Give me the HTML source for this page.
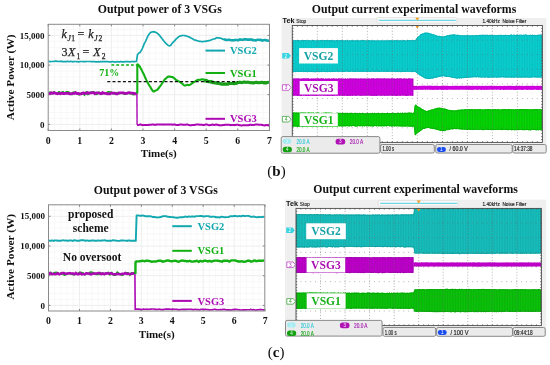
<!DOCTYPE html>
<html><head><meta charset="utf-8"><style>
html,body{margin:0;padding:0;background:#fff;}
svg{display:block;filter:blur(0.3px);}
</style></head><body>
<svg width="550" height="365" viewBox="0 0 550 365">
<rect width="550" height="365" fill="#fff"/>
<line x1="54.5" y1="24.3" x2="54.5" y2="130.5" stroke="#f6f6f6" stroke-width="0.8"/>
<line x1="60.8" y1="24.3" x2="60.8" y2="130.5" stroke="#f6f6f6" stroke-width="0.8"/>
<line x1="67.2" y1="24.3" x2="67.2" y2="130.5" stroke="#f6f6f6" stroke-width="0.8"/>
<line x1="73.5" y1="24.3" x2="73.5" y2="130.5" stroke="#f6f6f6" stroke-width="0.8"/>
<line x1="86.1" y1="24.3" x2="86.1" y2="130.5" stroke="#f6f6f6" stroke-width="0.8"/>
<line x1="92.4" y1="24.3" x2="92.4" y2="130.5" stroke="#f6f6f6" stroke-width="0.8"/>
<line x1="98.8" y1="24.3" x2="98.8" y2="130.5" stroke="#f6f6f6" stroke-width="0.8"/>
<line x1="105.1" y1="24.3" x2="105.1" y2="130.5" stroke="#f6f6f6" stroke-width="0.8"/>
<line x1="117.7" y1="24.3" x2="117.7" y2="130.5" stroke="#f6f6f6" stroke-width="0.8"/>
<line x1="124.0" y1="24.3" x2="124.0" y2="130.5" stroke="#f6f6f6" stroke-width="0.8"/>
<line x1="130.4" y1="24.3" x2="130.4" y2="130.5" stroke="#f6f6f6" stroke-width="0.8"/>
<line x1="136.7" y1="24.3" x2="136.7" y2="130.5" stroke="#f6f6f6" stroke-width="0.8"/>
<line x1="149.3" y1="24.3" x2="149.3" y2="130.5" stroke="#f6f6f6" stroke-width="0.8"/>
<line x1="155.6" y1="24.3" x2="155.6" y2="130.5" stroke="#f6f6f6" stroke-width="0.8"/>
<line x1="162.0" y1="24.3" x2="162.0" y2="130.5" stroke="#f6f6f6" stroke-width="0.8"/>
<line x1="168.3" y1="24.3" x2="168.3" y2="130.5" stroke="#f6f6f6" stroke-width="0.8"/>
<line x1="180.9" y1="24.3" x2="180.9" y2="130.5" stroke="#f6f6f6" stroke-width="0.8"/>
<line x1="187.2" y1="24.3" x2="187.2" y2="130.5" stroke="#f6f6f6" stroke-width="0.8"/>
<line x1="193.6" y1="24.3" x2="193.6" y2="130.5" stroke="#f6f6f6" stroke-width="0.8"/>
<line x1="199.9" y1="24.3" x2="199.9" y2="130.5" stroke="#f6f6f6" stroke-width="0.8"/>
<line x1="212.5" y1="24.3" x2="212.5" y2="130.5" stroke="#f6f6f6" stroke-width="0.8"/>
<line x1="218.8" y1="24.3" x2="218.8" y2="130.5" stroke="#f6f6f6" stroke-width="0.8"/>
<line x1="225.2" y1="24.3" x2="225.2" y2="130.5" stroke="#f6f6f6" stroke-width="0.8"/>
<line x1="231.5" y1="24.3" x2="231.5" y2="130.5" stroke="#f6f6f6" stroke-width="0.8"/>
<line x1="244.1" y1="24.3" x2="244.1" y2="130.5" stroke="#f6f6f6" stroke-width="0.8"/>
<line x1="250.4" y1="24.3" x2="250.4" y2="130.5" stroke="#f6f6f6" stroke-width="0.8"/>
<line x1="256.8" y1="24.3" x2="256.8" y2="130.5" stroke="#f6f6f6" stroke-width="0.8"/>
<line x1="263.1" y1="24.3" x2="263.1" y2="130.5" stroke="#f6f6f6" stroke-width="0.8"/>
<line x1="48.2" y1="130.3" x2="269.5" y2="130.3" stroke="#f6f6f6" stroke-width="0.8"/>
<line x1="48.2" y1="118.5" x2="269.5" y2="118.5" stroke="#f6f6f6" stroke-width="0.8"/>
<line x1="48.2" y1="112.5" x2="269.5" y2="112.5" stroke="#f6f6f6" stroke-width="0.8"/>
<line x1="48.2" y1="106.6" x2="269.5" y2="106.6" stroke="#f6f6f6" stroke-width="0.8"/>
<line x1="48.2" y1="100.7" x2="269.5" y2="100.7" stroke="#f6f6f6" stroke-width="0.8"/>
<line x1="48.2" y1="88.8" x2="269.5" y2="88.8" stroke="#f6f6f6" stroke-width="0.8"/>
<line x1="48.2" y1="82.9" x2="269.5" y2="82.9" stroke="#f6f6f6" stroke-width="0.8"/>
<line x1="48.2" y1="76.9" x2="269.5" y2="76.9" stroke="#f6f6f6" stroke-width="0.8"/>
<line x1="48.2" y1="71.0" x2="269.5" y2="71.0" stroke="#f6f6f6" stroke-width="0.8"/>
<line x1="48.2" y1="59.1" x2="269.5" y2="59.1" stroke="#f6f6f6" stroke-width="0.8"/>
<line x1="48.2" y1="53.2" x2="269.5" y2="53.2" stroke="#f6f6f6" stroke-width="0.8"/>
<line x1="48.2" y1="47.3" x2="269.5" y2="47.3" stroke="#f6f6f6" stroke-width="0.8"/>
<line x1="48.2" y1="41.3" x2="269.5" y2="41.3" stroke="#f6f6f6" stroke-width="0.8"/>
<line x1="48.2" y1="29.5" x2="269.5" y2="29.5" stroke="#f6f6f6" stroke-width="0.8"/>
<line x1="79.8" y1="24.3" x2="79.8" y2="130.5" stroke="#ececec" stroke-width="0.9"/>
<line x1="111.4" y1="24.3" x2="111.4" y2="130.5" stroke="#ececec" stroke-width="0.9"/>
<line x1="143.0" y1="24.3" x2="143.0" y2="130.5" stroke="#ececec" stroke-width="0.9"/>
<line x1="174.6" y1="24.3" x2="174.6" y2="130.5" stroke="#ececec" stroke-width="0.9"/>
<line x1="206.2" y1="24.3" x2="206.2" y2="130.5" stroke="#ececec" stroke-width="0.9"/>
<line x1="237.8" y1="24.3" x2="237.8" y2="130.5" stroke="#ececec" stroke-width="0.9"/>
<line x1="48.2" y1="124.4" x2="269.5" y2="124.4" stroke="#ececec" stroke-width="0.9"/>
<line x1="48.2" y1="94.7" x2="269.5" y2="94.7" stroke="#ececec" stroke-width="0.9"/>
<line x1="48.2" y1="65.1" x2="269.5" y2="65.1" stroke="#ececec" stroke-width="0.9"/>
<line x1="48.2" y1="35.4" x2="269.5" y2="35.4" stroke="#ececec" stroke-width="0.9"/>
<line x1="48.2" y1="130.5" x2="48.2" y2="128.5" stroke="#777" stroke-width="0.9"/>
<line x1="48.2" y1="24.3" x2="48.2" y2="26.3" stroke="#777" stroke-width="0.9"/>
<line x1="79.8" y1="130.5" x2="79.8" y2="128.5" stroke="#777" stroke-width="0.9"/>
<line x1="79.8" y1="24.3" x2="79.8" y2="26.3" stroke="#777" stroke-width="0.9"/>
<line x1="111.4" y1="130.5" x2="111.4" y2="128.5" stroke="#777" stroke-width="0.9"/>
<line x1="111.4" y1="24.3" x2="111.4" y2="26.3" stroke="#777" stroke-width="0.9"/>
<line x1="143.0" y1="130.5" x2="143.0" y2="128.5" stroke="#777" stroke-width="0.9"/>
<line x1="143.0" y1="24.3" x2="143.0" y2="26.3" stroke="#777" stroke-width="0.9"/>
<line x1="174.6" y1="130.5" x2="174.6" y2="128.5" stroke="#777" stroke-width="0.9"/>
<line x1="174.6" y1="24.3" x2="174.6" y2="26.3" stroke="#777" stroke-width="0.9"/>
<line x1="206.2" y1="130.5" x2="206.2" y2="128.5" stroke="#777" stroke-width="0.9"/>
<line x1="206.2" y1="24.3" x2="206.2" y2="26.3" stroke="#777" stroke-width="0.9"/>
<line x1="237.8" y1="130.5" x2="237.8" y2="128.5" stroke="#777" stroke-width="0.9"/>
<line x1="237.8" y1="24.3" x2="237.8" y2="26.3" stroke="#777" stroke-width="0.9"/>
<line x1="269.4" y1="130.5" x2="269.4" y2="128.5" stroke="#777" stroke-width="0.9"/>
<line x1="269.4" y1="24.3" x2="269.4" y2="26.3" stroke="#777" stroke-width="0.9"/>
<line x1="48.2" y1="124.4" x2="50.2" y2="124.4" stroke="#777" stroke-width="0.9"/>
<line x1="269.5" y1="124.4" x2="267.5" y2="124.4" stroke="#777" stroke-width="0.9"/>
<line x1="48.2" y1="94.7" x2="50.2" y2="94.7" stroke="#777" stroke-width="0.9"/>
<line x1="269.5" y1="94.7" x2="267.5" y2="94.7" stroke="#777" stroke-width="0.9"/>
<line x1="48.2" y1="65.1" x2="50.2" y2="65.1" stroke="#777" stroke-width="0.9"/>
<line x1="269.5" y1="65.1" x2="267.5" y2="65.1" stroke="#777" stroke-width="0.9"/>
<line x1="48.2" y1="35.4" x2="50.2" y2="35.4" stroke="#777" stroke-width="0.9"/>
<line x1="269.5" y1="35.4" x2="267.5" y2="35.4" stroke="#777" stroke-width="0.9"/>

<path d="M48.5,92.7L49.0,92.5L49.5,92.4L50.0,92.2L50.5,92.3L51.0,92.8L51.5,93.2L52.0,93.7L52.5,93.4L53.0,92.8L53.5,92.3L54.0,91.9L54.5,92.4L55.0,92.8L55.5,93.2L56.0,93.3L56.5,93.2L57.0,93.0L57.5,92.8L58.0,92.6L58.5,92.3L59.0,92.0L59.5,92.0L60.0,92.4L60.5,92.8L61.0,93.2L61.5,93.0L62.0,92.5L62.5,92.1L63.0,91.8L63.5,92.2L64.0,92.6L64.5,92.9L65.0,92.9L65.5,92.5L66.0,92.2L66.5,91.8L67.0,91.9L67.5,91.9L68.0,91.9L68.5,92.0L69.0,92.3L69.5,92.7L70.0,93.0L70.5,93.3L71.0,93.7L71.5,94.1L72.0,94.3L72.5,93.6L73.0,93.0L73.5,92.3L74.0,92.1L74.5,92.2L75.0,92.3L75.5,92.4L76.0,92.7L76.5,93.1L77.0,93.5L77.5,93.9L78.0,94.2L78.5,94.5L79.0,94.8L79.5,94.5L80.0,94.2L80.5,93.8L81.0,93.5L81.5,93.4L82.0,93.2L82.5,93.0L83.0,93.3L83.5,93.8L84.0,94.4L84.5,94.9L85.0,94.0L85.5,93.2L86.0,92.3L86.5,92.1L87.0,92.8L87.5,93.6L88.0,94.4L88.5,94.1L89.0,93.6L89.5,93.0L90.0,92.6L90.5,92.4L91.0,92.3L91.5,92.1L92.0,92.1L92.5,92.1L93.0,92.0L93.5,92.0L94.0,92.2L94.5,92.4L95.0,92.5L95.5,92.8L96.0,93.3L96.5,93.8L97.0,94.3L97.5,93.9L98.0,93.3L98.5,92.7L99.0,92.3L99.5,92.7L100.0,93.0L100.5,93.4L101.0,93.6L101.5,93.7L102.0,93.7L102.5,93.8L103.0,93.5L103.5,93.3L104.0,93.0L104.5,92.9L105.0,93.1L105.5,93.3L106.0,93.4L106.5,93.1L107.0,92.6L107.5,92.2L108.0,91.8L108.5,91.8L109.0,91.8L109.5,91.8L110.0,91.9L110.5,92.0L111.0,92.2L111.5,92.3L112.0,92.7L112.5,93.2L113.0,93.6L113.5,93.8L114.0,93.6L114.5,93.3L115.0,93.1L115.5,93.0L116.0,92.9L116.5,92.8L117.0,92.7L117.5,93.0L118.0,93.2L118.5,93.5L119.0,93.5L119.5,93.4L120.0,93.3L120.5,93.1L121.0,93.0L121.5,92.9L122.0,92.7L122.5,92.8L123.0,93.3L123.5,93.7L124.0,94.2L124.5,94.2L125.0,94.1L125.5,94.0L126.0,93.9L126.5,93.5L127.0,93.0L127.5,92.6L128.0,92.6L128.5,92.9L129.0,93.2L129.5,93.6L130.0,93.5L130.5,93.5L131.0,93.4L131.5,93.5L132.0,93.8L132.5,94.2L133.0,94.5L133.5,94.5L134.0,94.3L134.5,94.2L135.0,94.0L135.5,93.6L136.0,93.2L136.5,92.7L137.0,93.0" fill="none" stroke="#12b012" stroke-width="1.8"/>
<path d="M48.5,93.2L49.0,93.3L49.5,93.5L50.0,93.7L50.5,93.4L51.0,93.1L51.5,92.8L52.0,93.0L52.5,93.1L53.0,93.3L53.5,93.1L54.0,92.9L54.5,92.7L55.0,92.9L55.5,93.2L56.0,93.5L56.5,93.6L57.0,93.6L57.5,93.7L58.0,93.6L58.5,93.5L59.0,93.4L59.5,93.5L60.0,93.7L60.5,93.8L61.0,93.6L61.5,93.3L62.0,93.0L62.5,93.2L63.0,93.4L63.5,93.6L64.0,93.5L64.5,93.5L65.0,93.4L65.5,93.4L66.0,93.4L66.5,93.4L67.0,93.4L67.5,93.3L68.0,93.2L68.5,93.4L69.0,93.6L69.5,93.8L70.0,93.8L70.5,93.9L71.0,93.9L71.5,93.7L72.0,93.5L72.5,93.3L73.0,93.4L73.5,93.4L74.0,93.5L74.5,93.2L75.0,93.0L75.5,92.7L76.0,93.0L76.5,93.3L77.0,93.6L77.5,93.6L78.0,93.5L78.5,93.5L79.0,93.7L79.5,93.8L80.0,94.0L80.5,93.9L81.0,93.8L81.5,93.8L82.0,93.5L82.5,93.2L83.0,93.0L83.5,93.0L84.0,93.1L84.5,93.1L85.0,93.3L85.5,93.4L86.0,93.5L86.5,93.2L87.0,92.9L87.5,92.6L88.0,92.8L88.5,93.0L89.0,93.2L89.5,93.1L90.0,93.0L90.5,92.8L91.0,92.8L91.5,92.8L92.0,92.8L92.5,92.7L93.0,92.7L93.5,92.7L94.0,93.0L94.5,93.3L95.0,93.7L95.5,93.4L96.0,93.1L96.5,92.8L97.0,92.8L97.5,92.9L98.0,92.9L98.5,93.0L99.0,93.1L99.5,93.1L100.0,93.4L100.5,93.6L101.0,93.8L101.5,93.5L102.0,93.1L102.5,92.7L103.0,92.9L103.5,93.1L104.0,93.2L104.5,93.3L105.0,93.3L105.5,93.4L106.0,93.5L106.5,93.7L107.0,93.8L107.5,93.8L108.0,93.8L108.5,93.7L109.0,93.8L109.5,93.8L110.0,93.8L110.5,93.5L111.0,93.3L111.5,93.0L112.0,93.1L112.5,93.1L113.0,93.2L113.5,93.2L114.0,93.1L114.5,93.1L115.0,93.3L115.5,93.6L116.0,93.8L116.5,93.9L117.0,93.9L117.5,93.9L118.0,93.6L118.5,93.2L119.0,92.8L119.5,92.8L120.0,92.8L120.5,92.8L121.0,92.9L121.5,92.9L122.0,92.9L122.5,92.9L123.0,92.9L123.5,92.9L124.0,93.0L124.5,93.2L125.0,93.3L125.5,93.3L126.0,93.4L126.5,93.4L127.0,93.3L127.5,93.1L128.0,93.0L128.5,92.8L129.0,92.7L129.5,92.6L130.0,92.8L130.5,93.0L131.0,93.2L131.5,93.2L132.0,93.1L132.5,93.1L133.0,93.2L133.5,93.3L134.0,93.4L134.5,93.6L135.0,93.8L135.5,93.9L136.0,93.8L136.5,93.7" fill="none" stroke="#ac08b4" stroke-width="2.8"/>
<path d="M136.9,93 L137.1,124.8" fill="none" stroke="#ac08b4" stroke-width="1.4"/>
<path d="M137.0,124.9L137.5,124.9L138.0,124.9L138.5,125.0L139.0,124.9L139.5,124.7L140.0,124.6L140.5,124.4L141.0,124.6L141.5,124.8L142.0,125.0L142.5,125.2L143.0,125.1L143.5,125.1L144.0,125.1L144.5,125.1L145.0,125.1L145.5,125.1L146.0,125.1L146.5,125.1L147.0,125.1L147.5,125.1L148.0,125.0L148.5,124.9L149.0,124.8L149.5,124.7L150.0,124.7L150.5,124.7L151.0,124.7L151.5,124.7L152.0,124.6L152.5,124.6L153.0,124.5L153.5,124.5L154.0,124.7L154.5,124.8L155.0,124.9L155.5,124.8L156.0,124.7L156.5,124.5L157.0,124.4L157.5,124.4L158.0,124.4L158.5,124.4L159.0,124.5L159.5,124.5L160.0,124.5L160.5,124.6L161.0,124.6L161.5,124.5L162.0,124.5L162.5,124.6L163.0,124.6L163.5,124.6L164.0,124.7L164.5,124.6L165.0,124.5L165.5,124.5L166.0,124.4L166.5,124.4L167.0,124.4L167.5,124.4L168.0,124.4L168.5,124.5L169.0,124.5L169.5,124.5L170.0,124.5L170.5,124.5L171.0,124.5L171.5,124.5L172.0,124.6L172.5,124.7L173.0,124.7L173.5,124.6L174.0,124.6L174.5,124.5L175.0,124.5L175.5,124.7L176.0,124.9L176.5,125.1L177.0,125.1L177.5,125.1L178.0,125.0L178.5,124.9L179.0,124.8L179.5,124.7L180.0,124.6L180.5,124.6L181.0,124.6L181.5,124.6L182.0,124.6L182.5,124.7L183.0,124.7L183.5,124.7L184.0,124.7L184.5,124.7L185.0,124.7L185.5,124.7L186.0,124.7L186.5,124.6L187.0,124.6L187.5,124.6L188.0,124.7L188.5,124.9L189.0,125.1L189.5,125.2L190.0,125.2L190.5,125.3L191.0,125.3L191.5,125.2L192.0,125.1L192.5,124.9L193.0,124.9L193.5,124.9L194.0,124.9L194.5,124.9L195.0,124.8L195.5,124.7L196.0,124.6L196.5,124.5L197.0,124.5L197.5,124.5L198.0,124.5L198.5,124.6L199.0,124.6L199.5,124.7L200.0,124.8L200.5,124.7L201.0,124.7L201.5,124.7L202.0,124.7L202.5,124.9L203.0,125.0L203.5,125.2L204.0,125.1L204.5,124.9L205.0,124.7L205.5,124.6L206.0,124.6L206.5,124.5L207.0,124.5L207.5,124.6L208.0,124.9L208.5,125.1L209.0,125.3L209.5,125.2L210.0,125.1L210.5,125.0L211.0,124.9L211.5,124.8L212.0,124.7L212.5,124.6L213.0,124.7L213.5,124.8L214.0,124.9L214.5,124.9L215.0,124.8L215.5,124.7L216.0,124.5L216.5,124.6L217.0,124.7L217.5,124.8L218.0,125.0L218.5,125.1L219.0,125.2L219.5,125.3L220.0,125.4L220.5,125.3L221.0,125.3L221.5,125.3L222.0,125.2L222.5,125.2L223.0,125.1L223.5,125.1L224.0,125.0L224.5,124.9L225.0,124.8L225.5,124.7L226.0,124.8L226.5,124.8L227.0,124.8L227.5,124.8L228.0,124.7L228.5,124.7L229.0,124.7L229.5,124.9L230.0,125.0L230.5,125.2L231.0,125.1L231.5,125.1L232.0,125.0L232.5,125.0L233.0,125.1L233.5,125.1L234.0,125.2L234.5,125.1L235.0,125.0L235.5,124.9L236.0,124.8L236.5,124.8L237.0,124.8L237.5,124.7L238.0,124.8L238.5,124.9L239.0,125.1L239.5,125.2L240.0,125.3L240.5,125.3L241.0,125.4L241.5,125.4L242.0,125.4L242.5,125.3L243.0,125.3L243.5,125.3L244.0,125.3L244.5,125.3L245.0,125.2L245.5,125.3L246.0,125.3L246.5,125.3L247.0,125.3L247.5,125.2L248.0,125.2L248.5,125.2L249.0,125.1L249.5,125.0L250.0,124.8L250.5,124.7L251.0,124.8L251.5,124.9L252.0,125.0L252.5,125.0L253.0,124.9L253.5,124.9L254.0,124.9L254.5,124.8L255.0,124.7L255.5,124.6L256.0,124.6L256.5,124.6L257.0,124.6L257.5,124.6L258.0,124.6L258.5,124.7L259.0,124.7L259.5,124.8L260.0,124.8L260.5,124.8L261.0,124.8L261.5,124.8L262.0,125.0L262.5,125.1L263.0,125.2L263.5,125.2L264.0,125.3L264.5,125.4L265.0,125.4L265.5,125.2L266.0,125.1L266.5,125.0L267.0,125.0L267.5,125.2L268.0,125.3L268.5,125.4L269.0,125.4" fill="none" stroke="#ac08b4" stroke-width="2.0"/>
<line x1="111.4" y1="64.9" x2="137.2" y2="64.9" stroke="#12b012" stroke-width="1.5" stroke-dasharray="2.8,2.1"/>
<path d="M137.3,93.5 L137.3,64.6 L137.4,64.5L137.9,64.6L138.4,64.8L138.9,65.5L139.4,66.2L139.9,66.9L140.4,67.8L140.9,68.7L141.4,69.6L141.9,70.6L142.4,71.6L142.9,72.6L143.4,73.5L143.9,74.5L144.4,75.7L144.9,76.8L145.4,78.0L145.9,79.0L146.4,80.1L146.9,81.1L147.4,82.1L147.9,83.0L148.4,84.0L148.9,84.8L149.4,85.6L149.9,86.3L150.4,87.0L150.9,88.0L151.4,88.9L151.9,89.7L152.4,90.5L152.9,91.1L153.4,91.5L153.9,91.5L154.4,91.3L154.9,90.9L155.4,90.6L155.9,90.4L156.4,90.2L156.9,90.0L157.4,89.6L157.9,89.1L158.4,88.5L158.9,87.8L159.4,87.2L159.9,86.5L160.4,85.9L160.9,85.2L161.4,84.5L161.9,83.7L162.4,82.9L162.9,82.2L163.4,81.5L163.9,80.7L164.4,79.9L164.9,79.3L165.4,78.9L165.9,78.5L166.4,78.1L166.9,77.6L167.4,77.1L167.9,76.7L168.4,76.6L168.9,76.6L169.4,76.6L169.9,76.6L170.4,76.8L170.9,76.9L171.4,77.0L171.9,77.0L172.4,77.1L172.9,77.3L173.4,77.6L173.9,78.0L174.4,78.4L174.9,78.9L175.4,79.3L175.9,79.8L176.4,80.1L176.9,80.4L177.4,80.7L177.9,81.0L178.4,81.2L178.9,81.4L179.4,81.7L179.9,82.0L180.4,82.4L180.9,82.6L181.4,83.0L181.9,83.4L182.4,83.8L182.9,84.3L183.4,84.8L183.9,85.2L184.4,85.4L184.9,85.5L185.4,85.5L185.9,85.3L186.4,85.1L186.9,84.9L187.4,84.9L187.9,85.0L188.4,85.1L188.9,85.1L189.4,84.9L189.9,84.8L190.4,84.6L190.9,84.2L191.4,83.9L191.9,83.5L192.4,83.1L192.9,82.7L193.4,82.3L193.9,82.0L194.4,81.8L194.9,81.6L195.4,81.3L195.9,80.9L196.4,80.6L196.9,80.3L197.4,80.1L197.9,79.8L198.4,79.7L198.9,79.8L199.4,80.0L199.9,80.0L200.4,79.8L200.9,79.6L201.4,79.5L201.9,79.4L202.4,79.4L202.9,79.3L203.4,79.5L203.9,79.7L204.4,79.9L204.9,79.9L205.4,79.9L205.9,79.9L206.4,79.9L206.9,80.2L207.4,80.5L207.9,80.7L208.4,80.8L208.9,80.9L209.4,81.1L209.9,81.0L210.4,81.0L210.9,80.9L211.4,81.1L211.9,81.3L212.4,81.5L212.9,81.7L213.4,81.9L213.9,82.0L214.4,82.2L214.9,82.4L215.4,82.5L215.9,82.6L216.4,82.8L216.9,83.1L217.4,83.3L217.9,83.3L218.4,83.2L218.9,83.2L219.4,83.3L219.9,83.4L220.4,83.5L220.9,83.5L221.4,83.5L221.9,83.4L222.4,83.5L222.9,83.8L223.4,84.0L223.9,84.2L224.4,84.0L224.9,83.8L225.4,83.6L225.9,83.6L226.4,83.6L226.9,83.5L227.4,83.5L227.9,83.5L228.4,83.5L228.9,83.4L229.4,83.5L229.9,83.5L230.4,83.4L230.9,83.2L231.4,83.0L231.9,82.8L232.4,82.9L232.9,83.0L233.4,83.1L233.9,83.0L234.4,82.8L234.9,82.6L235.4,82.5L235.9,82.5L236.4,82.4L236.9,82.4L237.4,82.3L237.9,82.3L238.4,82.2L238.9,82.0L239.4,81.8L239.9,81.7L240.4,81.9L240.9,82.0L241.4,82.1L241.9,82.0L242.4,82.0L242.9,81.9L243.4,81.8L243.9,81.8L244.4,81.7L244.9,81.9L245.4,82.1L245.9,82.4L246.4,82.5L246.9,82.3L247.4,82.1L247.9,82.0L248.4,82.1L248.9,82.2L249.4,82.3L249.9,82.4L250.4,82.4L250.9,82.5L251.4,82.5L251.9,82.4L252.4,82.4L252.9,82.3L253.4,82.3L253.9,82.2L254.4,82.2L254.9,82.2L255.4,82.3L255.9,82.3L256.4,82.3L256.9,82.4L257.4,82.4L257.9,82.4L258.4,82.5L258.9,82.6L259.4,82.4L259.9,82.2L260.4,82.0L260.9,82.0L261.4,82.1L261.9,82.3L262.4,82.3L262.9,82.2L263.4,82.1L263.9,82.0L264.4,82.0L264.9,82.0L265.4,82.0L265.9,82.2L266.4,82.3L266.9,82.5L267.4,82.4L267.9,82.3L268.4,82.3L268.9,82.2" fill="none" stroke="#12b012" stroke-width="2.1"/>
<path d="M204.0,81.1L204.5,81.1L205.0,81.1L205.5,81.0L206.0,81.0L206.5,81.2L207.0,81.3L207.5,81.5L208.0,81.6L208.5,81.7L209.0,81.8L209.5,81.9L210.0,82.0L210.5,82.1L211.0,82.2L211.5,82.3L212.0,82.4L212.5,82.5L213.0,82.7L213.5,82.8L214.0,82.9L214.5,83.0L215.0,83.0L215.5,83.0L216.0,83.1L216.5,83.2L217.0,83.3L217.5,83.4L218.0,83.5L218.5,83.6L219.0,83.6L219.5,83.7L220.0,83.7L220.5,83.9L221.0,84.0L221.5,84.2L222.0,84.3L222.5,84.3L223.0,84.3L223.5,84.2L224.0,84.1L224.5,84.2L225.0,84.2L225.5,84.2L226.0,84.2L226.5,84.2L227.0,84.2L227.5,84.2L228.0,84.2L228.5,83.9L229.0,83.7L229.5,83.5L230.0,83.3L230.5,83.3L231.0,83.4L231.5,83.4L232.0,83.5L232.5,83.5L233.0,83.6L233.5,83.7L234.0,83.7L234.5,83.7L235.0,83.6L235.5,83.6L236.0,83.5L236.5,83.3L237.0,83.1L237.5,82.9L238.0,82.6L238.5,82.6L239.0,82.6L239.5,82.5L240.0,82.5L240.5,82.5L241.0,82.6L241.5,82.6L242.0,82.7L242.5,82.6L243.0,82.4L243.5,82.3L244.0,82.2L244.5,82.2L245.0,82.3L245.5,82.3L246.0,82.3L246.5,82.3L247.0,82.2L247.5,82.2L248.0,82.1L248.5,82.3L249.0,82.4L249.5,82.6L250.0,82.7L250.5,82.7L251.0,82.8L251.5,82.8L252.0,82.8L252.5,82.9L253.0,82.9L253.5,82.9L254.0,82.9L254.5,82.8L255.0,82.6L255.5,82.4L256.0,82.2L256.5,82.3L257.0,82.5L257.5,82.6L258.0,82.8L258.5,82.8L259.0,82.7L259.5,82.7L260.0,82.7L260.5,82.6L261.0,82.5L261.5,82.3L262.0,82.2L262.5,82.4L263.0,82.6L263.5,82.8L264.0,83.0L264.5,83.0L265.0,83.0L265.5,83.0L266.0,83.1L266.5,82.9L267.0,82.7L267.5,82.5L268.0,82.3L268.5,82.5L269.0,82.7" fill="none" stroke="#1a9e1a" stroke-width="3.0"/>
<line x1="107.3" y1="81.6" x2="238" y2="81.6" stroke="#111" stroke-width="1.4" stroke-dasharray="3,2.2"/>
<path d="M224.0,39.1L224.5,39.4L225.0,39.7L225.5,39.9L226.0,40.0L226.5,40.1L227.0,40.1L227.5,40.0L228.0,39.8L228.5,39.7L229.0,39.6L229.5,39.8L230.0,40.0L230.5,40.1L231.0,40.2L231.5,40.3L232.0,40.3L232.5,40.3L233.0,40.2L233.5,40.1L234.0,40.1L234.5,40.0L235.0,39.9L235.5,39.9L236.0,39.9L236.5,39.9L237.0,39.9L237.5,40.1L238.0,40.2L238.5,40.2L239.0,39.9L239.5,39.6L240.0,39.3L240.5,39.4L241.0,39.6L241.5,39.8L242.0,39.7L242.5,39.7L243.0,39.6L243.5,39.5L244.0,39.3L244.5,39.1L245.0,39.1L245.5,39.2L246.0,39.3L246.5,39.4L247.0,39.6L247.5,39.7L248.0,39.8L248.5,39.8L249.0,39.8L249.5,39.7L250.0,39.6L250.5,39.5L251.0,39.3L251.5,39.5L252.0,39.9L252.5,40.2L253.0,40.4L253.5,40.4L254.0,40.4L254.5,40.3L255.0,40.4L255.5,40.5L256.0,40.6L256.5,40.3L257.0,40.0L257.5,39.7L258.0,39.7L258.5,39.8L259.0,39.9L259.5,39.9L260.0,39.8L260.5,39.7L261.0,39.8L261.5,40.1L262.0,40.4L262.5,40.6L263.0,40.4L263.5,40.3L264.0,40.1L264.5,40.0L265.0,40.0L265.5,40.0L266.0,40.1L266.5,40.2L267.0,40.3L267.5,40.5L268.0,40.7L268.5,40.9L269.0,41.0" fill="none" stroke="#12a8b0" stroke-width="2.4"/>
<path d="M48.5,61.2L49.0,61.3L49.5,61.5L50.0,61.6L50.5,61.6L51.0,61.5L51.5,61.5L52.0,61.5L52.5,61.5L53.0,61.5L53.5,61.5L54.0,61.4L54.5,61.3L55.0,61.2L55.5,61.2L56.0,61.2L56.5,61.2L57.0,61.3L57.5,61.4L58.0,61.5L58.5,61.5L59.0,61.5L59.5,61.4L60.0,61.4L60.5,61.3L61.0,61.2L61.5,61.3L62.0,61.4L62.5,61.6L63.0,61.7L63.5,61.7L64.0,61.6L64.5,61.6L65.0,61.6L65.5,61.6L66.0,61.7L66.5,61.6L67.0,61.4L67.5,61.3L68.0,61.4L68.5,61.5L69.0,61.7L69.5,61.7L70.0,61.5L70.5,61.4L71.0,61.3L71.5,61.5L72.0,61.6L72.5,61.8L73.0,61.7L73.5,61.6L74.0,61.6L74.5,61.5L75.0,61.5L75.5,61.5L76.0,61.5L76.5,61.6L77.0,61.6L77.5,61.7L78.0,61.8L78.5,61.8L79.0,61.9L79.5,61.8L80.0,61.6L80.5,61.5L81.0,61.5L81.5,61.5L82.0,61.5L82.5,61.5L83.0,61.6L83.5,61.7L84.0,61.7L84.5,61.6L85.0,61.6L85.5,61.6L86.0,61.5L86.5,61.5L87.0,61.5L87.5,61.5L88.0,61.5L88.5,61.5L89.0,61.5L89.5,61.5L90.0,61.5L90.5,61.5L91.0,61.6L91.5,61.6L92.0,61.6L92.5,61.6L93.0,61.7L93.5,61.7L94.0,61.7L94.5,61.7L95.0,61.7L95.5,61.8L96.0,61.9L96.5,62.0L97.0,61.9L97.5,61.8L98.0,61.7L98.5,61.7L99.0,61.8L99.5,61.8L100.0,61.8L100.5,61.7L101.0,61.7L101.5,61.7L102.0,61.7L102.5,61.7L103.0,61.7L103.5,61.7L104.0,61.6L104.5,61.6L105.0,61.6L105.5,61.7L106.0,61.7L106.5,61.7L107.0,61.6L107.5,61.6L108.0,61.6L108.5,61.8L109.0,61.9L109.5,62.0L110.0,61.9L110.5,61.9L111.0,61.9L111.5,61.8L112.0,61.7L112.5,61.7L113.0,61.7L113.5,61.8L114.0,61.8L114.5,61.9L115.0,62.0L115.5,62.1L116.0,62.0L116.5,61.8L117.0,61.7L117.5,61.6L118.0,61.8L118.5,61.9L119.0,62.0L119.5,61.9L120.0,61.8L120.5,61.7L121.0,61.7L121.5,61.7L122.0,61.8L122.5,61.8L123.0,61.9L123.5,61.9L124.0,61.9L124.5,61.8L125.0,61.7L125.5,61.6L126.0,61.7L126.5,61.7L127.0,61.7L127.5,61.7L128.0,61.7L128.5,61.7L129.0,61.8L129.5,61.8L130.0,61.9L130.5,61.8L131.0,61.6L131.5,61.5L132.0,61.5L132.5,61.6L133.0,61.7L133.5,61.7L134.0,61.7L134.5,61.6L135.0,61.6L135.5,61.5L136.0,61.5L136.5,61.5L137.0,57.9L137.5,54.7L138.0,54.0L138.5,53.5L139.0,53.0L139.5,52.7L140.0,52.5L140.5,51.9L141.0,50.8L141.5,50.0L142.0,49.1L142.5,48.0L143.0,46.8L143.5,45.6L144.0,44.4L144.5,43.2L145.0,42.3L145.5,41.3L146.0,40.3L146.5,39.2L147.0,38.0L147.5,36.9L148.0,35.9L148.5,35.1L149.0,34.3L149.5,33.7L150.0,33.1L150.5,32.6L151.0,32.3L151.5,32.1L152.0,32.0L152.5,31.9L153.0,31.8L153.5,31.7L154.0,31.8L154.5,31.9L155.0,32.1L155.5,32.3L156.0,32.5L156.5,32.8L157.0,33.1L157.5,33.4L158.0,33.8L158.5,34.3L159.0,34.8L159.5,35.4L160.0,36.0L160.5,36.6L161.0,37.2L161.5,37.9L162.0,38.6L162.5,39.2L163.0,39.9L163.5,40.5L164.0,41.2L164.5,41.8L165.0,42.4L165.5,42.9L166.0,43.4L166.5,43.8L167.0,44.3L167.5,44.8L168.0,45.2L168.5,45.6L169.0,45.8L169.5,45.9L170.0,45.8L170.5,45.4L171.0,44.9L171.5,44.2L172.0,43.6L172.5,42.9L173.0,42.4L173.5,41.8L174.0,41.4L174.5,40.9L175.0,40.4L175.5,39.7L176.0,39.1L176.5,38.6L177.0,38.2L177.5,37.8L178.0,37.4L178.5,37.0L179.0,36.6L179.5,36.2L180.0,36.0L180.5,35.9L181.0,35.8L181.5,35.7L182.0,35.6L182.5,35.5L183.0,35.5L183.5,35.5L184.0,35.5L184.5,35.6L185.0,35.6L185.5,35.7L186.0,35.8L186.5,36.0L187.0,36.2L187.5,36.5L188.0,36.6L188.5,36.8L189.0,36.9L189.5,37.1L190.0,37.5L190.5,37.8L191.0,38.1L191.5,38.3L192.0,38.5L192.5,38.8L193.0,39.1L193.5,39.4L194.0,39.8L194.5,40.0L195.0,40.1L195.5,40.2L196.0,40.3L196.5,40.5L197.0,40.6L197.5,40.8L198.0,41.0L198.5,41.1L199.0,41.3L199.5,41.4L200.0,41.4L200.5,41.4L201.0,41.5L201.5,41.6L202.0,41.6L202.5,41.6L203.0,41.6L203.5,41.5L204.0,41.4L204.5,41.4L205.0,41.4L205.5,41.3L206.0,41.2L206.5,41.1L207.0,41.0L207.5,40.9L208.0,40.8L208.5,40.7L209.0,40.6L209.5,40.5L210.0,40.4L210.5,40.2L211.0,40.0L211.5,39.7L212.0,39.5L212.5,39.4L213.0,39.2L213.5,39.0L214.0,39.0L214.5,38.9L215.0,38.7L215.5,38.4L216.0,38.1L216.5,37.8L217.0,37.7L217.5,37.8L218.0,37.8L218.5,37.8L219.0,37.9L219.5,38.0L220.0,38.1L220.5,38.2L221.0,38.3L221.5,38.5L222.0,38.8L222.5,39.1L223.0,39.2L223.5,39.3L224.0,39.4L224.5,39.5L225.0,39.6L225.5,39.6L226.0,39.6L226.5,39.7L227.0,39.8L227.5,40.0L228.0,40.0L228.5,40.1L229.0,40.2L229.5,40.2L230.0,40.2L230.5,40.1L231.0,40.1L231.5,40.2L232.0,40.2L232.5,40.3L233.0,40.3L233.5,40.3L234.0,40.3L234.5,40.3L235.0,40.4L235.5,40.4L236.0,40.4L236.5,40.3L237.0,40.3L237.5,40.2L238.0,40.2L238.5,40.2L239.0,40.1L239.5,40.0L240.0,39.9L240.5,39.9L241.0,39.9L241.5,39.9L242.0,39.9L242.5,39.9L243.0,39.8L243.5,39.7L244.0,39.7L244.5,39.7L245.0,39.7L245.5,39.7L246.0,39.6L246.5,39.5L247.0,39.5L247.5,39.4L248.0,39.4L248.5,39.4L249.0,39.4L249.5,39.5L250.0,39.5L250.5,39.6L251.0,39.6L251.5,39.7L252.0,39.7L252.5,39.7L253.0,39.7L253.5,39.7L254.0,39.9L254.5,40.1L255.0,40.2L255.5,40.2L256.0,40.1L256.5,40.1L257.0,40.1L257.5,40.2L258.0,40.2L258.5,40.2L259.0,40.2L259.5,40.3L260.0,40.3L260.5,40.3L261.0,40.3L261.5,40.4L262.0,40.3L262.5,40.3L263.0,40.3L263.5,40.2L264.0,40.1L264.5,40.1L265.0,40.2L265.5,40.4L266.0,40.6L266.5,40.6L267.0,40.6L267.5,40.6L268.0,40.6L268.5,40.6L269.0,40.5" fill="none" stroke="#12a8b0" stroke-width="1.7"/>
<rect x="48.2" y="24.3" width="221.3" height="106.2" fill="none" stroke="#8a8a8a" stroke-width="1"/>
<line x1="205.5" y1="50.6" x2="225" y2="50.6" stroke="#12a8b0" stroke-width="2"/>
<text x="230" y="54.2" font-family="Liberation Serif, serif" font-weight="bold" font-size="10.5" fill="#12a8b0">VSG2</text>
<line x1="205.5" y1="73" x2="225" y2="73" stroke="#12b012" stroke-width="2"/>
<text x="230" y="76.6" font-family="Liberation Serif, serif" font-weight="bold" font-size="10.5" fill="#12b012">VSG1</text>
<line x1="205.5" y1="118.8" x2="225" y2="118.8" stroke="#ac08b4" stroke-width="2"/>
<text x="230" y="122.4" font-family="Liberation Serif, serif" font-weight="bold" font-size="10.5" fill="#ac08b4">VSG3</text>
<text x="48.2" y="143.8" font-family="Liberation Serif, serif" font-weight="bold" font-size="9.8" text-anchor="middle" fill="#111">0</text>
<text x="79.8" y="143.8" font-family="Liberation Serif, serif" font-weight="bold" font-size="9.8" text-anchor="middle" fill="#111">1</text>
<text x="111.4" y="143.8" font-family="Liberation Serif, serif" font-weight="bold" font-size="9.8" text-anchor="middle" fill="#111">2</text>
<text x="143.0" y="143.8" font-family="Liberation Serif, serif" font-weight="bold" font-size="9.8" text-anchor="middle" fill="#111">3</text>
<text x="174.6" y="143.8" font-family="Liberation Serif, serif" font-weight="bold" font-size="9.8" text-anchor="middle" fill="#111">4</text>
<text x="206.2" y="143.8" font-family="Liberation Serif, serif" font-weight="bold" font-size="9.8" text-anchor="middle" fill="#111">5</text>
<text x="237.8" y="143.8" font-family="Liberation Serif, serif" font-weight="bold" font-size="9.8" text-anchor="middle" fill="#111">6</text>
<text x="269.4" y="143.8" font-family="Liberation Serif, serif" font-weight="bold" font-size="9.8" text-anchor="middle" fill="#111">7</text>
<text x="44.6" y="127.5" font-family="Liberation Serif, serif" font-weight="bold" font-size="9" text-anchor="end" fill="#111">0</text>
<text x="44.6" y="97.8" font-family="Liberation Serif, serif" font-weight="bold" font-size="9" text-anchor="end" fill="#111">5000</text>
<text x="44.6" y="68.2" font-family="Liberation Serif, serif" font-weight="bold" font-size="9" text-anchor="end" fill="#111">10,000</text>
<text x="44.6" y="38.5" font-family="Liberation Serif, serif" font-weight="bold" font-size="9" text-anchor="end" fill="#111">15,000</text>
<text x="158.8" y="157.3" font-family="Liberation Serif, serif" font-weight="bold" font-size="11" text-anchor="middle" fill="#111">Time(s)</text>
<text transform="translate(14.4,77.4) rotate(-90) scale(1,0.9)" font-family="Liberation Serif, serif" font-weight="bold" font-size="11.3" text-anchor="middle" fill="#111">Active Power (W)</text>
<text x="159.8" y="12.8" font-family="Liberation Serif, serif" font-weight="bold" font-size="11.8" text-anchor="middle" fill="#111">Output power of 3 VSGs</text>
<text x="99.3" y="75.8" font-family="Liberation Serif, serif" font-weight="bold" font-size="10" fill="#12b012">71%</text>
<text x="61.5" y="37.9" font-family="Liberation Serif, serif" font-style="italic" font-size="12" fill="#1e1e1e" stroke="#1e1e1e" stroke-width="0.25">k</text>
<text x="67.5" y="40.8" font-family="Liberation Serif, serif" font-style="italic" font-size="7.5" fill="#1e1e1e" stroke="#1e1e1e" stroke-width="0.25">J</text><text x="71.3" y="40.8" font-family="Liberation Serif, serif" font-size="7.5" fill="#1e1e1e" stroke="#1e1e1e" stroke-width="0.25">1</text>
<text x="77.5" y="38.2" font-family="Liberation Serif, serif" font-size="12" fill="#1e1e1e" stroke="#1e1e1e" stroke-width="0.25">=</text>
<text x="88.3" y="37.9" font-family="Liberation Serif, serif" font-style="italic" font-size="12" fill="#1e1e1e" stroke="#1e1e1e" stroke-width="0.25">k</text>
<text x="94.3" y="40.8" font-family="Liberation Serif, serif" font-style="italic" font-size="7.5" fill="#1e1e1e" stroke="#1e1e1e" stroke-width="0.25">J</text><text x="98.6" y="40.8" font-family="Liberation Serif, serif" font-size="7.5" fill="#1e1e1e" stroke="#1e1e1e" stroke-width="0.25">2</text>
<text x="61.5" y="56.1" font-family="Liberation Serif, serif" font-size="12" fill="#1e1e1e" stroke="#1e1e1e" stroke-width="0.25">3</text>
<text x="67.9" y="56.1" font-family="Liberation Serif, serif" font-style="italic" font-size="12" fill="#1e1e1e" stroke="#1e1e1e" stroke-width="0.25">X</text>
<text x="76.6" y="59.4" font-family="Liberation Serif, serif" font-size="7.5" fill="#1e1e1e" stroke="#1e1e1e" stroke-width="0.25">1</text>
<text x="82.4" y="56.4" font-family="Liberation Serif, serif" font-size="12" fill="#1e1e1e" stroke="#1e1e1e" stroke-width="0.25">=</text>
<text x="93.3" y="56.1" font-family="Liberation Serif, serif" font-style="italic" font-size="12" fill="#1e1e1e" stroke="#1e1e1e" stroke-width="0.25">X</text>
<text x="101.8" y="59.4" font-family="Liberation Serif, serif" font-size="7.5" fill="#1e1e1e" stroke="#1e1e1e" stroke-width="0.25">2</text>
<line x1="54.7" y1="204.8" x2="54.7" y2="311" stroke="#f6f6f6" stroke-width="0.8"/>
<line x1="60.9" y1="204.8" x2="60.9" y2="311" stroke="#f6f6f6" stroke-width="0.8"/>
<line x1="67.1" y1="204.8" x2="67.1" y2="311" stroke="#f6f6f6" stroke-width="0.8"/>
<line x1="73.3" y1="204.8" x2="73.3" y2="311" stroke="#f6f6f6" stroke-width="0.8"/>
<line x1="85.6" y1="204.8" x2="85.6" y2="311" stroke="#f6f6f6" stroke-width="0.8"/>
<line x1="91.8" y1="204.8" x2="91.8" y2="311" stroke="#f6f6f6" stroke-width="0.8"/>
<line x1="98.0" y1="204.8" x2="98.0" y2="311" stroke="#f6f6f6" stroke-width="0.8"/>
<line x1="104.2" y1="204.8" x2="104.2" y2="311" stroke="#f6f6f6" stroke-width="0.8"/>
<line x1="116.6" y1="204.8" x2="116.6" y2="311" stroke="#f6f6f6" stroke-width="0.8"/>
<line x1="122.8" y1="204.8" x2="122.8" y2="311" stroke="#f6f6f6" stroke-width="0.8"/>
<line x1="129.0" y1="204.8" x2="129.0" y2="311" stroke="#f6f6f6" stroke-width="0.8"/>
<line x1="135.2" y1="204.8" x2="135.2" y2="311" stroke="#f6f6f6" stroke-width="0.8"/>
<line x1="147.5" y1="204.8" x2="147.5" y2="311" stroke="#f6f6f6" stroke-width="0.8"/>
<line x1="153.7" y1="204.8" x2="153.7" y2="311" stroke="#f6f6f6" stroke-width="0.8"/>
<line x1="159.9" y1="204.8" x2="159.9" y2="311" stroke="#f6f6f6" stroke-width="0.8"/>
<line x1="166.1" y1="204.8" x2="166.1" y2="311" stroke="#f6f6f6" stroke-width="0.8"/>
<line x1="178.5" y1="204.8" x2="178.5" y2="311" stroke="#f6f6f6" stroke-width="0.8"/>
<line x1="184.7" y1="204.8" x2="184.7" y2="311" stroke="#f6f6f6" stroke-width="0.8"/>
<line x1="190.9" y1="204.8" x2="190.9" y2="311" stroke="#f6f6f6" stroke-width="0.8"/>
<line x1="197.1" y1="204.8" x2="197.1" y2="311" stroke="#f6f6f6" stroke-width="0.8"/>
<line x1="209.4" y1="204.8" x2="209.4" y2="311" stroke="#f6f6f6" stroke-width="0.8"/>
<line x1="215.6" y1="204.8" x2="215.6" y2="311" stroke="#f6f6f6" stroke-width="0.8"/>
<line x1="221.8" y1="204.8" x2="221.8" y2="311" stroke="#f6f6f6" stroke-width="0.8"/>
<line x1="228.0" y1="204.8" x2="228.0" y2="311" stroke="#f6f6f6" stroke-width="0.8"/>
<line x1="240.4" y1="204.8" x2="240.4" y2="311" stroke="#f6f6f6" stroke-width="0.8"/>
<line x1="246.6" y1="204.8" x2="246.6" y2="311" stroke="#f6f6f6" stroke-width="0.8"/>
<line x1="252.8" y1="204.8" x2="252.8" y2="311" stroke="#f6f6f6" stroke-width="0.8"/>
<line x1="259.0" y1="204.8" x2="259.0" y2="311" stroke="#f6f6f6" stroke-width="0.8"/>
<line x1="48.5" y1="299.5" x2="264.8" y2="299.5" stroke="#f6f6f6" stroke-width="0.8"/>
<line x1="48.5" y1="293.5" x2="264.8" y2="293.5" stroke="#f6f6f6" stroke-width="0.8"/>
<line x1="48.5" y1="287.6" x2="264.8" y2="287.6" stroke="#f6f6f6" stroke-width="0.8"/>
<line x1="48.5" y1="281.6" x2="264.8" y2="281.6" stroke="#f6f6f6" stroke-width="0.8"/>
<line x1="48.5" y1="269.8" x2="264.8" y2="269.8" stroke="#f6f6f6" stroke-width="0.8"/>
<line x1="48.5" y1="263.8" x2="264.8" y2="263.8" stroke="#f6f6f6" stroke-width="0.8"/>
<line x1="48.5" y1="257.9" x2="264.8" y2="257.9" stroke="#f6f6f6" stroke-width="0.8"/>
<line x1="48.5" y1="251.9" x2="264.8" y2="251.9" stroke="#f6f6f6" stroke-width="0.8"/>
<line x1="48.5" y1="240.1" x2="264.8" y2="240.1" stroke="#f6f6f6" stroke-width="0.8"/>
<line x1="48.5" y1="234.1" x2="264.8" y2="234.1" stroke="#f6f6f6" stroke-width="0.8"/>
<line x1="48.5" y1="228.2" x2="264.8" y2="228.2" stroke="#f6f6f6" stroke-width="0.8"/>
<line x1="48.5" y1="222.2" x2="264.8" y2="222.2" stroke="#f6f6f6" stroke-width="0.8"/>
<line x1="48.5" y1="210.4" x2="264.8" y2="210.4" stroke="#f6f6f6" stroke-width="0.8"/>
<line x1="79.5" y1="204.8" x2="79.5" y2="311" stroke="#ececec" stroke-width="0.9"/>
<line x1="110.4" y1="204.8" x2="110.4" y2="311" stroke="#ececec" stroke-width="0.9"/>
<line x1="141.3" y1="204.8" x2="141.3" y2="311" stroke="#ececec" stroke-width="0.9"/>
<line x1="172.3" y1="204.8" x2="172.3" y2="311" stroke="#ececec" stroke-width="0.9"/>
<line x1="203.2" y1="204.8" x2="203.2" y2="311" stroke="#ececec" stroke-width="0.9"/>
<line x1="234.2" y1="204.8" x2="234.2" y2="311" stroke="#ececec" stroke-width="0.9"/>
<line x1="48.5" y1="305.4" x2="264.8" y2="305.4" stroke="#ececec" stroke-width="0.9"/>
<line x1="48.5" y1="275.7" x2="264.8" y2="275.7" stroke="#ececec" stroke-width="0.9"/>
<line x1="48.5" y1="246.0" x2="264.8" y2="246.0" stroke="#ececec" stroke-width="0.9"/>
<line x1="48.5" y1="216.3" x2="264.8" y2="216.3" stroke="#ececec" stroke-width="0.9"/>
<line x1="48.5" y1="311" x2="48.5" y2="309" stroke="#777" stroke-width="0.9"/>
<line x1="48.5" y1="204.8" x2="48.5" y2="206.8" stroke="#777" stroke-width="0.9"/>
<line x1="79.5" y1="311" x2="79.5" y2="309" stroke="#777" stroke-width="0.9"/>
<line x1="79.5" y1="204.8" x2="79.5" y2="206.8" stroke="#777" stroke-width="0.9"/>
<line x1="110.4" y1="311" x2="110.4" y2="309" stroke="#777" stroke-width="0.9"/>
<line x1="110.4" y1="204.8" x2="110.4" y2="206.8" stroke="#777" stroke-width="0.9"/>
<line x1="141.3" y1="311" x2="141.3" y2="309" stroke="#777" stroke-width="0.9"/>
<line x1="141.3" y1="204.8" x2="141.3" y2="206.8" stroke="#777" stroke-width="0.9"/>
<line x1="172.3" y1="311" x2="172.3" y2="309" stroke="#777" stroke-width="0.9"/>
<line x1="172.3" y1="204.8" x2="172.3" y2="206.8" stroke="#777" stroke-width="0.9"/>
<line x1="203.2" y1="311" x2="203.2" y2="309" stroke="#777" stroke-width="0.9"/>
<line x1="203.2" y1="204.8" x2="203.2" y2="206.8" stroke="#777" stroke-width="0.9"/>
<line x1="234.2" y1="311" x2="234.2" y2="309" stroke="#777" stroke-width="0.9"/>
<line x1="234.2" y1="204.8" x2="234.2" y2="206.8" stroke="#777" stroke-width="0.9"/>
<line x1="265.1" y1="311" x2="265.1" y2="309" stroke="#777" stroke-width="0.9"/>
<line x1="265.1" y1="204.8" x2="265.1" y2="206.8" stroke="#777" stroke-width="0.9"/>
<line x1="48.5" y1="305.4" x2="50.5" y2="305.4" stroke="#777" stroke-width="0.9"/>
<line x1="264.8" y1="305.4" x2="262.8" y2="305.4" stroke="#777" stroke-width="0.9"/>
<line x1="48.5" y1="275.7" x2="50.5" y2="275.7" stroke="#777" stroke-width="0.9"/>
<line x1="264.8" y1="275.7" x2="262.8" y2="275.7" stroke="#777" stroke-width="0.9"/>
<line x1="48.5" y1="246.0" x2="50.5" y2="246.0" stroke="#777" stroke-width="0.9"/>
<line x1="264.8" y1="246.0" x2="262.8" y2="246.0" stroke="#777" stroke-width="0.9"/>
<line x1="48.5" y1="216.3" x2="50.5" y2="216.3" stroke="#777" stroke-width="0.9"/>
<line x1="264.8" y1="216.3" x2="262.8" y2="216.3" stroke="#777" stroke-width="0.9"/>

<path d="M48.8,274.2L49.3,273.7L49.8,273.2L50.3,272.6L50.8,272.5L51.3,273.1L51.8,273.7L52.3,274.3L52.8,274.1L53.3,273.7L53.8,273.3L54.3,272.9L54.8,272.7L55.3,272.6L55.8,272.4L56.3,272.4L56.8,272.6L57.3,272.8L57.8,272.9L58.3,273.4L58.8,273.8L59.3,274.2L59.8,274.2L60.3,273.8L60.8,273.3L61.3,272.8L61.8,273.1L62.3,273.6L62.8,274.1L63.3,274.5L63.8,274.7L64.3,274.9L64.8,275.1L65.3,275.0L65.8,274.5L66.3,274.1L66.8,273.7L67.3,273.6L67.8,273.5L68.3,273.4L68.8,273.4L69.3,273.4L69.8,273.5L70.3,273.6L70.8,273.8L71.3,274.0L71.8,274.1L72.3,274.3L72.8,274.4L73.3,274.5L73.8,274.5L74.3,274.5L74.8,274.3L75.3,274.2L75.8,274.1L76.3,274.1L76.8,274.1L77.3,274.1L77.8,274.0L78.3,273.5L78.8,273.0L79.3,272.4L79.8,272.4L80.3,272.5L80.8,272.5L81.3,272.6L81.8,272.7L82.3,272.8L82.8,272.9L83.3,273.2L83.8,273.6L84.3,274.0L84.8,274.5L85.3,274.1L85.8,273.7L86.3,273.3L86.8,273.2L87.3,273.4L87.8,273.6L88.3,273.9L88.8,273.5L89.3,273.0L89.8,272.5L90.3,272.1L90.8,272.2L91.3,272.2L91.8,272.3L92.3,272.4L92.8,272.6L93.3,272.8L93.8,273.0L94.3,273.3L94.8,273.7L95.3,274.0L95.8,274.3L96.3,274.3L96.8,274.3L97.3,274.3L97.8,274.3L98.3,274.3L98.8,274.3L99.3,274.2L99.8,273.9L100.3,273.5L100.8,273.2L101.3,273.2L101.8,273.4L102.3,273.6L102.8,273.8L103.3,273.7L103.8,273.7L104.3,273.6L104.8,273.6L105.3,273.6L105.8,273.6L106.3,273.6L106.8,273.3L107.3,273.0L107.8,272.7L108.3,272.6L108.8,273.3L109.3,274.0L109.8,274.7L110.3,274.6L110.8,274.0L111.3,273.4L111.8,272.7L112.3,273.4L112.8,274.1L113.3,274.8L113.8,275.2L114.3,275.2L114.8,275.1L115.3,275.1L115.8,274.4L116.3,273.6L116.8,272.8L117.3,272.2L117.8,272.6L118.3,273.0L118.8,273.4L119.3,273.8L119.8,274.1L120.3,274.4L120.8,274.7L121.3,274.9L121.8,275.0L122.3,275.1L122.8,275.0L123.3,274.6L123.8,274.1L124.3,273.6L124.8,273.4L125.3,273.2L125.8,273.1L126.3,272.9L126.8,272.9L127.3,272.8L127.8,272.8L128.3,273.2L128.8,273.8L129.3,274.5L129.8,275.1L130.3,274.5L130.8,273.8L131.3,273.2L131.8,272.9L132.3,273.2L132.8,273.6L133.3,273.9L133.8,273.6L134.3,273.3L134.8,272.9" fill="none" stroke="#12b012" stroke-width="1.8"/>
<path d="M48.8,274.3L49.3,274.0L49.8,273.6L50.3,273.2L50.8,273.5L51.3,273.8L51.8,274.1L52.3,274.0L52.8,273.9L53.3,273.7L53.8,273.9L54.3,274.1L54.8,274.2L55.3,274.2L55.8,274.1L56.3,274.0L56.8,273.8L57.3,273.5L57.8,273.3L58.3,273.6L58.8,273.9L59.3,274.3L59.8,274.1L60.3,273.9L60.8,273.7L61.3,273.5L61.8,273.3L62.3,273.0L62.8,273.0L63.3,273.0L63.8,273.0L64.3,273.2L64.8,273.5L65.3,273.7L65.8,273.7L66.3,273.7L66.8,273.6L67.3,273.6L67.8,273.5L68.3,273.4L68.8,273.3L69.3,273.3L69.8,273.2L70.3,273.3L70.8,273.4L71.3,273.5L71.8,273.5L72.3,273.5L72.8,273.4L73.3,273.7L73.8,273.9L74.3,274.2L74.8,273.8L75.3,273.4L75.8,273.0L76.3,273.4L76.8,273.7L77.3,274.1L77.8,274.1L78.3,274.1L78.8,274.2L79.3,273.8L79.8,273.5L80.3,273.2L80.8,273.5L81.3,273.9L81.8,274.3L82.3,274.2L82.8,274.1L83.3,274.0L83.8,274.1L84.3,274.2L84.8,274.3L85.3,274.0L85.8,273.7L86.3,273.4L86.8,273.4L87.3,273.5L87.8,273.5L88.3,273.5L88.8,273.5L89.3,273.6L89.8,273.8L90.3,274.1L90.8,274.4L91.3,274.2L91.8,274.0L92.3,273.8L92.8,273.7L93.3,273.6L93.8,273.5L94.3,273.5L94.8,273.6L95.3,273.6L95.8,273.5L96.3,273.5L96.8,273.4L97.3,273.3L97.8,273.2L98.3,273.1L98.8,273.1L99.3,273.1L99.8,273.1L100.3,273.5L100.8,273.8L101.3,274.2L101.8,273.9L102.3,273.7L102.8,273.4L103.3,273.7L103.8,274.0L104.3,274.3L104.8,274.0L105.3,273.7L105.8,273.3L106.3,273.4L106.8,273.4L107.3,273.4L107.8,273.5L108.3,273.6L108.8,273.7L109.3,273.6L109.8,273.4L110.3,273.3L110.8,273.4L111.3,273.4L111.8,273.5L112.3,273.8L112.8,274.1L113.3,274.3L113.8,274.3L114.3,274.3L114.8,274.2L115.3,274.2L115.8,274.2L116.3,274.1L116.8,274.1L117.3,274.0L117.8,273.9L118.3,274.0L118.8,274.1L119.3,274.3L119.8,274.3L120.3,274.3L120.8,274.3L121.3,274.1L121.8,274.0L122.3,273.8L122.8,273.8L123.3,273.9L123.8,274.0L124.3,273.7L124.8,273.4L125.3,273.1L125.8,273.4L126.3,273.7L126.8,274.0L127.3,273.9L127.8,273.8L128.3,273.6L128.8,273.8L129.3,273.9L129.8,274.1L130.3,274.0L130.8,274.0L131.3,273.9L131.8,273.7L132.3,273.6L132.8,273.4L133.3,273.3L133.8,273.2L134.3,273.1L134.8,273.5" fill="none" stroke="#ac08b4" stroke-width="2.6"/>
<path d="M134.9,273.5 L135.2,309.2 L135.5,309.2L136.1,309.1L136.7,309.1L137.3,309.1L137.9,309.1L138.5,309.1L139.1,309.1L139.7,309.3L140.3,309.4L140.9,309.4L141.5,309.5L142.1,309.5L142.7,309.3L143.3,309.1L143.9,309.1L144.5,309.2L145.1,309.3L145.7,309.2L146.3,309.2L146.9,309.1L147.5,309.2L148.1,309.3L148.7,309.3L149.3,309.2L149.9,309.2L150.5,309.1L151.1,309.1L151.7,309.0L152.3,309.0L152.9,309.0L153.5,309.0L154.1,309.0L154.7,309.1L155.3,309.2L155.9,309.4L156.5,309.5L157.1,309.4L157.7,309.3L158.3,309.2L158.9,309.2L159.5,309.1L160.1,309.3L160.7,309.5L161.3,309.6L161.9,309.6L162.5,309.6L163.1,309.6L163.7,309.4L164.3,309.3L164.9,309.2L165.5,309.1L166.1,309.1L166.7,309.1L167.3,309.1L167.9,309.1L168.5,309.1L169.1,309.1L169.7,309.1L170.3,309.2L170.9,309.2L171.5,309.2L172.1,309.1L172.7,309.1L173.3,309.1L173.9,309.2L174.5,309.2L175.1,309.2L175.7,309.2L176.3,309.3L176.9,309.4L177.5,309.5L178.1,309.6L178.7,309.7L179.3,309.6L179.9,309.6L180.5,309.5L181.1,309.5L181.7,309.4L182.3,309.3L182.9,309.4L183.5,309.4L184.1,309.4L184.7,309.4L185.3,309.4L185.9,309.4L186.5,309.4L187.1,309.3L187.7,309.3L188.3,309.3L188.9,309.3L189.5,309.2L190.1,309.2L190.7,309.2L191.3,309.3L191.9,309.4L192.5,309.6L193.1,309.8L193.7,309.6L194.3,309.4L194.9,309.2L195.5,309.3L196.1,309.5L196.7,309.5L197.3,309.5L197.9,309.6L198.5,309.6L199.1,309.7L199.7,309.7L200.3,309.5L200.9,309.4L201.5,309.3L202.1,309.3L202.7,309.4L203.3,309.3L203.9,309.3L204.5,309.4L205.1,309.4L205.7,309.4L206.3,309.5L206.9,309.5L207.5,309.5L208.1,309.6L208.7,309.8L209.3,309.9L209.9,309.8L210.5,309.8L211.1,309.8L211.7,309.8L212.3,309.8L212.9,309.6L213.5,309.4L214.1,309.2L214.7,309.2L215.3,309.2L215.9,309.4L216.5,309.6L217.1,309.7L217.7,309.8L218.3,309.8L218.9,309.8L219.5,309.7L220.1,309.6L220.7,309.6L221.3,309.6L221.9,309.7L222.5,309.5L223.1,309.4L223.7,309.3L224.3,309.4L224.9,309.5L225.5,309.6L226.1,309.8L226.7,309.9L227.3,309.9L227.9,309.9L228.5,309.9L229.1,309.9L229.7,309.9L230.3,309.9L230.9,310.0L231.5,310.0L232.1,309.8L232.7,309.6L233.3,309.5L233.9,309.5L234.5,309.4L235.1,309.4L235.7,309.4L236.3,309.4L236.9,309.5L237.5,309.6L238.1,309.7L238.7,309.8L239.3,309.8L239.9,309.9L240.5,310.0L241.1,310.0L241.7,310.0L242.3,309.9L242.9,309.9L243.5,309.9L244.1,309.8L244.7,309.9L245.3,309.9L245.9,309.9L246.5,309.8L247.1,309.8L247.7,309.7L248.3,309.7L248.9,309.8L249.5,309.7L250.1,309.6L250.7,309.4L251.3,309.6L251.9,309.8L252.5,309.9L253.1,309.8L253.7,309.6L254.3,309.7L254.9,309.9L255.5,310.1L256.1,310.0L256.7,309.9L257.3,309.9L257.9,309.8L258.5,309.7L259.1,309.6L259.7,309.6L260.3,309.5L260.9,309.6L261.5,309.6L262.1,309.7L262.7,309.8L263.3,309.9L263.9,309.9L264.5,309.9" fill="none" stroke="#ac08b4" stroke-width="1.6"/>
<path d="M135.4,274 L135.5,263.5 L135.7,261.9L136.2,261.7L136.7,261.4L137.2,261.4L137.7,261.4L138.2,261.4L138.7,261.4L139.2,261.4L139.7,261.3L140.2,261.2L140.7,261.1L141.2,261.0L141.7,261.0L142.2,260.9L142.7,260.8L143.2,260.9L143.7,261.0L144.2,261.2L144.7,261.3L145.2,261.1L145.7,260.9L146.2,260.7L146.7,260.6L147.2,260.7L147.7,260.8L148.2,260.9L148.7,261.0L149.2,261.0L149.7,261.1L150.2,261.2L150.7,261.4L151.2,261.6L151.7,261.7L152.2,261.7L152.7,261.6L153.2,261.5L153.7,261.4L154.2,261.4L154.7,261.5L155.2,261.6L155.7,261.6L156.2,261.4L156.7,261.3L157.2,261.1L157.7,261.0L158.2,260.9L158.7,260.8L159.2,260.7L159.7,260.7L160.2,260.7L160.7,260.7L161.2,260.8L161.7,261.1L162.2,261.4L162.7,261.7L163.2,261.6L163.7,261.4L164.2,261.3L164.7,261.2L165.2,261.1L165.7,260.9L166.2,260.8L166.7,260.6L167.2,260.5L167.7,260.4L168.2,260.4L168.7,260.6L169.2,260.8L169.7,260.9L170.2,261.1L170.7,261.1L171.2,261.2L171.7,261.3L172.2,261.2L172.7,261.1L173.2,261.0L173.7,260.9L174.2,260.9L174.7,260.8L175.2,260.7L175.7,260.9L176.2,261.0L176.7,261.2L177.2,261.4L177.7,261.5L178.2,261.6L178.7,261.7L179.2,261.6L179.7,261.3L180.2,261.0L180.7,260.8L181.2,260.7L181.7,260.6L182.2,260.5L182.7,260.6L183.2,260.7L183.7,260.8L184.2,260.9L184.7,261.0L185.2,261.0L185.7,261.0L186.2,261.1L186.7,261.2L187.2,261.3L187.7,261.4L188.2,261.3L188.7,261.2L189.2,261.0L189.7,260.8L190.2,261.0L190.7,261.2L191.2,261.5L191.7,261.6L192.2,261.6L192.7,261.6L193.2,261.5L193.7,261.5L194.2,261.4L194.7,261.3L195.2,261.2L195.7,261.1L196.2,260.9L196.7,260.8L197.2,260.9L197.7,261.2L198.2,261.5L198.7,261.8L199.2,261.6L199.7,261.3L200.2,261.0L200.7,261.0L201.2,261.2L201.7,261.4L202.2,261.5L202.7,261.4L203.2,261.2L203.7,260.9L204.2,260.7L204.7,260.7L205.2,260.7L205.7,260.7L206.2,260.8L206.7,261.0L207.2,261.2L207.7,261.5L208.2,261.3L208.7,261.1L209.2,260.9L209.7,260.9L210.2,261.1L210.7,261.4L211.2,261.6L211.7,261.5L212.2,261.4L212.7,261.2L213.2,261.0L213.7,260.9L214.2,260.8L214.7,260.6L215.2,260.6L215.7,260.6L216.2,260.6L216.7,260.6L217.2,260.7L217.7,260.8L218.2,260.8L218.7,260.9L219.2,261.0L219.7,261.1L220.2,261.2L220.7,261.3L221.2,261.4L221.7,261.5L222.2,261.6L222.7,261.2L223.2,260.9L223.7,260.6L224.2,260.6L224.7,260.7L225.2,260.7L225.7,260.8L226.2,260.8L226.7,260.7L227.2,260.6L227.7,260.7L228.2,261.0L228.7,261.3L229.2,261.6L229.7,261.4L230.2,261.1L230.7,260.7L231.2,260.5L231.7,260.4L232.2,260.4L232.7,260.4L233.2,260.4L233.7,260.4L234.2,260.4L234.7,260.4L235.2,260.5L235.7,260.6L236.2,260.8L236.7,260.9L237.2,261.1L237.7,261.3L238.2,261.5L238.7,261.5L239.2,261.5L239.7,261.5L240.2,261.5L240.7,261.5L241.2,261.4L241.7,261.3L242.2,261.4L242.7,261.5L243.2,261.6L243.7,261.7L244.2,261.7L244.7,261.6L245.2,261.6L245.7,261.5L246.2,261.3L246.7,261.0L247.2,260.8L247.7,260.7L248.2,260.7L248.7,260.6L249.2,260.6L249.7,260.9L250.2,261.2L250.7,261.5L251.2,261.6L251.7,261.5L252.2,261.4L252.7,261.3L253.2,261.1L253.7,260.8L254.2,260.5L254.7,260.4L255.2,260.7L255.7,260.9L256.2,261.2L256.7,261.1L257.2,261.0L257.7,260.9L258.2,260.8L258.7,260.8L259.2,260.8L259.7,260.8L260.2,260.8L260.7,260.8L261.2,260.8L261.7,260.8L262.2,260.7L262.7,260.6L263.2,260.6L263.7,260.5L264.2,260.4" fill="none" stroke="#12b012" stroke-width="2.4"/>
<path d="M48.8,240.5L49.3,240.6L49.8,240.8L50.3,240.9L50.8,240.8L51.3,240.6L51.8,240.4L52.3,240.4L52.8,240.6L53.3,240.8L53.8,240.9L54.3,240.7L54.8,240.5L55.3,240.4L55.8,240.4L56.3,240.5L56.8,240.5L57.3,240.6L57.8,240.7L58.3,240.8L58.8,240.8L59.3,240.8L59.8,240.8L60.3,240.8L60.8,240.7L61.3,240.6L61.8,240.5L62.3,240.4L62.8,240.4L63.3,240.3L63.8,240.4L64.3,240.5L64.8,240.6L65.3,240.6L65.8,240.5L66.3,240.5L66.8,240.6L67.3,240.7L67.8,240.8L68.3,240.8L68.8,240.6L69.3,240.5L69.8,240.4L70.3,240.4L70.8,240.5L71.3,240.5L71.8,240.6L72.3,240.8L72.8,240.9L73.3,240.7L73.8,240.5L74.3,240.3L74.8,240.3L75.3,240.4L75.8,240.5L76.3,240.6L76.8,240.7L77.3,240.8L77.8,240.8L78.3,240.8L78.8,240.8L79.3,240.8L79.8,240.6L80.3,240.4L80.8,240.3L81.3,240.3L81.8,240.3L82.3,240.3L82.8,240.3L83.3,240.3L83.8,240.3L84.3,240.4L84.8,240.6L85.3,240.8L85.8,240.8L86.3,240.7L86.8,240.5L87.3,240.5L87.8,240.6L88.3,240.7L88.8,240.8L89.3,240.8L89.8,240.8L90.3,240.9L90.8,240.8L91.3,240.7L91.8,240.5L92.3,240.5L92.8,240.5L93.3,240.4L93.8,240.5L94.3,240.7L94.8,240.8L95.3,240.9L95.8,240.8L96.3,240.8L96.8,240.7L97.3,240.6L97.8,240.5L98.3,240.4L98.8,240.5L99.3,240.6L99.8,240.7L100.3,240.7L100.8,240.6L101.3,240.5L101.8,240.5L102.3,240.5L102.8,240.5L103.3,240.4L103.8,240.4L104.3,240.3L104.8,240.3L105.3,240.4L105.8,240.6L106.3,240.7L106.8,240.8L107.3,240.8L107.8,240.9L108.3,240.9L108.8,240.8L109.3,240.7L109.8,240.7L110.3,240.8L110.8,240.9L111.3,240.9L111.8,240.7L112.3,240.5L112.8,240.3L113.3,240.3L113.8,240.4L114.3,240.4L114.8,240.5L115.3,240.5L115.8,240.6L116.3,240.6L116.8,240.8L117.3,240.9L117.8,240.9L118.3,240.9L118.8,240.9L119.3,240.9L119.8,240.8L120.3,240.6L120.8,240.5L121.3,240.5L121.8,240.5L122.3,240.4L122.8,240.5L123.3,240.5L123.8,240.5L124.3,240.6L124.8,240.6L125.3,240.6L125.8,240.6L126.3,240.7L126.8,240.8L127.3,240.9L127.8,240.7L128.3,240.5L128.8,240.4L129.3,240.5L129.8,240.6L130.3,240.8L130.8,240.8L131.3,240.8L131.8,240.8L132.3,240.8L132.8,240.8L133.3,240.8L133.8,240.8L134.3,240.8L134.8,240.8L135.3,240.8L135.8,240.7 L136.6,215.8 L136.8,215.4L137.3,215.4L137.8,215.4L138.3,215.4L138.8,215.5L139.3,215.6L139.8,215.8L140.3,215.9L140.8,215.8L141.3,215.7L141.8,215.6L142.3,215.5L142.8,215.5L143.3,215.6L143.8,215.7L144.3,215.8L144.8,216.0L145.3,216.2L145.8,216.4L146.3,216.4L146.8,216.3L147.3,216.2L147.8,216.2L148.3,216.2L148.8,216.2L149.3,216.2L149.8,216.3L150.3,216.3L150.8,216.4L151.3,216.4L151.8,216.6L152.3,216.8L152.8,217.0L153.3,217.0L153.8,217.0L154.3,217.0L154.8,216.9L155.3,217.1L155.8,217.3L156.3,217.4L156.8,217.5L157.3,217.5L157.8,217.4L158.3,217.4L158.8,217.4L159.3,217.3L159.8,217.3L160.3,217.2L160.8,217.0L161.3,216.8L161.8,216.6L162.3,216.4L162.8,216.3L163.3,216.2L163.8,216.2L164.3,216.1L164.8,216.1L165.3,216.1L165.8,216.2L166.3,216.3L166.8,216.4L167.3,216.6L167.8,216.7L168.3,216.8L168.8,216.9L169.3,217.0L169.8,217.0L170.3,217.0L170.8,217.0L171.3,217.1L171.8,217.1L172.3,217.1L172.8,217.1L173.3,217.2L173.8,217.3L174.3,217.4L174.8,217.5L175.3,217.6L175.8,217.6L176.3,217.7L176.8,217.7L177.3,217.7L177.8,217.6L178.3,217.6L178.8,217.5L179.3,217.4L179.8,217.4L180.3,217.3L180.8,217.3L181.3,217.3L181.8,217.3L182.3,217.2L182.8,217.1L183.3,217.1L183.8,217.0L184.3,216.8L184.8,216.7L185.3,216.5L185.8,216.6L186.3,216.8L186.8,216.9L187.3,217.0L187.8,216.9L188.3,216.7L188.8,216.5L189.3,216.5L189.8,216.6L190.3,216.6L190.8,216.7L191.3,216.6L191.8,216.5L192.3,216.5L192.8,216.4L193.3,216.5L193.8,216.6L194.3,216.7L194.8,216.6L195.3,216.4L195.8,216.3L196.3,216.1L196.8,216.1L197.3,216.1L197.8,216.1L198.3,216.1L198.8,216.1L199.3,216.1L199.8,216.0L200.3,216.0L200.8,216.0L201.3,215.9L201.8,216.0L202.3,216.1L202.8,216.3L203.3,216.5L203.8,216.5L204.3,216.4L204.8,216.3L205.3,216.2L205.8,216.2L206.3,216.1L206.8,216.1L207.3,216.1L207.8,216.1L208.3,216.2L208.8,216.2L209.3,216.4L209.8,216.6L210.3,216.8L210.8,216.9L211.3,216.8L211.8,216.7L212.3,216.7L212.8,216.6L213.3,216.6L213.8,216.6L214.3,216.6L214.8,216.8L215.3,217.0L215.8,217.2L216.3,217.2L216.8,217.2L217.3,217.2L217.8,217.2L218.3,217.3L218.8,217.4L219.3,217.5L219.8,217.5L220.3,217.2L220.8,217.0L221.3,216.8L221.8,216.8L222.3,216.9L222.8,216.9L223.3,217.0L223.8,217.1L224.3,217.1L224.8,217.2L225.3,217.2L225.8,217.2L226.3,217.1L226.8,217.1L227.3,217.1L227.8,217.1L228.3,217.1L228.8,217.0L229.3,216.7L229.8,216.5L230.3,216.2L230.8,216.2L231.3,216.2L231.8,216.3L232.3,216.3L232.8,216.2L233.3,216.1L233.8,216.0L234.3,216.0L234.8,216.0L235.3,216.0L235.8,215.9L236.3,216.1L236.8,216.2L237.3,216.4L237.8,216.4L238.3,216.3L238.8,216.2L239.3,216.0L239.8,216.1L240.3,216.1L240.8,216.2L241.3,216.2L241.8,216.0L242.3,215.9L242.8,215.7L243.3,215.7L243.8,215.9L244.3,216.0L244.8,216.1L245.3,216.1L245.8,216.0L246.3,215.9L246.8,215.9L247.3,215.9L247.8,215.9L248.3,215.9L248.8,216.0L249.3,216.2L249.8,216.4L250.3,216.6L250.8,216.7L251.3,216.8L251.8,216.9L252.3,216.9L252.8,216.7L253.3,216.6L253.8,216.4L254.3,216.6L254.8,216.8L255.3,217.0L255.8,217.1L256.3,217.1L256.8,217.2L257.3,217.2L257.8,217.2L258.3,217.1L258.8,217.0L259.3,217.0L259.8,217.0L260.3,217.1L260.8,217.1L261.3,217.1L261.8,217.0L262.3,217.0L262.8,216.9L263.3,216.9L263.8,216.9L264.3,216.9" fill="none" stroke="#12a8b0" stroke-width="1.9"/>
<rect x="48.5" y="204.8" width="216.3" height="106.19999999999999" fill="none" stroke="#8a8a8a" stroke-width="1"/>
<line x1="172.3" y1="226.2" x2="191.8" y2="226.2" stroke="#12a8b0" stroke-width="2"/>
<text x="197.5" y="229.8" font-family="Liberation Serif, serif" font-weight="bold" font-size="10.5" fill="#12a8b0">VSG2</text>
<line x1="172.3" y1="250.8" x2="191.8" y2="250.8" stroke="#12b012" stroke-width="2"/>
<text x="197.5" y="254.4" font-family="Liberation Serif, serif" font-weight="bold" font-size="10.5" fill="#12b012">VSG1</text>
<line x1="172.3" y1="300.9" x2="191.8" y2="300.9" stroke="#ac08b4" stroke-width="2"/>
<text x="197.5" y="304.5" font-family="Liberation Serif, serif" font-weight="bold" font-size="10.5" fill="#ac08b4">VSG3</text>
<text x="48.5" y="324.2" font-family="Liberation Serif, serif" font-weight="bold" font-size="9.8" text-anchor="middle" fill="#111">0</text>
<text x="79.5" y="324.2" font-family="Liberation Serif, serif" font-weight="bold" font-size="9.8" text-anchor="middle" fill="#111">1</text>
<text x="110.4" y="324.2" font-family="Liberation Serif, serif" font-weight="bold" font-size="9.8" text-anchor="middle" fill="#111">2</text>
<text x="141.3" y="324.2" font-family="Liberation Serif, serif" font-weight="bold" font-size="9.8" text-anchor="middle" fill="#111">3</text>
<text x="172.3" y="324.2" font-family="Liberation Serif, serif" font-weight="bold" font-size="9.8" text-anchor="middle" fill="#111">4</text>
<text x="203.2" y="324.2" font-family="Liberation Serif, serif" font-weight="bold" font-size="9.8" text-anchor="middle" fill="#111">5</text>
<text x="234.2" y="324.2" font-family="Liberation Serif, serif" font-weight="bold" font-size="9.8" text-anchor="middle" fill="#111">6</text>
<text x="265.1" y="324.2" font-family="Liberation Serif, serif" font-weight="bold" font-size="9.8" text-anchor="middle" fill="#111">7</text>
<text x="44.9" y="308.5" font-family="Liberation Serif, serif" font-weight="bold" font-size="9" text-anchor="end" fill="#111">0</text>
<text x="44.9" y="278.8" font-family="Liberation Serif, serif" font-weight="bold" font-size="9" text-anchor="end" fill="#111">5000</text>
<text x="44.9" y="249.1" font-family="Liberation Serif, serif" font-weight="bold" font-size="9" text-anchor="end" fill="#111">10,000</text>
<text x="44.9" y="219.4" font-family="Liberation Serif, serif" font-weight="bold" font-size="9" text-anchor="end" fill="#111">15,000</text>
<text x="156.7" y="337.6" font-family="Liberation Serif, serif" font-weight="bold" font-size="11" text-anchor="middle" fill="#111">Time(s)</text>
<text transform="translate(14.4,256.8) rotate(-90) scale(1,0.9)" font-family="Liberation Serif, serif" font-weight="bold" font-size="11.3" text-anchor="middle" fill="#111">Active Power (W)</text>
<text x="155.9" y="193.7" font-family="Liberation Serif, serif" font-weight="bold" font-size="11.8" text-anchor="middle" fill="#111">Output power of 3 VSGs</text>
<text x="90.7" y="217.5" font-family="Liberation Serif, serif" font-weight="bold" font-size="11.5" text-anchor="middle" fill="#111">proposed</text>
<text x="90.7" y="231.8" font-family="Liberation Serif, serif" font-weight="bold" font-size="11.5" text-anchor="middle" fill="#111">scheme</text>
<text x="92.1" y="261.4" font-family="Liberation Serif, serif" font-weight="bold" font-size="11.5" text-anchor="middle" fill="#111">No oversoot</text>
<text x="276.5" y="175.7" font-family="Liberation Serif, serif" font-size="15" text-anchor="middle" fill="#111">(<tspan font-weight="bold">b</tspan>)</text>
<text x="276.2" y="356.8" font-family="Liberation Serif, serif" font-size="15" text-anchor="middle" fill="#111">(<tspan font-weight="bold">c</tspan>)</text>
<text x="414" y="12.8" font-family="Liberation Serif, serif" font-weight="bold" font-size="11.8" text-anchor="middle" fill="#111">Output current experimental waveforms</text>
<rect x="281.5" y="18.0" width="264.79999999999995" height="135.6" fill="#efefef"/>
<rect x="292.3" y="25.5" width="250.09999999999997" height="116.9" fill="#ffffff"/>
<text x="282.5" y="23.2" font-family="Liberation Sans, sans-serif" font-weight="bold" font-size="7.6" fill="#111" textLength="12" lengthAdjust="spacingAndGlyphs">Tek</text>
<text x="296.3" y="23.1" font-family="Liberation Sans, sans-serif" font-size="5.6" fill="#333" stroke="#333" stroke-width="0.18" textLength="10.0" lengthAdjust="spacingAndGlyphs">Stop</text>
<rect x="376.8" y="17.5" width="80" height="5.6" rx="1.2" fill="#f8f8f8" stroke="#d0d0d0" stroke-width="0.5"/>
<line x1="378.8" y1="20.4" x2="455.8" y2="20.4" stroke="#6fd6e2" stroke-width="1.3"/>
<path d="M415.3,17.7 L419.3,17.7 L417.3,20.5 Z" fill="#f29a1a"/>
<text x="482.5" y="23.1" font-family="Liberation Sans, sans-serif" font-size="5.9" fill="#222" stroke="#222" stroke-width="0.18" textLength="43.8" lengthAdjust="spacingAndGlyphs">1.40kHz&#160;&#160;Noise Filter</text>
<clipPath id="scr0"><rect x="292.3" y="25.5" width="250.09999999999997" height="116.9"/></clipPath>
<g clip-path="url(#scr0)">
<polygon points="292.3,40.2 292.8,40.2 293.3,40.5 293.8,40.2 294.3,40.2 294.8,40.3 295.3,40.0 295.8,40.2 296.3,40.3 296.8,40.4 297.3,40.0 297.8,40.1 298.3,40.0 298.8,40.4 299.3,40.3 299.8,39.9 300.3,40.5 300.8,40.5 301.3,40.3 301.8,40.3 302.3,40.0 302.8,39.9 303.3,40.2 303.8,39.9 304.3,40.0 304.8,40.1 305.3,39.9 305.8,40.2 306.3,40.2 306.8,40.4 307.3,40.2 307.8,40.3 308.3,40.2 308.8,40.3 309.3,40.2 309.8,40.1 310.3,40.5 310.8,40.5 311.3,40.4 311.8,40.3 312.3,40.1 312.8,40.1 313.3,40.1 313.8,40.0 314.3,40.4 314.8,40.2 315.3,40.4 315.8,40.2 316.3,40.5 316.8,40.4 317.3,39.9 317.8,40.1 318.3,40.5 318.8,40.2 319.3,40.5 319.8,40.2 320.3,40.0 320.8,40.3 321.3,40.4 321.8,40.1 322.3,40.0 322.8,40.1 323.3,40.5 323.8,40.4 324.3,40.0 324.8,40.1 325.3,40.0 325.8,40.0 326.3,40.4 326.8,40.1 327.3,40.3 327.8,40.2 328.3,40.1 328.8,40.4 329.3,40.0 329.8,40.4 330.3,40.0 330.8,40.2 331.3,40.1 331.8,40.1 332.3,40.6 332.8,40.5 333.3,40.2 333.8,40.5 334.3,40.1 334.8,40.2 335.3,40.5 335.8,40.4 336.3,40.0 336.8,40.6 337.3,40.1 337.8,40.1 338.3,40.5 338.8,40.2 339.3,40.2 339.8,40.0 340.3,40.1 340.8,40.3 341.3,40.1 341.8,40.4 342.3,40.2 342.8,40.3 343.3,40.6 343.8,40.3 344.3,40.4 344.8,40.5 345.3,40.1 345.8,40.1 346.3,40.6 346.8,40.5 347.3,40.2 347.8,40.1 348.3,40.5 348.8,40.6 349.3,40.1 349.8,40.6 350.3,40.6 350.8,40.4 351.3,40.3 351.8,40.1 352.3,40.1 352.8,40.6 353.3,40.2 353.8,40.5 354.3,40.2 354.8,40.5 355.3,40.4 355.8,40.2 356.3,40.1 356.8,40.5 357.3,40.1 357.8,40.2 358.3,40.4 358.8,40.6 359.3,40.4 359.8,40.2 360.3,40.6 360.8,40.2 361.3,40.1 361.8,40.2 362.3,40.3 362.8,40.1 363.3,40.2 363.8,40.3 364.3,40.4 364.8,40.1 365.3,40.3 365.8,40.6 366.3,40.6 366.8,40.4 367.3,40.5 367.8,40.4 368.3,40.1 368.8,40.1 369.3,40.1 369.8,40.6 370.3,40.5 370.8,40.6 371.3,40.1 371.8,40.4 372.3,40.3 372.8,40.5 373.3,40.2 373.8,40.7 374.3,40.1 374.8,40.4 375.3,40.5 375.8,40.6 376.3,40.5 376.8,40.5 377.3,40.5 377.8,40.6 378.3,40.3 378.8,40.5 379.3,40.6 379.8,40.6 380.3,40.3 380.8,40.5 381.3,40.6 381.8,40.4 382.3,40.4 382.8,40.3 383.3,40.4 383.8,40.4 384.3,40.1 384.8,40.4 385.3,40.6 385.8,40.6 386.3,40.5 386.8,40.3 387.3,40.5 387.8,40.4 388.3,40.3 388.8,40.5 389.3,40.1 389.8,40.5 390.3,40.1 390.8,40.4 391.3,40.3 391.8,40.2 392.3,40.4 392.8,40.3 393.3,40.4 393.8,40.6 394.3,40.2 394.8,40.0 395.3,40.2 395.8,40.4 396.3,40.1 396.8,40.1 397.3,40.6 397.8,40.4 398.3,40.3 398.8,40.5 399.3,40.2 399.8,40.4 400.3,40.1 400.8,40.3 401.3,40.5 401.8,40.5 402.3,40.5 402.8,40.2 403.3,40.3 403.8,40.2 404.3,40.1 404.8,40.3 405.3,40.5 405.8,40.5 406.3,40.4 406.8,40.5 407.3,40.1 407.8,40.1 408.3,40.2 408.8,40.1 409.3,40.1 409.8,40.2 410.3,40.3 410.8,40.2 411.3,40.1 411.8,40.4 412.3,40.5 412.8,40.2 413.3,40.0 413.8,39.9 414.3,40.4 414.8,39.9 415.3,40.1 415.8,39.4 416.3,38.4 416.8,38.1 417.3,37.2 417.8,36.9 418.3,36.6 418.8,35.9 419.3,35.9 419.8,35.0 420.3,34.6 420.8,34.1 421.3,34.1 421.8,33.7 422.3,33.6 422.8,33.4 423.3,33.3 423.8,33.2 424.3,33.0 424.8,32.6 425.3,32.7 425.8,32.5 426.3,32.4 426.8,32.7 427.3,32.9 427.8,32.6 428.3,32.8 428.8,32.9 429.3,33.3 429.8,33.3 430.3,33.4 430.8,33.7 431.3,33.6 431.8,34.0 432.3,34.2 432.8,33.9 433.3,34.5 433.8,34.6 434.3,34.4 434.8,34.7 435.3,35.0 435.8,35.3 436.3,35.2 436.8,35.5 437.3,35.8 437.8,35.9 438.3,36.0 438.8,35.8 439.3,36.0 439.8,35.8 440.3,36.2 440.8,36.3 441.3,36.3 441.8,36.3 442.3,36.0 442.8,36.4 443.3,36.5 443.8,36.4 444.3,36.0 444.8,36.1 445.3,35.7 445.8,36.0 446.3,35.8 446.8,35.4 447.3,35.1 447.8,35.3 448.3,35.2 448.8,35.3 449.3,35.1 449.8,34.7 450.3,35.1 450.8,34.6 451.3,34.9 451.8,34.5 452.3,34.5 452.8,34.8 453.3,34.3 453.8,34.3 454.3,34.5 454.8,34.6 455.3,34.7 455.8,34.7 456.3,34.9 456.8,34.7 457.3,35.0 457.8,34.6 458.3,34.7 458.8,35.0 459.3,34.9 459.8,35.2 460.3,35.2 460.8,35.2 461.3,35.4 461.8,35.3 462.3,35.1 462.8,35.2 463.3,35.5 463.8,35.5 464.3,35.1 464.8,35.5 465.3,35.6 465.8,35.3 466.3,35.4 466.8,35.1 467.3,35.3 467.8,35.3 468.3,35.4 468.8,35.0 469.3,35.6 469.8,35.3 470.3,35.2 470.8,35.5 471.3,35.3 471.8,35.3 472.3,35.4 472.8,35.0 473.3,35.3 473.8,35.2 474.3,35.5 474.8,35.5 475.3,35.0 475.8,35.1 476.3,34.9 476.8,35.1 477.3,35.3 477.8,35.3 478.3,35.0 478.8,34.9 479.3,34.8 479.8,35.1 480.3,35.2 480.8,34.7 481.3,35.1 481.8,34.7 482.3,34.7 482.8,34.8 483.3,35.0 483.8,34.8 484.3,34.8 484.8,35.0 485.3,34.7 485.8,35.0 486.3,34.7 486.8,34.9 487.3,34.7 487.8,34.7 488.3,34.9 488.8,34.9 489.3,34.8 489.8,34.9 490.3,34.9 490.8,34.7 491.3,34.8 491.8,35.0 492.3,35.0 492.8,35.0 493.3,35.2 493.8,35.0 494.3,35.2 494.8,34.8 495.3,35.1 495.8,35.2 496.3,35.2 496.8,34.9 497.3,34.9 497.8,35.3 498.3,34.8 498.8,35.3 499.3,35.2 499.8,34.8 500.3,34.8 500.8,35.1 501.3,34.9 501.8,34.8 502.3,35.2 502.8,34.9 503.3,35.2 503.8,34.8 504.3,34.9 504.8,35.1 505.3,34.7 505.8,34.8 506.3,35.1 506.8,35.2 507.3,35.2 507.8,34.7 508.3,34.9 508.8,35.1 509.3,34.9 509.8,35.0 510.3,34.7 510.8,34.6 511.3,34.7 511.8,34.6 512.3,34.9 512.8,34.9 513.3,34.9 513.8,34.6 514.3,34.7 514.8,34.7 515.3,35.0 515.8,35.1 516.3,35.1 516.8,34.6 517.3,34.6 517.8,35.1 518.3,34.8 518.8,35.0 519.3,34.7 519.8,34.8 520.3,34.8 520.8,34.8 521.3,34.9 521.8,34.5 522.3,34.9 522.8,35.0 523.3,34.6 523.8,34.8 524.3,34.9 524.8,34.7 525.3,34.6 525.8,34.6 526.3,34.8 526.8,34.5 527.3,35.0 527.8,35.0 528.3,34.9 528.8,35.0 529.3,34.9 529.8,34.7 530.3,34.8 530.8,34.8 531.3,35.1 531.8,35.0 532.3,34.6 532.8,35.0 533.3,34.9 533.8,35.0 534.3,35.0 534.8,34.7 535.3,35.0 535.8,35.0 536.3,34.9 536.8,35.0 537.3,35.0 537.8,34.7 538.3,34.9 538.8,34.5 539.3,34.7 539.8,34.8 540.3,34.5 540.8,34.7 541.3,34.9 541.8,34.9 542.3,34.6 542.3,77.7 541.8,77.5 541.3,77.3 540.8,77.5 540.3,77.5 539.8,77.4 539.3,77.4 538.8,77.7 538.3,77.5 537.8,77.6 537.3,77.6 536.8,77.7 536.3,77.2 535.8,77.5 535.3,77.6 534.8,77.3 534.3,77.4 533.8,77.2 533.3,77.3 532.8,77.4 532.3,77.3 531.8,77.4 531.3,77.8 530.8,77.5 530.3,77.5 529.8,77.8 529.3,77.6 528.8,77.8 528.3,77.6 527.8,77.7 527.3,77.3 526.8,77.6 526.3,77.7 525.8,77.3 525.3,77.8 524.8,77.4 524.3,77.6 523.8,77.4 523.3,77.6 522.8,77.7 522.3,77.3 521.8,77.9 521.3,77.6 520.8,77.6 520.3,77.7 519.8,77.5 519.3,77.5 518.8,77.7 518.3,77.6 517.8,77.5 517.3,77.7 516.8,77.5 516.3,77.3 515.8,77.4 515.3,77.3 514.8,77.4 514.3,77.7 513.8,77.5 513.3,77.8 512.8,77.7 512.3,77.3 511.8,77.8 511.3,77.8 510.8,77.3 510.3,77.7 509.8,77.5 509.3,77.5 508.8,77.8 508.3,77.3 507.8,77.5 507.3,77.7 506.8,77.6 506.3,77.4 505.8,77.7 505.3,77.6 504.8,77.5 504.3,77.2 503.8,77.5 503.3,77.4 502.8,77.2 502.3,77.1 501.8,77.4 501.3,77.2 500.8,77.4 500.3,77.5 499.8,77.4 499.3,77.3 498.8,77.5 498.3,77.4 497.8,77.6 497.3,77.4 496.8,77.7 496.3,77.7 495.8,77.6 495.3,77.3 494.8,77.2 494.3,77.7 493.8,77.6 493.3,77.6 492.8,77.4 492.3,77.4 491.8,77.6 491.3,77.6 490.8,77.6 490.3,77.6 489.8,77.7 489.3,77.4 488.8,77.4 488.3,77.9 487.8,77.8 487.3,77.8 486.8,77.3 486.3,77.3 485.8,77.5 485.3,77.6 484.8,77.7 484.3,77.4 483.8,77.6 483.3,77.3 482.8,77.3 482.3,77.7 481.8,77.6 481.3,77.6 480.8,77.4 480.3,77.4 479.8,77.2 479.3,77.3 478.8,77.5 478.3,77.5 477.8,77.0 477.3,77.0 476.8,77.4 476.3,77.3 475.8,77.4 475.3,77.0 474.8,77.2 474.3,77.1 473.8,77.4 473.3,77.1 472.8,77.3 472.3,77.6 471.8,77.2 471.3,77.4 470.8,77.6 470.3,77.7 469.8,77.5 469.3,77.5 468.8,77.4 468.3,77.9 467.8,77.5 467.3,77.5 466.8,77.9 466.3,77.9 465.8,78.0 465.3,77.8 464.8,78.1 464.3,77.8 463.8,77.9 463.3,78.2 462.8,77.9 462.3,78.1 461.8,78.4 461.3,78.4 460.8,78.2 460.3,78.2 459.8,78.3 459.3,78.5 458.8,78.3 458.3,78.2 457.8,78.5 457.3,78.4 456.8,78.6 456.3,78.6 455.8,78.5 455.3,78.1 454.8,78.3 454.3,77.9 453.8,77.8 453.3,77.8 452.8,78.0 452.3,77.9 451.8,77.4 451.3,77.4 450.8,77.3 450.3,77.2 449.8,77.2 449.3,77.1 448.8,76.9 448.3,77.1 447.8,77.1 447.3,76.9 446.8,76.9 446.3,76.7 445.8,76.4 445.3,76.7 444.8,76.7 444.3,76.2 443.8,76.0 443.3,76.3 442.8,76.3 442.3,76.4 441.8,76.6 441.3,76.5 440.8,76.7 440.3,76.4 439.8,76.8 439.3,77.0 438.8,76.7 438.3,76.9 437.8,77.4 437.3,77.6 436.8,77.2 436.3,77.7 435.8,77.5 435.3,78.0 434.8,78.1 434.3,78.0 433.8,78.1 433.3,78.5 432.8,78.4 432.3,78.7 431.8,78.5 431.3,78.6 430.8,79.1 430.3,79.0 429.8,78.9 429.3,79.0 428.8,79.1 428.3,79.1 427.8,79.1 427.3,78.7 426.8,78.9 426.3,78.6 425.8,78.6 425.3,78.4 424.8,78.2 424.3,78.0 423.8,77.8 423.3,77.4 422.8,77.1 422.3,77.0 421.8,76.7 421.3,76.2 420.8,75.9 420.3,75.4 419.8,75.5 419.3,75.3 418.8,74.6 418.3,74.2 417.8,73.9 417.3,73.6 416.8,73.1 416.3,73.1 415.8,72.2 415.3,72.0 414.8,71.8 414.3,72.1 413.8,72.2 413.3,71.8 412.8,71.7 412.3,72.0 411.8,72.0 411.3,72.2 410.8,71.7 410.3,71.7 409.8,71.8 409.3,71.8 408.8,71.8 408.3,72.1 407.8,72.0 407.3,71.8 406.8,71.7 406.3,71.8 405.8,71.7 405.3,72.1 404.8,71.8 404.3,71.9 403.8,72.1 403.3,71.9 402.8,71.8 402.3,72.1 401.8,72.2 401.3,71.8 400.8,71.9 400.3,72.2 399.8,71.9 399.3,71.7 398.8,71.6 398.3,72.2 397.8,72.1 397.3,71.8 396.8,71.9 396.3,71.9 395.8,71.7 395.3,72.2 394.8,72.0 394.3,71.7 393.8,71.6 393.3,71.8 392.8,71.8 392.3,72.0 391.8,72.0 391.3,71.9 390.8,71.6 390.3,71.6 389.8,71.7 389.3,71.7 388.8,72.1 388.3,71.9 387.8,71.9 387.3,72.1 386.8,71.7 386.3,71.9 385.8,71.6 385.3,72.0 384.8,71.5 384.3,72.0 383.8,72.0 383.3,72.0 382.8,71.6 382.3,71.7 381.8,72.0 381.3,71.6 380.8,71.8 380.3,71.8 379.8,72.1 379.3,71.9 378.8,72.0 378.3,71.7 377.8,72.0 377.3,71.8 376.8,72.1 376.3,71.6 375.8,72.0 375.3,71.7 374.8,71.9 374.3,71.8 373.8,71.6 373.3,72.0 372.8,71.7 372.3,71.7 371.8,71.6 371.3,71.7 370.8,71.8 370.3,72.0 369.8,71.7 369.3,71.9 368.8,71.6 368.3,71.8 367.8,71.8 367.3,72.1 366.8,72.0 366.3,71.9 365.8,71.5 365.3,71.8 364.8,72.0 364.3,71.7 363.8,71.9 363.3,71.8 362.8,71.5 362.3,72.1 361.8,72.0 361.3,71.7 360.8,71.9 360.3,71.7 359.8,71.8 359.3,71.9 358.8,71.7 358.3,71.7 357.8,71.8 357.3,71.9 356.8,71.7 356.3,71.7 355.8,72.0 355.3,71.8 354.8,72.1 354.3,71.9 353.8,72.0 353.3,71.8 352.8,72.1 352.3,71.6 351.8,71.6 351.3,71.6 350.8,72.0 350.3,72.0 349.8,71.7 349.3,71.8 348.8,72.1 348.3,71.9 347.8,71.6 347.3,71.7 346.8,71.7 346.3,71.6 345.8,71.8 345.3,71.6 344.8,72.1 344.3,71.8 343.8,71.9 343.3,72.0 342.8,72.0 342.3,72.1 341.8,71.8 341.3,71.8 340.8,71.8 340.3,71.6 339.8,71.8 339.3,72.0 338.8,72.2 338.3,72.1 337.8,72.0 337.3,72.0 336.8,71.6 336.3,71.8 335.8,71.8 335.3,72.0 334.8,71.7 334.3,71.8 333.8,71.9 333.3,72.1 332.8,72.1 332.3,72.0 331.8,71.7 331.3,72.1 330.8,72.2 330.3,72.0 329.8,71.8 329.3,71.9 328.8,71.7 328.3,72.1 327.8,72.2 327.3,71.9 326.8,72.1 326.3,72.1 325.8,71.8 325.3,72.2 324.8,72.0 324.3,71.8 323.8,71.7 323.3,71.8 322.8,72.0 322.3,72.1 321.8,71.8 321.3,72.2 320.8,71.9 320.3,71.9 319.8,71.7 319.3,72.2 318.8,71.7 318.3,72.2 317.8,72.0 317.3,72.0 316.8,72.0 316.3,71.8 315.8,72.2 315.3,72.3 314.8,72.2 314.3,72.0 313.8,71.7 313.3,72.2 312.8,71.8 312.3,72.2 311.8,71.8 311.3,72.0 310.8,72.2 310.3,71.8 309.8,72.0 309.3,71.7 308.8,71.7 308.3,71.8 307.8,72.3 307.3,72.2 306.8,72.1 306.3,71.9 305.8,72.1 305.3,72.1 304.8,71.9 304.3,72.0 303.8,72.2 303.3,71.7 302.8,71.8 302.3,72.0 301.8,71.8 301.3,71.9 300.8,72.0 300.3,71.8 299.8,72.0 299.3,71.9 298.8,72.0 298.3,71.9 297.8,72.1 297.3,71.7 296.8,72.1 296.3,71.8 295.8,72.3 295.3,72.1 294.8,72.0 294.3,71.9 293.8,72.1 293.3,72.1 292.8,72.2 292.3,72.2" fill="#0acccc"/><clipPath id="c0cy"><polygon points="292.3,40.2 292.8,40.2 293.3,40.5 293.8,40.2 294.3,40.2 294.8,40.3 295.3,40.0 295.8,40.2 296.3,40.3 296.8,40.4 297.3,40.0 297.8,40.1 298.3,40.0 298.8,40.4 299.3,40.3 299.8,39.9 300.3,40.5 300.8,40.5 301.3,40.3 301.8,40.3 302.3,40.0 302.8,39.9 303.3,40.2 303.8,39.9 304.3,40.0 304.8,40.1 305.3,39.9 305.8,40.2 306.3,40.2 306.8,40.4 307.3,40.2 307.8,40.3 308.3,40.2 308.8,40.3 309.3,40.2 309.8,40.1 310.3,40.5 310.8,40.5 311.3,40.4 311.8,40.3 312.3,40.1 312.8,40.1 313.3,40.1 313.8,40.0 314.3,40.4 314.8,40.2 315.3,40.4 315.8,40.2 316.3,40.5 316.8,40.4 317.3,39.9 317.8,40.1 318.3,40.5 318.8,40.2 319.3,40.5 319.8,40.2 320.3,40.0 320.8,40.3 321.3,40.4 321.8,40.1 322.3,40.0 322.8,40.1 323.3,40.5 323.8,40.4 324.3,40.0 324.8,40.1 325.3,40.0 325.8,40.0 326.3,40.4 326.8,40.1 327.3,40.3 327.8,40.2 328.3,40.1 328.8,40.4 329.3,40.0 329.8,40.4 330.3,40.0 330.8,40.2 331.3,40.1 331.8,40.1 332.3,40.6 332.8,40.5 333.3,40.2 333.8,40.5 334.3,40.1 334.8,40.2 335.3,40.5 335.8,40.4 336.3,40.0 336.8,40.6 337.3,40.1 337.8,40.1 338.3,40.5 338.8,40.2 339.3,40.2 339.8,40.0 340.3,40.1 340.8,40.3 341.3,40.1 341.8,40.4 342.3,40.2 342.8,40.3 343.3,40.6 343.8,40.3 344.3,40.4 344.8,40.5 345.3,40.1 345.8,40.1 346.3,40.6 346.8,40.5 347.3,40.2 347.8,40.1 348.3,40.5 348.8,40.6 349.3,40.1 349.8,40.6 350.3,40.6 350.8,40.4 351.3,40.3 351.8,40.1 352.3,40.1 352.8,40.6 353.3,40.2 353.8,40.5 354.3,40.2 354.8,40.5 355.3,40.4 355.8,40.2 356.3,40.1 356.8,40.5 357.3,40.1 357.8,40.2 358.3,40.4 358.8,40.6 359.3,40.4 359.8,40.2 360.3,40.6 360.8,40.2 361.3,40.1 361.8,40.2 362.3,40.3 362.8,40.1 363.3,40.2 363.8,40.3 364.3,40.4 364.8,40.1 365.3,40.3 365.8,40.6 366.3,40.6 366.8,40.4 367.3,40.5 367.8,40.4 368.3,40.1 368.8,40.1 369.3,40.1 369.8,40.6 370.3,40.5 370.8,40.6 371.3,40.1 371.8,40.4 372.3,40.3 372.8,40.5 373.3,40.2 373.8,40.7 374.3,40.1 374.8,40.4 375.3,40.5 375.8,40.6 376.3,40.5 376.8,40.5 377.3,40.5 377.8,40.6 378.3,40.3 378.8,40.5 379.3,40.6 379.8,40.6 380.3,40.3 380.8,40.5 381.3,40.6 381.8,40.4 382.3,40.4 382.8,40.3 383.3,40.4 383.8,40.4 384.3,40.1 384.8,40.4 385.3,40.6 385.8,40.6 386.3,40.5 386.8,40.3 387.3,40.5 387.8,40.4 388.3,40.3 388.8,40.5 389.3,40.1 389.8,40.5 390.3,40.1 390.8,40.4 391.3,40.3 391.8,40.2 392.3,40.4 392.8,40.3 393.3,40.4 393.8,40.6 394.3,40.2 394.8,40.0 395.3,40.2 395.8,40.4 396.3,40.1 396.8,40.1 397.3,40.6 397.8,40.4 398.3,40.3 398.8,40.5 399.3,40.2 399.8,40.4 400.3,40.1 400.8,40.3 401.3,40.5 401.8,40.5 402.3,40.5 402.8,40.2 403.3,40.3 403.8,40.2 404.3,40.1 404.8,40.3 405.3,40.5 405.8,40.5 406.3,40.4 406.8,40.5 407.3,40.1 407.8,40.1 408.3,40.2 408.8,40.1 409.3,40.1 409.8,40.2 410.3,40.3 410.8,40.2 411.3,40.1 411.8,40.4 412.3,40.5 412.8,40.2 413.3,40.0 413.8,39.9 414.3,40.4 414.8,39.9 415.3,40.1 415.8,39.4 416.3,38.4 416.8,38.1 417.3,37.2 417.8,36.9 418.3,36.6 418.8,35.9 419.3,35.9 419.8,35.0 420.3,34.6 420.8,34.1 421.3,34.1 421.8,33.7 422.3,33.6 422.8,33.4 423.3,33.3 423.8,33.2 424.3,33.0 424.8,32.6 425.3,32.7 425.8,32.5 426.3,32.4 426.8,32.7 427.3,32.9 427.8,32.6 428.3,32.8 428.8,32.9 429.3,33.3 429.8,33.3 430.3,33.4 430.8,33.7 431.3,33.6 431.8,34.0 432.3,34.2 432.8,33.9 433.3,34.5 433.8,34.6 434.3,34.4 434.8,34.7 435.3,35.0 435.8,35.3 436.3,35.2 436.8,35.5 437.3,35.8 437.8,35.9 438.3,36.0 438.8,35.8 439.3,36.0 439.8,35.8 440.3,36.2 440.8,36.3 441.3,36.3 441.8,36.3 442.3,36.0 442.8,36.4 443.3,36.5 443.8,36.4 444.3,36.0 444.8,36.1 445.3,35.7 445.8,36.0 446.3,35.8 446.8,35.4 447.3,35.1 447.8,35.3 448.3,35.2 448.8,35.3 449.3,35.1 449.8,34.7 450.3,35.1 450.8,34.6 451.3,34.9 451.8,34.5 452.3,34.5 452.8,34.8 453.3,34.3 453.8,34.3 454.3,34.5 454.8,34.6 455.3,34.7 455.8,34.7 456.3,34.9 456.8,34.7 457.3,35.0 457.8,34.6 458.3,34.7 458.8,35.0 459.3,34.9 459.8,35.2 460.3,35.2 460.8,35.2 461.3,35.4 461.8,35.3 462.3,35.1 462.8,35.2 463.3,35.5 463.8,35.5 464.3,35.1 464.8,35.5 465.3,35.6 465.8,35.3 466.3,35.4 466.8,35.1 467.3,35.3 467.8,35.3 468.3,35.4 468.8,35.0 469.3,35.6 469.8,35.3 470.3,35.2 470.8,35.5 471.3,35.3 471.8,35.3 472.3,35.4 472.8,35.0 473.3,35.3 473.8,35.2 474.3,35.5 474.8,35.5 475.3,35.0 475.8,35.1 476.3,34.9 476.8,35.1 477.3,35.3 477.8,35.3 478.3,35.0 478.8,34.9 479.3,34.8 479.8,35.1 480.3,35.2 480.8,34.7 481.3,35.1 481.8,34.7 482.3,34.7 482.8,34.8 483.3,35.0 483.8,34.8 484.3,34.8 484.8,35.0 485.3,34.7 485.8,35.0 486.3,34.7 486.8,34.9 487.3,34.7 487.8,34.7 488.3,34.9 488.8,34.9 489.3,34.8 489.8,34.9 490.3,34.9 490.8,34.7 491.3,34.8 491.8,35.0 492.3,35.0 492.8,35.0 493.3,35.2 493.8,35.0 494.3,35.2 494.8,34.8 495.3,35.1 495.8,35.2 496.3,35.2 496.8,34.9 497.3,34.9 497.8,35.3 498.3,34.8 498.8,35.3 499.3,35.2 499.8,34.8 500.3,34.8 500.8,35.1 501.3,34.9 501.8,34.8 502.3,35.2 502.8,34.9 503.3,35.2 503.8,34.8 504.3,34.9 504.8,35.1 505.3,34.7 505.8,34.8 506.3,35.1 506.8,35.2 507.3,35.2 507.8,34.7 508.3,34.9 508.8,35.1 509.3,34.9 509.8,35.0 510.3,34.7 510.8,34.6 511.3,34.7 511.8,34.6 512.3,34.9 512.8,34.9 513.3,34.9 513.8,34.6 514.3,34.7 514.8,34.7 515.3,35.0 515.8,35.1 516.3,35.1 516.8,34.6 517.3,34.6 517.8,35.1 518.3,34.8 518.8,35.0 519.3,34.7 519.8,34.8 520.3,34.8 520.8,34.8 521.3,34.9 521.8,34.5 522.3,34.9 522.8,35.0 523.3,34.6 523.8,34.8 524.3,34.9 524.8,34.7 525.3,34.6 525.8,34.6 526.3,34.8 526.8,34.5 527.3,35.0 527.8,35.0 528.3,34.9 528.8,35.0 529.3,34.9 529.8,34.7 530.3,34.8 530.8,34.8 531.3,35.1 531.8,35.0 532.3,34.6 532.8,35.0 533.3,34.9 533.8,35.0 534.3,35.0 534.8,34.7 535.3,35.0 535.8,35.0 536.3,34.9 536.8,35.0 537.3,35.0 537.8,34.7 538.3,34.9 538.8,34.5 539.3,34.7 539.8,34.8 540.3,34.5 540.8,34.7 541.3,34.9 541.8,34.9 542.3,34.6 542.3,77.7 541.8,77.5 541.3,77.3 540.8,77.5 540.3,77.5 539.8,77.4 539.3,77.4 538.8,77.7 538.3,77.5 537.8,77.6 537.3,77.6 536.8,77.7 536.3,77.2 535.8,77.5 535.3,77.6 534.8,77.3 534.3,77.4 533.8,77.2 533.3,77.3 532.8,77.4 532.3,77.3 531.8,77.4 531.3,77.8 530.8,77.5 530.3,77.5 529.8,77.8 529.3,77.6 528.8,77.8 528.3,77.6 527.8,77.7 527.3,77.3 526.8,77.6 526.3,77.7 525.8,77.3 525.3,77.8 524.8,77.4 524.3,77.6 523.8,77.4 523.3,77.6 522.8,77.7 522.3,77.3 521.8,77.9 521.3,77.6 520.8,77.6 520.3,77.7 519.8,77.5 519.3,77.5 518.8,77.7 518.3,77.6 517.8,77.5 517.3,77.7 516.8,77.5 516.3,77.3 515.8,77.4 515.3,77.3 514.8,77.4 514.3,77.7 513.8,77.5 513.3,77.8 512.8,77.7 512.3,77.3 511.8,77.8 511.3,77.8 510.8,77.3 510.3,77.7 509.8,77.5 509.3,77.5 508.8,77.8 508.3,77.3 507.8,77.5 507.3,77.7 506.8,77.6 506.3,77.4 505.8,77.7 505.3,77.6 504.8,77.5 504.3,77.2 503.8,77.5 503.3,77.4 502.8,77.2 502.3,77.1 501.8,77.4 501.3,77.2 500.8,77.4 500.3,77.5 499.8,77.4 499.3,77.3 498.8,77.5 498.3,77.4 497.8,77.6 497.3,77.4 496.8,77.7 496.3,77.7 495.8,77.6 495.3,77.3 494.8,77.2 494.3,77.7 493.8,77.6 493.3,77.6 492.8,77.4 492.3,77.4 491.8,77.6 491.3,77.6 490.8,77.6 490.3,77.6 489.8,77.7 489.3,77.4 488.8,77.4 488.3,77.9 487.8,77.8 487.3,77.8 486.8,77.3 486.3,77.3 485.8,77.5 485.3,77.6 484.8,77.7 484.3,77.4 483.8,77.6 483.3,77.3 482.8,77.3 482.3,77.7 481.8,77.6 481.3,77.6 480.8,77.4 480.3,77.4 479.8,77.2 479.3,77.3 478.8,77.5 478.3,77.5 477.8,77.0 477.3,77.0 476.8,77.4 476.3,77.3 475.8,77.4 475.3,77.0 474.8,77.2 474.3,77.1 473.8,77.4 473.3,77.1 472.8,77.3 472.3,77.6 471.8,77.2 471.3,77.4 470.8,77.6 470.3,77.7 469.8,77.5 469.3,77.5 468.8,77.4 468.3,77.9 467.8,77.5 467.3,77.5 466.8,77.9 466.3,77.9 465.8,78.0 465.3,77.8 464.8,78.1 464.3,77.8 463.8,77.9 463.3,78.2 462.8,77.9 462.3,78.1 461.8,78.4 461.3,78.4 460.8,78.2 460.3,78.2 459.8,78.3 459.3,78.5 458.8,78.3 458.3,78.2 457.8,78.5 457.3,78.4 456.8,78.6 456.3,78.6 455.8,78.5 455.3,78.1 454.8,78.3 454.3,77.9 453.8,77.8 453.3,77.8 452.8,78.0 452.3,77.9 451.8,77.4 451.3,77.4 450.8,77.3 450.3,77.2 449.8,77.2 449.3,77.1 448.8,76.9 448.3,77.1 447.8,77.1 447.3,76.9 446.8,76.9 446.3,76.7 445.8,76.4 445.3,76.7 444.8,76.7 444.3,76.2 443.8,76.0 443.3,76.3 442.8,76.3 442.3,76.4 441.8,76.6 441.3,76.5 440.8,76.7 440.3,76.4 439.8,76.8 439.3,77.0 438.8,76.7 438.3,76.9 437.8,77.4 437.3,77.6 436.8,77.2 436.3,77.7 435.8,77.5 435.3,78.0 434.8,78.1 434.3,78.0 433.8,78.1 433.3,78.5 432.8,78.4 432.3,78.7 431.8,78.5 431.3,78.6 430.8,79.1 430.3,79.0 429.8,78.9 429.3,79.0 428.8,79.1 428.3,79.1 427.8,79.1 427.3,78.7 426.8,78.9 426.3,78.6 425.8,78.6 425.3,78.4 424.8,78.2 424.3,78.0 423.8,77.8 423.3,77.4 422.8,77.1 422.3,77.0 421.8,76.7 421.3,76.2 420.8,75.9 420.3,75.4 419.8,75.5 419.3,75.3 418.8,74.6 418.3,74.2 417.8,73.9 417.3,73.6 416.8,73.1 416.3,73.1 415.8,72.2 415.3,72.0 414.8,71.8 414.3,72.1 413.8,72.2 413.3,71.8 412.8,71.7 412.3,72.0 411.8,72.0 411.3,72.2 410.8,71.7 410.3,71.7 409.8,71.8 409.3,71.8 408.8,71.8 408.3,72.1 407.8,72.0 407.3,71.8 406.8,71.7 406.3,71.8 405.8,71.7 405.3,72.1 404.8,71.8 404.3,71.9 403.8,72.1 403.3,71.9 402.8,71.8 402.3,72.1 401.8,72.2 401.3,71.8 400.8,71.9 400.3,72.2 399.8,71.9 399.3,71.7 398.8,71.6 398.3,72.2 397.8,72.1 397.3,71.8 396.8,71.9 396.3,71.9 395.8,71.7 395.3,72.2 394.8,72.0 394.3,71.7 393.8,71.6 393.3,71.8 392.8,71.8 392.3,72.0 391.8,72.0 391.3,71.9 390.8,71.6 390.3,71.6 389.8,71.7 389.3,71.7 388.8,72.1 388.3,71.9 387.8,71.9 387.3,72.1 386.8,71.7 386.3,71.9 385.8,71.6 385.3,72.0 384.8,71.5 384.3,72.0 383.8,72.0 383.3,72.0 382.8,71.6 382.3,71.7 381.8,72.0 381.3,71.6 380.8,71.8 380.3,71.8 379.8,72.1 379.3,71.9 378.8,72.0 378.3,71.7 377.8,72.0 377.3,71.8 376.8,72.1 376.3,71.6 375.8,72.0 375.3,71.7 374.8,71.9 374.3,71.8 373.8,71.6 373.3,72.0 372.8,71.7 372.3,71.7 371.8,71.6 371.3,71.7 370.8,71.8 370.3,72.0 369.8,71.7 369.3,71.9 368.8,71.6 368.3,71.8 367.8,71.8 367.3,72.1 366.8,72.0 366.3,71.9 365.8,71.5 365.3,71.8 364.8,72.0 364.3,71.7 363.8,71.9 363.3,71.8 362.8,71.5 362.3,72.1 361.8,72.0 361.3,71.7 360.8,71.9 360.3,71.7 359.8,71.8 359.3,71.9 358.8,71.7 358.3,71.7 357.8,71.8 357.3,71.9 356.8,71.7 356.3,71.7 355.8,72.0 355.3,71.8 354.8,72.1 354.3,71.9 353.8,72.0 353.3,71.8 352.8,72.1 352.3,71.6 351.8,71.6 351.3,71.6 350.8,72.0 350.3,72.0 349.8,71.7 349.3,71.8 348.8,72.1 348.3,71.9 347.8,71.6 347.3,71.7 346.8,71.7 346.3,71.6 345.8,71.8 345.3,71.6 344.8,72.1 344.3,71.8 343.8,71.9 343.3,72.0 342.8,72.0 342.3,72.1 341.8,71.8 341.3,71.8 340.8,71.8 340.3,71.6 339.8,71.8 339.3,72.0 338.8,72.2 338.3,72.1 337.8,72.0 337.3,72.0 336.8,71.6 336.3,71.8 335.8,71.8 335.3,72.0 334.8,71.7 334.3,71.8 333.8,71.9 333.3,72.1 332.8,72.1 332.3,72.0 331.8,71.7 331.3,72.1 330.8,72.2 330.3,72.0 329.8,71.8 329.3,71.9 328.8,71.7 328.3,72.1 327.8,72.2 327.3,71.9 326.8,72.1 326.3,72.1 325.8,71.8 325.3,72.2 324.8,72.0 324.3,71.8 323.8,71.7 323.3,71.8 322.8,72.0 322.3,72.1 321.8,71.8 321.3,72.2 320.8,71.9 320.3,71.9 319.8,71.7 319.3,72.2 318.8,71.7 318.3,72.2 317.8,72.0 317.3,72.0 316.8,72.0 316.3,71.8 315.8,72.2 315.3,72.3 314.8,72.2 314.3,72.0 313.8,71.7 313.3,72.2 312.8,71.8 312.3,72.2 311.8,71.8 311.3,72.0 310.8,72.2 310.3,71.8 309.8,72.0 309.3,71.7 308.8,71.7 308.3,71.8 307.8,72.3 307.3,72.2 306.8,72.1 306.3,71.9 305.8,72.1 305.3,72.1 304.8,71.9 304.3,72.0 303.8,72.2 303.3,71.7 302.8,71.8 302.3,72.0 301.8,71.8 301.3,71.9 300.8,72.0 300.3,71.8 299.8,72.0 299.3,71.9 298.8,72.0 298.3,71.9 297.8,72.1 297.3,71.7 296.8,72.1 296.3,71.8 295.8,72.3 295.3,72.1 294.8,72.0 294.3,71.9 293.8,72.1 293.3,72.1 292.8,72.2 292.3,72.2"/></clipPath><path d="M293.1,29.7V81.9M295.7,29.7V81.9M298.3,29.7V81.9M300.9,29.7V81.9M303.5,29.7V81.9M306.1,29.7V81.9M308.7,29.7V81.9M311.3,29.7V81.9M313.9,29.7V81.9M316.5,29.7V81.9M319.1,29.7V81.9M321.7,29.7V81.9M324.3,29.7V81.9M326.9,29.7V81.9M329.5,29.7V81.9M332.1,29.7V81.9M334.7,29.7V81.9M337.3,29.7V81.9M339.9,29.7V81.9M342.5,29.7V81.9M345.1,29.7V81.9M347.7,29.7V81.9M350.3,29.7V81.9M352.9,29.7V81.9M355.5,29.7V81.9M358.1,29.7V81.9M360.7,29.7V81.9M363.3,29.7V81.9M365.9,29.7V81.9M368.5,29.7V81.9M371.1,29.7V81.9M373.7,29.7V81.9M376.3,29.7V81.9M378.9,29.7V81.9M381.5,29.7V81.9M384.1,29.7V81.9M386.7,29.7V81.9M389.3,29.7V81.9M391.9,29.7V81.9M394.5,29.7V81.9M397.1,29.7V81.9M399.7,29.7V81.9M402.3,29.7V81.9M404.9,29.7V81.9M407.5,29.7V81.9M410.1,29.7V81.9M412.7,29.7V81.9M415.3,29.7V81.9M417.9,29.7V81.9M420.5,29.7V81.9M423.1,29.7V81.9M425.7,29.7V81.9M428.3,29.7V81.9M430.9,29.7V81.9M433.5,29.7V81.9M436.1,29.7V81.9M438.7,29.7V81.9M441.3,29.7V81.9M443.9,29.7V81.9M446.5,29.7V81.9M449.1,29.7V81.9M451.7,29.7V81.9M454.3,29.7V81.9M456.9,29.7V81.9M459.5,29.7V81.9M462.1,29.7V81.9M464.7,29.7V81.9M467.3,29.7V81.9M469.9,29.7V81.9M472.5,29.7V81.9M475.1,29.7V81.9M477.7,29.7V81.9M480.3,29.7V81.9M482.9,29.7V81.9M485.5,29.7V81.9M488.1,29.7V81.9M490.7,29.7V81.9M493.3,29.7V81.9M495.9,29.7V81.9M498.5,29.7V81.9M501.1,29.7V81.9M503.7,29.7V81.9M506.3,29.7V81.9M508.9,29.7V81.9M511.5,29.7V81.9M514.1,29.7V81.9M516.7,29.7V81.9M519.3,29.7V81.9M521.9,29.7V81.9M524.5,29.7V81.9M527.1,29.7V81.9M529.7,29.7V81.9M532.3,29.7V81.9M534.9,29.7V81.9M537.5,29.7V81.9M540.1,29.7V81.9" stroke="#0aaeb4" stroke-width="0.9" opacity="0.4" clip-path="url(#c0cy)"/><polygon fill="none" stroke="#0aaeb4" stroke-width="1.8" opacity="0.8" clip-path="url(#c0cy)" points="292.3,40.2 292.8,40.2 293.3,40.5 293.8,40.2 294.3,40.2 294.8,40.3 295.3,40.0 295.8,40.2 296.3,40.3 296.8,40.4 297.3,40.0 297.8,40.1 298.3,40.0 298.8,40.4 299.3,40.3 299.8,39.9 300.3,40.5 300.8,40.5 301.3,40.3 301.8,40.3 302.3,40.0 302.8,39.9 303.3,40.2 303.8,39.9 304.3,40.0 304.8,40.1 305.3,39.9 305.8,40.2 306.3,40.2 306.8,40.4 307.3,40.2 307.8,40.3 308.3,40.2 308.8,40.3 309.3,40.2 309.8,40.1 310.3,40.5 310.8,40.5 311.3,40.4 311.8,40.3 312.3,40.1 312.8,40.1 313.3,40.1 313.8,40.0 314.3,40.4 314.8,40.2 315.3,40.4 315.8,40.2 316.3,40.5 316.8,40.4 317.3,39.9 317.8,40.1 318.3,40.5 318.8,40.2 319.3,40.5 319.8,40.2 320.3,40.0 320.8,40.3 321.3,40.4 321.8,40.1 322.3,40.0 322.8,40.1 323.3,40.5 323.8,40.4 324.3,40.0 324.8,40.1 325.3,40.0 325.8,40.0 326.3,40.4 326.8,40.1 327.3,40.3 327.8,40.2 328.3,40.1 328.8,40.4 329.3,40.0 329.8,40.4 330.3,40.0 330.8,40.2 331.3,40.1 331.8,40.1 332.3,40.6 332.8,40.5 333.3,40.2 333.8,40.5 334.3,40.1 334.8,40.2 335.3,40.5 335.8,40.4 336.3,40.0 336.8,40.6 337.3,40.1 337.8,40.1 338.3,40.5 338.8,40.2 339.3,40.2 339.8,40.0 340.3,40.1 340.8,40.3 341.3,40.1 341.8,40.4 342.3,40.2 342.8,40.3 343.3,40.6 343.8,40.3 344.3,40.4 344.8,40.5 345.3,40.1 345.8,40.1 346.3,40.6 346.8,40.5 347.3,40.2 347.8,40.1 348.3,40.5 348.8,40.6 349.3,40.1 349.8,40.6 350.3,40.6 350.8,40.4 351.3,40.3 351.8,40.1 352.3,40.1 352.8,40.6 353.3,40.2 353.8,40.5 354.3,40.2 354.8,40.5 355.3,40.4 355.8,40.2 356.3,40.1 356.8,40.5 357.3,40.1 357.8,40.2 358.3,40.4 358.8,40.6 359.3,40.4 359.8,40.2 360.3,40.6 360.8,40.2 361.3,40.1 361.8,40.2 362.3,40.3 362.8,40.1 363.3,40.2 363.8,40.3 364.3,40.4 364.8,40.1 365.3,40.3 365.8,40.6 366.3,40.6 366.8,40.4 367.3,40.5 367.8,40.4 368.3,40.1 368.8,40.1 369.3,40.1 369.8,40.6 370.3,40.5 370.8,40.6 371.3,40.1 371.8,40.4 372.3,40.3 372.8,40.5 373.3,40.2 373.8,40.7 374.3,40.1 374.8,40.4 375.3,40.5 375.8,40.6 376.3,40.5 376.8,40.5 377.3,40.5 377.8,40.6 378.3,40.3 378.8,40.5 379.3,40.6 379.8,40.6 380.3,40.3 380.8,40.5 381.3,40.6 381.8,40.4 382.3,40.4 382.8,40.3 383.3,40.4 383.8,40.4 384.3,40.1 384.8,40.4 385.3,40.6 385.8,40.6 386.3,40.5 386.8,40.3 387.3,40.5 387.8,40.4 388.3,40.3 388.8,40.5 389.3,40.1 389.8,40.5 390.3,40.1 390.8,40.4 391.3,40.3 391.8,40.2 392.3,40.4 392.8,40.3 393.3,40.4 393.8,40.6 394.3,40.2 394.8,40.0 395.3,40.2 395.8,40.4 396.3,40.1 396.8,40.1 397.3,40.6 397.8,40.4 398.3,40.3 398.8,40.5 399.3,40.2 399.8,40.4 400.3,40.1 400.8,40.3 401.3,40.5 401.8,40.5 402.3,40.5 402.8,40.2 403.3,40.3 403.8,40.2 404.3,40.1 404.8,40.3 405.3,40.5 405.8,40.5 406.3,40.4 406.8,40.5 407.3,40.1 407.8,40.1 408.3,40.2 408.8,40.1 409.3,40.1 409.8,40.2 410.3,40.3 410.8,40.2 411.3,40.1 411.8,40.4 412.3,40.5 412.8,40.2 413.3,40.0 413.8,39.9 414.3,40.4 414.8,39.9 415.3,40.1 415.8,39.4 416.3,38.4 416.8,38.1 417.3,37.2 417.8,36.9 418.3,36.6 418.8,35.9 419.3,35.9 419.8,35.0 420.3,34.6 420.8,34.1 421.3,34.1 421.8,33.7 422.3,33.6 422.8,33.4 423.3,33.3 423.8,33.2 424.3,33.0 424.8,32.6 425.3,32.7 425.8,32.5 426.3,32.4 426.8,32.7 427.3,32.9 427.8,32.6 428.3,32.8 428.8,32.9 429.3,33.3 429.8,33.3 430.3,33.4 430.8,33.7 431.3,33.6 431.8,34.0 432.3,34.2 432.8,33.9 433.3,34.5 433.8,34.6 434.3,34.4 434.8,34.7 435.3,35.0 435.8,35.3 436.3,35.2 436.8,35.5 437.3,35.8 437.8,35.9 438.3,36.0 438.8,35.8 439.3,36.0 439.8,35.8 440.3,36.2 440.8,36.3 441.3,36.3 441.8,36.3 442.3,36.0 442.8,36.4 443.3,36.5 443.8,36.4 444.3,36.0 444.8,36.1 445.3,35.7 445.8,36.0 446.3,35.8 446.8,35.4 447.3,35.1 447.8,35.3 448.3,35.2 448.8,35.3 449.3,35.1 449.8,34.7 450.3,35.1 450.8,34.6 451.3,34.9 451.8,34.5 452.3,34.5 452.8,34.8 453.3,34.3 453.8,34.3 454.3,34.5 454.8,34.6 455.3,34.7 455.8,34.7 456.3,34.9 456.8,34.7 457.3,35.0 457.8,34.6 458.3,34.7 458.8,35.0 459.3,34.9 459.8,35.2 460.3,35.2 460.8,35.2 461.3,35.4 461.8,35.3 462.3,35.1 462.8,35.2 463.3,35.5 463.8,35.5 464.3,35.1 464.8,35.5 465.3,35.6 465.8,35.3 466.3,35.4 466.8,35.1 467.3,35.3 467.8,35.3 468.3,35.4 468.8,35.0 469.3,35.6 469.8,35.3 470.3,35.2 470.8,35.5 471.3,35.3 471.8,35.3 472.3,35.4 472.8,35.0 473.3,35.3 473.8,35.2 474.3,35.5 474.8,35.5 475.3,35.0 475.8,35.1 476.3,34.9 476.8,35.1 477.3,35.3 477.8,35.3 478.3,35.0 478.8,34.9 479.3,34.8 479.8,35.1 480.3,35.2 480.8,34.7 481.3,35.1 481.8,34.7 482.3,34.7 482.8,34.8 483.3,35.0 483.8,34.8 484.3,34.8 484.8,35.0 485.3,34.7 485.8,35.0 486.3,34.7 486.8,34.9 487.3,34.7 487.8,34.7 488.3,34.9 488.8,34.9 489.3,34.8 489.8,34.9 490.3,34.9 490.8,34.7 491.3,34.8 491.8,35.0 492.3,35.0 492.8,35.0 493.3,35.2 493.8,35.0 494.3,35.2 494.8,34.8 495.3,35.1 495.8,35.2 496.3,35.2 496.8,34.9 497.3,34.9 497.8,35.3 498.3,34.8 498.8,35.3 499.3,35.2 499.8,34.8 500.3,34.8 500.8,35.1 501.3,34.9 501.8,34.8 502.3,35.2 502.8,34.9 503.3,35.2 503.8,34.8 504.3,34.9 504.8,35.1 505.3,34.7 505.8,34.8 506.3,35.1 506.8,35.2 507.3,35.2 507.8,34.7 508.3,34.9 508.8,35.1 509.3,34.9 509.8,35.0 510.3,34.7 510.8,34.6 511.3,34.7 511.8,34.6 512.3,34.9 512.8,34.9 513.3,34.9 513.8,34.6 514.3,34.7 514.8,34.7 515.3,35.0 515.8,35.1 516.3,35.1 516.8,34.6 517.3,34.6 517.8,35.1 518.3,34.8 518.8,35.0 519.3,34.7 519.8,34.8 520.3,34.8 520.8,34.8 521.3,34.9 521.8,34.5 522.3,34.9 522.8,35.0 523.3,34.6 523.8,34.8 524.3,34.9 524.8,34.7 525.3,34.6 525.8,34.6 526.3,34.8 526.8,34.5 527.3,35.0 527.8,35.0 528.3,34.9 528.8,35.0 529.3,34.9 529.8,34.7 530.3,34.8 530.8,34.8 531.3,35.1 531.8,35.0 532.3,34.6 532.8,35.0 533.3,34.9 533.8,35.0 534.3,35.0 534.8,34.7 535.3,35.0 535.8,35.0 536.3,34.9 536.8,35.0 537.3,35.0 537.8,34.7 538.3,34.9 538.8,34.5 539.3,34.7 539.8,34.8 540.3,34.5 540.8,34.7 541.3,34.9 541.8,34.9 542.3,34.6 542.3,77.7 541.8,77.5 541.3,77.3 540.8,77.5 540.3,77.5 539.8,77.4 539.3,77.4 538.8,77.7 538.3,77.5 537.8,77.6 537.3,77.6 536.8,77.7 536.3,77.2 535.8,77.5 535.3,77.6 534.8,77.3 534.3,77.4 533.8,77.2 533.3,77.3 532.8,77.4 532.3,77.3 531.8,77.4 531.3,77.8 530.8,77.5 530.3,77.5 529.8,77.8 529.3,77.6 528.8,77.8 528.3,77.6 527.8,77.7 527.3,77.3 526.8,77.6 526.3,77.7 525.8,77.3 525.3,77.8 524.8,77.4 524.3,77.6 523.8,77.4 523.3,77.6 522.8,77.7 522.3,77.3 521.8,77.9 521.3,77.6 520.8,77.6 520.3,77.7 519.8,77.5 519.3,77.5 518.8,77.7 518.3,77.6 517.8,77.5 517.3,77.7 516.8,77.5 516.3,77.3 515.8,77.4 515.3,77.3 514.8,77.4 514.3,77.7 513.8,77.5 513.3,77.8 512.8,77.7 512.3,77.3 511.8,77.8 511.3,77.8 510.8,77.3 510.3,77.7 509.8,77.5 509.3,77.5 508.8,77.8 508.3,77.3 507.8,77.5 507.3,77.7 506.8,77.6 506.3,77.4 505.8,77.7 505.3,77.6 504.8,77.5 504.3,77.2 503.8,77.5 503.3,77.4 502.8,77.2 502.3,77.1 501.8,77.4 501.3,77.2 500.8,77.4 500.3,77.5 499.8,77.4 499.3,77.3 498.8,77.5 498.3,77.4 497.8,77.6 497.3,77.4 496.8,77.7 496.3,77.7 495.8,77.6 495.3,77.3 494.8,77.2 494.3,77.7 493.8,77.6 493.3,77.6 492.8,77.4 492.3,77.4 491.8,77.6 491.3,77.6 490.8,77.6 490.3,77.6 489.8,77.7 489.3,77.4 488.8,77.4 488.3,77.9 487.8,77.8 487.3,77.8 486.8,77.3 486.3,77.3 485.8,77.5 485.3,77.6 484.8,77.7 484.3,77.4 483.8,77.6 483.3,77.3 482.8,77.3 482.3,77.7 481.8,77.6 481.3,77.6 480.8,77.4 480.3,77.4 479.8,77.2 479.3,77.3 478.8,77.5 478.3,77.5 477.8,77.0 477.3,77.0 476.8,77.4 476.3,77.3 475.8,77.4 475.3,77.0 474.8,77.2 474.3,77.1 473.8,77.4 473.3,77.1 472.8,77.3 472.3,77.6 471.8,77.2 471.3,77.4 470.8,77.6 470.3,77.7 469.8,77.5 469.3,77.5 468.8,77.4 468.3,77.9 467.8,77.5 467.3,77.5 466.8,77.9 466.3,77.9 465.8,78.0 465.3,77.8 464.8,78.1 464.3,77.8 463.8,77.9 463.3,78.2 462.8,77.9 462.3,78.1 461.8,78.4 461.3,78.4 460.8,78.2 460.3,78.2 459.8,78.3 459.3,78.5 458.8,78.3 458.3,78.2 457.8,78.5 457.3,78.4 456.8,78.6 456.3,78.6 455.8,78.5 455.3,78.1 454.8,78.3 454.3,77.9 453.8,77.8 453.3,77.8 452.8,78.0 452.3,77.9 451.8,77.4 451.3,77.4 450.8,77.3 450.3,77.2 449.8,77.2 449.3,77.1 448.8,76.9 448.3,77.1 447.8,77.1 447.3,76.9 446.8,76.9 446.3,76.7 445.8,76.4 445.3,76.7 444.8,76.7 444.3,76.2 443.8,76.0 443.3,76.3 442.8,76.3 442.3,76.4 441.8,76.6 441.3,76.5 440.8,76.7 440.3,76.4 439.8,76.8 439.3,77.0 438.8,76.7 438.3,76.9 437.8,77.4 437.3,77.6 436.8,77.2 436.3,77.7 435.8,77.5 435.3,78.0 434.8,78.1 434.3,78.0 433.8,78.1 433.3,78.5 432.8,78.4 432.3,78.7 431.8,78.5 431.3,78.6 430.8,79.1 430.3,79.0 429.8,78.9 429.3,79.0 428.8,79.1 428.3,79.1 427.8,79.1 427.3,78.7 426.8,78.9 426.3,78.6 425.8,78.6 425.3,78.4 424.8,78.2 424.3,78.0 423.8,77.8 423.3,77.4 422.8,77.1 422.3,77.0 421.8,76.7 421.3,76.2 420.8,75.9 420.3,75.4 419.8,75.5 419.3,75.3 418.8,74.6 418.3,74.2 417.8,73.9 417.3,73.6 416.8,73.1 416.3,73.1 415.8,72.2 415.3,72.0 414.8,71.8 414.3,72.1 413.8,72.2 413.3,71.8 412.8,71.7 412.3,72.0 411.8,72.0 411.3,72.2 410.8,71.7 410.3,71.7 409.8,71.8 409.3,71.8 408.8,71.8 408.3,72.1 407.8,72.0 407.3,71.8 406.8,71.7 406.3,71.8 405.8,71.7 405.3,72.1 404.8,71.8 404.3,71.9 403.8,72.1 403.3,71.9 402.8,71.8 402.3,72.1 401.8,72.2 401.3,71.8 400.8,71.9 400.3,72.2 399.8,71.9 399.3,71.7 398.8,71.6 398.3,72.2 397.8,72.1 397.3,71.8 396.8,71.9 396.3,71.9 395.8,71.7 395.3,72.2 394.8,72.0 394.3,71.7 393.8,71.6 393.3,71.8 392.8,71.8 392.3,72.0 391.8,72.0 391.3,71.9 390.8,71.6 390.3,71.6 389.8,71.7 389.3,71.7 388.8,72.1 388.3,71.9 387.8,71.9 387.3,72.1 386.8,71.7 386.3,71.9 385.8,71.6 385.3,72.0 384.8,71.5 384.3,72.0 383.8,72.0 383.3,72.0 382.8,71.6 382.3,71.7 381.8,72.0 381.3,71.6 380.8,71.8 380.3,71.8 379.8,72.1 379.3,71.9 378.8,72.0 378.3,71.7 377.8,72.0 377.3,71.8 376.8,72.1 376.3,71.6 375.8,72.0 375.3,71.7 374.8,71.9 374.3,71.8 373.8,71.6 373.3,72.0 372.8,71.7 372.3,71.7 371.8,71.6 371.3,71.7 370.8,71.8 370.3,72.0 369.8,71.7 369.3,71.9 368.8,71.6 368.3,71.8 367.8,71.8 367.3,72.1 366.8,72.0 366.3,71.9 365.8,71.5 365.3,71.8 364.8,72.0 364.3,71.7 363.8,71.9 363.3,71.8 362.8,71.5 362.3,72.1 361.8,72.0 361.3,71.7 360.8,71.9 360.3,71.7 359.8,71.8 359.3,71.9 358.8,71.7 358.3,71.7 357.8,71.8 357.3,71.9 356.8,71.7 356.3,71.7 355.8,72.0 355.3,71.8 354.8,72.1 354.3,71.9 353.8,72.0 353.3,71.8 352.8,72.1 352.3,71.6 351.8,71.6 351.3,71.6 350.8,72.0 350.3,72.0 349.8,71.7 349.3,71.8 348.8,72.1 348.3,71.9 347.8,71.6 347.3,71.7 346.8,71.7 346.3,71.6 345.8,71.8 345.3,71.6 344.8,72.1 344.3,71.8 343.8,71.9 343.3,72.0 342.8,72.0 342.3,72.1 341.8,71.8 341.3,71.8 340.8,71.8 340.3,71.6 339.8,71.8 339.3,72.0 338.8,72.2 338.3,72.1 337.8,72.0 337.3,72.0 336.8,71.6 336.3,71.8 335.8,71.8 335.3,72.0 334.8,71.7 334.3,71.8 333.8,71.9 333.3,72.1 332.8,72.1 332.3,72.0 331.8,71.7 331.3,72.1 330.8,72.2 330.3,72.0 329.8,71.8 329.3,71.9 328.8,71.7 328.3,72.1 327.8,72.2 327.3,71.9 326.8,72.1 326.3,72.1 325.8,71.8 325.3,72.2 324.8,72.0 324.3,71.8 323.8,71.7 323.3,71.8 322.8,72.0 322.3,72.1 321.8,71.8 321.3,72.2 320.8,71.9 320.3,71.9 319.8,71.7 319.3,72.2 318.8,71.7 318.3,72.2 317.8,72.0 317.3,72.0 316.8,72.0 316.3,71.8 315.8,72.2 315.3,72.3 314.8,72.2 314.3,72.0 313.8,71.7 313.3,72.2 312.8,71.8 312.3,72.2 311.8,71.8 311.3,72.0 310.8,72.2 310.3,71.8 309.8,72.0 309.3,71.7 308.8,71.7 308.3,71.8 307.8,72.3 307.3,72.2 306.8,72.1 306.3,71.9 305.8,72.1 305.3,72.1 304.8,71.9 304.3,72.0 303.8,72.2 303.3,71.7 302.8,71.8 302.3,72.0 301.8,71.8 301.3,71.9 300.8,72.0 300.3,71.8 299.8,72.0 299.3,71.9 298.8,72.0 298.3,71.9 297.8,72.1 297.3,71.7 296.8,72.1 296.3,71.8 295.8,72.3 295.3,72.1 294.8,72.0 294.3,71.9 293.8,72.1 293.3,72.1 292.8,72.2 292.3,72.2"/>
<polygon points="292.3,78.6 292.8,78.9 293.3,78.8 293.8,78.8 294.3,78.5 294.8,78.6 295.3,78.6 295.8,78.8 296.3,78.6 296.8,78.6 297.3,78.6 297.8,78.8 298.3,78.5 298.8,78.3 299.3,78.7 299.8,78.8 300.3,78.7 300.8,78.7 301.3,78.8 301.8,78.5 302.3,78.7 302.8,78.3 303.3,78.4 303.8,78.6 304.3,78.6 304.8,78.5 305.3,78.3 305.8,78.7 306.3,78.6 306.8,78.4 307.3,78.5 307.8,78.5 308.3,78.4 308.8,78.3 309.3,78.8 309.8,78.9 310.3,78.7 310.8,78.8 311.3,78.6 311.8,78.8 312.3,78.4 312.8,78.7 313.3,78.6 313.8,78.8 314.3,78.4 314.8,78.8 315.3,78.4 315.8,78.6 316.3,78.9 316.8,78.3 317.3,78.4 317.8,78.5 318.3,78.5 318.8,78.3 319.3,78.8 319.8,78.8 320.3,78.5 320.8,78.5 321.3,78.7 321.8,78.3 322.3,78.3 322.8,78.8 323.3,78.5 323.8,78.6 324.3,78.9 324.8,78.9 325.3,78.6 325.8,78.4 326.3,78.5 326.8,78.9 327.3,78.8 327.8,78.4 328.3,78.8 328.8,78.5 329.3,78.6 329.8,78.4 330.3,78.8 330.8,78.9 331.3,78.4 331.8,78.7 332.3,78.4 332.8,78.8 333.3,78.3 333.8,78.4 334.3,78.7 334.8,78.5 335.3,78.8 335.8,78.8 336.3,78.7 336.8,78.4 337.3,78.7 337.8,78.9 338.3,78.6 338.8,78.3 339.3,78.4 339.8,78.5 340.3,78.7 340.8,78.4 341.3,78.4 341.8,78.4 342.3,78.7 342.8,78.8 343.3,78.5 343.8,78.7 344.3,78.8 344.8,78.7 345.3,78.4 345.8,78.5 346.3,78.9 346.8,78.7 347.3,78.5 347.8,78.7 348.3,78.4 348.8,78.9 349.3,78.6 349.8,78.6 350.3,78.6 350.8,78.3 351.3,78.7 351.8,78.5 352.3,78.5 352.8,78.8 353.3,78.4 353.8,78.5 354.3,78.8 354.8,78.4 355.3,78.5 355.8,78.6 356.3,78.4 356.8,78.8 357.3,78.9 357.8,78.3 358.3,78.6 358.8,78.8 359.3,78.5 359.8,78.9 360.3,78.6 360.8,78.4 361.3,78.6 361.8,78.7 362.3,78.5 362.8,78.7 363.3,78.8 363.8,78.6 364.3,78.6 364.8,78.8 365.3,78.7 365.8,78.6 366.3,78.9 366.8,78.4 367.3,78.8 367.8,78.4 368.3,78.7 368.8,78.4 369.3,78.6 369.8,78.8 370.3,78.8 370.8,78.8 371.3,78.4 371.8,78.6 372.3,78.4 372.8,78.6 373.3,78.6 373.8,78.3 374.3,78.7 374.8,78.7 375.3,78.6 375.8,78.8 376.3,78.4 376.8,78.4 377.3,78.3 377.8,78.6 378.3,78.6 378.8,78.6 379.3,78.5 379.8,78.8 380.3,78.3 380.8,78.8 381.3,78.6 381.8,78.6 382.3,78.8 382.8,78.4 383.3,78.4 383.8,78.5 384.3,78.3 384.8,78.5 385.3,78.7 385.8,78.6 386.3,78.5 386.8,78.7 387.3,78.4 387.8,78.8 388.3,78.4 388.8,78.5 389.3,78.4 389.8,78.7 390.3,78.8 390.8,78.8 391.3,78.3 391.8,78.5 392.3,78.5 392.8,78.4 393.3,78.9 393.8,78.3 394.3,78.6 394.8,78.8 395.3,78.9 395.8,78.4 396.3,78.6 396.8,78.7 397.3,78.3 397.8,78.4 398.3,78.8 398.8,78.4 399.3,78.5 399.8,78.5 400.3,78.6 400.8,78.3 401.3,78.3 401.8,78.9 402.3,78.8 402.8,78.7 403.3,78.4 403.8,78.5 404.3,78.6 404.8,78.4 405.3,78.6 405.8,78.9 406.3,78.5 406.8,78.5 407.3,78.9 407.8,78.7 408.3,78.3 408.8,78.5 409.3,78.7 409.8,78.3 410.3,78.5 410.8,78.7 411.3,78.8 411.8,78.7 412.3,78.8 412.8,78.6 413.3,78.5 413.3,95.9 412.8,95.6 412.3,95.9 411.8,95.5 411.3,95.6 410.8,95.5 410.3,95.7 409.8,95.5 409.3,95.5 408.8,95.5 408.3,95.7 407.8,95.6 407.3,95.7 406.8,96.0 406.3,95.8 405.8,95.9 405.3,95.5 404.8,95.6 404.3,95.4 403.8,95.8 403.3,95.6 402.8,95.6 402.3,95.4 401.8,95.5 401.3,95.6 400.8,95.6 400.3,96.0 399.8,95.8 399.3,95.6 398.8,95.6 398.3,95.5 397.8,96.0 397.3,95.6 396.8,95.9 396.3,95.8 395.8,95.9 395.3,95.4 394.8,95.6 394.3,95.6 393.8,95.4 393.3,95.9 392.8,95.6 392.3,95.9 391.8,95.7 391.3,95.4 390.8,95.6 390.3,95.5 389.8,95.4 389.3,95.5 388.8,95.8 388.3,95.4 387.8,95.6 387.3,95.7 386.8,95.7 386.3,95.5 385.8,95.8 385.3,95.6 384.8,95.8 384.3,95.8 383.8,95.5 383.3,95.5 382.8,95.6 382.3,95.8 381.8,95.6 381.3,95.6 380.8,95.9 380.3,95.5 379.8,95.6 379.3,95.6 378.8,95.5 378.3,95.4 377.8,95.4 377.3,95.8 376.8,95.7 376.3,95.9 375.8,96.0 375.3,95.6 374.8,95.8 374.3,96.0 373.8,95.5 373.3,95.8 372.8,95.8 372.3,96.0 371.8,95.9 371.3,95.5 370.8,95.8 370.3,95.5 369.8,95.7 369.3,95.6 368.8,95.4 368.3,95.6 367.8,95.6 367.3,95.7 366.8,95.6 366.3,95.5 365.8,95.6 365.3,95.7 364.8,95.5 364.3,95.8 363.8,95.5 363.3,95.5 362.8,95.6 362.3,95.7 361.8,95.5 361.3,95.7 360.8,95.8 360.3,95.7 359.8,95.8 359.3,95.4 358.8,95.6 358.3,95.6 357.8,95.4 357.3,95.6 356.8,95.4 356.3,95.7 355.8,95.8 355.3,95.7 354.8,95.6 354.3,95.6 353.8,95.4 353.3,95.6 352.8,95.9 352.3,95.7 351.8,95.6 351.3,95.8 350.8,95.5 350.3,95.7 349.8,95.8 349.3,96.0 348.8,95.6 348.3,95.7 347.8,96.0 347.3,95.9 346.8,95.8 346.3,95.8 345.8,95.6 345.3,95.6 344.8,95.6 344.3,95.9 343.8,95.9 343.3,95.6 342.8,95.9 342.3,95.4 341.8,95.5 341.3,95.7 340.8,95.6 340.3,95.6 339.8,96.0 339.3,95.5 338.8,95.5 338.3,95.5 337.8,95.8 337.3,95.5 336.8,95.4 336.3,95.7 335.8,95.6 335.3,95.5 334.8,95.7 334.3,95.8 333.8,95.7 333.3,95.8 332.8,95.7 332.3,95.9 331.8,96.0 331.3,95.6 330.8,95.6 330.3,95.9 329.8,95.6 329.3,95.8 328.8,95.8 328.3,95.8 327.8,96.0 327.3,95.9 326.8,95.5 326.3,95.8 325.8,95.7 325.3,95.7 324.8,95.6 324.3,95.6 323.8,95.8 323.3,95.7 322.8,95.5 322.3,95.5 321.8,95.6 321.3,95.5 320.8,95.7 320.3,95.5 319.8,95.4 319.3,95.4 318.8,95.5 318.3,95.8 317.8,95.5 317.3,95.7 316.8,95.9 316.3,95.7 315.8,95.5 315.3,95.9 314.8,95.9 314.3,95.4 313.8,95.6 313.3,95.7 312.8,95.9 312.3,95.6 311.8,95.8 311.3,95.6 310.8,95.8 310.3,95.6 309.8,95.6 309.3,95.9 308.8,95.9 308.3,95.9 307.8,95.7 307.3,95.7 306.8,95.8 306.3,95.8 305.8,95.9 305.3,95.9 304.8,95.5 304.3,95.6 303.8,95.8 303.3,95.5 302.8,95.5 302.3,95.4 301.8,95.8 301.3,96.0 300.8,96.0 300.3,95.5 299.8,95.8 299.3,95.7 298.8,95.8 298.3,95.6 297.8,96.0 297.3,96.0 296.8,95.4 296.3,95.8 295.8,95.5 295.3,95.4 294.8,95.6 294.3,95.8 293.8,96.0 293.3,95.5 292.8,95.6 292.3,95.4" fill="#ce00de"/><clipPath id="c0mg1"><polygon points="292.3,78.6 292.8,78.9 293.3,78.8 293.8,78.8 294.3,78.5 294.8,78.6 295.3,78.6 295.8,78.8 296.3,78.6 296.8,78.6 297.3,78.6 297.8,78.8 298.3,78.5 298.8,78.3 299.3,78.7 299.8,78.8 300.3,78.7 300.8,78.7 301.3,78.8 301.8,78.5 302.3,78.7 302.8,78.3 303.3,78.4 303.8,78.6 304.3,78.6 304.8,78.5 305.3,78.3 305.8,78.7 306.3,78.6 306.8,78.4 307.3,78.5 307.8,78.5 308.3,78.4 308.8,78.3 309.3,78.8 309.8,78.9 310.3,78.7 310.8,78.8 311.3,78.6 311.8,78.8 312.3,78.4 312.8,78.7 313.3,78.6 313.8,78.8 314.3,78.4 314.8,78.8 315.3,78.4 315.8,78.6 316.3,78.9 316.8,78.3 317.3,78.4 317.8,78.5 318.3,78.5 318.8,78.3 319.3,78.8 319.8,78.8 320.3,78.5 320.8,78.5 321.3,78.7 321.8,78.3 322.3,78.3 322.8,78.8 323.3,78.5 323.8,78.6 324.3,78.9 324.8,78.9 325.3,78.6 325.8,78.4 326.3,78.5 326.8,78.9 327.3,78.8 327.8,78.4 328.3,78.8 328.8,78.5 329.3,78.6 329.8,78.4 330.3,78.8 330.8,78.9 331.3,78.4 331.8,78.7 332.3,78.4 332.8,78.8 333.3,78.3 333.8,78.4 334.3,78.7 334.8,78.5 335.3,78.8 335.8,78.8 336.3,78.7 336.8,78.4 337.3,78.7 337.8,78.9 338.3,78.6 338.8,78.3 339.3,78.4 339.8,78.5 340.3,78.7 340.8,78.4 341.3,78.4 341.8,78.4 342.3,78.7 342.8,78.8 343.3,78.5 343.8,78.7 344.3,78.8 344.8,78.7 345.3,78.4 345.8,78.5 346.3,78.9 346.8,78.7 347.3,78.5 347.8,78.7 348.3,78.4 348.8,78.9 349.3,78.6 349.8,78.6 350.3,78.6 350.8,78.3 351.3,78.7 351.8,78.5 352.3,78.5 352.8,78.8 353.3,78.4 353.8,78.5 354.3,78.8 354.8,78.4 355.3,78.5 355.8,78.6 356.3,78.4 356.8,78.8 357.3,78.9 357.8,78.3 358.3,78.6 358.8,78.8 359.3,78.5 359.8,78.9 360.3,78.6 360.8,78.4 361.3,78.6 361.8,78.7 362.3,78.5 362.8,78.7 363.3,78.8 363.8,78.6 364.3,78.6 364.8,78.8 365.3,78.7 365.8,78.6 366.3,78.9 366.8,78.4 367.3,78.8 367.8,78.4 368.3,78.7 368.8,78.4 369.3,78.6 369.8,78.8 370.3,78.8 370.8,78.8 371.3,78.4 371.8,78.6 372.3,78.4 372.8,78.6 373.3,78.6 373.8,78.3 374.3,78.7 374.8,78.7 375.3,78.6 375.8,78.8 376.3,78.4 376.8,78.4 377.3,78.3 377.8,78.6 378.3,78.6 378.8,78.6 379.3,78.5 379.8,78.8 380.3,78.3 380.8,78.8 381.3,78.6 381.8,78.6 382.3,78.8 382.8,78.4 383.3,78.4 383.8,78.5 384.3,78.3 384.8,78.5 385.3,78.7 385.8,78.6 386.3,78.5 386.8,78.7 387.3,78.4 387.8,78.8 388.3,78.4 388.8,78.5 389.3,78.4 389.8,78.7 390.3,78.8 390.8,78.8 391.3,78.3 391.8,78.5 392.3,78.5 392.8,78.4 393.3,78.9 393.8,78.3 394.3,78.6 394.8,78.8 395.3,78.9 395.8,78.4 396.3,78.6 396.8,78.7 397.3,78.3 397.8,78.4 398.3,78.8 398.8,78.4 399.3,78.5 399.8,78.5 400.3,78.6 400.8,78.3 401.3,78.3 401.8,78.9 402.3,78.8 402.8,78.7 403.3,78.4 403.8,78.5 404.3,78.6 404.8,78.4 405.3,78.6 405.8,78.9 406.3,78.5 406.8,78.5 407.3,78.9 407.8,78.7 408.3,78.3 408.8,78.5 409.3,78.7 409.8,78.3 410.3,78.5 410.8,78.7 411.3,78.8 411.8,78.7 412.3,78.8 412.8,78.6 413.3,78.5 413.3,95.9 412.8,95.6 412.3,95.9 411.8,95.5 411.3,95.6 410.8,95.5 410.3,95.7 409.8,95.5 409.3,95.5 408.8,95.5 408.3,95.7 407.8,95.6 407.3,95.7 406.8,96.0 406.3,95.8 405.8,95.9 405.3,95.5 404.8,95.6 404.3,95.4 403.8,95.8 403.3,95.6 402.8,95.6 402.3,95.4 401.8,95.5 401.3,95.6 400.8,95.6 400.3,96.0 399.8,95.8 399.3,95.6 398.8,95.6 398.3,95.5 397.8,96.0 397.3,95.6 396.8,95.9 396.3,95.8 395.8,95.9 395.3,95.4 394.8,95.6 394.3,95.6 393.8,95.4 393.3,95.9 392.8,95.6 392.3,95.9 391.8,95.7 391.3,95.4 390.8,95.6 390.3,95.5 389.8,95.4 389.3,95.5 388.8,95.8 388.3,95.4 387.8,95.6 387.3,95.7 386.8,95.7 386.3,95.5 385.8,95.8 385.3,95.6 384.8,95.8 384.3,95.8 383.8,95.5 383.3,95.5 382.8,95.6 382.3,95.8 381.8,95.6 381.3,95.6 380.8,95.9 380.3,95.5 379.8,95.6 379.3,95.6 378.8,95.5 378.3,95.4 377.8,95.4 377.3,95.8 376.8,95.7 376.3,95.9 375.8,96.0 375.3,95.6 374.8,95.8 374.3,96.0 373.8,95.5 373.3,95.8 372.8,95.8 372.3,96.0 371.8,95.9 371.3,95.5 370.8,95.8 370.3,95.5 369.8,95.7 369.3,95.6 368.8,95.4 368.3,95.6 367.8,95.6 367.3,95.7 366.8,95.6 366.3,95.5 365.8,95.6 365.3,95.7 364.8,95.5 364.3,95.8 363.8,95.5 363.3,95.5 362.8,95.6 362.3,95.7 361.8,95.5 361.3,95.7 360.8,95.8 360.3,95.7 359.8,95.8 359.3,95.4 358.8,95.6 358.3,95.6 357.8,95.4 357.3,95.6 356.8,95.4 356.3,95.7 355.8,95.8 355.3,95.7 354.8,95.6 354.3,95.6 353.8,95.4 353.3,95.6 352.8,95.9 352.3,95.7 351.8,95.6 351.3,95.8 350.8,95.5 350.3,95.7 349.8,95.8 349.3,96.0 348.8,95.6 348.3,95.7 347.8,96.0 347.3,95.9 346.8,95.8 346.3,95.8 345.8,95.6 345.3,95.6 344.8,95.6 344.3,95.9 343.8,95.9 343.3,95.6 342.8,95.9 342.3,95.4 341.8,95.5 341.3,95.7 340.8,95.6 340.3,95.6 339.8,96.0 339.3,95.5 338.8,95.5 338.3,95.5 337.8,95.8 337.3,95.5 336.8,95.4 336.3,95.7 335.8,95.6 335.3,95.5 334.8,95.7 334.3,95.8 333.8,95.7 333.3,95.8 332.8,95.7 332.3,95.9 331.8,96.0 331.3,95.6 330.8,95.6 330.3,95.9 329.8,95.6 329.3,95.8 328.8,95.8 328.3,95.8 327.8,96.0 327.3,95.9 326.8,95.5 326.3,95.8 325.8,95.7 325.3,95.7 324.8,95.6 324.3,95.6 323.8,95.8 323.3,95.7 322.8,95.5 322.3,95.5 321.8,95.6 321.3,95.5 320.8,95.7 320.3,95.5 319.8,95.4 319.3,95.4 318.8,95.5 318.3,95.8 317.8,95.5 317.3,95.7 316.8,95.9 316.3,95.7 315.8,95.5 315.3,95.9 314.8,95.9 314.3,95.4 313.8,95.6 313.3,95.7 312.8,95.9 312.3,95.6 311.8,95.8 311.3,95.6 310.8,95.8 310.3,95.6 309.8,95.6 309.3,95.9 308.8,95.9 308.3,95.9 307.8,95.7 307.3,95.7 306.8,95.8 306.3,95.8 305.8,95.9 305.3,95.9 304.8,95.5 304.3,95.6 303.8,95.8 303.3,95.5 302.8,95.5 302.3,95.4 301.8,95.8 301.3,96.0 300.8,96.0 300.3,95.5 299.8,95.8 299.3,95.7 298.8,95.8 298.3,95.6 297.8,96.0 297.3,96.0 296.8,95.4 296.3,95.8 295.8,95.5 295.3,95.4 294.8,95.6 294.3,95.8 293.8,96.0 293.3,95.5 292.8,95.6 292.3,95.4"/></clipPath><path d="M293.1,75.6V98.7M295.7,75.6V98.7M298.3,75.6V98.7M300.9,75.6V98.7M303.5,75.6V98.7M306.1,75.6V98.7M308.7,75.6V98.7M311.3,75.6V98.7M313.9,75.6V98.7M316.5,75.6V98.7M319.1,75.6V98.7M321.7,75.6V98.7M324.3,75.6V98.7M326.9,75.6V98.7M329.5,75.6V98.7M332.1,75.6V98.7M334.7,75.6V98.7M337.3,75.6V98.7M339.9,75.6V98.7M342.5,75.6V98.7M345.1,75.6V98.7M347.7,75.6V98.7M350.3,75.6V98.7M352.9,75.6V98.7M355.5,75.6V98.7M358.1,75.6V98.7M360.7,75.6V98.7M363.3,75.6V98.7M365.9,75.6V98.7M368.5,75.6V98.7M371.1,75.6V98.7M373.7,75.6V98.7M376.3,75.6V98.7M378.9,75.6V98.7M381.5,75.6V98.7M384.1,75.6V98.7M386.7,75.6V98.7M389.3,75.6V98.7M391.9,75.6V98.7M394.5,75.6V98.7M397.1,75.6V98.7M399.7,75.6V98.7M402.3,75.6V98.7M404.9,75.6V98.7M407.5,75.6V98.7M410.1,75.6V98.7M412.7,75.6V98.7" stroke="#ae00c0" stroke-width="0.9" opacity="0.4" clip-path="url(#c0mg1)"/><polygon fill="none" stroke="#ae00c0" stroke-width="1.8" opacity="0.8" clip-path="url(#c0mg1)" points="292.3,78.6 292.8,78.9 293.3,78.8 293.8,78.8 294.3,78.5 294.8,78.6 295.3,78.6 295.8,78.8 296.3,78.6 296.8,78.6 297.3,78.6 297.8,78.8 298.3,78.5 298.8,78.3 299.3,78.7 299.8,78.8 300.3,78.7 300.8,78.7 301.3,78.8 301.8,78.5 302.3,78.7 302.8,78.3 303.3,78.4 303.8,78.6 304.3,78.6 304.8,78.5 305.3,78.3 305.8,78.7 306.3,78.6 306.8,78.4 307.3,78.5 307.8,78.5 308.3,78.4 308.8,78.3 309.3,78.8 309.8,78.9 310.3,78.7 310.8,78.8 311.3,78.6 311.8,78.8 312.3,78.4 312.8,78.7 313.3,78.6 313.8,78.8 314.3,78.4 314.8,78.8 315.3,78.4 315.8,78.6 316.3,78.9 316.8,78.3 317.3,78.4 317.8,78.5 318.3,78.5 318.8,78.3 319.3,78.8 319.8,78.8 320.3,78.5 320.8,78.5 321.3,78.7 321.8,78.3 322.3,78.3 322.8,78.8 323.3,78.5 323.8,78.6 324.3,78.9 324.8,78.9 325.3,78.6 325.8,78.4 326.3,78.5 326.8,78.9 327.3,78.8 327.8,78.4 328.3,78.8 328.8,78.5 329.3,78.6 329.8,78.4 330.3,78.8 330.8,78.9 331.3,78.4 331.8,78.7 332.3,78.4 332.8,78.8 333.3,78.3 333.8,78.4 334.3,78.7 334.8,78.5 335.3,78.8 335.8,78.8 336.3,78.7 336.8,78.4 337.3,78.7 337.8,78.9 338.3,78.6 338.8,78.3 339.3,78.4 339.8,78.5 340.3,78.7 340.8,78.4 341.3,78.4 341.8,78.4 342.3,78.7 342.8,78.8 343.3,78.5 343.8,78.7 344.3,78.8 344.8,78.7 345.3,78.4 345.8,78.5 346.3,78.9 346.8,78.7 347.3,78.5 347.8,78.7 348.3,78.4 348.8,78.9 349.3,78.6 349.8,78.6 350.3,78.6 350.8,78.3 351.3,78.7 351.8,78.5 352.3,78.5 352.8,78.8 353.3,78.4 353.8,78.5 354.3,78.8 354.8,78.4 355.3,78.5 355.8,78.6 356.3,78.4 356.8,78.8 357.3,78.9 357.8,78.3 358.3,78.6 358.8,78.8 359.3,78.5 359.8,78.9 360.3,78.6 360.8,78.4 361.3,78.6 361.8,78.7 362.3,78.5 362.8,78.7 363.3,78.8 363.8,78.6 364.3,78.6 364.8,78.8 365.3,78.7 365.8,78.6 366.3,78.9 366.8,78.4 367.3,78.8 367.8,78.4 368.3,78.7 368.8,78.4 369.3,78.6 369.8,78.8 370.3,78.8 370.8,78.8 371.3,78.4 371.8,78.6 372.3,78.4 372.8,78.6 373.3,78.6 373.8,78.3 374.3,78.7 374.8,78.7 375.3,78.6 375.8,78.8 376.3,78.4 376.8,78.4 377.3,78.3 377.8,78.6 378.3,78.6 378.8,78.6 379.3,78.5 379.8,78.8 380.3,78.3 380.8,78.8 381.3,78.6 381.8,78.6 382.3,78.8 382.8,78.4 383.3,78.4 383.8,78.5 384.3,78.3 384.8,78.5 385.3,78.7 385.8,78.6 386.3,78.5 386.8,78.7 387.3,78.4 387.8,78.8 388.3,78.4 388.8,78.5 389.3,78.4 389.8,78.7 390.3,78.8 390.8,78.8 391.3,78.3 391.8,78.5 392.3,78.5 392.8,78.4 393.3,78.9 393.8,78.3 394.3,78.6 394.8,78.8 395.3,78.9 395.8,78.4 396.3,78.6 396.8,78.7 397.3,78.3 397.8,78.4 398.3,78.8 398.8,78.4 399.3,78.5 399.8,78.5 400.3,78.6 400.8,78.3 401.3,78.3 401.8,78.9 402.3,78.8 402.8,78.7 403.3,78.4 403.8,78.5 404.3,78.6 404.8,78.4 405.3,78.6 405.8,78.9 406.3,78.5 406.8,78.5 407.3,78.9 407.8,78.7 408.3,78.3 408.8,78.5 409.3,78.7 409.8,78.3 410.3,78.5 410.8,78.7 411.3,78.8 411.8,78.7 412.3,78.8 412.8,78.6 413.3,78.5 413.3,95.9 412.8,95.6 412.3,95.9 411.8,95.5 411.3,95.6 410.8,95.5 410.3,95.7 409.8,95.5 409.3,95.5 408.8,95.5 408.3,95.7 407.8,95.6 407.3,95.7 406.8,96.0 406.3,95.8 405.8,95.9 405.3,95.5 404.8,95.6 404.3,95.4 403.8,95.8 403.3,95.6 402.8,95.6 402.3,95.4 401.8,95.5 401.3,95.6 400.8,95.6 400.3,96.0 399.8,95.8 399.3,95.6 398.8,95.6 398.3,95.5 397.8,96.0 397.3,95.6 396.8,95.9 396.3,95.8 395.8,95.9 395.3,95.4 394.8,95.6 394.3,95.6 393.8,95.4 393.3,95.9 392.8,95.6 392.3,95.9 391.8,95.7 391.3,95.4 390.8,95.6 390.3,95.5 389.8,95.4 389.3,95.5 388.8,95.8 388.3,95.4 387.8,95.6 387.3,95.7 386.8,95.7 386.3,95.5 385.8,95.8 385.3,95.6 384.8,95.8 384.3,95.8 383.8,95.5 383.3,95.5 382.8,95.6 382.3,95.8 381.8,95.6 381.3,95.6 380.8,95.9 380.3,95.5 379.8,95.6 379.3,95.6 378.8,95.5 378.3,95.4 377.8,95.4 377.3,95.8 376.8,95.7 376.3,95.9 375.8,96.0 375.3,95.6 374.8,95.8 374.3,96.0 373.8,95.5 373.3,95.8 372.8,95.8 372.3,96.0 371.8,95.9 371.3,95.5 370.8,95.8 370.3,95.5 369.8,95.7 369.3,95.6 368.8,95.4 368.3,95.6 367.8,95.6 367.3,95.7 366.8,95.6 366.3,95.5 365.8,95.6 365.3,95.7 364.8,95.5 364.3,95.8 363.8,95.5 363.3,95.5 362.8,95.6 362.3,95.7 361.8,95.5 361.3,95.7 360.8,95.8 360.3,95.7 359.8,95.8 359.3,95.4 358.8,95.6 358.3,95.6 357.8,95.4 357.3,95.6 356.8,95.4 356.3,95.7 355.8,95.8 355.3,95.7 354.8,95.6 354.3,95.6 353.8,95.4 353.3,95.6 352.8,95.9 352.3,95.7 351.8,95.6 351.3,95.8 350.8,95.5 350.3,95.7 349.8,95.8 349.3,96.0 348.8,95.6 348.3,95.7 347.8,96.0 347.3,95.9 346.8,95.8 346.3,95.8 345.8,95.6 345.3,95.6 344.8,95.6 344.3,95.9 343.8,95.9 343.3,95.6 342.8,95.9 342.3,95.4 341.8,95.5 341.3,95.7 340.8,95.6 340.3,95.6 339.8,96.0 339.3,95.5 338.8,95.5 338.3,95.5 337.8,95.8 337.3,95.5 336.8,95.4 336.3,95.7 335.8,95.6 335.3,95.5 334.8,95.7 334.3,95.8 333.8,95.7 333.3,95.8 332.8,95.7 332.3,95.9 331.8,96.0 331.3,95.6 330.8,95.6 330.3,95.9 329.8,95.6 329.3,95.8 328.8,95.8 328.3,95.8 327.8,96.0 327.3,95.9 326.8,95.5 326.3,95.8 325.8,95.7 325.3,95.7 324.8,95.6 324.3,95.6 323.8,95.8 323.3,95.7 322.8,95.5 322.3,95.5 321.8,95.6 321.3,95.5 320.8,95.7 320.3,95.5 319.8,95.4 319.3,95.4 318.8,95.5 318.3,95.8 317.8,95.5 317.3,95.7 316.8,95.9 316.3,95.7 315.8,95.5 315.3,95.9 314.8,95.9 314.3,95.4 313.8,95.6 313.3,95.7 312.8,95.9 312.3,95.6 311.8,95.8 311.3,95.6 310.8,95.8 310.3,95.6 309.8,95.6 309.3,95.9 308.8,95.9 308.3,95.9 307.8,95.7 307.3,95.7 306.8,95.8 306.3,95.8 305.8,95.9 305.3,95.9 304.8,95.5 304.3,95.6 303.8,95.8 303.3,95.5 302.8,95.5 302.3,95.4 301.8,95.8 301.3,96.0 300.8,96.0 300.3,95.5 299.8,95.8 299.3,95.7 298.8,95.8 298.3,95.6 297.8,96.0 297.3,96.0 296.8,95.4 296.3,95.8 295.8,95.5 295.3,95.4 294.8,95.6 294.3,95.8 293.8,96.0 293.3,95.5 292.8,95.6 292.3,95.4"/>
<polygon points="413.0,85.8 413.5,85.8 414.0,85.7 414.5,85.7 415.0,85.9 415.5,85.9 416.0,85.7 416.5,85.8 417.0,85.8 417.5,85.9 418.0,86.0 418.5,85.8 419.0,85.9 419.5,85.8 420.0,85.9 420.5,85.7 421.0,85.7 421.5,85.6 422.0,86.0 422.5,85.7 423.0,85.8 423.5,85.6 424.0,85.7 424.5,85.6 425.0,85.8 425.5,85.7 426.0,85.9 426.5,85.7 427.0,85.7 427.5,85.8 428.0,85.7 428.5,85.7 429.0,85.6 429.5,85.6 430.0,86.0 430.5,85.7 431.0,85.6 431.5,85.7 432.0,85.8 432.5,86.0 433.0,85.7 433.5,85.9 434.0,85.8 434.5,85.8 435.0,85.9 435.5,85.8 436.0,85.6 436.5,85.8 437.0,85.9 437.5,85.8 438.0,85.7 438.5,86.0 439.0,85.9 439.5,86.0 440.0,85.8 440.5,85.9 441.0,85.9 441.5,85.7 442.0,85.6 442.5,85.7 443.0,85.6 443.5,85.6 444.0,85.7 444.5,85.9 445.0,85.7 445.5,85.8 446.0,85.6 446.5,85.7 447.0,86.0 447.5,85.6 448.0,85.8 448.5,85.9 449.0,85.9 449.5,85.9 450.0,85.8 450.5,85.9 451.0,85.9 451.5,85.9 452.0,86.0 452.5,85.6 453.0,86.0 453.5,85.8 454.0,85.9 454.5,85.7 455.0,86.0 455.5,85.6 456.0,85.8 456.5,85.7 457.0,85.8 457.5,85.7 458.0,85.9 458.5,85.9 459.0,85.7 459.5,85.9 460.0,85.7 460.5,85.7 461.0,86.0 461.5,85.7 462.0,85.6 462.5,85.7 463.0,85.9 463.5,85.7 464.0,85.9 464.5,85.8 465.0,85.9 465.5,85.7 466.0,85.6 466.5,85.7 467.0,85.7 467.5,85.8 468.0,85.6 468.5,85.8 469.0,85.8 469.5,85.7 470.0,85.8 470.5,86.0 471.0,85.7 471.5,86.0 472.0,85.7 472.5,85.9 473.0,85.6 473.5,86.0 474.0,85.8 474.5,86.0 475.0,85.7 475.5,85.8 476.0,85.9 476.5,85.7 477.0,85.7 477.5,85.9 478.0,86.0 478.5,85.7 479.0,85.7 479.5,85.7 480.0,86.0 480.5,85.7 481.0,85.9 481.5,85.8 482.0,85.9 482.5,85.7 483.0,85.8 483.5,86.0 484.0,85.9 484.5,85.9 485.0,85.8 485.5,85.8 486.0,85.6 486.5,85.9 487.0,85.9 487.5,85.8 488.0,85.9 488.5,85.8 489.0,85.8 489.5,85.7 490.0,85.8 490.5,85.8 491.0,85.8 491.5,85.6 492.0,85.9 492.5,85.8 493.0,85.8 493.5,85.8 494.0,86.0 494.5,85.7 495.0,85.8 495.5,86.0 496.0,85.9 496.5,85.7 497.0,85.9 497.5,86.0 498.0,85.8 498.5,85.9 499.0,85.7 499.5,86.0 500.0,85.8 500.5,85.7 501.0,85.9 501.5,85.9 502.0,86.0 502.5,85.9 503.0,85.9 503.5,85.8 504.0,86.0 504.5,85.6 505.0,85.9 505.5,85.9 506.0,85.7 506.5,85.9 507.0,85.8 507.5,85.8 508.0,85.9 508.5,85.7 509.0,85.7 509.5,85.9 510.0,85.6 510.5,85.8 511.0,85.9 511.5,85.8 512.0,85.7 512.5,85.9 513.0,85.9 513.5,85.9 514.0,85.8 514.5,86.0 515.0,85.9 515.5,85.7 516.0,85.7 516.5,85.6 517.0,85.6 517.5,85.7 518.0,85.9 518.5,85.9 519.0,85.6 519.5,85.7 520.0,85.8 520.5,85.9 521.0,85.8 521.5,86.0 522.0,85.6 522.5,86.0 523.0,85.7 523.5,85.9 524.0,86.0 524.5,85.9 525.0,85.7 525.5,85.9 526.0,85.8 526.5,85.6 527.0,85.7 527.5,85.7 528.0,85.9 528.5,85.7 529.0,85.8 529.5,85.9 530.0,85.7 530.5,85.7 531.0,85.9 531.5,85.8 532.0,85.7 532.5,85.6 533.0,86.0 533.5,85.8 534.0,85.7 534.5,85.7 535.0,86.0 535.5,85.9 536.0,85.9 536.5,85.7 537.0,85.7 537.5,85.8 538.0,85.7 538.5,85.9 539.0,85.8 539.5,85.9 540.0,85.8 540.5,85.8 541.0,85.8 541.5,86.0 542.0,85.7 542.0,89.9 541.5,89.7 541.0,89.8 540.5,89.7 540.0,89.9 539.5,89.7 539.0,89.9 538.5,89.9 538.0,89.8 537.5,90.0 537.0,89.8 536.5,89.9 536.0,89.8 535.5,89.8 535.0,89.6 534.5,89.8 534.0,89.7 533.5,89.8 533.0,90.0 532.5,89.7 532.0,89.9 531.5,89.9 531.0,89.7 530.5,89.8 530.0,89.7 529.5,90.0 529.0,89.7 528.5,89.8 528.0,89.7 527.5,89.9 527.0,89.9 526.5,89.8 526.0,89.8 525.5,89.6 525.0,90.0 524.5,89.6 524.0,89.7 523.5,89.7 523.0,89.9 522.5,89.9 522.0,89.7 521.5,90.0 521.0,90.0 520.5,89.6 520.0,89.9 519.5,89.8 519.0,89.7 518.5,89.8 518.0,89.7 517.5,89.9 517.0,89.8 516.5,90.0 516.0,90.0 515.5,90.0 515.0,89.8 514.5,89.9 514.0,89.9 513.5,89.9 513.0,90.0 512.5,89.6 512.0,89.8 511.5,89.8 511.0,89.9 510.5,89.7 510.0,90.0 509.5,89.7 509.0,89.7 508.5,89.7 508.0,89.8 507.5,89.9 507.0,89.6 506.5,89.7 506.0,89.9 505.5,89.8 505.0,89.9 504.5,89.7 504.0,89.9 503.5,89.9 503.0,89.9 502.5,89.6 502.0,89.8 501.5,89.6 501.0,89.9 500.5,90.0 500.0,90.0 499.5,89.6 499.0,89.7 498.5,89.8 498.0,89.8 497.5,89.6 497.0,89.9 496.5,89.7 496.0,89.8 495.5,89.6 495.0,89.8 494.5,89.7 494.0,89.6 493.5,89.8 493.0,89.7 492.5,89.9 492.0,89.7 491.5,89.8 491.0,89.6 490.5,89.7 490.0,89.8 489.5,89.8 489.0,89.8 488.5,89.9 488.0,89.6 487.5,89.9 487.0,89.7 486.5,90.0 486.0,89.8 485.5,89.8 485.0,89.8 484.5,89.9 484.0,90.0 483.5,89.8 483.0,89.6 482.5,89.7 482.0,89.9 481.5,89.9 481.0,89.9 480.5,89.7 480.0,89.8 479.5,89.6 479.0,89.6 478.5,89.7 478.0,90.0 477.5,89.9 477.0,89.9 476.5,89.6 476.0,89.8 475.5,89.6 475.0,89.7 474.5,89.6 474.0,90.0 473.5,89.7 473.0,89.8 472.5,89.9 472.0,90.0 471.5,90.0 471.0,89.8 470.5,89.8 470.0,90.0 469.5,89.8 469.0,89.7 468.5,89.9 468.0,89.7 467.5,89.7 467.0,89.8 466.5,89.8 466.0,89.7 465.5,89.8 465.0,89.8 464.5,89.6 464.0,89.9 463.5,89.6 463.0,89.8 462.5,89.8 462.0,89.8 461.5,89.7 461.0,89.6 460.5,89.7 460.0,89.7 459.5,89.8 459.0,89.7 458.5,89.9 458.0,89.8 457.5,89.6 457.0,89.8 456.5,90.0 456.0,89.6 455.5,89.8 455.0,90.0 454.5,89.7 454.0,89.8 453.5,89.7 453.0,89.7 452.5,89.8 452.0,89.8 451.5,89.7 451.0,89.8 450.5,89.8 450.0,89.9 449.5,89.6 449.0,89.6 448.5,89.7 448.0,89.7 447.5,89.9 447.0,89.8 446.5,89.9 446.0,89.8 445.5,89.7 445.0,89.9 444.5,89.6 444.0,90.0 443.5,89.9 443.0,89.7 442.5,89.7 442.0,89.9 441.5,89.9 441.0,89.9 440.5,89.6 440.0,89.9 439.5,89.6 439.0,89.8 438.5,89.8 438.0,90.0 437.5,89.9 437.0,89.6 436.5,90.0 436.0,89.9 435.5,89.8 435.0,89.6 434.5,89.9 434.0,89.8 433.5,89.9 433.0,90.0 432.5,90.0 432.0,89.6 431.5,89.9 431.0,89.8 430.5,89.9 430.0,89.8 429.5,89.8 429.0,89.8 428.5,89.6 428.0,89.7 427.5,89.9 427.0,89.6 426.5,89.6 426.0,89.9 425.5,89.9 425.0,89.8 424.5,89.6 424.0,89.6 423.5,89.7 423.0,90.0 422.5,89.8 422.0,90.0 421.5,89.7 421.0,89.8 420.5,89.8 420.0,89.9 419.5,89.6 419.0,89.9 418.5,89.8 418.0,89.6 417.5,89.8 417.0,89.8 416.5,89.9 416.0,90.0 415.5,89.8 415.0,89.9 414.5,89.8 414.0,89.9 413.5,89.6 413.0,89.9" fill="#ce00de"/>
<polygon points="292.3,112.4 292.8,112.7 293.3,112.4 293.8,112.5 294.3,112.4 294.8,112.5 295.3,112.7 295.8,112.6 296.3,112.5 296.8,112.6 297.3,112.8 297.8,112.5 298.3,112.7 298.8,112.6 299.3,112.9 299.8,112.5 300.3,112.7 300.8,112.5 301.3,112.5 301.8,112.8 302.3,112.7 302.8,112.5 303.3,112.4 303.8,112.8 304.3,112.6 304.8,112.8 305.3,112.6 305.8,112.7 306.3,112.7 306.8,112.9 307.3,112.9 307.8,112.6 308.3,112.6 308.8,112.5 309.3,112.8 309.8,112.4 310.3,112.5 310.8,112.9 311.3,112.4 311.8,112.8 312.3,112.7 312.8,112.7 313.3,112.6 313.8,112.5 314.3,113.0 314.8,112.9 315.3,112.9 315.8,112.5 316.3,112.9 316.8,112.5 317.3,112.5 317.8,112.7 318.3,112.8 318.8,112.5 319.3,112.9 319.8,112.8 320.3,113.0 320.8,113.0 321.3,112.9 321.8,112.7 322.3,113.0 322.8,112.9 323.3,112.6 323.8,113.0 324.3,112.9 324.8,112.6 325.3,112.6 325.8,112.5 326.3,112.8 326.8,112.6 327.3,112.7 327.8,112.7 328.3,112.6 328.8,112.8 329.3,112.7 329.8,112.7 330.3,112.7 330.8,112.8 331.3,113.1 331.8,112.6 332.3,113.1 332.8,113.1 333.3,112.9 333.8,112.9 334.3,113.0 334.8,112.9 335.3,113.0 335.8,113.1 336.3,113.0 336.8,112.7 337.3,112.6 337.8,113.2 338.3,112.8 338.8,113.1 339.3,112.7 339.8,112.9 340.3,112.8 340.8,113.1 341.3,113.2 341.8,112.9 342.3,113.0 342.8,112.8 343.3,112.8 343.8,113.2 344.3,112.7 344.8,113.2 345.3,113.0 345.8,112.7 346.3,113.2 346.8,112.7 347.3,113.0 347.8,112.7 348.3,113.3 348.8,112.9 349.3,113.2 349.8,112.7 350.3,113.1 350.8,112.7 351.3,112.7 351.8,113.0 352.3,113.3 352.8,113.1 353.3,113.2 353.8,113.2 354.3,113.0 354.8,112.8 355.3,113.0 355.8,112.8 356.3,113.0 356.8,112.9 357.3,113.0 357.8,112.9 358.3,113.2 358.8,113.0 359.3,113.0 359.8,112.8 360.3,113.0 360.8,113.1 361.3,113.3 361.8,113.1 362.3,112.8 362.8,112.9 363.3,113.0 363.8,113.2 364.3,113.3 364.8,113.4 365.3,113.3 365.8,113.3 366.3,113.3 366.8,113.3 367.3,112.8 367.8,113.1 368.3,113.1 368.8,113.2 369.3,113.2 369.8,113.2 370.3,113.3 370.8,112.8 371.3,113.1 371.8,113.4 372.3,112.8 372.8,112.9 373.3,113.3 373.8,113.4 374.3,112.8 374.8,112.8 375.3,113.3 375.8,113.2 376.3,113.1 376.8,113.1 377.3,113.2 377.8,113.3 378.3,112.8 378.8,112.8 379.3,113.3 379.8,113.4 380.3,113.3 380.8,113.0 381.3,113.0 381.8,113.0 382.3,112.8 382.8,113.2 383.3,112.9 383.8,113.1 384.3,113.1 384.8,113.0 385.3,113.2 385.8,113.0 386.3,112.9 386.8,113.3 387.3,112.8 387.8,112.8 388.3,112.9 388.8,113.0 389.3,113.2 389.8,112.9 390.3,112.9 390.8,113.1 391.3,112.9 391.8,113.0 392.3,112.8 392.8,113.2 393.3,112.8 393.8,112.8 394.3,112.9 394.8,112.9 395.3,113.1 395.8,113.1 396.3,113.1 396.8,113.0 397.3,112.7 397.8,113.1 398.3,112.8 398.8,112.7 399.3,112.9 399.8,113.2 400.3,112.8 400.8,112.8 401.3,113.1 401.8,113.2 402.3,112.8 402.8,112.6 403.3,113.0 403.8,113.0 404.3,112.7 404.8,113.0 405.3,112.7 405.8,112.7 406.3,112.8 406.8,112.9 407.3,112.7 407.8,112.9 408.3,112.4 408.8,112.7 409.3,112.6 409.8,112.4 410.3,112.9 410.8,112.5 411.3,112.5 411.8,112.9 412.3,112.9 412.8,112.9 413.3,112.5 413.8,112.9 414.3,108.2 414.8,105.2 415.3,104.9 415.8,104.5 416.3,104.7 416.8,105.4 417.3,105.9 417.8,106.2 418.3,106.7 418.8,106.7 419.3,107.0 419.8,107.2 420.3,107.6 420.8,108.4 421.3,108.3 421.8,108.7 422.3,109.1 422.8,109.2 423.3,109.6 423.8,109.8 424.3,110.0 424.8,110.4 425.3,110.6 425.8,110.8 426.3,111.0 426.8,110.9 427.3,111.2 427.8,110.6 428.3,110.6 428.8,110.3 429.3,110.3 429.8,110.4 430.3,110.3 430.8,109.8 431.3,109.4 431.8,109.4 432.3,109.4 432.8,109.1 433.3,109.2 433.8,109.2 434.3,108.7 434.8,108.6 435.3,108.6 435.8,108.3 436.3,108.0 436.8,108.3 437.3,108.3 437.8,107.6 438.3,108.0 438.8,107.8 439.3,107.6 439.8,107.7 440.3,107.7 440.8,108.1 441.3,107.9 441.8,107.8 442.3,108.0 442.8,108.5 443.3,108.4 443.8,108.6 444.3,108.6 444.8,108.6 445.3,108.6 445.8,109.0 446.3,109.0 446.8,109.2 447.3,109.6 447.8,109.5 448.3,109.7 448.8,109.9 449.3,109.8 449.8,109.9 450.3,110.3 450.8,110.2 451.3,110.1 451.8,110.3 452.3,110.3 452.8,110.2 453.3,110.6 453.8,110.2 454.3,110.7 454.8,110.6 455.3,110.6 455.8,110.1 456.3,110.3 456.8,110.5 457.3,110.0 457.8,109.8 458.3,110.1 458.8,109.7 459.3,109.9 459.8,109.5 460.3,109.9 460.8,109.5 461.3,109.3 461.8,109.7 462.3,109.4 462.8,109.5 463.3,109.5 463.8,109.7 464.3,109.4 464.8,109.3 465.3,109.1 465.8,109.3 466.3,109.2 466.8,109.4 467.3,109.4 467.8,109.3 468.3,109.0 468.8,109.2 469.3,109.2 469.8,109.3 470.3,109.5 470.8,109.1 471.3,109.2 471.8,108.9 472.3,109.4 472.8,109.0 473.3,109.4 473.8,109.4 474.3,109.0 474.8,109.4 475.3,109.2 475.8,109.1 476.3,109.2 476.8,109.4 477.3,109.2 477.8,109.2 478.3,109.0 478.8,109.4 479.3,109.2 479.8,109.1 480.3,109.0 480.8,109.0 481.3,109.4 481.8,109.4 482.3,109.5 482.8,109.4 483.3,109.3 483.8,109.4 484.3,109.3 484.8,109.4 485.3,109.4 485.8,109.0 486.3,109.4 486.8,109.1 487.3,109.0 487.8,109.4 488.3,108.9 488.8,109.2 489.3,109.1 489.8,109.4 490.3,109.3 490.8,109.4 491.3,109.5 491.8,109.3 492.3,108.9 492.8,109.3 493.3,109.0 493.8,109.5 494.3,109.4 494.8,109.1 495.3,109.0 495.8,109.3 496.3,109.4 496.8,109.5 497.3,109.3 497.8,109.0 498.3,109.3 498.8,108.9 499.3,109.4 499.8,109.4 500.3,109.4 500.8,109.4 501.3,109.2 501.8,109.5 502.3,109.3 502.8,109.2 503.3,109.1 503.8,109.1 504.3,108.9 504.8,109.0 505.3,109.4 505.8,109.0 506.3,109.3 506.8,109.4 507.3,109.3 507.8,109.2 508.3,109.1 508.8,109.1 509.3,109.0 509.8,109.3 510.3,109.3 510.8,109.5 511.3,109.1 511.8,109.5 512.3,109.4 512.8,109.1 513.3,109.5 513.8,109.3 514.3,109.5 514.8,109.4 515.3,109.1 515.8,109.1 516.3,109.2 516.8,109.2 517.3,108.9 517.8,109.4 518.3,109.2 518.8,109.2 519.3,109.3 519.8,109.0 520.3,109.0 520.8,109.2 521.3,109.0 521.8,109.1 522.3,108.9 522.8,108.9 523.3,109.1 523.8,109.2 524.3,109.5 524.8,109.3 525.3,109.1 525.8,109.1 526.3,109.0 526.8,109.2 527.3,109.5 527.8,109.0 528.3,109.2 528.8,109.3 529.3,109.4 529.8,109.2 530.3,109.3 530.8,109.5 531.3,109.4 531.8,109.1 532.3,109.2 532.8,109.5 533.3,109.2 533.8,109.0 534.3,109.4 534.8,108.9 535.3,109.0 535.8,109.2 536.3,109.1 536.8,109.3 537.3,109.3 537.8,109.1 538.3,109.4 538.8,109.3 539.3,109.3 539.8,109.2 540.3,109.2 540.8,109.0 541.3,109.2 541.8,109.5 542.3,109.4 542.3,129.9 541.8,129.9 541.3,130.1 540.8,130.3 540.3,130.2 539.8,130.0 539.3,130.1 538.8,130.2 538.3,130.3 537.8,130.1 537.3,130.3 536.8,130.3 536.3,130.2 535.8,129.9 535.3,130.3 534.8,129.9 534.3,129.9 533.8,130.1 533.3,129.9 532.8,129.9 532.3,130.1 531.8,130.1 531.3,129.9 530.8,130.4 530.3,130.4 529.8,130.1 529.3,130.2 528.8,130.0 528.3,130.4 527.8,129.9 527.3,130.0 526.8,130.0 526.3,130.3 525.8,130.1 525.3,130.1 524.8,130.0 524.3,130.3 523.8,130.0 523.3,130.3 522.8,130.2 522.3,130.1 521.8,130.0 521.3,130.0 520.8,130.1 520.3,130.0 519.8,130.1 519.3,130.0 518.8,130.0 518.3,130.2 517.8,130.0 517.3,130.0 516.8,130.3 516.3,130.0 515.8,130.0 515.3,130.3 514.8,130.3 514.3,130.2 513.8,130.0 513.3,130.1 512.8,130.2 512.3,129.9 511.8,130.2 511.3,130.3 510.8,130.1 510.3,130.1 509.8,130.0 509.3,130.1 508.8,129.8 508.3,130.2 507.8,130.0 507.3,130.3 506.8,129.9 506.3,130.1 505.8,129.7 505.3,129.9 504.8,130.1 504.3,129.8 503.8,130.0 503.3,129.8 502.8,129.9 502.3,130.3 501.8,129.8 501.3,130.2 500.8,129.7 500.3,130.0 499.8,130.1 499.3,130.1 498.8,129.9 498.3,130.0 497.8,130.1 497.3,130.1 496.8,130.1 496.3,130.0 495.8,129.8 495.3,130.0 494.8,130.0 494.3,129.9 493.8,130.2 493.3,129.7 492.8,130.1 492.3,129.8 491.8,130.0 491.3,130.2 490.8,129.8 490.3,129.9 489.8,129.9 489.3,129.9 488.8,129.7 488.3,130.0 487.8,130.1 487.3,130.0 486.8,129.8 486.3,130.1 485.8,129.8 485.3,129.7 484.8,130.0 484.3,129.9 483.8,129.9 483.3,130.2 482.8,129.9 482.3,130.2 481.8,129.8 481.3,130.1 480.8,129.6 480.3,129.8 479.8,130.0 479.3,130.0 478.8,130.1 478.3,129.8 477.8,129.8 477.3,129.8 476.8,129.9 476.3,129.6 475.8,129.8 475.3,130.0 474.8,129.7 474.3,129.8 473.8,130.1 473.3,130.2 472.8,129.8 472.3,129.7 471.8,129.7 471.3,129.7 470.8,130.1 470.3,130.0 469.8,129.7 469.3,129.9 468.8,130.0 468.3,129.5 467.8,130.0 467.3,130.0 466.8,129.6 466.3,129.9 465.8,129.8 465.3,129.6 464.8,129.9 464.3,129.5 463.8,129.6 463.3,129.5 462.8,129.5 462.3,129.7 461.8,129.5 461.3,129.5 460.8,129.7 460.3,129.2 459.8,129.2 459.3,129.3 458.8,129.0 458.3,129.4 457.8,129.0 457.3,129.0 456.8,129.0 456.3,129.2 455.8,129.2 455.3,129.1 454.8,128.8 454.3,128.9 453.8,129.2 453.3,128.9 452.8,129.4 452.3,129.4 451.8,129.1 451.3,129.3 450.8,129.3 450.3,129.7 449.8,129.4 449.3,129.9 448.8,129.6 448.3,130.2 447.8,130.1 447.3,130.3 446.8,130.1 446.3,130.2 445.8,130.6 445.3,131.1 444.8,131.0 444.3,131.3 443.8,130.9 443.3,131.0 442.8,131.0 442.3,131.4 441.8,131.0 441.3,131.0 440.8,131.1 440.3,130.9 439.8,130.6 439.3,130.5 438.8,130.2 438.3,130.2 437.8,130.0 437.3,129.9 436.8,129.7 436.3,129.6 435.8,129.5 435.3,129.2 434.8,129.3 434.3,129.3 433.8,129.0 433.3,128.8 432.8,129.2 432.3,128.8 431.8,128.7 431.3,128.5 430.8,128.7 430.3,128.5 429.8,128.3 429.3,128.2 428.8,128.1 428.3,128.0 427.8,128.0 427.3,128.0 426.8,128.1 426.3,128.2 425.8,128.3 425.3,128.5 424.8,128.8 424.3,129.0 423.8,128.8 423.3,128.9 422.8,129.3 422.3,129.4 421.8,130.2 421.3,130.4 420.8,130.6 420.3,130.9 419.8,131.7 419.3,132.0 418.8,132.3 418.3,132.6 417.8,133.0 417.3,133.3 416.8,133.8 416.3,134.3 415.8,134.9 415.3,135.2 414.8,135.1 414.3,130.9 413.8,126.4 413.3,126.5 412.8,127.0 412.3,126.7 411.8,126.7 411.3,126.5 410.8,126.8 410.3,126.6 409.8,126.9 409.3,126.3 408.8,126.9 408.3,126.3 407.8,126.3 407.3,126.5 406.8,126.6 406.3,126.3 405.8,126.6 405.3,126.8 404.8,126.5 404.3,126.6 403.8,126.5 403.3,126.5 402.8,126.3 402.3,126.4 401.8,126.7 401.3,126.5 400.8,126.3 400.3,126.4 399.8,126.4 399.3,126.3 398.8,126.4 398.3,126.5 397.8,126.1 397.3,126.2 396.8,126.5 396.3,126.2 395.8,126.1 395.3,126.5 394.8,126.2 394.3,126.6 393.8,126.4 393.3,126.1 392.8,126.4 392.3,126.2 391.8,126.5 391.3,126.4 390.8,126.5 390.3,126.0 389.8,126.0 389.3,126.5 388.8,126.1 388.3,126.1 387.8,126.0 387.3,126.1 386.8,126.3 386.3,126.5 385.8,126.2 385.3,126.1 384.8,126.5 384.3,126.1 383.8,126.3 383.3,126.3 382.8,126.5 382.3,126.0 381.8,126.3 381.3,126.2 380.8,126.4 380.3,126.1 379.8,126.4 379.3,126.1 378.8,126.2 378.3,126.5 377.8,126.1 377.3,126.1 376.8,126.5 376.3,126.3 375.8,126.0 375.3,126.0 374.8,126.1 374.3,126.1 373.8,126.4 373.3,126.4 372.8,126.5 372.3,126.3 371.8,126.3 371.3,126.2 370.8,126.4 370.3,126.2 369.8,126.0 369.3,126.2 368.8,126.2 368.3,126.3 367.8,126.0 367.3,126.0 366.8,126.5 366.3,126.2 365.8,126.1 365.3,126.0 364.8,126.3 364.3,126.5 363.8,126.1 363.3,126.3 362.8,126.3 362.3,126.4 361.8,126.3 361.3,126.1 360.8,126.1 360.3,126.4 359.8,126.0 359.3,126.5 358.8,126.0 358.3,126.1 357.8,126.3 357.3,126.5 356.8,126.4 356.3,126.4 355.8,126.4 355.3,126.4 354.8,126.0 354.3,126.5 353.8,126.1 353.3,126.1 352.8,126.0 352.3,126.0 351.8,126.5 351.3,126.2 350.8,126.1 350.3,126.1 349.8,126.5 349.3,126.4 348.8,126.6 348.3,126.1 347.8,126.1 347.3,126.2 346.8,126.2 346.3,126.1 345.8,126.2 345.3,126.4 344.8,126.2 344.3,126.2 343.8,126.4 343.3,126.3 342.8,126.2 342.3,126.4 341.8,126.4 341.3,126.3 340.8,126.4 340.3,126.1 339.8,126.5 339.3,126.2 338.8,126.3 338.3,126.1 337.8,126.7 337.3,126.5 336.8,126.4 336.3,126.5 335.8,126.7 335.3,126.2 334.8,126.4 334.3,126.6 333.8,126.4 333.3,126.6 332.8,126.7 332.3,126.2 331.8,126.3 331.3,126.4 330.8,126.6 330.3,126.7 329.8,126.6 329.3,126.8 328.8,126.3 328.3,126.4 327.8,126.7 327.3,126.7 326.8,126.3 326.3,126.8 325.8,126.7 325.3,126.8 324.8,126.5 324.3,126.6 323.8,126.8 323.3,126.8 322.8,126.6 322.3,126.8 321.8,126.9 321.3,126.8 320.8,126.7 320.3,126.8 319.8,126.4 319.3,126.5 318.8,126.6 318.3,126.4 317.8,126.8 317.3,126.3 316.8,126.7 316.3,126.5 315.8,126.5 315.3,126.7 314.8,126.4 314.3,126.6 313.8,126.8 313.3,126.9 312.8,126.5 312.3,126.5 311.8,126.7 311.3,126.4 310.8,126.8 310.3,126.5 309.8,126.7 309.3,126.6 308.8,126.4 308.3,126.4 307.8,126.4 307.3,126.6 306.8,126.5 306.3,127.0 305.8,126.7 305.3,126.4 304.8,126.8 304.3,126.5 303.8,126.7 303.3,126.8 302.8,126.9 302.3,126.9 301.8,126.6 301.3,126.6 300.8,126.6 300.3,126.6 299.8,126.8 299.3,126.7 298.8,126.8 298.3,126.5 297.8,126.9 297.3,127.0 296.8,126.5 296.3,126.8 295.8,126.5 295.3,126.4 294.8,126.6 294.3,126.5 293.8,126.8 293.3,126.7 292.8,126.8 292.3,127.0" fill="#06d206"/><clipPath id="c0gr"><polygon points="292.3,112.4 292.8,112.7 293.3,112.4 293.8,112.5 294.3,112.4 294.8,112.5 295.3,112.7 295.8,112.6 296.3,112.5 296.8,112.6 297.3,112.8 297.8,112.5 298.3,112.7 298.8,112.6 299.3,112.9 299.8,112.5 300.3,112.7 300.8,112.5 301.3,112.5 301.8,112.8 302.3,112.7 302.8,112.5 303.3,112.4 303.8,112.8 304.3,112.6 304.8,112.8 305.3,112.6 305.8,112.7 306.3,112.7 306.8,112.9 307.3,112.9 307.8,112.6 308.3,112.6 308.8,112.5 309.3,112.8 309.8,112.4 310.3,112.5 310.8,112.9 311.3,112.4 311.8,112.8 312.3,112.7 312.8,112.7 313.3,112.6 313.8,112.5 314.3,113.0 314.8,112.9 315.3,112.9 315.8,112.5 316.3,112.9 316.8,112.5 317.3,112.5 317.8,112.7 318.3,112.8 318.8,112.5 319.3,112.9 319.8,112.8 320.3,113.0 320.8,113.0 321.3,112.9 321.8,112.7 322.3,113.0 322.8,112.9 323.3,112.6 323.8,113.0 324.3,112.9 324.8,112.6 325.3,112.6 325.8,112.5 326.3,112.8 326.8,112.6 327.3,112.7 327.8,112.7 328.3,112.6 328.8,112.8 329.3,112.7 329.8,112.7 330.3,112.7 330.8,112.8 331.3,113.1 331.8,112.6 332.3,113.1 332.8,113.1 333.3,112.9 333.8,112.9 334.3,113.0 334.8,112.9 335.3,113.0 335.8,113.1 336.3,113.0 336.8,112.7 337.3,112.6 337.8,113.2 338.3,112.8 338.8,113.1 339.3,112.7 339.8,112.9 340.3,112.8 340.8,113.1 341.3,113.2 341.8,112.9 342.3,113.0 342.8,112.8 343.3,112.8 343.8,113.2 344.3,112.7 344.8,113.2 345.3,113.0 345.8,112.7 346.3,113.2 346.8,112.7 347.3,113.0 347.8,112.7 348.3,113.3 348.8,112.9 349.3,113.2 349.8,112.7 350.3,113.1 350.8,112.7 351.3,112.7 351.8,113.0 352.3,113.3 352.8,113.1 353.3,113.2 353.8,113.2 354.3,113.0 354.8,112.8 355.3,113.0 355.8,112.8 356.3,113.0 356.8,112.9 357.3,113.0 357.8,112.9 358.3,113.2 358.8,113.0 359.3,113.0 359.8,112.8 360.3,113.0 360.8,113.1 361.3,113.3 361.8,113.1 362.3,112.8 362.8,112.9 363.3,113.0 363.8,113.2 364.3,113.3 364.8,113.4 365.3,113.3 365.8,113.3 366.3,113.3 366.8,113.3 367.3,112.8 367.8,113.1 368.3,113.1 368.8,113.2 369.3,113.2 369.8,113.2 370.3,113.3 370.8,112.8 371.3,113.1 371.8,113.4 372.3,112.8 372.8,112.9 373.3,113.3 373.8,113.4 374.3,112.8 374.8,112.8 375.3,113.3 375.8,113.2 376.3,113.1 376.8,113.1 377.3,113.2 377.8,113.3 378.3,112.8 378.8,112.8 379.3,113.3 379.8,113.4 380.3,113.3 380.8,113.0 381.3,113.0 381.8,113.0 382.3,112.8 382.8,113.2 383.3,112.9 383.8,113.1 384.3,113.1 384.8,113.0 385.3,113.2 385.8,113.0 386.3,112.9 386.8,113.3 387.3,112.8 387.8,112.8 388.3,112.9 388.8,113.0 389.3,113.2 389.8,112.9 390.3,112.9 390.8,113.1 391.3,112.9 391.8,113.0 392.3,112.8 392.8,113.2 393.3,112.8 393.8,112.8 394.3,112.9 394.8,112.9 395.3,113.1 395.8,113.1 396.3,113.1 396.8,113.0 397.3,112.7 397.8,113.1 398.3,112.8 398.8,112.7 399.3,112.9 399.8,113.2 400.3,112.8 400.8,112.8 401.3,113.1 401.8,113.2 402.3,112.8 402.8,112.6 403.3,113.0 403.8,113.0 404.3,112.7 404.8,113.0 405.3,112.7 405.8,112.7 406.3,112.8 406.8,112.9 407.3,112.7 407.8,112.9 408.3,112.4 408.8,112.7 409.3,112.6 409.8,112.4 410.3,112.9 410.8,112.5 411.3,112.5 411.8,112.9 412.3,112.9 412.8,112.9 413.3,112.5 413.8,112.9 414.3,108.2 414.8,105.2 415.3,104.9 415.8,104.5 416.3,104.7 416.8,105.4 417.3,105.9 417.8,106.2 418.3,106.7 418.8,106.7 419.3,107.0 419.8,107.2 420.3,107.6 420.8,108.4 421.3,108.3 421.8,108.7 422.3,109.1 422.8,109.2 423.3,109.6 423.8,109.8 424.3,110.0 424.8,110.4 425.3,110.6 425.8,110.8 426.3,111.0 426.8,110.9 427.3,111.2 427.8,110.6 428.3,110.6 428.8,110.3 429.3,110.3 429.8,110.4 430.3,110.3 430.8,109.8 431.3,109.4 431.8,109.4 432.3,109.4 432.8,109.1 433.3,109.2 433.8,109.2 434.3,108.7 434.8,108.6 435.3,108.6 435.8,108.3 436.3,108.0 436.8,108.3 437.3,108.3 437.8,107.6 438.3,108.0 438.8,107.8 439.3,107.6 439.8,107.7 440.3,107.7 440.8,108.1 441.3,107.9 441.8,107.8 442.3,108.0 442.8,108.5 443.3,108.4 443.8,108.6 444.3,108.6 444.8,108.6 445.3,108.6 445.8,109.0 446.3,109.0 446.8,109.2 447.3,109.6 447.8,109.5 448.3,109.7 448.8,109.9 449.3,109.8 449.8,109.9 450.3,110.3 450.8,110.2 451.3,110.1 451.8,110.3 452.3,110.3 452.8,110.2 453.3,110.6 453.8,110.2 454.3,110.7 454.8,110.6 455.3,110.6 455.8,110.1 456.3,110.3 456.8,110.5 457.3,110.0 457.8,109.8 458.3,110.1 458.8,109.7 459.3,109.9 459.8,109.5 460.3,109.9 460.8,109.5 461.3,109.3 461.8,109.7 462.3,109.4 462.8,109.5 463.3,109.5 463.8,109.7 464.3,109.4 464.8,109.3 465.3,109.1 465.8,109.3 466.3,109.2 466.8,109.4 467.3,109.4 467.8,109.3 468.3,109.0 468.8,109.2 469.3,109.2 469.8,109.3 470.3,109.5 470.8,109.1 471.3,109.2 471.8,108.9 472.3,109.4 472.8,109.0 473.3,109.4 473.8,109.4 474.3,109.0 474.8,109.4 475.3,109.2 475.8,109.1 476.3,109.2 476.8,109.4 477.3,109.2 477.8,109.2 478.3,109.0 478.8,109.4 479.3,109.2 479.8,109.1 480.3,109.0 480.8,109.0 481.3,109.4 481.8,109.4 482.3,109.5 482.8,109.4 483.3,109.3 483.8,109.4 484.3,109.3 484.8,109.4 485.3,109.4 485.8,109.0 486.3,109.4 486.8,109.1 487.3,109.0 487.8,109.4 488.3,108.9 488.8,109.2 489.3,109.1 489.8,109.4 490.3,109.3 490.8,109.4 491.3,109.5 491.8,109.3 492.3,108.9 492.8,109.3 493.3,109.0 493.8,109.5 494.3,109.4 494.8,109.1 495.3,109.0 495.8,109.3 496.3,109.4 496.8,109.5 497.3,109.3 497.8,109.0 498.3,109.3 498.8,108.9 499.3,109.4 499.8,109.4 500.3,109.4 500.8,109.4 501.3,109.2 501.8,109.5 502.3,109.3 502.8,109.2 503.3,109.1 503.8,109.1 504.3,108.9 504.8,109.0 505.3,109.4 505.8,109.0 506.3,109.3 506.8,109.4 507.3,109.3 507.8,109.2 508.3,109.1 508.8,109.1 509.3,109.0 509.8,109.3 510.3,109.3 510.8,109.5 511.3,109.1 511.8,109.5 512.3,109.4 512.8,109.1 513.3,109.5 513.8,109.3 514.3,109.5 514.8,109.4 515.3,109.1 515.8,109.1 516.3,109.2 516.8,109.2 517.3,108.9 517.8,109.4 518.3,109.2 518.8,109.2 519.3,109.3 519.8,109.0 520.3,109.0 520.8,109.2 521.3,109.0 521.8,109.1 522.3,108.9 522.8,108.9 523.3,109.1 523.8,109.2 524.3,109.5 524.8,109.3 525.3,109.1 525.8,109.1 526.3,109.0 526.8,109.2 527.3,109.5 527.8,109.0 528.3,109.2 528.8,109.3 529.3,109.4 529.8,109.2 530.3,109.3 530.8,109.5 531.3,109.4 531.8,109.1 532.3,109.2 532.8,109.5 533.3,109.2 533.8,109.0 534.3,109.4 534.8,108.9 535.3,109.0 535.8,109.2 536.3,109.1 536.8,109.3 537.3,109.3 537.8,109.1 538.3,109.4 538.8,109.3 539.3,109.3 539.8,109.2 540.3,109.2 540.8,109.0 541.3,109.2 541.8,109.5 542.3,109.4 542.3,129.9 541.8,129.9 541.3,130.1 540.8,130.3 540.3,130.2 539.8,130.0 539.3,130.1 538.8,130.2 538.3,130.3 537.8,130.1 537.3,130.3 536.8,130.3 536.3,130.2 535.8,129.9 535.3,130.3 534.8,129.9 534.3,129.9 533.8,130.1 533.3,129.9 532.8,129.9 532.3,130.1 531.8,130.1 531.3,129.9 530.8,130.4 530.3,130.4 529.8,130.1 529.3,130.2 528.8,130.0 528.3,130.4 527.8,129.9 527.3,130.0 526.8,130.0 526.3,130.3 525.8,130.1 525.3,130.1 524.8,130.0 524.3,130.3 523.8,130.0 523.3,130.3 522.8,130.2 522.3,130.1 521.8,130.0 521.3,130.0 520.8,130.1 520.3,130.0 519.8,130.1 519.3,130.0 518.8,130.0 518.3,130.2 517.8,130.0 517.3,130.0 516.8,130.3 516.3,130.0 515.8,130.0 515.3,130.3 514.8,130.3 514.3,130.2 513.8,130.0 513.3,130.1 512.8,130.2 512.3,129.9 511.8,130.2 511.3,130.3 510.8,130.1 510.3,130.1 509.8,130.0 509.3,130.1 508.8,129.8 508.3,130.2 507.8,130.0 507.3,130.3 506.8,129.9 506.3,130.1 505.8,129.7 505.3,129.9 504.8,130.1 504.3,129.8 503.8,130.0 503.3,129.8 502.8,129.9 502.3,130.3 501.8,129.8 501.3,130.2 500.8,129.7 500.3,130.0 499.8,130.1 499.3,130.1 498.8,129.9 498.3,130.0 497.8,130.1 497.3,130.1 496.8,130.1 496.3,130.0 495.8,129.8 495.3,130.0 494.8,130.0 494.3,129.9 493.8,130.2 493.3,129.7 492.8,130.1 492.3,129.8 491.8,130.0 491.3,130.2 490.8,129.8 490.3,129.9 489.8,129.9 489.3,129.9 488.8,129.7 488.3,130.0 487.8,130.1 487.3,130.0 486.8,129.8 486.3,130.1 485.8,129.8 485.3,129.7 484.8,130.0 484.3,129.9 483.8,129.9 483.3,130.2 482.8,129.9 482.3,130.2 481.8,129.8 481.3,130.1 480.8,129.6 480.3,129.8 479.8,130.0 479.3,130.0 478.8,130.1 478.3,129.8 477.8,129.8 477.3,129.8 476.8,129.9 476.3,129.6 475.8,129.8 475.3,130.0 474.8,129.7 474.3,129.8 473.8,130.1 473.3,130.2 472.8,129.8 472.3,129.7 471.8,129.7 471.3,129.7 470.8,130.1 470.3,130.0 469.8,129.7 469.3,129.9 468.8,130.0 468.3,129.5 467.8,130.0 467.3,130.0 466.8,129.6 466.3,129.9 465.8,129.8 465.3,129.6 464.8,129.9 464.3,129.5 463.8,129.6 463.3,129.5 462.8,129.5 462.3,129.7 461.8,129.5 461.3,129.5 460.8,129.7 460.3,129.2 459.8,129.2 459.3,129.3 458.8,129.0 458.3,129.4 457.8,129.0 457.3,129.0 456.8,129.0 456.3,129.2 455.8,129.2 455.3,129.1 454.8,128.8 454.3,128.9 453.8,129.2 453.3,128.9 452.8,129.4 452.3,129.4 451.8,129.1 451.3,129.3 450.8,129.3 450.3,129.7 449.8,129.4 449.3,129.9 448.8,129.6 448.3,130.2 447.8,130.1 447.3,130.3 446.8,130.1 446.3,130.2 445.8,130.6 445.3,131.1 444.8,131.0 444.3,131.3 443.8,130.9 443.3,131.0 442.8,131.0 442.3,131.4 441.8,131.0 441.3,131.0 440.8,131.1 440.3,130.9 439.8,130.6 439.3,130.5 438.8,130.2 438.3,130.2 437.8,130.0 437.3,129.9 436.8,129.7 436.3,129.6 435.8,129.5 435.3,129.2 434.8,129.3 434.3,129.3 433.8,129.0 433.3,128.8 432.8,129.2 432.3,128.8 431.8,128.7 431.3,128.5 430.8,128.7 430.3,128.5 429.8,128.3 429.3,128.2 428.8,128.1 428.3,128.0 427.8,128.0 427.3,128.0 426.8,128.1 426.3,128.2 425.8,128.3 425.3,128.5 424.8,128.8 424.3,129.0 423.8,128.8 423.3,128.9 422.8,129.3 422.3,129.4 421.8,130.2 421.3,130.4 420.8,130.6 420.3,130.9 419.8,131.7 419.3,132.0 418.8,132.3 418.3,132.6 417.8,133.0 417.3,133.3 416.8,133.8 416.3,134.3 415.8,134.9 415.3,135.2 414.8,135.1 414.3,130.9 413.8,126.4 413.3,126.5 412.8,127.0 412.3,126.7 411.8,126.7 411.3,126.5 410.8,126.8 410.3,126.6 409.8,126.9 409.3,126.3 408.8,126.9 408.3,126.3 407.8,126.3 407.3,126.5 406.8,126.6 406.3,126.3 405.8,126.6 405.3,126.8 404.8,126.5 404.3,126.6 403.8,126.5 403.3,126.5 402.8,126.3 402.3,126.4 401.8,126.7 401.3,126.5 400.8,126.3 400.3,126.4 399.8,126.4 399.3,126.3 398.8,126.4 398.3,126.5 397.8,126.1 397.3,126.2 396.8,126.5 396.3,126.2 395.8,126.1 395.3,126.5 394.8,126.2 394.3,126.6 393.8,126.4 393.3,126.1 392.8,126.4 392.3,126.2 391.8,126.5 391.3,126.4 390.8,126.5 390.3,126.0 389.8,126.0 389.3,126.5 388.8,126.1 388.3,126.1 387.8,126.0 387.3,126.1 386.8,126.3 386.3,126.5 385.8,126.2 385.3,126.1 384.8,126.5 384.3,126.1 383.8,126.3 383.3,126.3 382.8,126.5 382.3,126.0 381.8,126.3 381.3,126.2 380.8,126.4 380.3,126.1 379.8,126.4 379.3,126.1 378.8,126.2 378.3,126.5 377.8,126.1 377.3,126.1 376.8,126.5 376.3,126.3 375.8,126.0 375.3,126.0 374.8,126.1 374.3,126.1 373.8,126.4 373.3,126.4 372.8,126.5 372.3,126.3 371.8,126.3 371.3,126.2 370.8,126.4 370.3,126.2 369.8,126.0 369.3,126.2 368.8,126.2 368.3,126.3 367.8,126.0 367.3,126.0 366.8,126.5 366.3,126.2 365.8,126.1 365.3,126.0 364.8,126.3 364.3,126.5 363.8,126.1 363.3,126.3 362.8,126.3 362.3,126.4 361.8,126.3 361.3,126.1 360.8,126.1 360.3,126.4 359.8,126.0 359.3,126.5 358.8,126.0 358.3,126.1 357.8,126.3 357.3,126.5 356.8,126.4 356.3,126.4 355.8,126.4 355.3,126.4 354.8,126.0 354.3,126.5 353.8,126.1 353.3,126.1 352.8,126.0 352.3,126.0 351.8,126.5 351.3,126.2 350.8,126.1 350.3,126.1 349.8,126.5 349.3,126.4 348.8,126.6 348.3,126.1 347.8,126.1 347.3,126.2 346.8,126.2 346.3,126.1 345.8,126.2 345.3,126.4 344.8,126.2 344.3,126.2 343.8,126.4 343.3,126.3 342.8,126.2 342.3,126.4 341.8,126.4 341.3,126.3 340.8,126.4 340.3,126.1 339.8,126.5 339.3,126.2 338.8,126.3 338.3,126.1 337.8,126.7 337.3,126.5 336.8,126.4 336.3,126.5 335.8,126.7 335.3,126.2 334.8,126.4 334.3,126.6 333.8,126.4 333.3,126.6 332.8,126.7 332.3,126.2 331.8,126.3 331.3,126.4 330.8,126.6 330.3,126.7 329.8,126.6 329.3,126.8 328.8,126.3 328.3,126.4 327.8,126.7 327.3,126.7 326.8,126.3 326.3,126.8 325.8,126.7 325.3,126.8 324.8,126.5 324.3,126.6 323.8,126.8 323.3,126.8 322.8,126.6 322.3,126.8 321.8,126.9 321.3,126.8 320.8,126.7 320.3,126.8 319.8,126.4 319.3,126.5 318.8,126.6 318.3,126.4 317.8,126.8 317.3,126.3 316.8,126.7 316.3,126.5 315.8,126.5 315.3,126.7 314.8,126.4 314.3,126.6 313.8,126.8 313.3,126.9 312.8,126.5 312.3,126.5 311.8,126.7 311.3,126.4 310.8,126.8 310.3,126.5 309.8,126.7 309.3,126.6 308.8,126.4 308.3,126.4 307.8,126.4 307.3,126.6 306.8,126.5 306.3,127.0 305.8,126.7 305.3,126.4 304.8,126.8 304.3,126.5 303.8,126.7 303.3,126.8 302.8,126.9 302.3,126.9 301.8,126.6 301.3,126.6 300.8,126.6 300.3,126.6 299.8,126.8 299.3,126.7 298.8,126.8 298.3,126.5 297.8,126.9 297.3,127.0 296.8,126.5 296.3,126.8 295.8,126.5 295.3,126.4 294.8,126.6 294.3,126.5 293.8,126.8 293.3,126.7 292.8,126.8 292.3,127.0"/></clipPath><path d="M293.1,101.6V138.0M295.7,101.6V138.0M298.3,101.6V138.0M300.9,101.6V138.0M303.5,101.6V138.0M306.1,101.6V138.0M308.7,101.6V138.0M311.3,101.6V138.0M313.9,101.6V138.0M316.5,101.6V138.0M319.1,101.6V138.0M321.7,101.6V138.0M324.3,101.6V138.0M326.9,101.6V138.0M329.5,101.6V138.0M332.1,101.6V138.0M334.7,101.6V138.0M337.3,101.6V138.0M339.9,101.6V138.0M342.5,101.6V138.0M345.1,101.6V138.0M347.7,101.6V138.0M350.3,101.6V138.0M352.9,101.6V138.0M355.5,101.6V138.0M358.1,101.6V138.0M360.7,101.6V138.0M363.3,101.6V138.0M365.9,101.6V138.0M368.5,101.6V138.0M371.1,101.6V138.0M373.7,101.6V138.0M376.3,101.6V138.0M378.9,101.6V138.0M381.5,101.6V138.0M384.1,101.6V138.0M386.7,101.6V138.0M389.3,101.6V138.0M391.9,101.6V138.0M394.5,101.6V138.0M397.1,101.6V138.0M399.7,101.6V138.0M402.3,101.6V138.0M404.9,101.6V138.0M407.5,101.6V138.0M410.1,101.6V138.0M412.7,101.6V138.0M415.3,101.6V138.0M417.9,101.6V138.0M420.5,101.6V138.0M423.1,101.6V138.0M425.7,101.6V138.0M428.3,101.6V138.0M430.9,101.6V138.0M433.5,101.6V138.0M436.1,101.6V138.0M438.7,101.6V138.0M441.3,101.6V138.0M443.9,101.6V138.0M446.5,101.6V138.0M449.1,101.6V138.0M451.7,101.6V138.0M454.3,101.6V138.0M456.9,101.6V138.0M459.5,101.6V138.0M462.1,101.6V138.0M464.7,101.6V138.0M467.3,101.6V138.0M469.9,101.6V138.0M472.5,101.6V138.0M475.1,101.6V138.0M477.7,101.6V138.0M480.3,101.6V138.0M482.9,101.6V138.0M485.5,101.6V138.0M488.1,101.6V138.0M490.7,101.6V138.0M493.3,101.6V138.0M495.9,101.6V138.0M498.5,101.6V138.0M501.1,101.6V138.0M503.7,101.6V138.0M506.3,101.6V138.0M508.9,101.6V138.0M511.5,101.6V138.0M514.1,101.6V138.0M516.7,101.6V138.0M519.3,101.6V138.0M521.9,101.6V138.0M524.5,101.6V138.0M527.1,101.6V138.0M529.7,101.6V138.0M532.3,101.6V138.0M534.9,101.6V138.0M537.5,101.6V138.0M540.1,101.6V138.0" stroke="#02b002" stroke-width="0.9" opacity="0.4" clip-path="url(#c0gr)"/><polygon fill="none" stroke="#02b002" stroke-width="1.8" opacity="0.8" clip-path="url(#c0gr)" points="292.3,112.4 292.8,112.7 293.3,112.4 293.8,112.5 294.3,112.4 294.8,112.5 295.3,112.7 295.8,112.6 296.3,112.5 296.8,112.6 297.3,112.8 297.8,112.5 298.3,112.7 298.8,112.6 299.3,112.9 299.8,112.5 300.3,112.7 300.8,112.5 301.3,112.5 301.8,112.8 302.3,112.7 302.8,112.5 303.3,112.4 303.8,112.8 304.3,112.6 304.8,112.8 305.3,112.6 305.8,112.7 306.3,112.7 306.8,112.9 307.3,112.9 307.8,112.6 308.3,112.6 308.8,112.5 309.3,112.8 309.8,112.4 310.3,112.5 310.8,112.9 311.3,112.4 311.8,112.8 312.3,112.7 312.8,112.7 313.3,112.6 313.8,112.5 314.3,113.0 314.8,112.9 315.3,112.9 315.8,112.5 316.3,112.9 316.8,112.5 317.3,112.5 317.8,112.7 318.3,112.8 318.8,112.5 319.3,112.9 319.8,112.8 320.3,113.0 320.8,113.0 321.3,112.9 321.8,112.7 322.3,113.0 322.8,112.9 323.3,112.6 323.8,113.0 324.3,112.9 324.8,112.6 325.3,112.6 325.8,112.5 326.3,112.8 326.8,112.6 327.3,112.7 327.8,112.7 328.3,112.6 328.8,112.8 329.3,112.7 329.8,112.7 330.3,112.7 330.8,112.8 331.3,113.1 331.8,112.6 332.3,113.1 332.8,113.1 333.3,112.9 333.8,112.9 334.3,113.0 334.8,112.9 335.3,113.0 335.8,113.1 336.3,113.0 336.8,112.7 337.3,112.6 337.8,113.2 338.3,112.8 338.8,113.1 339.3,112.7 339.8,112.9 340.3,112.8 340.8,113.1 341.3,113.2 341.8,112.9 342.3,113.0 342.8,112.8 343.3,112.8 343.8,113.2 344.3,112.7 344.8,113.2 345.3,113.0 345.8,112.7 346.3,113.2 346.8,112.7 347.3,113.0 347.8,112.7 348.3,113.3 348.8,112.9 349.3,113.2 349.8,112.7 350.3,113.1 350.8,112.7 351.3,112.7 351.8,113.0 352.3,113.3 352.8,113.1 353.3,113.2 353.8,113.2 354.3,113.0 354.8,112.8 355.3,113.0 355.8,112.8 356.3,113.0 356.8,112.9 357.3,113.0 357.8,112.9 358.3,113.2 358.8,113.0 359.3,113.0 359.8,112.8 360.3,113.0 360.8,113.1 361.3,113.3 361.8,113.1 362.3,112.8 362.8,112.9 363.3,113.0 363.8,113.2 364.3,113.3 364.8,113.4 365.3,113.3 365.8,113.3 366.3,113.3 366.8,113.3 367.3,112.8 367.8,113.1 368.3,113.1 368.8,113.2 369.3,113.2 369.8,113.2 370.3,113.3 370.8,112.8 371.3,113.1 371.8,113.4 372.3,112.8 372.8,112.9 373.3,113.3 373.8,113.4 374.3,112.8 374.8,112.8 375.3,113.3 375.8,113.2 376.3,113.1 376.8,113.1 377.3,113.2 377.8,113.3 378.3,112.8 378.8,112.8 379.3,113.3 379.8,113.4 380.3,113.3 380.8,113.0 381.3,113.0 381.8,113.0 382.3,112.8 382.8,113.2 383.3,112.9 383.8,113.1 384.3,113.1 384.8,113.0 385.3,113.2 385.8,113.0 386.3,112.9 386.8,113.3 387.3,112.8 387.8,112.8 388.3,112.9 388.8,113.0 389.3,113.2 389.8,112.9 390.3,112.9 390.8,113.1 391.3,112.9 391.8,113.0 392.3,112.8 392.8,113.2 393.3,112.8 393.8,112.8 394.3,112.9 394.8,112.9 395.3,113.1 395.8,113.1 396.3,113.1 396.8,113.0 397.3,112.7 397.8,113.1 398.3,112.8 398.8,112.7 399.3,112.9 399.8,113.2 400.3,112.8 400.8,112.8 401.3,113.1 401.8,113.2 402.3,112.8 402.8,112.6 403.3,113.0 403.8,113.0 404.3,112.7 404.8,113.0 405.3,112.7 405.8,112.7 406.3,112.8 406.8,112.9 407.3,112.7 407.8,112.9 408.3,112.4 408.8,112.7 409.3,112.6 409.8,112.4 410.3,112.9 410.8,112.5 411.3,112.5 411.8,112.9 412.3,112.9 412.8,112.9 413.3,112.5 413.8,112.9 414.3,108.2 414.8,105.2 415.3,104.9 415.8,104.5 416.3,104.7 416.8,105.4 417.3,105.9 417.8,106.2 418.3,106.7 418.8,106.7 419.3,107.0 419.8,107.2 420.3,107.6 420.8,108.4 421.3,108.3 421.8,108.7 422.3,109.1 422.8,109.2 423.3,109.6 423.8,109.8 424.3,110.0 424.8,110.4 425.3,110.6 425.8,110.8 426.3,111.0 426.8,110.9 427.3,111.2 427.8,110.6 428.3,110.6 428.8,110.3 429.3,110.3 429.8,110.4 430.3,110.3 430.8,109.8 431.3,109.4 431.8,109.4 432.3,109.4 432.8,109.1 433.3,109.2 433.8,109.2 434.3,108.7 434.8,108.6 435.3,108.6 435.8,108.3 436.3,108.0 436.8,108.3 437.3,108.3 437.8,107.6 438.3,108.0 438.8,107.8 439.3,107.6 439.8,107.7 440.3,107.7 440.8,108.1 441.3,107.9 441.8,107.8 442.3,108.0 442.8,108.5 443.3,108.4 443.8,108.6 444.3,108.6 444.8,108.6 445.3,108.6 445.8,109.0 446.3,109.0 446.8,109.2 447.3,109.6 447.8,109.5 448.3,109.7 448.8,109.9 449.3,109.8 449.8,109.9 450.3,110.3 450.8,110.2 451.3,110.1 451.8,110.3 452.3,110.3 452.8,110.2 453.3,110.6 453.8,110.2 454.3,110.7 454.8,110.6 455.3,110.6 455.8,110.1 456.3,110.3 456.8,110.5 457.3,110.0 457.8,109.8 458.3,110.1 458.8,109.7 459.3,109.9 459.8,109.5 460.3,109.9 460.8,109.5 461.3,109.3 461.8,109.7 462.3,109.4 462.8,109.5 463.3,109.5 463.8,109.7 464.3,109.4 464.8,109.3 465.3,109.1 465.8,109.3 466.3,109.2 466.8,109.4 467.3,109.4 467.8,109.3 468.3,109.0 468.8,109.2 469.3,109.2 469.8,109.3 470.3,109.5 470.8,109.1 471.3,109.2 471.8,108.9 472.3,109.4 472.8,109.0 473.3,109.4 473.8,109.4 474.3,109.0 474.8,109.4 475.3,109.2 475.8,109.1 476.3,109.2 476.8,109.4 477.3,109.2 477.8,109.2 478.3,109.0 478.8,109.4 479.3,109.2 479.8,109.1 480.3,109.0 480.8,109.0 481.3,109.4 481.8,109.4 482.3,109.5 482.8,109.4 483.3,109.3 483.8,109.4 484.3,109.3 484.8,109.4 485.3,109.4 485.8,109.0 486.3,109.4 486.8,109.1 487.3,109.0 487.8,109.4 488.3,108.9 488.8,109.2 489.3,109.1 489.8,109.4 490.3,109.3 490.8,109.4 491.3,109.5 491.8,109.3 492.3,108.9 492.8,109.3 493.3,109.0 493.8,109.5 494.3,109.4 494.8,109.1 495.3,109.0 495.8,109.3 496.3,109.4 496.8,109.5 497.3,109.3 497.8,109.0 498.3,109.3 498.8,108.9 499.3,109.4 499.8,109.4 500.3,109.4 500.8,109.4 501.3,109.2 501.8,109.5 502.3,109.3 502.8,109.2 503.3,109.1 503.8,109.1 504.3,108.9 504.8,109.0 505.3,109.4 505.8,109.0 506.3,109.3 506.8,109.4 507.3,109.3 507.8,109.2 508.3,109.1 508.8,109.1 509.3,109.0 509.8,109.3 510.3,109.3 510.8,109.5 511.3,109.1 511.8,109.5 512.3,109.4 512.8,109.1 513.3,109.5 513.8,109.3 514.3,109.5 514.8,109.4 515.3,109.1 515.8,109.1 516.3,109.2 516.8,109.2 517.3,108.9 517.8,109.4 518.3,109.2 518.8,109.2 519.3,109.3 519.8,109.0 520.3,109.0 520.8,109.2 521.3,109.0 521.8,109.1 522.3,108.9 522.8,108.9 523.3,109.1 523.8,109.2 524.3,109.5 524.8,109.3 525.3,109.1 525.8,109.1 526.3,109.0 526.8,109.2 527.3,109.5 527.8,109.0 528.3,109.2 528.8,109.3 529.3,109.4 529.8,109.2 530.3,109.3 530.8,109.5 531.3,109.4 531.8,109.1 532.3,109.2 532.8,109.5 533.3,109.2 533.8,109.0 534.3,109.4 534.8,108.9 535.3,109.0 535.8,109.2 536.3,109.1 536.8,109.3 537.3,109.3 537.8,109.1 538.3,109.4 538.8,109.3 539.3,109.3 539.8,109.2 540.3,109.2 540.8,109.0 541.3,109.2 541.8,109.5 542.3,109.4 542.3,129.9 541.8,129.9 541.3,130.1 540.8,130.3 540.3,130.2 539.8,130.0 539.3,130.1 538.8,130.2 538.3,130.3 537.8,130.1 537.3,130.3 536.8,130.3 536.3,130.2 535.8,129.9 535.3,130.3 534.8,129.9 534.3,129.9 533.8,130.1 533.3,129.9 532.8,129.9 532.3,130.1 531.8,130.1 531.3,129.9 530.8,130.4 530.3,130.4 529.8,130.1 529.3,130.2 528.8,130.0 528.3,130.4 527.8,129.9 527.3,130.0 526.8,130.0 526.3,130.3 525.8,130.1 525.3,130.1 524.8,130.0 524.3,130.3 523.8,130.0 523.3,130.3 522.8,130.2 522.3,130.1 521.8,130.0 521.3,130.0 520.8,130.1 520.3,130.0 519.8,130.1 519.3,130.0 518.8,130.0 518.3,130.2 517.8,130.0 517.3,130.0 516.8,130.3 516.3,130.0 515.8,130.0 515.3,130.3 514.8,130.3 514.3,130.2 513.8,130.0 513.3,130.1 512.8,130.2 512.3,129.9 511.8,130.2 511.3,130.3 510.8,130.1 510.3,130.1 509.8,130.0 509.3,130.1 508.8,129.8 508.3,130.2 507.8,130.0 507.3,130.3 506.8,129.9 506.3,130.1 505.8,129.7 505.3,129.9 504.8,130.1 504.3,129.8 503.8,130.0 503.3,129.8 502.8,129.9 502.3,130.3 501.8,129.8 501.3,130.2 500.8,129.7 500.3,130.0 499.8,130.1 499.3,130.1 498.8,129.9 498.3,130.0 497.8,130.1 497.3,130.1 496.8,130.1 496.3,130.0 495.8,129.8 495.3,130.0 494.8,130.0 494.3,129.9 493.8,130.2 493.3,129.7 492.8,130.1 492.3,129.8 491.8,130.0 491.3,130.2 490.8,129.8 490.3,129.9 489.8,129.9 489.3,129.9 488.8,129.7 488.3,130.0 487.8,130.1 487.3,130.0 486.8,129.8 486.3,130.1 485.8,129.8 485.3,129.7 484.8,130.0 484.3,129.9 483.8,129.9 483.3,130.2 482.8,129.9 482.3,130.2 481.8,129.8 481.3,130.1 480.8,129.6 480.3,129.8 479.8,130.0 479.3,130.0 478.8,130.1 478.3,129.8 477.8,129.8 477.3,129.8 476.8,129.9 476.3,129.6 475.8,129.8 475.3,130.0 474.8,129.7 474.3,129.8 473.8,130.1 473.3,130.2 472.8,129.8 472.3,129.7 471.8,129.7 471.3,129.7 470.8,130.1 470.3,130.0 469.8,129.7 469.3,129.9 468.8,130.0 468.3,129.5 467.8,130.0 467.3,130.0 466.8,129.6 466.3,129.9 465.8,129.8 465.3,129.6 464.8,129.9 464.3,129.5 463.8,129.6 463.3,129.5 462.8,129.5 462.3,129.7 461.8,129.5 461.3,129.5 460.8,129.7 460.3,129.2 459.8,129.2 459.3,129.3 458.8,129.0 458.3,129.4 457.8,129.0 457.3,129.0 456.8,129.0 456.3,129.2 455.8,129.2 455.3,129.1 454.8,128.8 454.3,128.9 453.8,129.2 453.3,128.9 452.8,129.4 452.3,129.4 451.8,129.1 451.3,129.3 450.8,129.3 450.3,129.7 449.8,129.4 449.3,129.9 448.8,129.6 448.3,130.2 447.8,130.1 447.3,130.3 446.8,130.1 446.3,130.2 445.8,130.6 445.3,131.1 444.8,131.0 444.3,131.3 443.8,130.9 443.3,131.0 442.8,131.0 442.3,131.4 441.8,131.0 441.3,131.0 440.8,131.1 440.3,130.9 439.8,130.6 439.3,130.5 438.8,130.2 438.3,130.2 437.8,130.0 437.3,129.9 436.8,129.7 436.3,129.6 435.8,129.5 435.3,129.2 434.8,129.3 434.3,129.3 433.8,129.0 433.3,128.8 432.8,129.2 432.3,128.8 431.8,128.7 431.3,128.5 430.8,128.7 430.3,128.5 429.8,128.3 429.3,128.2 428.8,128.1 428.3,128.0 427.8,128.0 427.3,128.0 426.8,128.1 426.3,128.2 425.8,128.3 425.3,128.5 424.8,128.8 424.3,129.0 423.8,128.8 423.3,128.9 422.8,129.3 422.3,129.4 421.8,130.2 421.3,130.4 420.8,130.6 420.3,130.9 419.8,131.7 419.3,132.0 418.8,132.3 418.3,132.6 417.8,133.0 417.3,133.3 416.8,133.8 416.3,134.3 415.8,134.9 415.3,135.2 414.8,135.1 414.3,130.9 413.8,126.4 413.3,126.5 412.8,127.0 412.3,126.7 411.8,126.7 411.3,126.5 410.8,126.8 410.3,126.6 409.8,126.9 409.3,126.3 408.8,126.9 408.3,126.3 407.8,126.3 407.3,126.5 406.8,126.6 406.3,126.3 405.8,126.6 405.3,126.8 404.8,126.5 404.3,126.6 403.8,126.5 403.3,126.5 402.8,126.3 402.3,126.4 401.8,126.7 401.3,126.5 400.8,126.3 400.3,126.4 399.8,126.4 399.3,126.3 398.8,126.4 398.3,126.5 397.8,126.1 397.3,126.2 396.8,126.5 396.3,126.2 395.8,126.1 395.3,126.5 394.8,126.2 394.3,126.6 393.8,126.4 393.3,126.1 392.8,126.4 392.3,126.2 391.8,126.5 391.3,126.4 390.8,126.5 390.3,126.0 389.8,126.0 389.3,126.5 388.8,126.1 388.3,126.1 387.8,126.0 387.3,126.1 386.8,126.3 386.3,126.5 385.8,126.2 385.3,126.1 384.8,126.5 384.3,126.1 383.8,126.3 383.3,126.3 382.8,126.5 382.3,126.0 381.8,126.3 381.3,126.2 380.8,126.4 380.3,126.1 379.8,126.4 379.3,126.1 378.8,126.2 378.3,126.5 377.8,126.1 377.3,126.1 376.8,126.5 376.3,126.3 375.8,126.0 375.3,126.0 374.8,126.1 374.3,126.1 373.8,126.4 373.3,126.4 372.8,126.5 372.3,126.3 371.8,126.3 371.3,126.2 370.8,126.4 370.3,126.2 369.8,126.0 369.3,126.2 368.8,126.2 368.3,126.3 367.8,126.0 367.3,126.0 366.8,126.5 366.3,126.2 365.8,126.1 365.3,126.0 364.8,126.3 364.3,126.5 363.8,126.1 363.3,126.3 362.8,126.3 362.3,126.4 361.8,126.3 361.3,126.1 360.8,126.1 360.3,126.4 359.8,126.0 359.3,126.5 358.8,126.0 358.3,126.1 357.8,126.3 357.3,126.5 356.8,126.4 356.3,126.4 355.8,126.4 355.3,126.4 354.8,126.0 354.3,126.5 353.8,126.1 353.3,126.1 352.8,126.0 352.3,126.0 351.8,126.5 351.3,126.2 350.8,126.1 350.3,126.1 349.8,126.5 349.3,126.4 348.8,126.6 348.3,126.1 347.8,126.1 347.3,126.2 346.8,126.2 346.3,126.1 345.8,126.2 345.3,126.4 344.8,126.2 344.3,126.2 343.8,126.4 343.3,126.3 342.8,126.2 342.3,126.4 341.8,126.4 341.3,126.3 340.8,126.4 340.3,126.1 339.8,126.5 339.3,126.2 338.8,126.3 338.3,126.1 337.8,126.7 337.3,126.5 336.8,126.4 336.3,126.5 335.8,126.7 335.3,126.2 334.8,126.4 334.3,126.6 333.8,126.4 333.3,126.6 332.8,126.7 332.3,126.2 331.8,126.3 331.3,126.4 330.8,126.6 330.3,126.7 329.8,126.6 329.3,126.8 328.8,126.3 328.3,126.4 327.8,126.7 327.3,126.7 326.8,126.3 326.3,126.8 325.8,126.7 325.3,126.8 324.8,126.5 324.3,126.6 323.8,126.8 323.3,126.8 322.8,126.6 322.3,126.8 321.8,126.9 321.3,126.8 320.8,126.7 320.3,126.8 319.8,126.4 319.3,126.5 318.8,126.6 318.3,126.4 317.8,126.8 317.3,126.3 316.8,126.7 316.3,126.5 315.8,126.5 315.3,126.7 314.8,126.4 314.3,126.6 313.8,126.8 313.3,126.9 312.8,126.5 312.3,126.5 311.8,126.7 311.3,126.4 310.8,126.8 310.3,126.5 309.8,126.7 309.3,126.6 308.8,126.4 308.3,126.4 307.8,126.4 307.3,126.6 306.8,126.5 306.3,127.0 305.8,126.7 305.3,126.4 304.8,126.8 304.3,126.5 303.8,126.7 303.3,126.8 302.8,126.9 302.3,126.9 301.8,126.6 301.3,126.6 300.8,126.6 300.3,126.6 299.8,126.8 299.3,126.7 298.8,126.8 298.3,126.5 297.8,126.9 297.3,127.0 296.8,126.5 296.3,126.8 295.8,126.5 295.3,126.4 294.8,126.6 294.3,126.5 293.8,126.8 293.3,126.7 292.8,126.8 292.3,127.0"/>
</g>
<path d="M317.3,25.5V142.4M342.3,25.5V142.4M367.3,25.5V142.4M392.3,25.5V142.4M417.4,25.5V142.4M442.4,25.5V142.4M467.4,25.5V142.4M492.4,25.5V142.4M517.4,25.5V142.4" stroke="#6a6a6a" stroke-width="0.8" stroke-dasharray="0.8,2.1" stroke-dashoffset="0.4" opacity="0.8"/>
<path d="M292.3,40.1H542.4M292.3,54.7H542.4M292.3,69.3H542.4M292.3,84.0H542.4M292.3,98.6H542.4M292.3,113.2H542.4M292.3,127.8H542.4" stroke="#6a6a6a" stroke-width="0.8" stroke-dasharray="0.8,4.2" stroke-dashoffset="0.4" opacity="0.8"/>
<path d="M297.3,25.5v1.3M297.3,142.4v-1.3M302.3,25.5v1.3M302.3,142.4v-1.3M307.3,25.5v1.3M307.3,142.4v-1.3M312.3,25.5v1.3M312.3,142.4v-1.3M317.3,25.5v1.3M317.3,142.4v-1.3M322.3,25.5v1.3M322.3,142.4v-1.3M327.3,25.5v1.3M327.3,142.4v-1.3M332.3,25.5v1.3M332.3,142.4v-1.3M337.3,25.5v1.3M337.3,142.4v-1.3M342.3,25.5v1.3M342.3,142.4v-1.3M347.3,25.5v1.3M347.3,142.4v-1.3M352.3,25.5v1.3M352.3,142.4v-1.3M357.3,25.5v1.3M357.3,142.4v-1.3M362.3,25.5v1.3M362.3,142.4v-1.3M367.3,25.5v1.3M367.3,142.4v-1.3M372.3,25.5v1.3M372.3,142.4v-1.3M377.3,25.5v1.3M377.3,142.4v-1.3M382.3,25.5v1.3M382.3,142.4v-1.3M387.3,25.5v1.3M387.3,142.4v-1.3M392.3,25.5v1.3M392.3,142.4v-1.3M397.3,25.5v1.3M397.3,142.4v-1.3M402.3,25.5v1.3M402.3,142.4v-1.3M407.3,25.5v1.3M407.3,142.4v-1.3M412.3,25.5v1.3M412.3,142.4v-1.3M417.4,25.5v1.3M417.4,142.4v-1.3M422.4,25.5v1.3M422.4,142.4v-1.3M427.4,25.5v1.3M427.4,142.4v-1.3M432.4,25.5v1.3M432.4,142.4v-1.3M437.4,25.5v1.3M437.4,142.4v-1.3M442.4,25.5v1.3M442.4,142.4v-1.3M447.4,25.5v1.3M447.4,142.4v-1.3M452.4,25.5v1.3M452.4,142.4v-1.3M457.4,25.5v1.3M457.4,142.4v-1.3M462.4,25.5v1.3M462.4,142.4v-1.3M467.4,25.5v1.3M467.4,142.4v-1.3M472.4,25.5v1.3M472.4,142.4v-1.3M477.4,25.5v1.3M477.4,142.4v-1.3M482.4,25.5v1.3M482.4,142.4v-1.3M487.4,25.5v1.3M487.4,142.4v-1.3M492.4,25.5v1.3M492.4,142.4v-1.3M497.4,25.5v1.3M497.4,142.4v-1.3M502.4,25.5v1.3M502.4,142.4v-1.3M507.4,25.5v1.3M507.4,142.4v-1.3M512.4,25.5v1.3M512.4,142.4v-1.3M517.4,25.5v1.3M517.4,142.4v-1.3M522.4,25.5v1.3M522.4,142.4v-1.3M527.4,25.5v1.3M527.4,142.4v-1.3M532.4,25.5v1.3M532.4,142.4v-1.3M537.4,25.5v1.3M537.4,142.4v-1.3M292.3,28.4h1.3M542.4,28.4h-1.3M292.3,31.3h1.3M542.4,31.3h-1.3M292.3,34.3h1.3M542.4,34.3h-1.3M292.3,37.2h1.3M542.4,37.2h-1.3M292.3,40.1h1.3M542.4,40.1h-1.3M292.3,43.0h1.3M542.4,43.0h-1.3M292.3,46.0h1.3M542.4,46.0h-1.3M292.3,48.9h1.3M542.4,48.9h-1.3M292.3,51.8h1.3M542.4,51.8h-1.3M292.3,54.7h1.3M542.4,54.7h-1.3M292.3,57.6h1.3M542.4,57.6h-1.3M292.3,60.6h1.3M542.4,60.6h-1.3M292.3,63.5h1.3M542.4,63.5h-1.3M292.3,66.4h1.3M542.4,66.4h-1.3M292.3,69.3h1.3M542.4,69.3h-1.3M292.3,72.3h1.3M542.4,72.3h-1.3M292.3,75.2h1.3M542.4,75.2h-1.3M292.3,78.1h1.3M542.4,78.1h-1.3M292.3,81.0h1.3M542.4,81.0h-1.3M292.3,84.0h1.3M542.4,84.0h-1.3M292.3,86.9h1.3M542.4,86.9h-1.3M292.3,89.8h1.3M542.4,89.8h-1.3M292.3,92.7h1.3M542.4,92.7h-1.3M292.3,95.6h1.3M542.4,95.6h-1.3M292.3,98.6h1.3M542.4,98.6h-1.3M292.3,101.5h1.3M542.4,101.5h-1.3M292.3,104.4h1.3M542.4,104.4h-1.3M292.3,107.3h1.3M542.4,107.3h-1.3M292.3,110.3h1.3M542.4,110.3h-1.3M292.3,113.2h1.3M542.4,113.2h-1.3M292.3,116.1h1.3M542.4,116.1h-1.3M292.3,119.0h1.3M542.4,119.0h-1.3M292.3,121.9h1.3M542.4,121.9h-1.3M292.3,124.9h1.3M542.4,124.9h-1.3M292.3,127.8h1.3M542.4,127.8h-1.3M292.3,130.7h1.3M542.4,130.7h-1.3M292.3,133.6h1.3M542.4,133.6h-1.3M292.3,136.6h1.3M542.4,136.6h-1.3M292.3,139.5h1.3M542.4,139.5h-1.3" stroke="#555" stroke-width="0.7"/>
<rect x="292.3" y="25.5" width="250.09999999999997" height="116.9" fill="none" stroke="#4a4a4a" stroke-width="0.9"/>
<path d="M415.5,26.0 L419.1,26.0 L417.3,28.5 Z" fill="#f29a1a"/>
<rect x="299.1" y="48.1" width="38.8" height="15.4" fill="#fff"/><text x="318.5" y="59.8" font-family="Liberation Serif, serif" font-weight="bold" font-size="11.6" text-anchor="middle" fill="#17a2a6">VSG2</text>
<rect x="299.7" y="81.0" width="38.1" height="13.5" fill="#fff"/><text x="318.8" y="91.8" font-family="Liberation Serif, serif" font-weight="bold" font-size="11.6" text-anchor="middle" fill="#a80eb0">VSG3</text>
<rect x="299.7" y="113.2" width="38.1" height="13.0" fill="#fff"/><text x="318.8" y="123.7" font-family="Liberation Serif, serif" font-weight="bold" font-size="11.6" text-anchor="middle" fill="#18b018">VSG1</text>
<path d="M282.2,52.9 H288.6 L290.8,55.7 L288.6,58.5 H282.2 Z" fill="#3ad4e0"/><text x="285.8" y="57.5" font-family="Liberation Sans, sans-serif" font-size="4.8" fill="#e8ffff" text-anchor="middle">2</text>
<path d="M282.4,84.7 H288.8 L291.0,87.5 L288.8,90.3 H282.4 Z" fill="#fff" stroke="#b82cc0" stroke-width="0.7"/><text x="286.0" y="89.3" font-family="Liberation Sans, sans-serif" font-size="4.8" fill="#b82cc0" text-anchor="middle">3</text>
<path d="M282.4,116.4 H288.8 L291.0,119.2 L288.8,122.0 H282.4 Z" fill="#fff" stroke="#2a9a2a" stroke-width="0.7"/><text x="286.0" y="121.0" font-family="Liberation Sans, sans-serif" font-size="4.8" fill="#2a9a2a" text-anchor="middle">4</text>
<rect x="281.2" y="136.6" width="98.7" height="16.6" rx="1.6" fill="#ebebeb" stroke="#7e7e7e" stroke-width="0.9"/>
<rect x="282.7" y="138.8" width="8.7" height="5" rx="2.3" fill="#a4ecf2"/>
<text x="287.0" y="142.9" font-family="Liberation Sans, sans-serif" font-size="4.4" fill="#e6fbff" text-anchor="middle">2</text>
<text x="296.4" y="144.3" font-family="Liberation Sans, sans-serif" font-size="6.6" fill="#38cad8" stroke="#38cad8" stroke-width="0.18" textLength="13.1" lengthAdjust="spacingAndGlyphs">20.0 A</text>
<rect x="282.7" y="146.7" width="9.2" height="5.6" rx="2.5" fill="#13a013"/>
<text x="287.3" y="151.0" font-family="Liberation Sans, sans-serif" font-size="4.6" fill="#e8ffe8" text-anchor="middle">4</text>
<text x="296.4" y="151.9" font-family="Liberation Sans, sans-serif" font-size="6.6" fill="#1faa1f" stroke="#1faa1f" stroke-width="0.18" textLength="13.1" lengthAdjust="spacingAndGlyphs">20.0 A</text>
<rect x="335.6" y="138.8" width="9.6" height="5.6" rx="2.5" fill="#b014b4"/>
<text x="340.4" y="143.1" font-family="Liberation Sans, sans-serif" font-size="4.6" fill="#ffe8ff" text-anchor="middle">3</text>
<text x="349.8" y="144.3" font-family="Liberation Sans, sans-serif" font-size="6.6" fill="#a822b0" stroke="#a822b0" stroke-width="0.18" textLength="13.4" lengthAdjust="spacingAndGlyphs">20.0 A</text>
<rect x="380.6" y="144.5" width="53.7" height="8.5" rx="1.6" fill="#ebebeb" stroke="#7e7e7e" stroke-width="0.9"/>
<rect x="435.8" y="144.5" width="76.4" height="8.5" rx="1.6" fill="#ebebeb" stroke="#7e7e7e" stroke-width="0.9"/>
<rect x="512.8" y="144.5" width="33.4" height="8.5" rx="1.6" fill="#ebebeb" stroke="#7e7e7e" stroke-width="0.9"/>
<text x="382.4" y="151.3" font-family="Liberation Sans, sans-serif" font-size="6.6" fill="#222" stroke="#222" stroke-width="0.18" textLength="11.8" lengthAdjust="spacingAndGlyphs">1.00 s</text>
<rect x="437.0" y="146.9" width="8.9" height="5.2" rx="2.4" fill="#1d4ff0"/>
<text x="441.4" y="151.0" font-family="Liberation Sans, sans-serif" font-size="4.6" fill="#fff" text-anchor="middle">1</text>
<text x="449.6" y="151.3" font-family="Liberation Sans, sans-serif" font-size="6.6" fill="#222" stroke="#222" stroke-width="0.18" textLength="18.2" lengthAdjust="spacingAndGlyphs">/ 60.0 V</text>
<text x="514.1" y="151.3" font-family="Liberation Sans, sans-serif" font-size="6.6" fill="#222" stroke="#222" stroke-width="0.18" textLength="18.4" lengthAdjust="spacingAndGlyphs">14:37:38</text>
<text x="415.6" y="193.3" font-family="Liberation Serif, serif" font-weight="bold" font-size="11.8" text-anchor="middle" fill="#111">Output current experimental waveforms</text>
<rect x="285" y="199.6" width="261.20000000000005" height="136.6" fill="#efefef"/>
<rect x="296.0" y="208.4" width="245.39999999999998" height="117.20000000000002" fill="#ffffff"/>
<text x="286.0" y="206.1" font-family="Liberation Sans, sans-serif" font-weight="bold" font-size="7.6" fill="#111" textLength="12" lengthAdjust="spacingAndGlyphs">Tek</text>
<text x="299.8" y="206.0" font-family="Liberation Sans, sans-serif" font-size="5.6" fill="#333" stroke="#333" stroke-width="0.18" textLength="10.0" lengthAdjust="spacingAndGlyphs">Stop</text>
<rect x="378.2" y="200.4" width="80" height="5.6" rx="1.2" fill="#f8f8f8" stroke="#d0d0d0" stroke-width="0.5"/>
<line x1="380.2" y1="203.3" x2="457.2" y2="203.3" stroke="#6fd6e2" stroke-width="1.3"/>
<path d="M416.7,200.6 L420.7,200.6 L418.7,203.4 Z" fill="#f29a1a"/>
<text x="482.5" y="206.0" font-family="Liberation Sans, sans-serif" font-size="5.9" fill="#222" stroke="#222" stroke-width="0.18" textLength="43.8" lengthAdjust="spacingAndGlyphs">1.40kHz&#160;&#160;Noise Filter</text>
<clipPath id="scr1"><rect x="296.0" y="208.4" width="245.39999999999998" height="117.20000000000002"/></clipPath>
<g clip-path="url(#scr1)">
<polygon points="296.0,214.5 296.5,214.5 297.0,214.4 297.5,214.0 298.0,214.3 298.5,214.2 299.0,214.2 299.5,214.0 300.0,214.0 300.5,214.2 301.0,214.0 301.5,214.2 302.0,213.9 302.5,214.0 303.0,214.3 303.5,214.2 304.0,214.2 304.5,214.4 305.0,214.1 305.5,214.0 306.0,214.4 306.5,214.3 307.0,214.3 307.5,214.3 308.0,214.5 308.5,214.1 309.0,214.4 309.5,214.2 310.0,214.3 310.5,214.3 311.0,214.1 311.5,214.0 312.0,214.2 312.5,214.4 313.0,214.3 313.5,214.2 314.0,214.3 314.5,214.1 315.0,214.1 315.5,214.2 316.0,214.5 316.5,214.1 317.0,214.0 317.5,214.0 318.0,214.0 318.5,214.2 319.0,214.3 319.5,214.5 320.0,214.2 320.5,214.2 321.0,214.2 321.5,214.2 322.0,214.5 322.5,214.4 323.0,214.2 323.5,214.1 324.0,214.5 324.5,214.5 325.0,214.5 325.5,214.2 326.0,214.4 326.5,214.6 327.0,214.4 327.5,214.6 328.0,214.2 328.5,214.7 329.0,214.1 329.5,214.3 330.0,214.1 330.5,214.6 331.0,214.5 331.5,214.7 332.0,214.6 332.5,214.7 333.0,214.4 333.5,214.7 334.0,214.6 334.5,214.3 335.0,214.7 335.5,214.4 336.0,214.3 336.5,214.2 337.0,214.4 337.5,214.3 338.0,214.7 338.5,214.7 339.0,214.3 339.5,214.2 340.0,214.5 340.5,214.3 341.0,214.5 341.5,214.7 342.0,214.3 342.5,214.4 343.0,214.7 343.5,214.5 344.0,214.4 344.5,214.7 345.0,214.7 345.5,214.8 346.0,214.6 346.5,214.5 347.0,214.6 347.5,214.7 348.0,214.6 348.5,214.4 349.0,214.4 349.5,214.5 350.0,214.7 350.5,214.6 351.0,214.6 351.5,214.8 352.0,214.3 352.5,214.7 353.0,214.5 353.5,214.6 354.0,214.8 354.5,214.4 355.0,214.9 355.5,214.3 356.0,214.6 356.5,214.6 357.0,214.4 357.5,214.6 358.0,214.6 358.5,214.6 359.0,214.7 359.5,214.3 360.0,214.5 360.5,214.8 361.0,214.4 361.5,214.8 362.0,214.5 362.5,214.7 363.0,214.4 363.5,214.6 364.0,214.6 364.5,214.4 365.0,214.8 365.5,214.6 366.0,214.8 366.5,214.7 367.0,214.7 367.5,214.7 368.0,214.5 368.5,214.9 369.0,214.4 369.5,214.9 370.0,214.9 370.5,214.7 371.0,214.8 371.5,214.8 372.0,214.7 372.5,214.5 373.0,214.6 373.5,214.6 374.0,214.5 374.5,214.9 375.0,214.6 375.5,214.6 376.0,214.6 376.5,214.8 377.0,214.6 377.5,214.7 378.0,214.5 378.5,214.5 379.0,214.4 379.5,214.5 380.0,214.5 380.5,214.9 381.0,214.7 381.5,214.4 382.0,214.6 382.5,214.4 383.0,214.7 383.5,214.6 384.0,214.9 384.5,214.5 385.0,214.8 385.5,214.5 386.0,214.9 386.5,214.7 387.0,214.3 387.5,214.8 388.0,214.5 388.5,214.5 389.0,214.4 389.5,214.8 390.0,214.4 390.5,214.7 391.0,214.5 391.5,214.7 392.0,214.5 392.5,214.3 393.0,214.8 393.5,214.7 394.0,214.4 394.5,214.8 395.0,214.8 395.5,214.4 396.0,214.2 396.5,214.6 397.0,214.3 397.5,214.7 398.0,214.5 398.5,214.6 399.0,214.5 399.5,214.7 400.0,214.7 400.5,214.5 401.0,214.5 401.5,214.4 402.0,214.2 402.5,214.2 403.0,214.6 403.5,214.2 404.0,214.4 404.5,214.3 405.0,214.5 405.5,214.4 406.0,214.6 406.5,214.3 407.0,214.3 407.5,214.4 408.0,214.5 408.5,214.6 409.0,214.2 409.5,214.5 410.0,214.6 410.5,214.6 411.0,214.0 411.5,214.2 412.0,214.4 412.5,214.4 413.0,213.9 413.5,214.1 414.0,210.0 414.5,208.1 415.0,208.0 415.5,207.8 416.0,207.9 416.5,207.7 417.0,207.8 417.5,207.9 418.0,208.1 418.5,208.0 419.0,207.8 419.5,207.7 420.0,207.8 420.5,208.0 421.0,207.8 421.5,207.6 422.0,208.0 422.5,207.9 423.0,208.1 423.5,207.8 424.0,207.9 424.5,207.7 425.0,207.8 425.5,208.0 426.0,208.1 426.5,207.9 427.0,207.7 427.5,207.5 428.0,207.9 428.5,207.7 429.0,207.6 429.5,207.4 430.0,207.4 430.5,207.6 431.0,208.0 431.5,207.8 432.0,207.8 432.5,207.8 433.0,207.5 433.5,207.5 434.0,207.7 434.5,207.4 435.0,207.7 435.5,207.6 436.0,207.7 436.5,207.4 437.0,207.4 437.5,207.6 438.0,207.4 438.5,207.7 439.0,207.5 439.5,207.7 440.0,207.8 440.5,207.7 441.0,207.6 441.5,207.4 442.0,207.5 442.5,207.9 443.0,207.4 443.5,207.4 444.0,207.6 444.5,207.6 445.0,207.7 445.5,207.4 446.0,207.8 446.5,207.3 447.0,207.7 447.5,207.6 448.0,207.8 448.5,207.3 449.0,207.7 449.5,207.8 450.0,207.6 450.5,207.3 451.0,207.8 451.5,207.8 452.0,207.3 452.5,207.7 453.0,207.3 453.5,207.3 454.0,207.7 454.5,207.7 455.0,207.8 455.5,207.6 456.0,207.5 456.5,207.4 457.0,207.6 457.5,207.8 458.0,207.6 458.5,207.8 459.0,207.4 459.5,207.7 460.0,207.7 460.5,207.3 461.0,207.7 461.5,207.4 462.0,207.4 462.5,207.3 463.0,207.6 463.5,207.3 464.0,207.8 464.5,207.3 465.0,207.7 465.5,207.7 466.0,207.6 466.5,207.6 467.0,207.7 467.5,207.6 468.0,207.3 468.5,207.7 469.0,207.5 469.5,207.6 470.0,207.6 470.5,207.8 471.0,207.5 471.5,207.8 472.0,207.3 472.5,207.5 473.0,207.7 473.5,207.7 474.0,207.8 474.5,207.4 475.0,207.8 475.5,207.8 476.0,207.4 476.5,207.4 477.0,207.7 477.5,207.9 478.0,207.7 478.5,207.6 479.0,207.6 479.5,207.8 480.0,207.6 480.5,207.7 481.0,207.7 481.5,207.9 482.0,207.8 482.5,207.8 483.0,207.5 483.5,207.7 484.0,207.8 484.5,207.8 485.0,207.9 485.5,207.9 486.0,207.4 486.5,207.7 487.0,207.6 487.5,207.5 488.0,207.7 488.5,208.0 489.0,207.9 489.5,207.5 490.0,207.5 490.5,207.6 491.0,207.9 491.5,207.7 492.0,207.5 492.5,207.7 493.0,207.6 493.5,207.4 494.0,207.8 494.5,208.0 495.0,207.9 495.5,207.9 496.0,207.5 496.5,207.8 497.0,207.8 497.5,207.9 498.0,207.7 498.5,207.5 499.0,208.0 499.5,207.6 500.0,207.9 500.5,207.8 501.0,208.0 501.5,207.7 502.0,207.6 502.5,207.8 503.0,207.8 503.5,208.0 504.0,207.8 504.5,207.9 505.0,207.7 505.5,208.0 506.0,207.6 506.5,208.1 507.0,208.1 507.5,207.6 508.0,208.1 508.5,208.0 509.0,208.0 509.5,207.6 510.0,208.0 510.5,208.0 511.0,207.9 511.5,208.1 512.0,208.1 512.5,208.0 513.0,208.1 513.5,207.7 514.0,207.8 514.5,207.9 515.0,207.9 515.5,208.2 516.0,208.0 516.5,208.0 517.0,208.0 517.5,208.2 518.0,207.9 518.5,208.1 519.0,208.0 519.5,207.9 520.0,207.8 520.5,207.7 521.0,207.6 521.5,207.8 522.0,207.8 522.5,207.7 523.0,207.9 523.5,207.9 524.0,208.2 524.5,208.1 525.0,208.1 525.5,208.2 526.0,207.8 526.5,207.7 527.0,208.0 527.5,207.8 528.0,208.3 528.5,207.9 529.0,208.2 529.5,207.8 530.0,207.7 530.5,208.1 531.0,208.1 531.5,207.8 532.0,208.2 532.5,208.3 533.0,208.1 533.5,208.3 534.0,208.3 534.5,207.8 535.0,208.1 535.5,208.1 536.0,208.1 536.5,207.9 537.0,208.0 537.5,208.1 538.0,208.2 538.5,207.7 539.0,207.9 539.5,207.9 540.0,208.2 540.5,207.8 541.0,207.7 541.0,253.4 540.5,253.4 540.0,253.6 539.5,253.8 539.0,253.5 538.5,253.4 538.0,253.7 537.5,253.5 537.0,253.6 536.5,253.7 536.0,253.6 535.5,253.7 535.0,253.7 534.5,253.8 534.0,253.8 533.5,253.8 533.0,253.8 532.5,253.5 532.0,253.6 531.5,253.8 531.0,253.8 530.5,253.7 530.0,253.8 529.5,253.8 529.0,253.6 528.5,253.7 528.0,253.3 527.5,253.6 527.0,253.8 526.5,253.9 526.0,253.8 525.5,253.6 525.0,253.5 524.5,253.9 524.0,253.7 523.5,253.4 523.0,253.4 522.5,253.9 522.0,253.7 521.5,253.4 521.0,253.9 520.5,253.7 520.0,253.8 519.5,253.8 519.0,253.5 518.5,253.7 518.0,253.5 517.5,253.7 517.0,253.6 516.5,253.8 516.0,253.4 515.5,253.5 515.0,253.6 514.5,253.4 514.0,253.6 513.5,254.0 513.0,253.9 512.5,253.5 512.0,253.9 511.5,253.5 511.0,253.5 510.5,253.8 510.0,253.6 509.5,253.5 509.0,253.5 508.5,253.5 508.0,253.5 507.5,254.0 507.0,253.4 506.5,253.7 506.0,253.5 505.5,253.9 505.0,253.4 504.5,253.7 504.0,253.9 503.5,253.5 503.0,253.7 502.5,253.6 502.0,253.7 501.5,253.8 501.0,253.5 500.5,254.0 500.0,253.6 499.5,253.9 499.0,253.5 498.5,253.5 498.0,253.6 497.5,253.5 497.0,253.6 496.5,253.6 496.0,253.5 495.5,254.0 495.0,253.8 494.5,253.8 494.0,253.8 493.5,254.0 493.0,253.5 492.5,253.5 492.0,253.9 491.5,253.5 491.0,253.8 490.5,253.9 490.0,254.0 489.5,253.5 489.0,253.8 488.5,253.7 488.0,253.9 487.5,253.5 487.0,254.0 486.5,254.1 486.0,253.9 485.5,253.9 485.0,254.0 484.5,254.1 484.0,254.0 483.5,253.8 483.0,253.6 482.5,254.0 482.0,254.1 481.5,254.0 481.0,253.8 480.5,254.1 480.0,253.9 479.5,253.8 479.0,254.0 478.5,253.7 478.0,253.7 477.5,254.1 477.0,253.6 476.5,254.1 476.0,253.8 475.5,253.9 475.0,254.0 474.5,254.1 474.0,253.7 473.5,253.6 473.0,253.9 472.5,253.7 472.0,253.8 471.5,253.7 471.0,253.7 470.5,253.9 470.0,253.6 469.5,253.8 469.0,253.8 468.5,253.7 468.0,254.1 467.5,254.1 467.0,253.6 466.5,254.1 466.0,253.7 465.5,254.0 465.0,253.6 464.5,254.1 464.0,254.2 463.5,253.8 463.0,253.7 462.5,253.8 462.0,254.1 461.5,254.1 461.0,253.7 460.5,254.1 460.0,254.1 459.5,254.2 459.0,254.2 458.5,253.7 458.0,254.0 457.5,253.6 457.0,253.7 456.5,253.9 456.0,253.7 455.5,253.7 455.0,253.8 454.5,253.9 454.0,254.1 453.5,253.9 453.0,253.9 452.5,254.0 452.0,253.7 451.5,254.1 451.0,254.0 450.5,254.1 450.0,253.9 449.5,253.9 449.0,253.6 448.5,253.9 448.0,254.0 447.5,254.1 447.0,254.1 446.5,253.8 446.0,254.0 445.5,254.1 445.0,254.1 444.5,254.0 444.0,253.7 443.5,254.1 443.0,253.6 442.5,253.9 442.0,253.8 441.5,254.1 441.0,253.9 440.5,253.6 440.0,253.6 439.5,253.5 439.0,254.0 438.5,254.0 438.0,253.7 437.5,253.6 437.0,253.8 436.5,253.6 436.0,253.8 435.5,253.7 435.0,253.7 434.5,253.9 434.0,253.6 433.5,253.6 433.0,253.8 432.5,254.0 432.0,253.5 431.5,253.6 431.0,253.6 430.5,253.6 430.0,253.7 429.5,253.9 429.0,253.5 428.5,253.8 428.0,253.6 427.5,253.7 427.0,253.7 426.5,253.7 426.0,253.4 425.5,253.7 425.0,253.6 424.5,253.8 424.0,253.7 423.5,253.5 423.0,253.9 422.5,253.4 422.0,253.3 421.5,253.3 421.0,253.7 420.5,253.3 420.0,253.7 419.5,253.3 419.0,253.4 418.5,253.6 418.0,253.2 417.5,253.4 417.0,253.8 416.5,253.6 416.0,253.4 415.5,253.7 415.0,253.5 414.5,253.6 414.0,250.3 413.5,247.3 413.0,247.5 412.5,247.5 412.0,247.5 411.5,247.1 411.0,247.3 410.5,247.2 410.0,247.2 409.5,247.1 409.0,247.4 408.5,247.1 408.0,247.2 407.5,247.0 407.0,247.4 406.5,247.3 406.0,247.0 405.5,247.5 405.0,247.5 404.5,247.4 404.0,247.4 403.5,247.3 403.0,246.9 402.5,247.0 402.0,247.0 401.5,246.9 401.0,247.2 400.5,247.2 400.0,247.0 399.5,247.3 399.0,247.0 398.5,247.0 398.0,246.9 397.5,246.9 397.0,247.3 396.5,247.1 396.0,247.2 395.5,247.3 395.0,247.2 394.5,247.0 394.0,247.3 393.5,246.8 393.0,247.0 392.5,247.3 392.0,247.1 391.5,246.9 391.0,247.2 390.5,247.2 390.0,247.1 389.5,246.9 389.0,247.1 388.5,247.1 388.0,247.2 387.5,247.0 387.0,247.3 386.5,247.1 386.0,246.8 385.5,247.0 385.0,246.8 384.5,247.1 384.0,246.9 383.5,247.3 383.0,246.9 382.5,247.1 382.0,247.2 381.5,246.9 381.0,247.0 380.5,246.8 380.0,246.9 379.5,246.9 379.0,247.1 378.5,247.0 378.0,246.8 377.5,247.0 377.0,247.0 376.5,247.0 376.0,246.9 375.5,247.2 375.0,247.0 374.5,247.1 374.0,247.0 373.5,246.9 373.0,246.9 372.5,247.1 372.0,246.9 371.5,246.7 371.0,246.8 370.5,246.7 370.0,246.7 369.5,246.9 369.0,246.9 368.5,246.9 368.0,246.8 367.5,246.8 367.0,246.9 366.5,246.8 366.0,246.8 365.5,247.0 365.0,247.1 364.5,246.7 364.0,246.7 363.5,246.9 363.0,247.2 362.5,247.1 362.0,246.9 361.5,247.3 361.0,247.1 360.5,247.2 360.0,247.2 359.5,246.7 359.0,246.8 358.5,247.2 358.0,246.9 357.5,247.2 357.0,246.8 356.5,247.3 356.0,247.1 355.5,247.0 355.0,247.2 354.5,247.0 354.0,247.0 353.5,246.8 353.0,247.2 352.5,246.8 352.0,246.9 351.5,246.8 351.0,246.8 350.5,246.9 350.0,246.8 349.5,247.0 349.0,247.0 348.5,246.8 348.0,247.1 347.5,246.9 347.0,246.9 346.5,247.1 346.0,247.0 345.5,246.8 345.0,247.4 344.5,247.4 344.0,246.9 343.5,247.2 343.0,247.2 342.5,247.0 342.0,247.1 341.5,247.0 341.0,247.0 340.5,247.1 340.0,246.9 339.5,247.0 339.0,247.4 338.5,247.3 338.0,247.1 337.5,247.5 337.0,247.1 336.5,247.4 336.0,247.1 335.5,247.4 335.0,247.2 334.5,247.4 334.0,247.0 333.5,247.1 333.0,247.1 332.5,247.4 332.0,247.4 331.5,247.0 331.0,247.2 330.5,247.0 330.0,247.0 329.5,247.0 329.0,247.0 328.5,247.1 328.0,247.2 327.5,247.5 327.0,247.3 326.5,247.4 326.0,247.2 325.5,247.2 325.0,247.2 324.5,247.1 324.0,247.0 323.5,247.1 323.0,247.5 322.5,247.0 322.0,247.3 321.5,247.1 321.0,247.5 320.5,247.0 320.0,247.3 319.5,247.4 319.0,247.3 318.5,247.1 318.0,247.5 317.5,247.0 317.0,247.6 316.5,247.5 316.0,247.6 315.5,247.6 315.0,247.3 314.5,247.4 314.0,247.3 313.5,247.4 313.0,247.3 312.5,247.6 312.0,247.2 311.5,247.4 311.0,247.1 310.5,247.1 310.0,247.6 309.5,247.3 309.0,247.3 308.5,247.7 308.0,247.5 307.5,247.2 307.0,247.4 306.5,247.4 306.0,247.4 305.5,247.2 305.0,247.2 304.5,247.7 304.0,247.4 303.5,247.4 303.0,247.5 302.5,247.5 302.0,247.2 301.5,247.6 301.0,247.4 300.5,247.2 300.0,247.3 299.5,247.7 299.0,247.6 298.5,247.6 298.0,247.4 297.5,247.5 297.0,247.3 296.5,247.5 296.0,247.4" fill="#18bcba"/><clipPath id="c1cy"><polygon points="296.0,214.5 296.5,214.5 297.0,214.4 297.5,214.0 298.0,214.3 298.5,214.2 299.0,214.2 299.5,214.0 300.0,214.0 300.5,214.2 301.0,214.0 301.5,214.2 302.0,213.9 302.5,214.0 303.0,214.3 303.5,214.2 304.0,214.2 304.5,214.4 305.0,214.1 305.5,214.0 306.0,214.4 306.5,214.3 307.0,214.3 307.5,214.3 308.0,214.5 308.5,214.1 309.0,214.4 309.5,214.2 310.0,214.3 310.5,214.3 311.0,214.1 311.5,214.0 312.0,214.2 312.5,214.4 313.0,214.3 313.5,214.2 314.0,214.3 314.5,214.1 315.0,214.1 315.5,214.2 316.0,214.5 316.5,214.1 317.0,214.0 317.5,214.0 318.0,214.0 318.5,214.2 319.0,214.3 319.5,214.5 320.0,214.2 320.5,214.2 321.0,214.2 321.5,214.2 322.0,214.5 322.5,214.4 323.0,214.2 323.5,214.1 324.0,214.5 324.5,214.5 325.0,214.5 325.5,214.2 326.0,214.4 326.5,214.6 327.0,214.4 327.5,214.6 328.0,214.2 328.5,214.7 329.0,214.1 329.5,214.3 330.0,214.1 330.5,214.6 331.0,214.5 331.5,214.7 332.0,214.6 332.5,214.7 333.0,214.4 333.5,214.7 334.0,214.6 334.5,214.3 335.0,214.7 335.5,214.4 336.0,214.3 336.5,214.2 337.0,214.4 337.5,214.3 338.0,214.7 338.5,214.7 339.0,214.3 339.5,214.2 340.0,214.5 340.5,214.3 341.0,214.5 341.5,214.7 342.0,214.3 342.5,214.4 343.0,214.7 343.5,214.5 344.0,214.4 344.5,214.7 345.0,214.7 345.5,214.8 346.0,214.6 346.5,214.5 347.0,214.6 347.5,214.7 348.0,214.6 348.5,214.4 349.0,214.4 349.5,214.5 350.0,214.7 350.5,214.6 351.0,214.6 351.5,214.8 352.0,214.3 352.5,214.7 353.0,214.5 353.5,214.6 354.0,214.8 354.5,214.4 355.0,214.9 355.5,214.3 356.0,214.6 356.5,214.6 357.0,214.4 357.5,214.6 358.0,214.6 358.5,214.6 359.0,214.7 359.5,214.3 360.0,214.5 360.5,214.8 361.0,214.4 361.5,214.8 362.0,214.5 362.5,214.7 363.0,214.4 363.5,214.6 364.0,214.6 364.5,214.4 365.0,214.8 365.5,214.6 366.0,214.8 366.5,214.7 367.0,214.7 367.5,214.7 368.0,214.5 368.5,214.9 369.0,214.4 369.5,214.9 370.0,214.9 370.5,214.7 371.0,214.8 371.5,214.8 372.0,214.7 372.5,214.5 373.0,214.6 373.5,214.6 374.0,214.5 374.5,214.9 375.0,214.6 375.5,214.6 376.0,214.6 376.5,214.8 377.0,214.6 377.5,214.7 378.0,214.5 378.5,214.5 379.0,214.4 379.5,214.5 380.0,214.5 380.5,214.9 381.0,214.7 381.5,214.4 382.0,214.6 382.5,214.4 383.0,214.7 383.5,214.6 384.0,214.9 384.5,214.5 385.0,214.8 385.5,214.5 386.0,214.9 386.5,214.7 387.0,214.3 387.5,214.8 388.0,214.5 388.5,214.5 389.0,214.4 389.5,214.8 390.0,214.4 390.5,214.7 391.0,214.5 391.5,214.7 392.0,214.5 392.5,214.3 393.0,214.8 393.5,214.7 394.0,214.4 394.5,214.8 395.0,214.8 395.5,214.4 396.0,214.2 396.5,214.6 397.0,214.3 397.5,214.7 398.0,214.5 398.5,214.6 399.0,214.5 399.5,214.7 400.0,214.7 400.5,214.5 401.0,214.5 401.5,214.4 402.0,214.2 402.5,214.2 403.0,214.6 403.5,214.2 404.0,214.4 404.5,214.3 405.0,214.5 405.5,214.4 406.0,214.6 406.5,214.3 407.0,214.3 407.5,214.4 408.0,214.5 408.5,214.6 409.0,214.2 409.5,214.5 410.0,214.6 410.5,214.6 411.0,214.0 411.5,214.2 412.0,214.4 412.5,214.4 413.0,213.9 413.5,214.1 414.0,210.0 414.5,208.1 415.0,208.0 415.5,207.8 416.0,207.9 416.5,207.7 417.0,207.8 417.5,207.9 418.0,208.1 418.5,208.0 419.0,207.8 419.5,207.7 420.0,207.8 420.5,208.0 421.0,207.8 421.5,207.6 422.0,208.0 422.5,207.9 423.0,208.1 423.5,207.8 424.0,207.9 424.5,207.7 425.0,207.8 425.5,208.0 426.0,208.1 426.5,207.9 427.0,207.7 427.5,207.5 428.0,207.9 428.5,207.7 429.0,207.6 429.5,207.4 430.0,207.4 430.5,207.6 431.0,208.0 431.5,207.8 432.0,207.8 432.5,207.8 433.0,207.5 433.5,207.5 434.0,207.7 434.5,207.4 435.0,207.7 435.5,207.6 436.0,207.7 436.5,207.4 437.0,207.4 437.5,207.6 438.0,207.4 438.5,207.7 439.0,207.5 439.5,207.7 440.0,207.8 440.5,207.7 441.0,207.6 441.5,207.4 442.0,207.5 442.5,207.9 443.0,207.4 443.5,207.4 444.0,207.6 444.5,207.6 445.0,207.7 445.5,207.4 446.0,207.8 446.5,207.3 447.0,207.7 447.5,207.6 448.0,207.8 448.5,207.3 449.0,207.7 449.5,207.8 450.0,207.6 450.5,207.3 451.0,207.8 451.5,207.8 452.0,207.3 452.5,207.7 453.0,207.3 453.5,207.3 454.0,207.7 454.5,207.7 455.0,207.8 455.5,207.6 456.0,207.5 456.5,207.4 457.0,207.6 457.5,207.8 458.0,207.6 458.5,207.8 459.0,207.4 459.5,207.7 460.0,207.7 460.5,207.3 461.0,207.7 461.5,207.4 462.0,207.4 462.5,207.3 463.0,207.6 463.5,207.3 464.0,207.8 464.5,207.3 465.0,207.7 465.5,207.7 466.0,207.6 466.5,207.6 467.0,207.7 467.5,207.6 468.0,207.3 468.5,207.7 469.0,207.5 469.5,207.6 470.0,207.6 470.5,207.8 471.0,207.5 471.5,207.8 472.0,207.3 472.5,207.5 473.0,207.7 473.5,207.7 474.0,207.8 474.5,207.4 475.0,207.8 475.5,207.8 476.0,207.4 476.5,207.4 477.0,207.7 477.5,207.9 478.0,207.7 478.5,207.6 479.0,207.6 479.5,207.8 480.0,207.6 480.5,207.7 481.0,207.7 481.5,207.9 482.0,207.8 482.5,207.8 483.0,207.5 483.5,207.7 484.0,207.8 484.5,207.8 485.0,207.9 485.5,207.9 486.0,207.4 486.5,207.7 487.0,207.6 487.5,207.5 488.0,207.7 488.5,208.0 489.0,207.9 489.5,207.5 490.0,207.5 490.5,207.6 491.0,207.9 491.5,207.7 492.0,207.5 492.5,207.7 493.0,207.6 493.5,207.4 494.0,207.8 494.5,208.0 495.0,207.9 495.5,207.9 496.0,207.5 496.5,207.8 497.0,207.8 497.5,207.9 498.0,207.7 498.5,207.5 499.0,208.0 499.5,207.6 500.0,207.9 500.5,207.8 501.0,208.0 501.5,207.7 502.0,207.6 502.5,207.8 503.0,207.8 503.5,208.0 504.0,207.8 504.5,207.9 505.0,207.7 505.5,208.0 506.0,207.6 506.5,208.1 507.0,208.1 507.5,207.6 508.0,208.1 508.5,208.0 509.0,208.0 509.5,207.6 510.0,208.0 510.5,208.0 511.0,207.9 511.5,208.1 512.0,208.1 512.5,208.0 513.0,208.1 513.5,207.7 514.0,207.8 514.5,207.9 515.0,207.9 515.5,208.2 516.0,208.0 516.5,208.0 517.0,208.0 517.5,208.2 518.0,207.9 518.5,208.1 519.0,208.0 519.5,207.9 520.0,207.8 520.5,207.7 521.0,207.6 521.5,207.8 522.0,207.8 522.5,207.7 523.0,207.9 523.5,207.9 524.0,208.2 524.5,208.1 525.0,208.1 525.5,208.2 526.0,207.8 526.5,207.7 527.0,208.0 527.5,207.8 528.0,208.3 528.5,207.9 529.0,208.2 529.5,207.8 530.0,207.7 530.5,208.1 531.0,208.1 531.5,207.8 532.0,208.2 532.5,208.3 533.0,208.1 533.5,208.3 534.0,208.3 534.5,207.8 535.0,208.1 535.5,208.1 536.0,208.1 536.5,207.9 537.0,208.0 537.5,208.1 538.0,208.2 538.5,207.7 539.0,207.9 539.5,207.9 540.0,208.2 540.5,207.8 541.0,207.7 541.0,253.4 540.5,253.4 540.0,253.6 539.5,253.8 539.0,253.5 538.5,253.4 538.0,253.7 537.5,253.5 537.0,253.6 536.5,253.7 536.0,253.6 535.5,253.7 535.0,253.7 534.5,253.8 534.0,253.8 533.5,253.8 533.0,253.8 532.5,253.5 532.0,253.6 531.5,253.8 531.0,253.8 530.5,253.7 530.0,253.8 529.5,253.8 529.0,253.6 528.5,253.7 528.0,253.3 527.5,253.6 527.0,253.8 526.5,253.9 526.0,253.8 525.5,253.6 525.0,253.5 524.5,253.9 524.0,253.7 523.5,253.4 523.0,253.4 522.5,253.9 522.0,253.7 521.5,253.4 521.0,253.9 520.5,253.7 520.0,253.8 519.5,253.8 519.0,253.5 518.5,253.7 518.0,253.5 517.5,253.7 517.0,253.6 516.5,253.8 516.0,253.4 515.5,253.5 515.0,253.6 514.5,253.4 514.0,253.6 513.5,254.0 513.0,253.9 512.5,253.5 512.0,253.9 511.5,253.5 511.0,253.5 510.5,253.8 510.0,253.6 509.5,253.5 509.0,253.5 508.5,253.5 508.0,253.5 507.5,254.0 507.0,253.4 506.5,253.7 506.0,253.5 505.5,253.9 505.0,253.4 504.5,253.7 504.0,253.9 503.5,253.5 503.0,253.7 502.5,253.6 502.0,253.7 501.5,253.8 501.0,253.5 500.5,254.0 500.0,253.6 499.5,253.9 499.0,253.5 498.5,253.5 498.0,253.6 497.5,253.5 497.0,253.6 496.5,253.6 496.0,253.5 495.5,254.0 495.0,253.8 494.5,253.8 494.0,253.8 493.5,254.0 493.0,253.5 492.5,253.5 492.0,253.9 491.5,253.5 491.0,253.8 490.5,253.9 490.0,254.0 489.5,253.5 489.0,253.8 488.5,253.7 488.0,253.9 487.5,253.5 487.0,254.0 486.5,254.1 486.0,253.9 485.5,253.9 485.0,254.0 484.5,254.1 484.0,254.0 483.5,253.8 483.0,253.6 482.5,254.0 482.0,254.1 481.5,254.0 481.0,253.8 480.5,254.1 480.0,253.9 479.5,253.8 479.0,254.0 478.5,253.7 478.0,253.7 477.5,254.1 477.0,253.6 476.5,254.1 476.0,253.8 475.5,253.9 475.0,254.0 474.5,254.1 474.0,253.7 473.5,253.6 473.0,253.9 472.5,253.7 472.0,253.8 471.5,253.7 471.0,253.7 470.5,253.9 470.0,253.6 469.5,253.8 469.0,253.8 468.5,253.7 468.0,254.1 467.5,254.1 467.0,253.6 466.5,254.1 466.0,253.7 465.5,254.0 465.0,253.6 464.5,254.1 464.0,254.2 463.5,253.8 463.0,253.7 462.5,253.8 462.0,254.1 461.5,254.1 461.0,253.7 460.5,254.1 460.0,254.1 459.5,254.2 459.0,254.2 458.5,253.7 458.0,254.0 457.5,253.6 457.0,253.7 456.5,253.9 456.0,253.7 455.5,253.7 455.0,253.8 454.5,253.9 454.0,254.1 453.5,253.9 453.0,253.9 452.5,254.0 452.0,253.7 451.5,254.1 451.0,254.0 450.5,254.1 450.0,253.9 449.5,253.9 449.0,253.6 448.5,253.9 448.0,254.0 447.5,254.1 447.0,254.1 446.5,253.8 446.0,254.0 445.5,254.1 445.0,254.1 444.5,254.0 444.0,253.7 443.5,254.1 443.0,253.6 442.5,253.9 442.0,253.8 441.5,254.1 441.0,253.9 440.5,253.6 440.0,253.6 439.5,253.5 439.0,254.0 438.5,254.0 438.0,253.7 437.5,253.6 437.0,253.8 436.5,253.6 436.0,253.8 435.5,253.7 435.0,253.7 434.5,253.9 434.0,253.6 433.5,253.6 433.0,253.8 432.5,254.0 432.0,253.5 431.5,253.6 431.0,253.6 430.5,253.6 430.0,253.7 429.5,253.9 429.0,253.5 428.5,253.8 428.0,253.6 427.5,253.7 427.0,253.7 426.5,253.7 426.0,253.4 425.5,253.7 425.0,253.6 424.5,253.8 424.0,253.7 423.5,253.5 423.0,253.9 422.5,253.4 422.0,253.3 421.5,253.3 421.0,253.7 420.5,253.3 420.0,253.7 419.5,253.3 419.0,253.4 418.5,253.6 418.0,253.2 417.5,253.4 417.0,253.8 416.5,253.6 416.0,253.4 415.5,253.7 415.0,253.5 414.5,253.6 414.0,250.3 413.5,247.3 413.0,247.5 412.5,247.5 412.0,247.5 411.5,247.1 411.0,247.3 410.5,247.2 410.0,247.2 409.5,247.1 409.0,247.4 408.5,247.1 408.0,247.2 407.5,247.0 407.0,247.4 406.5,247.3 406.0,247.0 405.5,247.5 405.0,247.5 404.5,247.4 404.0,247.4 403.5,247.3 403.0,246.9 402.5,247.0 402.0,247.0 401.5,246.9 401.0,247.2 400.5,247.2 400.0,247.0 399.5,247.3 399.0,247.0 398.5,247.0 398.0,246.9 397.5,246.9 397.0,247.3 396.5,247.1 396.0,247.2 395.5,247.3 395.0,247.2 394.5,247.0 394.0,247.3 393.5,246.8 393.0,247.0 392.5,247.3 392.0,247.1 391.5,246.9 391.0,247.2 390.5,247.2 390.0,247.1 389.5,246.9 389.0,247.1 388.5,247.1 388.0,247.2 387.5,247.0 387.0,247.3 386.5,247.1 386.0,246.8 385.5,247.0 385.0,246.8 384.5,247.1 384.0,246.9 383.5,247.3 383.0,246.9 382.5,247.1 382.0,247.2 381.5,246.9 381.0,247.0 380.5,246.8 380.0,246.9 379.5,246.9 379.0,247.1 378.5,247.0 378.0,246.8 377.5,247.0 377.0,247.0 376.5,247.0 376.0,246.9 375.5,247.2 375.0,247.0 374.5,247.1 374.0,247.0 373.5,246.9 373.0,246.9 372.5,247.1 372.0,246.9 371.5,246.7 371.0,246.8 370.5,246.7 370.0,246.7 369.5,246.9 369.0,246.9 368.5,246.9 368.0,246.8 367.5,246.8 367.0,246.9 366.5,246.8 366.0,246.8 365.5,247.0 365.0,247.1 364.5,246.7 364.0,246.7 363.5,246.9 363.0,247.2 362.5,247.1 362.0,246.9 361.5,247.3 361.0,247.1 360.5,247.2 360.0,247.2 359.5,246.7 359.0,246.8 358.5,247.2 358.0,246.9 357.5,247.2 357.0,246.8 356.5,247.3 356.0,247.1 355.5,247.0 355.0,247.2 354.5,247.0 354.0,247.0 353.5,246.8 353.0,247.2 352.5,246.8 352.0,246.9 351.5,246.8 351.0,246.8 350.5,246.9 350.0,246.8 349.5,247.0 349.0,247.0 348.5,246.8 348.0,247.1 347.5,246.9 347.0,246.9 346.5,247.1 346.0,247.0 345.5,246.8 345.0,247.4 344.5,247.4 344.0,246.9 343.5,247.2 343.0,247.2 342.5,247.0 342.0,247.1 341.5,247.0 341.0,247.0 340.5,247.1 340.0,246.9 339.5,247.0 339.0,247.4 338.5,247.3 338.0,247.1 337.5,247.5 337.0,247.1 336.5,247.4 336.0,247.1 335.5,247.4 335.0,247.2 334.5,247.4 334.0,247.0 333.5,247.1 333.0,247.1 332.5,247.4 332.0,247.4 331.5,247.0 331.0,247.2 330.5,247.0 330.0,247.0 329.5,247.0 329.0,247.0 328.5,247.1 328.0,247.2 327.5,247.5 327.0,247.3 326.5,247.4 326.0,247.2 325.5,247.2 325.0,247.2 324.5,247.1 324.0,247.0 323.5,247.1 323.0,247.5 322.5,247.0 322.0,247.3 321.5,247.1 321.0,247.5 320.5,247.0 320.0,247.3 319.5,247.4 319.0,247.3 318.5,247.1 318.0,247.5 317.5,247.0 317.0,247.6 316.5,247.5 316.0,247.6 315.5,247.6 315.0,247.3 314.5,247.4 314.0,247.3 313.5,247.4 313.0,247.3 312.5,247.6 312.0,247.2 311.5,247.4 311.0,247.1 310.5,247.1 310.0,247.6 309.5,247.3 309.0,247.3 308.5,247.7 308.0,247.5 307.5,247.2 307.0,247.4 306.5,247.4 306.0,247.4 305.5,247.2 305.0,247.2 304.5,247.7 304.0,247.4 303.5,247.4 303.0,247.5 302.5,247.5 302.0,247.2 301.5,247.6 301.0,247.4 300.5,247.2 300.0,247.3 299.5,247.7 299.0,247.6 298.5,247.6 298.0,247.4 297.5,247.5 297.0,247.3 296.5,247.5 296.0,247.4"/></clipPath><path d="M296.8,205.0V256.6M299.4,205.0V256.6M302.0,205.0V256.6M304.6,205.0V256.6M307.2,205.0V256.6M309.8,205.0V256.6M312.4,205.0V256.6M315.0,205.0V256.6M317.6,205.0V256.6M320.2,205.0V256.6M322.8,205.0V256.6M325.4,205.0V256.6M328.0,205.0V256.6M330.6,205.0V256.6M333.2,205.0V256.6M335.8,205.0V256.6M338.4,205.0V256.6M341.0,205.0V256.6M343.6,205.0V256.6M346.2,205.0V256.6M348.8,205.0V256.6M351.4,205.0V256.6M354.0,205.0V256.6M356.6,205.0V256.6M359.2,205.0V256.6M361.8,205.0V256.6M364.4,205.0V256.6M367.0,205.0V256.6M369.6,205.0V256.6M372.2,205.0V256.6M374.8,205.0V256.6M377.4,205.0V256.6M380.0,205.0V256.6M382.6,205.0V256.6M385.2,205.0V256.6M387.8,205.0V256.6M390.4,205.0V256.6M393.0,205.0V256.6M395.6,205.0V256.6M398.2,205.0V256.6M400.8,205.0V256.6M403.4,205.0V256.6M406.0,205.0V256.6M408.6,205.0V256.6M411.2,205.0V256.6M413.8,205.0V256.6M416.4,205.0V256.6M419.0,205.0V256.6M421.6,205.0V256.6M424.2,205.0V256.6M426.8,205.0V256.6M429.4,205.0V256.6M432.0,205.0V256.6M434.6,205.0V256.6M437.2,205.0V256.6M439.8,205.0V256.6M442.4,205.0V256.6M445.0,205.0V256.6M447.6,205.0V256.6M450.2,205.0V256.6M452.8,205.0V256.6M455.4,205.0V256.6M458.0,205.0V256.6M460.6,205.0V256.6M463.2,205.0V256.6M465.8,205.0V256.6M468.4,205.0V256.6M471.0,205.0V256.6M473.6,205.0V256.6M476.2,205.0V256.6M478.8,205.0V256.6M481.4,205.0V256.6M484.0,205.0V256.6M486.6,205.0V256.6M489.2,205.0V256.6M491.8,205.0V256.6M494.4,205.0V256.6M497.0,205.0V256.6M499.6,205.0V256.6M502.2,205.0V256.6M504.8,205.0V256.6M507.4,205.0V256.6M510.0,205.0V256.6M512.6,205.0V256.6M515.2,205.0V256.6M517.8,205.0V256.6M520.4,205.0V256.6M523.0,205.0V256.6M525.6,205.0V256.6M528.2,205.0V256.6M530.8,205.0V256.6M533.4,205.0V256.6M536.0,205.0V256.6M538.6,205.0V256.6M541.2,205.0V256.6" stroke="#0e9e9e" stroke-width="0.9" opacity="0.4" clip-path="url(#c1cy)"/><polygon fill="none" stroke="#0e9e9e" stroke-width="1.8" opacity="0.8" clip-path="url(#c1cy)" points="296.0,214.5 296.5,214.5 297.0,214.4 297.5,214.0 298.0,214.3 298.5,214.2 299.0,214.2 299.5,214.0 300.0,214.0 300.5,214.2 301.0,214.0 301.5,214.2 302.0,213.9 302.5,214.0 303.0,214.3 303.5,214.2 304.0,214.2 304.5,214.4 305.0,214.1 305.5,214.0 306.0,214.4 306.5,214.3 307.0,214.3 307.5,214.3 308.0,214.5 308.5,214.1 309.0,214.4 309.5,214.2 310.0,214.3 310.5,214.3 311.0,214.1 311.5,214.0 312.0,214.2 312.5,214.4 313.0,214.3 313.5,214.2 314.0,214.3 314.5,214.1 315.0,214.1 315.5,214.2 316.0,214.5 316.5,214.1 317.0,214.0 317.5,214.0 318.0,214.0 318.5,214.2 319.0,214.3 319.5,214.5 320.0,214.2 320.5,214.2 321.0,214.2 321.5,214.2 322.0,214.5 322.5,214.4 323.0,214.2 323.5,214.1 324.0,214.5 324.5,214.5 325.0,214.5 325.5,214.2 326.0,214.4 326.5,214.6 327.0,214.4 327.5,214.6 328.0,214.2 328.5,214.7 329.0,214.1 329.5,214.3 330.0,214.1 330.5,214.6 331.0,214.5 331.5,214.7 332.0,214.6 332.5,214.7 333.0,214.4 333.5,214.7 334.0,214.6 334.5,214.3 335.0,214.7 335.5,214.4 336.0,214.3 336.5,214.2 337.0,214.4 337.5,214.3 338.0,214.7 338.5,214.7 339.0,214.3 339.5,214.2 340.0,214.5 340.5,214.3 341.0,214.5 341.5,214.7 342.0,214.3 342.5,214.4 343.0,214.7 343.5,214.5 344.0,214.4 344.5,214.7 345.0,214.7 345.5,214.8 346.0,214.6 346.5,214.5 347.0,214.6 347.5,214.7 348.0,214.6 348.5,214.4 349.0,214.4 349.5,214.5 350.0,214.7 350.5,214.6 351.0,214.6 351.5,214.8 352.0,214.3 352.5,214.7 353.0,214.5 353.5,214.6 354.0,214.8 354.5,214.4 355.0,214.9 355.5,214.3 356.0,214.6 356.5,214.6 357.0,214.4 357.5,214.6 358.0,214.6 358.5,214.6 359.0,214.7 359.5,214.3 360.0,214.5 360.5,214.8 361.0,214.4 361.5,214.8 362.0,214.5 362.5,214.7 363.0,214.4 363.5,214.6 364.0,214.6 364.5,214.4 365.0,214.8 365.5,214.6 366.0,214.8 366.5,214.7 367.0,214.7 367.5,214.7 368.0,214.5 368.5,214.9 369.0,214.4 369.5,214.9 370.0,214.9 370.5,214.7 371.0,214.8 371.5,214.8 372.0,214.7 372.5,214.5 373.0,214.6 373.5,214.6 374.0,214.5 374.5,214.9 375.0,214.6 375.5,214.6 376.0,214.6 376.5,214.8 377.0,214.6 377.5,214.7 378.0,214.5 378.5,214.5 379.0,214.4 379.5,214.5 380.0,214.5 380.5,214.9 381.0,214.7 381.5,214.4 382.0,214.6 382.5,214.4 383.0,214.7 383.5,214.6 384.0,214.9 384.5,214.5 385.0,214.8 385.5,214.5 386.0,214.9 386.5,214.7 387.0,214.3 387.5,214.8 388.0,214.5 388.5,214.5 389.0,214.4 389.5,214.8 390.0,214.4 390.5,214.7 391.0,214.5 391.5,214.7 392.0,214.5 392.5,214.3 393.0,214.8 393.5,214.7 394.0,214.4 394.5,214.8 395.0,214.8 395.5,214.4 396.0,214.2 396.5,214.6 397.0,214.3 397.5,214.7 398.0,214.5 398.5,214.6 399.0,214.5 399.5,214.7 400.0,214.7 400.5,214.5 401.0,214.5 401.5,214.4 402.0,214.2 402.5,214.2 403.0,214.6 403.5,214.2 404.0,214.4 404.5,214.3 405.0,214.5 405.5,214.4 406.0,214.6 406.5,214.3 407.0,214.3 407.5,214.4 408.0,214.5 408.5,214.6 409.0,214.2 409.5,214.5 410.0,214.6 410.5,214.6 411.0,214.0 411.5,214.2 412.0,214.4 412.5,214.4 413.0,213.9 413.5,214.1 414.0,210.0 414.5,208.1 415.0,208.0 415.5,207.8 416.0,207.9 416.5,207.7 417.0,207.8 417.5,207.9 418.0,208.1 418.5,208.0 419.0,207.8 419.5,207.7 420.0,207.8 420.5,208.0 421.0,207.8 421.5,207.6 422.0,208.0 422.5,207.9 423.0,208.1 423.5,207.8 424.0,207.9 424.5,207.7 425.0,207.8 425.5,208.0 426.0,208.1 426.5,207.9 427.0,207.7 427.5,207.5 428.0,207.9 428.5,207.7 429.0,207.6 429.5,207.4 430.0,207.4 430.5,207.6 431.0,208.0 431.5,207.8 432.0,207.8 432.5,207.8 433.0,207.5 433.5,207.5 434.0,207.7 434.5,207.4 435.0,207.7 435.5,207.6 436.0,207.7 436.5,207.4 437.0,207.4 437.5,207.6 438.0,207.4 438.5,207.7 439.0,207.5 439.5,207.7 440.0,207.8 440.5,207.7 441.0,207.6 441.5,207.4 442.0,207.5 442.5,207.9 443.0,207.4 443.5,207.4 444.0,207.6 444.5,207.6 445.0,207.7 445.5,207.4 446.0,207.8 446.5,207.3 447.0,207.7 447.5,207.6 448.0,207.8 448.5,207.3 449.0,207.7 449.5,207.8 450.0,207.6 450.5,207.3 451.0,207.8 451.5,207.8 452.0,207.3 452.5,207.7 453.0,207.3 453.5,207.3 454.0,207.7 454.5,207.7 455.0,207.8 455.5,207.6 456.0,207.5 456.5,207.4 457.0,207.6 457.5,207.8 458.0,207.6 458.5,207.8 459.0,207.4 459.5,207.7 460.0,207.7 460.5,207.3 461.0,207.7 461.5,207.4 462.0,207.4 462.5,207.3 463.0,207.6 463.5,207.3 464.0,207.8 464.5,207.3 465.0,207.7 465.5,207.7 466.0,207.6 466.5,207.6 467.0,207.7 467.5,207.6 468.0,207.3 468.5,207.7 469.0,207.5 469.5,207.6 470.0,207.6 470.5,207.8 471.0,207.5 471.5,207.8 472.0,207.3 472.5,207.5 473.0,207.7 473.5,207.7 474.0,207.8 474.5,207.4 475.0,207.8 475.5,207.8 476.0,207.4 476.5,207.4 477.0,207.7 477.5,207.9 478.0,207.7 478.5,207.6 479.0,207.6 479.5,207.8 480.0,207.6 480.5,207.7 481.0,207.7 481.5,207.9 482.0,207.8 482.5,207.8 483.0,207.5 483.5,207.7 484.0,207.8 484.5,207.8 485.0,207.9 485.5,207.9 486.0,207.4 486.5,207.7 487.0,207.6 487.5,207.5 488.0,207.7 488.5,208.0 489.0,207.9 489.5,207.5 490.0,207.5 490.5,207.6 491.0,207.9 491.5,207.7 492.0,207.5 492.5,207.7 493.0,207.6 493.5,207.4 494.0,207.8 494.5,208.0 495.0,207.9 495.5,207.9 496.0,207.5 496.5,207.8 497.0,207.8 497.5,207.9 498.0,207.7 498.5,207.5 499.0,208.0 499.5,207.6 500.0,207.9 500.5,207.8 501.0,208.0 501.5,207.7 502.0,207.6 502.5,207.8 503.0,207.8 503.5,208.0 504.0,207.8 504.5,207.9 505.0,207.7 505.5,208.0 506.0,207.6 506.5,208.1 507.0,208.1 507.5,207.6 508.0,208.1 508.5,208.0 509.0,208.0 509.5,207.6 510.0,208.0 510.5,208.0 511.0,207.9 511.5,208.1 512.0,208.1 512.5,208.0 513.0,208.1 513.5,207.7 514.0,207.8 514.5,207.9 515.0,207.9 515.5,208.2 516.0,208.0 516.5,208.0 517.0,208.0 517.5,208.2 518.0,207.9 518.5,208.1 519.0,208.0 519.5,207.9 520.0,207.8 520.5,207.7 521.0,207.6 521.5,207.8 522.0,207.8 522.5,207.7 523.0,207.9 523.5,207.9 524.0,208.2 524.5,208.1 525.0,208.1 525.5,208.2 526.0,207.8 526.5,207.7 527.0,208.0 527.5,207.8 528.0,208.3 528.5,207.9 529.0,208.2 529.5,207.8 530.0,207.7 530.5,208.1 531.0,208.1 531.5,207.8 532.0,208.2 532.5,208.3 533.0,208.1 533.5,208.3 534.0,208.3 534.5,207.8 535.0,208.1 535.5,208.1 536.0,208.1 536.5,207.9 537.0,208.0 537.5,208.1 538.0,208.2 538.5,207.7 539.0,207.9 539.5,207.9 540.0,208.2 540.5,207.8 541.0,207.7 541.0,253.4 540.5,253.4 540.0,253.6 539.5,253.8 539.0,253.5 538.5,253.4 538.0,253.7 537.5,253.5 537.0,253.6 536.5,253.7 536.0,253.6 535.5,253.7 535.0,253.7 534.5,253.8 534.0,253.8 533.5,253.8 533.0,253.8 532.5,253.5 532.0,253.6 531.5,253.8 531.0,253.8 530.5,253.7 530.0,253.8 529.5,253.8 529.0,253.6 528.5,253.7 528.0,253.3 527.5,253.6 527.0,253.8 526.5,253.9 526.0,253.8 525.5,253.6 525.0,253.5 524.5,253.9 524.0,253.7 523.5,253.4 523.0,253.4 522.5,253.9 522.0,253.7 521.5,253.4 521.0,253.9 520.5,253.7 520.0,253.8 519.5,253.8 519.0,253.5 518.5,253.7 518.0,253.5 517.5,253.7 517.0,253.6 516.5,253.8 516.0,253.4 515.5,253.5 515.0,253.6 514.5,253.4 514.0,253.6 513.5,254.0 513.0,253.9 512.5,253.5 512.0,253.9 511.5,253.5 511.0,253.5 510.5,253.8 510.0,253.6 509.5,253.5 509.0,253.5 508.5,253.5 508.0,253.5 507.5,254.0 507.0,253.4 506.5,253.7 506.0,253.5 505.5,253.9 505.0,253.4 504.5,253.7 504.0,253.9 503.5,253.5 503.0,253.7 502.5,253.6 502.0,253.7 501.5,253.8 501.0,253.5 500.5,254.0 500.0,253.6 499.5,253.9 499.0,253.5 498.5,253.5 498.0,253.6 497.5,253.5 497.0,253.6 496.5,253.6 496.0,253.5 495.5,254.0 495.0,253.8 494.5,253.8 494.0,253.8 493.5,254.0 493.0,253.5 492.5,253.5 492.0,253.9 491.5,253.5 491.0,253.8 490.5,253.9 490.0,254.0 489.5,253.5 489.0,253.8 488.5,253.7 488.0,253.9 487.5,253.5 487.0,254.0 486.5,254.1 486.0,253.9 485.5,253.9 485.0,254.0 484.5,254.1 484.0,254.0 483.5,253.8 483.0,253.6 482.5,254.0 482.0,254.1 481.5,254.0 481.0,253.8 480.5,254.1 480.0,253.9 479.5,253.8 479.0,254.0 478.5,253.7 478.0,253.7 477.5,254.1 477.0,253.6 476.5,254.1 476.0,253.8 475.5,253.9 475.0,254.0 474.5,254.1 474.0,253.7 473.5,253.6 473.0,253.9 472.5,253.7 472.0,253.8 471.5,253.7 471.0,253.7 470.5,253.9 470.0,253.6 469.5,253.8 469.0,253.8 468.5,253.7 468.0,254.1 467.5,254.1 467.0,253.6 466.5,254.1 466.0,253.7 465.5,254.0 465.0,253.6 464.5,254.1 464.0,254.2 463.5,253.8 463.0,253.7 462.5,253.8 462.0,254.1 461.5,254.1 461.0,253.7 460.5,254.1 460.0,254.1 459.5,254.2 459.0,254.2 458.5,253.7 458.0,254.0 457.5,253.6 457.0,253.7 456.5,253.9 456.0,253.7 455.5,253.7 455.0,253.8 454.5,253.9 454.0,254.1 453.5,253.9 453.0,253.9 452.5,254.0 452.0,253.7 451.5,254.1 451.0,254.0 450.5,254.1 450.0,253.9 449.5,253.9 449.0,253.6 448.5,253.9 448.0,254.0 447.5,254.1 447.0,254.1 446.5,253.8 446.0,254.0 445.5,254.1 445.0,254.1 444.5,254.0 444.0,253.7 443.5,254.1 443.0,253.6 442.5,253.9 442.0,253.8 441.5,254.1 441.0,253.9 440.5,253.6 440.0,253.6 439.5,253.5 439.0,254.0 438.5,254.0 438.0,253.7 437.5,253.6 437.0,253.8 436.5,253.6 436.0,253.8 435.5,253.7 435.0,253.7 434.5,253.9 434.0,253.6 433.5,253.6 433.0,253.8 432.5,254.0 432.0,253.5 431.5,253.6 431.0,253.6 430.5,253.6 430.0,253.7 429.5,253.9 429.0,253.5 428.5,253.8 428.0,253.6 427.5,253.7 427.0,253.7 426.5,253.7 426.0,253.4 425.5,253.7 425.0,253.6 424.5,253.8 424.0,253.7 423.5,253.5 423.0,253.9 422.5,253.4 422.0,253.3 421.5,253.3 421.0,253.7 420.5,253.3 420.0,253.7 419.5,253.3 419.0,253.4 418.5,253.6 418.0,253.2 417.5,253.4 417.0,253.8 416.5,253.6 416.0,253.4 415.5,253.7 415.0,253.5 414.5,253.6 414.0,250.3 413.5,247.3 413.0,247.5 412.5,247.5 412.0,247.5 411.5,247.1 411.0,247.3 410.5,247.2 410.0,247.2 409.5,247.1 409.0,247.4 408.5,247.1 408.0,247.2 407.5,247.0 407.0,247.4 406.5,247.3 406.0,247.0 405.5,247.5 405.0,247.5 404.5,247.4 404.0,247.4 403.5,247.3 403.0,246.9 402.5,247.0 402.0,247.0 401.5,246.9 401.0,247.2 400.5,247.2 400.0,247.0 399.5,247.3 399.0,247.0 398.5,247.0 398.0,246.9 397.5,246.9 397.0,247.3 396.5,247.1 396.0,247.2 395.5,247.3 395.0,247.2 394.5,247.0 394.0,247.3 393.5,246.8 393.0,247.0 392.5,247.3 392.0,247.1 391.5,246.9 391.0,247.2 390.5,247.2 390.0,247.1 389.5,246.9 389.0,247.1 388.5,247.1 388.0,247.2 387.5,247.0 387.0,247.3 386.5,247.1 386.0,246.8 385.5,247.0 385.0,246.8 384.5,247.1 384.0,246.9 383.5,247.3 383.0,246.9 382.5,247.1 382.0,247.2 381.5,246.9 381.0,247.0 380.5,246.8 380.0,246.9 379.5,246.9 379.0,247.1 378.5,247.0 378.0,246.8 377.5,247.0 377.0,247.0 376.5,247.0 376.0,246.9 375.5,247.2 375.0,247.0 374.5,247.1 374.0,247.0 373.5,246.9 373.0,246.9 372.5,247.1 372.0,246.9 371.5,246.7 371.0,246.8 370.5,246.7 370.0,246.7 369.5,246.9 369.0,246.9 368.5,246.9 368.0,246.8 367.5,246.8 367.0,246.9 366.5,246.8 366.0,246.8 365.5,247.0 365.0,247.1 364.5,246.7 364.0,246.7 363.5,246.9 363.0,247.2 362.5,247.1 362.0,246.9 361.5,247.3 361.0,247.1 360.5,247.2 360.0,247.2 359.5,246.7 359.0,246.8 358.5,247.2 358.0,246.9 357.5,247.2 357.0,246.8 356.5,247.3 356.0,247.1 355.5,247.0 355.0,247.2 354.5,247.0 354.0,247.0 353.5,246.8 353.0,247.2 352.5,246.8 352.0,246.9 351.5,246.8 351.0,246.8 350.5,246.9 350.0,246.8 349.5,247.0 349.0,247.0 348.5,246.8 348.0,247.1 347.5,246.9 347.0,246.9 346.5,247.1 346.0,247.0 345.5,246.8 345.0,247.4 344.5,247.4 344.0,246.9 343.5,247.2 343.0,247.2 342.5,247.0 342.0,247.1 341.5,247.0 341.0,247.0 340.5,247.1 340.0,246.9 339.5,247.0 339.0,247.4 338.5,247.3 338.0,247.1 337.5,247.5 337.0,247.1 336.5,247.4 336.0,247.1 335.5,247.4 335.0,247.2 334.5,247.4 334.0,247.0 333.5,247.1 333.0,247.1 332.5,247.4 332.0,247.4 331.5,247.0 331.0,247.2 330.5,247.0 330.0,247.0 329.5,247.0 329.0,247.0 328.5,247.1 328.0,247.2 327.5,247.5 327.0,247.3 326.5,247.4 326.0,247.2 325.5,247.2 325.0,247.2 324.5,247.1 324.0,247.0 323.5,247.1 323.0,247.5 322.5,247.0 322.0,247.3 321.5,247.1 321.0,247.5 320.5,247.0 320.0,247.3 319.5,247.4 319.0,247.3 318.5,247.1 318.0,247.5 317.5,247.0 317.0,247.6 316.5,247.5 316.0,247.6 315.5,247.6 315.0,247.3 314.5,247.4 314.0,247.3 313.5,247.4 313.0,247.3 312.5,247.6 312.0,247.2 311.5,247.4 311.0,247.1 310.5,247.1 310.0,247.6 309.5,247.3 309.0,247.3 308.5,247.7 308.0,247.5 307.5,247.2 307.0,247.4 306.5,247.4 306.0,247.4 305.5,247.2 305.0,247.2 304.5,247.7 304.0,247.4 303.5,247.4 303.0,247.5 302.5,247.5 302.0,247.2 301.5,247.6 301.0,247.4 300.5,247.2 300.0,247.3 299.5,247.7 299.0,247.6 298.5,247.6 298.0,247.4 297.5,247.5 297.0,247.3 296.5,247.5 296.0,247.4"/>
<polygon points="296.0,257.1 296.5,257.5 297.0,257.2 297.5,256.9 298.0,257.4 298.5,257.0 299.0,257.1 299.5,257.2 300.0,257.0 300.5,257.2 301.0,257.2 301.5,257.2 302.0,257.3 302.5,257.3 303.0,256.9 303.5,257.0 304.0,257.0 304.5,257.1 305.0,257.2 305.5,257.4 306.0,256.9 306.5,257.4 307.0,257.0 307.5,257.3 308.0,257.4 308.5,257.5 309.0,257.2 309.5,256.9 310.0,257.1 310.5,257.2 311.0,257.3 311.5,257.5 312.0,257.4 312.5,256.9 313.0,257.0 313.5,257.3 314.0,257.0 314.5,257.3 315.0,257.2 315.5,257.2 316.0,257.1 316.5,257.4 317.0,257.1 317.5,257.1 318.0,257.0 318.5,257.1 319.0,257.0 319.5,257.3 320.0,256.9 320.5,257.0 321.0,257.4 321.5,257.4 322.0,257.1 322.5,257.3 323.0,257.4 323.5,257.3 324.0,257.3 324.5,257.4 325.0,257.1 325.5,257.1 326.0,257.1 326.5,257.0 327.0,257.2 327.5,257.2 328.0,257.0 328.5,257.0 329.0,256.9 329.5,257.0 330.0,257.0 330.5,257.3 331.0,257.4 331.5,257.2 332.0,257.3 332.5,257.2 333.0,256.9 333.5,257.3 334.0,257.4 334.5,257.0 335.0,257.1 335.5,257.3 336.0,257.3 336.5,257.0 337.0,257.1 337.5,257.1 338.0,257.2 338.5,257.4 339.0,257.0 339.5,257.1 340.0,257.5 340.5,257.0 341.0,257.0 341.5,257.4 342.0,257.3 342.5,257.2 343.0,257.2 343.5,256.9 344.0,257.3 344.5,257.1 345.0,257.2 345.5,257.5 346.0,257.2 346.5,257.1 347.0,257.1 347.5,257.1 348.0,257.3 348.5,257.3 349.0,257.0 349.5,256.9 350.0,257.1 350.5,257.0 351.0,257.3 351.5,257.0 352.0,257.2 352.5,257.2 353.0,257.5 353.5,257.1 354.0,257.1 354.5,257.1 355.0,257.3 355.5,257.0 356.0,257.0 356.5,257.3 357.0,257.2 357.5,256.9 358.0,257.4 358.5,257.0 359.0,257.1 359.5,257.2 360.0,257.2 360.5,257.4 361.0,257.0 361.5,257.3 362.0,257.0 362.5,257.0 363.0,257.3 363.5,257.4 364.0,257.0 364.5,256.9 365.0,257.0 365.5,257.2 366.0,256.9 366.5,257.5 367.0,256.9 367.5,257.3 368.0,257.4 368.5,257.1 369.0,257.4 369.5,257.0 370.0,257.4 370.5,257.2 371.0,257.4 371.5,257.4 372.0,257.4 372.5,257.4 373.0,257.1 373.5,256.9 374.0,257.0 374.5,257.3 375.0,257.2 375.5,257.2 376.0,257.2 376.5,256.9 377.0,257.5 377.5,257.2 378.0,257.3 378.5,257.2 379.0,257.4 379.5,257.2 380.0,257.2 380.5,257.4 381.0,257.0 381.5,257.4 382.0,257.3 382.5,257.1 383.0,257.0 383.5,257.2 384.0,257.1 384.5,256.9 385.0,257.4 385.5,257.3 386.0,257.4 386.5,257.4 387.0,257.1 387.5,257.4 388.0,257.0 388.5,257.1 389.0,257.2 389.5,257.3 390.0,257.0 390.5,256.9 391.0,257.5 391.5,256.9 392.0,257.3 392.5,257.2 393.0,257.5 393.5,257.4 394.0,257.2 394.5,257.2 395.0,257.3 395.5,257.1 396.0,256.9 396.5,257.5 397.0,257.2 397.5,257.4 398.0,257.2 398.5,256.9 399.0,257.0 399.5,257.0 400.0,257.5 400.5,257.4 401.0,257.1 401.5,257.2 402.0,257.5 402.5,257.2 403.0,257.1 403.5,257.2 404.0,257.0 404.5,257.2 405.0,256.9 405.5,257.2 406.0,257.0 406.5,256.9 407.0,257.4 407.5,257.2 408.0,257.0 408.5,257.1 409.0,257.4 409.5,257.1 410.0,257.1 410.5,257.2 411.0,257.4 411.5,257.3 412.0,257.2 412.5,257.3 413.0,257.1 413.5,257.5 413.5,272.8 413.0,272.7 412.5,272.9 412.0,273.1 411.5,273.1 411.0,273.0 410.5,272.6 410.0,273.1 409.5,273.1 409.0,272.7 408.5,272.7 408.0,272.7 407.5,272.7 407.0,272.7 406.5,272.9 406.0,273.0 405.5,272.9 405.0,272.9 404.5,273.0 404.0,273.1 403.5,273.2 403.0,273.0 402.5,272.9 402.0,272.6 401.5,272.8 401.0,272.7 400.5,273.2 400.0,273.0 399.5,272.7 399.0,272.8 398.5,272.9 398.0,273.0 397.5,273.2 397.0,272.8 396.5,273.0 396.0,272.8 395.5,273.1 395.0,272.9 394.5,273.1 394.0,272.9 393.5,273.0 393.0,273.1 392.5,272.8 392.0,272.9 391.5,273.0 391.0,273.0 390.5,273.0 390.0,272.8 389.5,272.9 389.0,272.9 388.5,272.8 388.0,272.8 387.5,272.6 387.0,272.6 386.5,272.7 386.0,272.7 385.5,272.8 385.0,273.2 384.5,272.8 384.0,273.1 383.5,273.0 383.0,273.2 382.5,273.0 382.0,273.2 381.5,273.1 381.0,272.6 380.5,272.6 380.0,273.2 379.5,272.8 379.0,273.0 378.5,273.2 378.0,273.2 377.5,272.9 377.0,272.8 376.5,273.0 376.0,273.0 375.5,272.7 375.0,273.1 374.5,272.6 374.0,272.8 373.5,273.1 373.0,273.1 372.5,273.1 372.0,273.1 371.5,272.9 371.0,272.9 370.5,272.9 370.0,272.9 369.5,272.7 369.0,272.8 368.5,272.9 368.0,272.6 367.5,272.9 367.0,272.6 366.5,272.9 366.0,272.6 365.5,272.7 365.0,272.9 364.5,273.1 364.0,273.2 363.5,273.1 363.0,273.1 362.5,272.9 362.0,272.9 361.5,272.9 361.0,273.2 360.5,273.1 360.0,272.6 359.5,273.0 359.0,273.0 358.5,273.1 358.0,273.2 357.5,272.8 357.0,272.8 356.5,272.7 356.0,272.7 355.5,273.1 355.0,273.0 354.5,273.1 354.0,272.8 353.5,273.1 353.0,272.6 352.5,272.9 352.0,272.8 351.5,272.8 351.0,273.2 350.5,272.6 350.0,273.2 349.5,273.0 349.0,273.2 348.5,272.8 348.0,273.1 347.5,272.9 347.0,272.9 346.5,273.0 346.0,272.8 345.5,273.0 345.0,272.7 344.5,272.6 344.0,273.0 343.5,272.6 343.0,273.2 342.5,272.7 342.0,273.1 341.5,272.8 341.0,273.0 340.5,272.8 340.0,273.0 339.5,272.7 339.0,272.7 338.5,272.8 338.0,273.2 337.5,273.1 337.0,272.8 336.5,273.2 336.0,273.2 335.5,272.7 335.0,273.0 334.5,272.7 334.0,272.8 333.5,272.8 333.0,272.7 332.5,273.0 332.0,272.7 331.5,272.8 331.0,272.7 330.5,272.8 330.0,273.1 329.5,272.8 329.0,273.2 328.5,272.7 328.0,272.6 327.5,272.7 327.0,272.9 326.5,272.8 326.0,272.8 325.5,273.0 325.0,273.0 324.5,272.7 324.0,273.1 323.5,272.8 323.0,272.9 322.5,272.8 322.0,273.1 321.5,272.9 321.0,272.9 320.5,272.7 320.0,272.6 319.5,272.8 319.0,273.1 318.5,273.2 318.0,272.8 317.5,272.6 317.0,272.7 316.5,273.2 316.0,272.7 315.5,272.8 315.0,272.6 314.5,272.9 314.0,272.8 313.5,273.2 313.0,273.2 312.5,272.9 312.0,273.1 311.5,273.0 311.0,272.9 310.5,273.1 310.0,272.6 309.5,272.7 309.0,273.1 308.5,272.9 308.0,273.0 307.5,273.0 307.0,273.1 306.5,272.8 306.0,272.7 305.5,272.8 305.0,273.1 304.5,272.9 304.0,273.1 303.5,273.1 303.0,272.8 302.5,273.0 302.0,273.1 301.5,272.9 301.0,272.9 300.5,272.9 300.0,272.9 299.5,272.7 299.0,272.9 298.5,273.1 298.0,272.8 297.5,272.9 297.0,272.8 296.5,272.8 296.0,273.2" fill="#bc00c8"/><clipPath id="c1mg1"><polygon points="296.0,257.1 296.5,257.5 297.0,257.2 297.5,256.9 298.0,257.4 298.5,257.0 299.0,257.1 299.5,257.2 300.0,257.0 300.5,257.2 301.0,257.2 301.5,257.2 302.0,257.3 302.5,257.3 303.0,256.9 303.5,257.0 304.0,257.0 304.5,257.1 305.0,257.2 305.5,257.4 306.0,256.9 306.5,257.4 307.0,257.0 307.5,257.3 308.0,257.4 308.5,257.5 309.0,257.2 309.5,256.9 310.0,257.1 310.5,257.2 311.0,257.3 311.5,257.5 312.0,257.4 312.5,256.9 313.0,257.0 313.5,257.3 314.0,257.0 314.5,257.3 315.0,257.2 315.5,257.2 316.0,257.1 316.5,257.4 317.0,257.1 317.5,257.1 318.0,257.0 318.5,257.1 319.0,257.0 319.5,257.3 320.0,256.9 320.5,257.0 321.0,257.4 321.5,257.4 322.0,257.1 322.5,257.3 323.0,257.4 323.5,257.3 324.0,257.3 324.5,257.4 325.0,257.1 325.5,257.1 326.0,257.1 326.5,257.0 327.0,257.2 327.5,257.2 328.0,257.0 328.5,257.0 329.0,256.9 329.5,257.0 330.0,257.0 330.5,257.3 331.0,257.4 331.5,257.2 332.0,257.3 332.5,257.2 333.0,256.9 333.5,257.3 334.0,257.4 334.5,257.0 335.0,257.1 335.5,257.3 336.0,257.3 336.5,257.0 337.0,257.1 337.5,257.1 338.0,257.2 338.5,257.4 339.0,257.0 339.5,257.1 340.0,257.5 340.5,257.0 341.0,257.0 341.5,257.4 342.0,257.3 342.5,257.2 343.0,257.2 343.5,256.9 344.0,257.3 344.5,257.1 345.0,257.2 345.5,257.5 346.0,257.2 346.5,257.1 347.0,257.1 347.5,257.1 348.0,257.3 348.5,257.3 349.0,257.0 349.5,256.9 350.0,257.1 350.5,257.0 351.0,257.3 351.5,257.0 352.0,257.2 352.5,257.2 353.0,257.5 353.5,257.1 354.0,257.1 354.5,257.1 355.0,257.3 355.5,257.0 356.0,257.0 356.5,257.3 357.0,257.2 357.5,256.9 358.0,257.4 358.5,257.0 359.0,257.1 359.5,257.2 360.0,257.2 360.5,257.4 361.0,257.0 361.5,257.3 362.0,257.0 362.5,257.0 363.0,257.3 363.5,257.4 364.0,257.0 364.5,256.9 365.0,257.0 365.5,257.2 366.0,256.9 366.5,257.5 367.0,256.9 367.5,257.3 368.0,257.4 368.5,257.1 369.0,257.4 369.5,257.0 370.0,257.4 370.5,257.2 371.0,257.4 371.5,257.4 372.0,257.4 372.5,257.4 373.0,257.1 373.5,256.9 374.0,257.0 374.5,257.3 375.0,257.2 375.5,257.2 376.0,257.2 376.5,256.9 377.0,257.5 377.5,257.2 378.0,257.3 378.5,257.2 379.0,257.4 379.5,257.2 380.0,257.2 380.5,257.4 381.0,257.0 381.5,257.4 382.0,257.3 382.5,257.1 383.0,257.0 383.5,257.2 384.0,257.1 384.5,256.9 385.0,257.4 385.5,257.3 386.0,257.4 386.5,257.4 387.0,257.1 387.5,257.4 388.0,257.0 388.5,257.1 389.0,257.2 389.5,257.3 390.0,257.0 390.5,256.9 391.0,257.5 391.5,256.9 392.0,257.3 392.5,257.2 393.0,257.5 393.5,257.4 394.0,257.2 394.5,257.2 395.0,257.3 395.5,257.1 396.0,256.9 396.5,257.5 397.0,257.2 397.5,257.4 398.0,257.2 398.5,256.9 399.0,257.0 399.5,257.0 400.0,257.5 400.5,257.4 401.0,257.1 401.5,257.2 402.0,257.5 402.5,257.2 403.0,257.1 403.5,257.2 404.0,257.0 404.5,257.2 405.0,256.9 405.5,257.2 406.0,257.0 406.5,256.9 407.0,257.4 407.5,257.2 408.0,257.0 408.5,257.1 409.0,257.4 409.5,257.1 410.0,257.1 410.5,257.2 411.0,257.4 411.5,257.3 412.0,257.2 412.5,257.3 413.0,257.1 413.5,257.5 413.5,272.8 413.0,272.7 412.5,272.9 412.0,273.1 411.5,273.1 411.0,273.0 410.5,272.6 410.0,273.1 409.5,273.1 409.0,272.7 408.5,272.7 408.0,272.7 407.5,272.7 407.0,272.7 406.5,272.9 406.0,273.0 405.5,272.9 405.0,272.9 404.5,273.0 404.0,273.1 403.5,273.2 403.0,273.0 402.5,272.9 402.0,272.6 401.5,272.8 401.0,272.7 400.5,273.2 400.0,273.0 399.5,272.7 399.0,272.8 398.5,272.9 398.0,273.0 397.5,273.2 397.0,272.8 396.5,273.0 396.0,272.8 395.5,273.1 395.0,272.9 394.5,273.1 394.0,272.9 393.5,273.0 393.0,273.1 392.5,272.8 392.0,272.9 391.5,273.0 391.0,273.0 390.5,273.0 390.0,272.8 389.5,272.9 389.0,272.9 388.5,272.8 388.0,272.8 387.5,272.6 387.0,272.6 386.5,272.7 386.0,272.7 385.5,272.8 385.0,273.2 384.5,272.8 384.0,273.1 383.5,273.0 383.0,273.2 382.5,273.0 382.0,273.2 381.5,273.1 381.0,272.6 380.5,272.6 380.0,273.2 379.5,272.8 379.0,273.0 378.5,273.2 378.0,273.2 377.5,272.9 377.0,272.8 376.5,273.0 376.0,273.0 375.5,272.7 375.0,273.1 374.5,272.6 374.0,272.8 373.5,273.1 373.0,273.1 372.5,273.1 372.0,273.1 371.5,272.9 371.0,272.9 370.5,272.9 370.0,272.9 369.5,272.7 369.0,272.8 368.5,272.9 368.0,272.6 367.5,272.9 367.0,272.6 366.5,272.9 366.0,272.6 365.5,272.7 365.0,272.9 364.5,273.1 364.0,273.2 363.5,273.1 363.0,273.1 362.5,272.9 362.0,272.9 361.5,272.9 361.0,273.2 360.5,273.1 360.0,272.6 359.5,273.0 359.0,273.0 358.5,273.1 358.0,273.2 357.5,272.8 357.0,272.8 356.5,272.7 356.0,272.7 355.5,273.1 355.0,273.0 354.5,273.1 354.0,272.8 353.5,273.1 353.0,272.6 352.5,272.9 352.0,272.8 351.5,272.8 351.0,273.2 350.5,272.6 350.0,273.2 349.5,273.0 349.0,273.2 348.5,272.8 348.0,273.1 347.5,272.9 347.0,272.9 346.5,273.0 346.0,272.8 345.5,273.0 345.0,272.7 344.5,272.6 344.0,273.0 343.5,272.6 343.0,273.2 342.5,272.7 342.0,273.1 341.5,272.8 341.0,273.0 340.5,272.8 340.0,273.0 339.5,272.7 339.0,272.7 338.5,272.8 338.0,273.2 337.5,273.1 337.0,272.8 336.5,273.2 336.0,273.2 335.5,272.7 335.0,273.0 334.5,272.7 334.0,272.8 333.5,272.8 333.0,272.7 332.5,273.0 332.0,272.7 331.5,272.8 331.0,272.7 330.5,272.8 330.0,273.1 329.5,272.8 329.0,273.2 328.5,272.7 328.0,272.6 327.5,272.7 327.0,272.9 326.5,272.8 326.0,272.8 325.5,273.0 325.0,273.0 324.5,272.7 324.0,273.1 323.5,272.8 323.0,272.9 322.5,272.8 322.0,273.1 321.5,272.9 321.0,272.9 320.5,272.7 320.0,272.6 319.5,272.8 319.0,273.1 318.5,273.2 318.0,272.8 317.5,272.6 317.0,272.7 316.5,273.2 316.0,272.7 315.5,272.8 315.0,272.6 314.5,272.9 314.0,272.8 313.5,273.2 313.0,273.2 312.5,272.9 312.0,273.1 311.5,273.0 311.0,272.9 310.5,273.1 310.0,272.6 309.5,272.7 309.0,273.1 308.5,272.9 308.0,273.0 307.5,273.0 307.0,273.1 306.5,272.8 306.0,272.7 305.5,272.8 305.0,273.1 304.5,272.9 304.0,273.1 303.5,273.1 303.0,272.8 302.5,273.0 302.0,273.1 301.5,272.9 301.0,272.9 300.5,272.9 300.0,272.9 299.5,272.7 299.0,272.9 298.5,273.1 298.0,272.8 297.5,272.9 297.0,272.8 296.5,272.8 296.0,273.2"/></clipPath><path d="M296.8,254.2V275.9M299.4,254.2V275.9M302.0,254.2V275.9M304.6,254.2V275.9M307.2,254.2V275.9M309.8,254.2V275.9M312.4,254.2V275.9M315.0,254.2V275.9M317.6,254.2V275.9M320.2,254.2V275.9M322.8,254.2V275.9M325.4,254.2V275.9M328.0,254.2V275.9M330.6,254.2V275.9M333.2,254.2V275.9M335.8,254.2V275.9M338.4,254.2V275.9M341.0,254.2V275.9M343.6,254.2V275.9M346.2,254.2V275.9M348.8,254.2V275.9M351.4,254.2V275.9M354.0,254.2V275.9M356.6,254.2V275.9M359.2,254.2V275.9M361.8,254.2V275.9M364.4,254.2V275.9M367.0,254.2V275.9M369.6,254.2V275.9M372.2,254.2V275.9M374.8,254.2V275.9M377.4,254.2V275.9M380.0,254.2V275.9M382.6,254.2V275.9M385.2,254.2V275.9M387.8,254.2V275.9M390.4,254.2V275.9M393.0,254.2V275.9M395.6,254.2V275.9M398.2,254.2V275.9M400.8,254.2V275.9M403.4,254.2V275.9M406.0,254.2V275.9M408.6,254.2V275.9M411.2,254.2V275.9" stroke="#9e00aa" stroke-width="0.9" opacity="0.4" clip-path="url(#c1mg1)"/><polygon fill="none" stroke="#9e00aa" stroke-width="1.8" opacity="0.8" clip-path="url(#c1mg1)" points="296.0,257.1 296.5,257.5 297.0,257.2 297.5,256.9 298.0,257.4 298.5,257.0 299.0,257.1 299.5,257.2 300.0,257.0 300.5,257.2 301.0,257.2 301.5,257.2 302.0,257.3 302.5,257.3 303.0,256.9 303.5,257.0 304.0,257.0 304.5,257.1 305.0,257.2 305.5,257.4 306.0,256.9 306.5,257.4 307.0,257.0 307.5,257.3 308.0,257.4 308.5,257.5 309.0,257.2 309.5,256.9 310.0,257.1 310.5,257.2 311.0,257.3 311.5,257.5 312.0,257.4 312.5,256.9 313.0,257.0 313.5,257.3 314.0,257.0 314.5,257.3 315.0,257.2 315.5,257.2 316.0,257.1 316.5,257.4 317.0,257.1 317.5,257.1 318.0,257.0 318.5,257.1 319.0,257.0 319.5,257.3 320.0,256.9 320.5,257.0 321.0,257.4 321.5,257.4 322.0,257.1 322.5,257.3 323.0,257.4 323.5,257.3 324.0,257.3 324.5,257.4 325.0,257.1 325.5,257.1 326.0,257.1 326.5,257.0 327.0,257.2 327.5,257.2 328.0,257.0 328.5,257.0 329.0,256.9 329.5,257.0 330.0,257.0 330.5,257.3 331.0,257.4 331.5,257.2 332.0,257.3 332.5,257.2 333.0,256.9 333.5,257.3 334.0,257.4 334.5,257.0 335.0,257.1 335.5,257.3 336.0,257.3 336.5,257.0 337.0,257.1 337.5,257.1 338.0,257.2 338.5,257.4 339.0,257.0 339.5,257.1 340.0,257.5 340.5,257.0 341.0,257.0 341.5,257.4 342.0,257.3 342.5,257.2 343.0,257.2 343.5,256.9 344.0,257.3 344.5,257.1 345.0,257.2 345.5,257.5 346.0,257.2 346.5,257.1 347.0,257.1 347.5,257.1 348.0,257.3 348.5,257.3 349.0,257.0 349.5,256.9 350.0,257.1 350.5,257.0 351.0,257.3 351.5,257.0 352.0,257.2 352.5,257.2 353.0,257.5 353.5,257.1 354.0,257.1 354.5,257.1 355.0,257.3 355.5,257.0 356.0,257.0 356.5,257.3 357.0,257.2 357.5,256.9 358.0,257.4 358.5,257.0 359.0,257.1 359.5,257.2 360.0,257.2 360.5,257.4 361.0,257.0 361.5,257.3 362.0,257.0 362.5,257.0 363.0,257.3 363.5,257.4 364.0,257.0 364.5,256.9 365.0,257.0 365.5,257.2 366.0,256.9 366.5,257.5 367.0,256.9 367.5,257.3 368.0,257.4 368.5,257.1 369.0,257.4 369.5,257.0 370.0,257.4 370.5,257.2 371.0,257.4 371.5,257.4 372.0,257.4 372.5,257.4 373.0,257.1 373.5,256.9 374.0,257.0 374.5,257.3 375.0,257.2 375.5,257.2 376.0,257.2 376.5,256.9 377.0,257.5 377.5,257.2 378.0,257.3 378.5,257.2 379.0,257.4 379.5,257.2 380.0,257.2 380.5,257.4 381.0,257.0 381.5,257.4 382.0,257.3 382.5,257.1 383.0,257.0 383.5,257.2 384.0,257.1 384.5,256.9 385.0,257.4 385.5,257.3 386.0,257.4 386.5,257.4 387.0,257.1 387.5,257.4 388.0,257.0 388.5,257.1 389.0,257.2 389.5,257.3 390.0,257.0 390.5,256.9 391.0,257.5 391.5,256.9 392.0,257.3 392.5,257.2 393.0,257.5 393.5,257.4 394.0,257.2 394.5,257.2 395.0,257.3 395.5,257.1 396.0,256.9 396.5,257.5 397.0,257.2 397.5,257.4 398.0,257.2 398.5,256.9 399.0,257.0 399.5,257.0 400.0,257.5 400.5,257.4 401.0,257.1 401.5,257.2 402.0,257.5 402.5,257.2 403.0,257.1 403.5,257.2 404.0,257.0 404.5,257.2 405.0,256.9 405.5,257.2 406.0,257.0 406.5,256.9 407.0,257.4 407.5,257.2 408.0,257.0 408.5,257.1 409.0,257.4 409.5,257.1 410.0,257.1 410.5,257.2 411.0,257.4 411.5,257.3 412.0,257.2 412.5,257.3 413.0,257.1 413.5,257.5 413.5,272.8 413.0,272.7 412.5,272.9 412.0,273.1 411.5,273.1 411.0,273.0 410.5,272.6 410.0,273.1 409.5,273.1 409.0,272.7 408.5,272.7 408.0,272.7 407.5,272.7 407.0,272.7 406.5,272.9 406.0,273.0 405.5,272.9 405.0,272.9 404.5,273.0 404.0,273.1 403.5,273.2 403.0,273.0 402.5,272.9 402.0,272.6 401.5,272.8 401.0,272.7 400.5,273.2 400.0,273.0 399.5,272.7 399.0,272.8 398.5,272.9 398.0,273.0 397.5,273.2 397.0,272.8 396.5,273.0 396.0,272.8 395.5,273.1 395.0,272.9 394.5,273.1 394.0,272.9 393.5,273.0 393.0,273.1 392.5,272.8 392.0,272.9 391.5,273.0 391.0,273.0 390.5,273.0 390.0,272.8 389.5,272.9 389.0,272.9 388.5,272.8 388.0,272.8 387.5,272.6 387.0,272.6 386.5,272.7 386.0,272.7 385.5,272.8 385.0,273.2 384.5,272.8 384.0,273.1 383.5,273.0 383.0,273.2 382.5,273.0 382.0,273.2 381.5,273.1 381.0,272.6 380.5,272.6 380.0,273.2 379.5,272.8 379.0,273.0 378.5,273.2 378.0,273.2 377.5,272.9 377.0,272.8 376.5,273.0 376.0,273.0 375.5,272.7 375.0,273.1 374.5,272.6 374.0,272.8 373.5,273.1 373.0,273.1 372.5,273.1 372.0,273.1 371.5,272.9 371.0,272.9 370.5,272.9 370.0,272.9 369.5,272.7 369.0,272.8 368.5,272.9 368.0,272.6 367.5,272.9 367.0,272.6 366.5,272.9 366.0,272.6 365.5,272.7 365.0,272.9 364.5,273.1 364.0,273.2 363.5,273.1 363.0,273.1 362.5,272.9 362.0,272.9 361.5,272.9 361.0,273.2 360.5,273.1 360.0,272.6 359.5,273.0 359.0,273.0 358.5,273.1 358.0,273.2 357.5,272.8 357.0,272.8 356.5,272.7 356.0,272.7 355.5,273.1 355.0,273.0 354.5,273.1 354.0,272.8 353.5,273.1 353.0,272.6 352.5,272.9 352.0,272.8 351.5,272.8 351.0,273.2 350.5,272.6 350.0,273.2 349.5,273.0 349.0,273.2 348.5,272.8 348.0,273.1 347.5,272.9 347.0,272.9 346.5,273.0 346.0,272.8 345.5,273.0 345.0,272.7 344.5,272.6 344.0,273.0 343.5,272.6 343.0,273.2 342.5,272.7 342.0,273.1 341.5,272.8 341.0,273.0 340.5,272.8 340.0,273.0 339.5,272.7 339.0,272.7 338.5,272.8 338.0,273.2 337.5,273.1 337.0,272.8 336.5,273.2 336.0,273.2 335.5,272.7 335.0,273.0 334.5,272.7 334.0,272.8 333.5,272.8 333.0,272.7 332.5,273.0 332.0,272.7 331.5,272.8 331.0,272.7 330.5,272.8 330.0,273.1 329.5,272.8 329.0,273.2 328.5,272.7 328.0,272.6 327.5,272.7 327.0,272.9 326.5,272.8 326.0,272.8 325.5,273.0 325.0,273.0 324.5,272.7 324.0,273.1 323.5,272.8 323.0,272.9 322.5,272.8 322.0,273.1 321.5,272.9 321.0,272.9 320.5,272.7 320.0,272.6 319.5,272.8 319.0,273.1 318.5,273.2 318.0,272.8 317.5,272.6 317.0,272.7 316.5,273.2 316.0,272.7 315.5,272.8 315.0,272.6 314.5,272.9 314.0,272.8 313.5,273.2 313.0,273.2 312.5,272.9 312.0,273.1 311.5,273.0 311.0,272.9 310.5,273.1 310.0,272.6 309.5,272.7 309.0,273.1 308.5,272.9 308.0,273.0 307.5,273.0 307.0,273.1 306.5,272.8 306.0,272.7 305.5,272.8 305.0,273.1 304.5,272.9 304.0,273.1 303.5,273.1 303.0,272.8 302.5,273.0 302.0,273.1 301.5,272.9 301.0,272.9 300.5,272.9 300.0,272.9 299.5,272.7 299.0,272.9 298.5,273.1 298.0,272.8 297.5,272.9 297.0,272.8 296.5,272.8 296.0,273.2"/>
<polygon points="413.4,262.5 413.9,262.2 414.4,262.4 414.9,262.3 415.4,262.3 415.9,262.2 416.4,262.4 416.9,262.3 417.4,262.5 417.9,262.2 418.4,262.4 418.9,262.4 419.4,262.5 419.9,262.2 420.4,262.5 420.9,262.4 421.4,262.3 421.9,262.3 422.4,262.5 422.9,262.2 423.4,262.4 423.9,262.3 424.4,262.3 424.9,262.6 425.4,262.3 425.9,262.3 426.4,262.2 426.9,262.3 427.4,262.2 427.9,262.2 428.4,262.5 428.9,262.6 429.4,262.3 429.9,262.4 430.4,262.6 430.9,262.3 431.4,262.3 431.9,262.4 432.4,262.2 432.9,262.4 433.4,262.5 433.9,262.6 434.4,262.2 434.9,262.4 435.4,262.4 435.9,262.4 436.4,262.3 436.9,262.4 437.4,262.3 437.9,262.5 438.4,262.2 438.9,262.2 439.4,262.5 439.9,262.3 440.4,262.4 440.9,262.4 441.4,262.4 441.9,262.2 442.4,262.5 442.9,262.6 443.4,262.3 443.9,262.3 444.4,262.3 444.9,262.5 445.4,262.4 445.9,262.4 446.4,262.4 446.9,262.3 447.4,262.4 447.9,262.4 448.4,262.5 448.9,262.5 449.4,262.6 449.9,262.3 450.4,262.4 450.9,262.4 451.4,262.3 451.9,262.3 452.4,262.3 452.9,262.4 453.4,262.5 453.9,262.3 454.4,262.4 454.9,262.3 455.4,262.4 455.9,262.6 456.4,262.6 456.9,262.3 457.4,262.3 457.9,262.3 458.4,262.6 458.9,262.6 459.4,262.2 459.9,262.4 460.4,262.4 460.9,262.3 461.4,262.5 461.9,262.5 462.4,262.3 462.9,262.6 463.4,262.4 463.9,262.3 464.4,262.5 464.9,262.3 465.4,262.4 465.9,262.4 466.4,262.3 466.9,262.2 467.4,262.4 467.9,262.5 468.4,262.3 468.9,262.4 469.4,262.4 469.9,262.3 470.4,262.3 470.9,262.5 471.4,262.5 471.9,262.4 472.4,262.5 472.9,262.2 473.4,262.3 473.9,262.3 474.4,262.2 474.9,262.4 475.4,262.4 475.9,262.5 476.4,262.4 476.9,262.4 477.4,262.5 477.9,262.3 478.4,262.3 478.9,262.3 479.4,262.3 479.9,262.5 480.4,262.4 480.9,262.6 481.4,262.4 481.9,262.4 482.4,262.4 482.9,262.2 483.4,262.4 483.9,262.3 484.4,262.4 484.9,262.4 485.4,262.5 485.9,262.5 486.4,262.2 486.9,262.4 487.4,262.4 487.9,262.3 488.4,262.3 488.9,262.5 489.4,262.3 489.9,262.3 490.4,262.3 490.9,262.6 491.4,262.4 491.9,262.3 492.4,262.3 492.9,262.3 493.4,262.5 493.9,262.2 494.4,262.3 494.9,262.5 495.4,262.2 495.9,262.4 496.4,262.5 496.9,262.4 497.4,262.5 497.9,262.4 498.4,262.6 498.9,262.6 499.4,262.4 499.9,262.5 500.4,262.5 500.9,262.5 501.4,262.4 501.9,262.5 502.4,262.4 502.9,262.5 503.4,262.5 503.9,262.3 504.4,262.4 504.9,262.6 505.4,262.5 505.9,262.3 506.4,262.4 506.9,262.2 507.4,262.3 507.9,262.5 508.4,262.3 508.9,262.4 509.4,262.5 509.9,262.6 510.4,262.4 510.9,262.2 511.4,262.4 511.9,262.5 512.4,262.5 512.9,262.5 513.4,262.2 513.9,262.4 514.4,262.5 514.9,262.3 515.4,262.5 515.9,262.6 516.4,262.3 516.9,262.4 517.4,262.2 517.9,262.5 518.4,262.6 518.9,262.5 519.4,262.3 519.9,262.6 520.4,262.2 520.9,262.4 521.4,262.2 521.9,262.4 522.4,262.3 522.9,262.2 523.4,262.6 523.9,262.5 524.4,262.4 524.9,262.3 525.4,262.4 525.9,262.3 526.4,262.4 526.9,262.5 527.4,262.6 527.9,262.3 528.4,262.3 528.9,262.3 529.4,262.6 529.9,262.5 530.4,262.3 530.9,262.4 531.4,262.5 531.9,262.4 532.4,262.4 532.9,262.4 533.4,262.4 533.9,262.2 534.4,262.3 534.9,262.5 535.4,262.6 535.9,262.4 536.4,262.5 536.9,262.4 537.4,262.3 537.9,262.4 538.4,262.5 538.9,262.6 539.4,262.3 539.9,262.4 540.4,262.4 540.9,262.5 541.4,262.5 541.4,266.8 540.9,266.7 540.4,266.6 539.9,266.4 539.4,266.4 538.9,266.4 538.4,266.6 537.9,266.6 537.4,266.4 536.9,266.8 536.4,266.7 535.9,266.7 535.4,266.5 534.9,266.5 534.4,266.6 533.9,266.5 533.4,266.6 532.9,266.7 532.4,266.6 531.9,266.5 531.4,266.8 530.9,266.5 530.4,266.6 529.9,266.6 529.4,266.4 528.9,266.5 528.4,266.7 527.9,266.7 527.4,266.6 526.9,266.5 526.4,266.7 525.9,266.4 525.4,266.6 524.9,266.4 524.4,266.7 523.9,266.7 523.4,266.7 522.9,266.5 522.4,266.7 521.9,266.6 521.4,266.5 520.9,266.7 520.4,266.5 519.9,266.8 519.4,266.7 518.9,266.4 518.4,266.7 517.9,266.6 517.4,266.4 516.9,266.6 516.4,266.6 515.9,266.4 515.4,266.5 514.9,266.7 514.4,266.5 513.9,266.7 513.4,266.6 512.9,266.7 512.4,266.5 511.9,266.4 511.4,266.7 510.9,266.5 510.4,266.6 509.9,266.7 509.4,266.6 508.9,266.5 508.4,266.5 507.9,266.7 507.4,266.8 506.9,266.5 506.4,266.6 505.9,266.8 505.4,266.5 504.9,266.6 504.4,266.7 503.9,266.7 503.4,266.6 502.9,266.7 502.4,266.5 501.9,266.5 501.4,266.5 500.9,266.5 500.4,266.6 499.9,266.4 499.4,266.7 498.9,266.7 498.4,266.7 497.9,266.7 497.4,266.7 496.9,266.6 496.4,266.5 495.9,266.5 495.4,266.4 494.9,266.8 494.4,266.7 493.9,266.7 493.4,266.6 492.9,266.6 492.4,266.6 491.9,266.4 491.4,266.7 490.9,266.6 490.4,266.4 489.9,266.8 489.4,266.6 488.9,266.4 488.4,266.5 487.9,266.5 487.4,266.6 486.9,266.4 486.4,266.6 485.9,266.7 485.4,266.7 484.9,266.5 484.4,266.7 483.9,266.5 483.4,266.4 482.9,266.4 482.4,266.5 481.9,266.7 481.4,266.5 480.9,266.8 480.4,266.7 479.9,266.7 479.4,266.8 478.9,266.7 478.4,266.7 477.9,266.7 477.4,266.7 476.9,266.6 476.4,266.7 475.9,266.4 475.4,266.7 474.9,266.4 474.4,266.8 473.9,266.7 473.4,266.8 472.9,266.7 472.4,266.6 471.9,266.6 471.4,266.6 470.9,266.4 470.4,266.7 469.9,266.5 469.4,266.5 468.9,266.5 468.4,266.7 467.9,266.6 467.4,266.5 466.9,266.6 466.4,266.5 465.9,266.5 465.4,266.7 464.9,266.6 464.4,266.7 463.9,266.4 463.4,266.8 462.9,266.5 462.4,266.6 461.9,266.5 461.4,266.5 460.9,266.7 460.4,266.6 459.9,266.8 459.4,266.4 458.9,266.7 458.4,266.8 457.9,266.5 457.4,266.8 456.9,266.5 456.4,266.7 455.9,266.5 455.4,266.6 454.9,266.7 454.4,266.7 453.9,266.5 453.4,266.4 452.9,266.5 452.4,266.7 451.9,266.5 451.4,266.6 450.9,266.7 450.4,266.6 449.9,266.8 449.4,266.6 448.9,266.6 448.4,266.7 447.9,266.4 447.4,266.6 446.9,266.7 446.4,266.7 445.9,266.6 445.4,266.6 444.9,266.8 444.4,266.8 443.9,266.5 443.4,266.6 442.9,266.4 442.4,266.4 441.9,266.5 441.4,266.5 440.9,266.7 440.4,266.5 439.9,266.6 439.4,266.7 438.9,266.4 438.4,266.5 437.9,266.5 437.4,266.6 436.9,266.8 436.4,266.5 435.9,266.6 435.4,266.6 434.9,266.7 434.4,266.8 433.9,266.8 433.4,266.5 432.9,266.5 432.4,266.4 431.9,266.4 431.4,266.6 430.9,266.6 430.4,266.6 429.9,266.8 429.4,266.4 428.9,266.8 428.4,266.7 427.9,266.5 427.4,266.7 426.9,266.4 426.4,266.4 425.9,266.7 425.4,266.5 424.9,266.7 424.4,266.6 423.9,266.7 423.4,266.5 422.9,266.6 422.4,266.4 421.9,266.7 421.4,266.7 420.9,266.5 420.4,266.7 419.9,266.4 419.4,266.7 418.9,266.5 418.4,266.8 417.9,266.4 417.4,266.4 416.9,266.8 416.4,266.7 415.9,266.6 415.4,266.4 414.9,266.6 414.4,266.7 413.9,266.4 413.4,266.7" fill="#bc00c8"/>
<polygon points="296.0,292.7 296.5,292.4 297.0,292.6 297.5,292.6 298.0,292.8 298.5,292.6 299.0,292.8 299.5,292.8 300.0,292.6 300.5,292.4 301.0,292.9 301.5,292.5 302.0,292.7 302.5,292.8 303.0,292.4 303.5,292.3 304.0,292.8 304.5,292.7 305.0,292.4 305.5,292.5 306.0,292.7 306.5,292.7 307.0,292.8 307.5,292.6 308.0,292.4 308.5,292.8 309.0,292.6 309.5,292.5 310.0,292.4 310.5,292.5 311.0,292.4 311.5,292.4 312.0,292.6 312.5,292.4 313.0,292.4 313.5,292.8 314.0,292.4 314.5,292.8 315.0,292.3 315.5,292.5 316.0,292.4 316.5,292.7 317.0,292.6 317.5,292.8 318.0,292.6 318.5,292.9 319.0,292.4 319.5,292.7 320.0,292.4 320.5,292.6 321.0,292.9 321.5,292.5 322.0,292.4 322.5,293.0 323.0,292.4 323.5,292.7 324.0,292.5 324.5,292.7 325.0,292.9 325.5,292.5 326.0,292.9 326.5,292.8 327.0,292.5 327.5,292.5 328.0,292.6 328.5,292.9 329.0,292.9 329.5,292.5 330.0,292.9 330.5,292.8 331.0,292.4 331.5,292.7 332.0,292.6 332.5,292.8 333.0,292.9 333.5,292.5 334.0,292.5 334.5,292.5 335.0,292.7 335.5,292.9 336.0,292.6 336.5,292.9 337.0,293.0 337.5,292.7 338.0,292.5 338.5,292.4 339.0,292.5 339.5,292.9 340.0,292.9 340.5,292.5 341.0,292.8 341.5,293.0 342.0,292.6 342.5,293.0 343.0,292.9 343.5,292.6 344.0,292.6 344.5,293.0 345.0,292.6 345.5,292.5 346.0,292.5 346.5,292.9 347.0,292.9 347.5,292.6 348.0,293.0 348.5,292.7 349.0,292.6 349.5,292.6 350.0,292.9 350.5,292.9 351.0,293.0 351.5,292.5 352.0,292.9 352.5,292.7 353.0,292.6 353.5,292.9 354.0,292.6 354.5,292.6 355.0,293.1 355.5,292.5 356.0,292.8 356.5,292.7 357.0,292.6 357.5,293.1 358.0,292.6 358.5,292.6 359.0,292.7 359.5,292.9 360.0,292.9 360.5,292.9 361.0,292.9 361.5,292.8 362.0,293.1 362.5,292.6 363.0,292.8 363.5,292.7 364.0,293.1 364.5,292.8 365.0,292.8 365.5,293.0 366.0,293.1 366.5,292.9 367.0,292.6 367.5,292.6 368.0,292.6 368.5,292.6 369.0,292.6 369.5,293.1 370.0,292.8 370.5,293.0 371.0,292.7 371.5,292.7 372.0,293.1 372.5,292.6 373.0,293.1 373.5,292.6 374.0,292.8 374.5,292.8 375.0,292.9 375.5,292.9 376.0,292.6 376.5,293.1 377.0,292.7 377.5,292.7 378.0,292.6 378.5,292.7 379.0,292.9 379.5,292.8 380.0,293.1 380.5,293.0 381.0,292.8 381.5,292.7 382.0,292.8 382.5,292.7 383.0,292.8 383.5,292.9 384.0,292.7 384.5,293.1 385.0,293.1 385.5,292.9 386.0,293.0 386.5,293.1 387.0,292.8 387.5,292.8 388.0,292.9 388.5,293.0 389.0,292.8 389.5,292.6 390.0,293.1 390.5,292.9 391.0,292.9 391.5,292.6 392.0,292.7 392.5,292.9 393.0,293.0 393.5,292.7 394.0,292.5 394.5,292.9 395.0,293.0 395.5,292.8 396.0,292.9 396.5,292.7 397.0,292.7 397.5,292.5 398.0,292.5 398.5,292.9 399.0,292.9 399.5,292.8 400.0,292.8 400.5,292.8 401.0,292.9 401.5,292.5 402.0,292.6 402.5,292.5 403.0,293.0 403.5,292.7 404.0,292.8 404.5,292.6 405.0,292.9 405.5,292.9 406.0,292.6 406.5,293.0 407.0,293.0 407.5,292.8 408.0,292.6 408.5,292.9 409.0,292.9 409.5,292.7 410.0,292.6 410.5,292.7 411.0,292.5 411.5,292.4 412.0,292.5 412.5,292.5 413.0,292.6 413.5,292.6 414.0,290.9 414.5,289.4 415.0,289.3 415.5,289.3 416.0,289.5 416.5,289.4 417.0,289.2 417.5,289.2 418.0,289.4 418.5,289.3 419.0,289.2 419.5,289.0 420.0,289.0 420.5,288.9 421.0,289.4 421.5,289.4 422.0,289.3 422.5,288.9 423.0,289.1 423.5,289.0 424.0,289.0 424.5,289.3 425.0,289.4 425.5,289.4 426.0,289.4 426.5,289.0 427.0,289.3 427.5,289.0 428.0,289.1 428.5,289.3 429.0,288.9 429.5,289.2 430.0,289.0 430.5,289.1 431.0,289.0 431.5,289.0 432.0,289.4 432.5,289.1 433.0,289.0 433.5,289.2 434.0,289.3 434.5,289.1 435.0,289.2 435.5,289.3 436.0,289.3 436.5,289.1 437.0,289.1 437.5,288.9 438.0,288.9 438.5,289.4 439.0,288.9 439.5,289.1 440.0,288.9 440.5,288.9 441.0,288.9 441.5,289.0 442.0,288.9 442.5,289.3 443.0,289.0 443.5,289.3 444.0,289.2 444.5,289.3 445.0,289.0 445.5,288.8 446.0,288.9 446.5,288.8 447.0,288.8 447.5,288.8 448.0,288.9 448.5,289.1 449.0,289.2 449.5,288.9 450.0,289.0 450.5,289.2 451.0,288.8 451.5,289.2 452.0,288.8 452.5,288.8 453.0,289.2 453.5,289.1 454.0,289.1 454.5,288.9 455.0,288.8 455.5,289.1 456.0,288.9 456.5,289.3 457.0,289.2 457.5,289.3 458.0,288.9 458.5,289.0 459.0,289.0 459.5,288.8 460.0,289.0 460.5,289.1 461.0,288.9 461.5,288.9 462.0,288.8 462.5,288.9 463.0,289.1 463.5,289.4 464.0,289.2 464.5,288.9 465.0,288.9 465.5,288.9 466.0,289.3 466.5,288.8 467.0,289.3 467.5,289.2 468.0,288.9 468.5,289.1 469.0,288.8 469.5,289.2 470.0,288.8 470.5,289.4 471.0,289.0 471.5,289.2 472.0,289.4 472.5,289.3 473.0,289.3 473.5,289.2 474.0,289.0 474.5,289.1 475.0,289.2 475.5,289.0 476.0,289.4 476.5,289.2 477.0,289.3 477.5,288.9 478.0,289.1 478.5,289.1 479.0,289.0 479.5,289.1 480.0,289.1 480.5,289.0 481.0,289.0 481.5,289.1 482.0,289.0 482.5,289.0 483.0,288.8 483.5,289.1 484.0,289.2 484.5,288.9 485.0,289.4 485.5,288.9 486.0,288.9 486.5,288.9 487.0,289.3 487.5,288.9 488.0,288.9 488.5,289.2 489.0,289.0 489.5,289.0 490.0,289.2 490.5,289.0 491.0,289.4 491.5,289.1 492.0,289.2 492.5,289.2 493.0,289.2 493.5,289.3 494.0,289.0 494.5,289.0 495.0,289.1 495.5,289.4 496.0,289.2 496.5,289.2 497.0,289.4 497.5,289.4 498.0,289.4 498.5,289.3 499.0,289.3 499.5,289.1 500.0,289.0 500.5,289.4 501.0,289.3 501.5,289.5 502.0,289.0 502.5,289.4 503.0,289.0 503.5,289.3 504.0,289.2 504.5,289.4 505.0,289.3 505.5,289.1 506.0,289.4 506.5,289.0 507.0,289.4 507.5,289.3 508.0,289.4 508.5,289.4 509.0,289.0 509.5,289.4 510.0,289.4 510.5,289.4 511.0,289.5 511.5,289.3 512.0,289.4 512.5,289.2 513.0,289.5 513.5,289.2 514.0,289.3 514.5,289.0 515.0,289.2 515.5,289.0 516.0,289.0 516.5,289.3 517.0,289.0 517.5,289.0 518.0,289.5 518.5,289.1 519.0,289.2 519.5,289.4 520.0,289.0 520.5,289.5 521.0,289.2 521.5,289.0 522.0,289.0 522.5,289.2 523.0,289.4 523.5,289.3 524.0,289.2 524.5,289.0 525.0,289.4 525.5,289.1 526.0,289.3 526.5,289.2 527.0,289.3 527.5,289.5 528.0,289.5 528.5,289.5 529.0,289.1 529.5,289.4 530.0,289.4 530.5,289.4 531.0,289.2 531.5,289.5 532.0,289.3 532.5,289.5 533.0,289.3 533.5,289.4 534.0,289.1 534.5,289.1 535.0,289.3 535.5,289.4 536.0,289.3 536.5,289.5 537.0,289.5 537.5,289.3 538.0,289.0 538.5,289.2 539.0,289.1 539.5,289.5 540.0,289.2 540.5,289.4 541.0,289.4 541.0,311.8 540.5,312.0 540.0,311.7 539.5,311.8 539.0,312.1 538.5,311.6 538.0,311.9 537.5,311.5 537.0,311.6 536.5,311.8 536.0,312.1 535.5,312.0 535.0,312.0 534.5,311.6 534.0,311.9 533.5,311.7 533.0,311.6 532.5,312.0 532.0,312.0 531.5,311.8 531.0,311.9 530.5,311.7 530.0,311.7 529.5,311.6 529.0,312.0 528.5,311.9 528.0,311.7 527.5,311.7 527.0,312.1 526.5,311.6 526.0,311.8 525.5,311.6 525.0,312.1 524.5,312.0 524.0,311.8 523.5,311.7 523.0,311.6 522.5,311.6 522.0,311.9 521.5,311.8 521.0,311.7 520.5,311.9 520.0,311.7 519.5,312.0 519.0,311.9 518.5,311.6 518.0,311.8 517.5,311.6 517.0,311.8 516.5,311.8 516.0,311.7 515.5,312.1 515.0,312.0 514.5,311.8 514.0,311.9 513.5,311.9 513.0,311.6 512.5,311.9 512.0,311.9 511.5,311.7 511.0,311.8 510.5,312.0 510.0,312.0 509.5,312.1 509.0,311.7 508.5,311.8 508.0,312.1 507.5,311.6 507.0,311.6 506.5,311.6 506.0,311.7 505.5,311.7 505.0,311.8 504.5,311.9 504.0,311.7 503.5,311.9 503.0,312.0 502.5,311.8 502.0,311.7 501.5,312.2 501.0,311.9 500.5,311.7 500.0,311.7 499.5,312.0 499.0,311.9 498.5,312.2 498.0,312.1 497.5,311.7 497.0,312.1 496.5,312.2 496.0,312.2 495.5,312.1 495.0,312.0 494.5,312.2 494.0,312.1 493.5,311.9 493.0,311.8 492.5,311.6 492.0,311.7 491.5,311.9 491.0,311.7 490.5,311.7 490.0,311.9 489.5,311.8 489.0,312.2 488.5,311.8 488.0,312.0 487.5,312.0 487.0,311.9 486.5,312.1 486.0,312.2 485.5,312.2 485.0,311.7 484.5,311.9 484.0,311.9 483.5,312.2 483.0,312.1 482.5,311.9 482.0,312.1 481.5,312.3 481.0,311.7 480.5,312.3 480.0,311.7 479.5,311.7 479.0,311.7 478.5,312.2 478.0,311.9 477.5,312.2 477.0,312.1 476.5,311.7 476.0,312.3 475.5,311.8 475.0,312.3 474.5,312.2 474.0,312.0 473.5,311.7 473.0,311.8 472.5,311.8 472.0,311.8 471.5,312.2 471.0,311.8 470.5,312.0 470.0,311.8 469.5,312.2 469.0,311.9 468.5,311.7 468.0,312.1 467.5,312.1 467.0,312.0 466.5,312.2 466.0,311.9 465.5,312.2 465.0,312.2 464.5,312.0 464.0,312.2 463.5,311.9 463.0,312.0 462.5,312.1 462.0,311.8 461.5,312.1 461.0,312.2 460.5,312.3 460.0,312.3 459.5,312.0 459.0,312.1 458.5,311.8 458.0,312.3 457.5,311.8 457.0,312.1 456.5,312.0 456.0,312.2 455.5,312.3 455.0,312.3 454.5,312.3 454.0,312.3 453.5,311.7 453.0,311.8 452.5,312.0 452.0,312.1 451.5,312.2 451.0,312.2 450.5,312.2 450.0,312.0 449.5,311.8 449.0,311.8 448.5,312.2 448.0,311.9 447.5,311.8 447.0,312.1 446.5,312.1 446.0,312.1 445.5,312.0 445.0,311.9 444.5,312.3 444.0,312.0 443.5,312.0 443.0,312.1 442.5,311.7 442.0,311.8 441.5,311.9 441.0,312.3 440.5,311.7 440.0,312.3 439.5,312.1 439.0,311.9 438.5,312.1 438.0,312.2 437.5,312.2 437.0,311.7 436.5,312.2 436.0,311.9 435.5,312.2 435.0,312.0 434.5,312.2 434.0,311.7 433.5,312.0 433.0,312.2 432.5,311.8 432.0,312.2 431.5,311.7 431.0,312.0 430.5,311.7 430.0,312.1 429.5,311.8 429.0,312.0 428.5,311.7 428.0,311.9 427.5,312.0 427.0,311.7 426.5,311.8 426.0,312.0 425.5,311.9 425.0,312.0 424.5,311.6 424.0,312.0 423.5,311.9 423.0,312.0 422.5,311.6 422.0,312.1 421.5,311.6 421.0,311.9 420.5,311.8 420.0,311.7 419.5,311.6 419.0,311.7 418.5,312.0 418.0,311.6 417.5,311.8 417.0,312.1 416.5,311.7 416.0,312.0 415.5,311.6 415.0,311.7 414.5,311.7 414.0,310.3 413.5,308.6 413.0,308.8 412.5,308.7 412.0,308.5 411.5,308.6 411.0,308.6 410.5,308.7 410.0,308.8 409.5,308.7 409.0,309.0 408.5,308.9 408.0,308.9 407.5,308.7 407.0,309.0 406.5,308.6 406.0,308.7 405.5,308.5 405.0,308.7 404.5,309.0 404.0,309.0 403.5,308.6 403.0,308.7 402.5,308.5 402.0,308.7 401.5,308.8 401.0,308.5 400.5,309.0 400.0,309.0 399.5,308.8 399.0,308.4 398.5,308.4 398.0,308.9 397.5,308.9 397.0,308.7 396.5,308.5 396.0,308.5 395.5,308.8 395.0,308.4 394.5,308.6 394.0,308.4 393.5,308.4 393.0,308.9 392.5,308.9 392.0,308.7 391.5,308.5 391.0,308.4 390.5,308.4 390.0,308.4 389.5,308.5 389.0,308.3 388.5,308.5 388.0,308.4 387.5,308.7 387.0,308.7 386.5,308.9 386.0,308.4 385.5,308.8 385.0,308.8 384.5,308.8 384.0,308.7 383.5,308.8 383.0,308.8 382.5,308.3 382.0,308.7 381.5,308.8 381.0,308.8 380.5,308.7 380.0,308.6 379.5,308.5 379.0,308.6 378.5,308.5 378.0,308.5 377.5,308.8 377.0,308.7 376.5,308.5 376.0,308.7 375.5,308.3 375.0,308.7 374.5,308.6 374.0,308.5 373.5,308.9 373.0,308.4 372.5,308.4 372.0,308.9 371.5,308.7 371.0,308.4 370.5,308.7 370.0,308.8 369.5,308.6 369.0,308.4 368.5,308.4 368.0,308.6 367.5,308.5 367.0,308.9 366.5,308.5 366.0,308.7 365.5,308.5 365.0,308.3 364.5,308.3 364.0,308.9 363.5,308.5 363.0,308.7 362.5,308.5 362.0,308.4 361.5,308.5 361.0,308.7 360.5,308.6 360.0,308.6 359.5,308.6 359.0,308.6 358.5,308.8 358.0,308.4 357.5,308.5 357.0,308.3 356.5,308.8 356.0,308.5 355.5,308.8 355.0,308.3 354.5,308.8 354.0,308.4 353.5,308.5 353.0,308.5 352.5,308.6 352.0,308.8 351.5,308.9 351.0,308.8 350.5,308.7 350.0,308.9 349.5,308.6 349.0,308.5 348.5,308.4 348.0,308.6 347.5,308.8 347.0,308.4 346.5,308.7 346.0,308.7 345.5,308.6 345.0,308.5 344.5,308.9 344.0,308.8 343.5,308.4 343.0,308.5 342.5,308.7 342.0,308.6 341.5,308.8 341.0,308.6 340.5,308.5 340.0,308.5 339.5,308.6 339.0,308.9 338.5,308.7 338.0,308.5 337.5,308.7 337.0,308.5 336.5,308.5 336.0,308.7 335.5,308.9 335.0,308.9 334.5,309.0 334.0,308.9 333.5,308.6 333.0,308.4 332.5,308.9 332.0,308.9 331.5,308.5 331.0,308.5 330.5,308.6 330.0,308.9 329.5,308.6 329.0,308.5 328.5,309.0 328.0,308.5 327.5,308.9 327.0,309.0 326.5,308.7 326.0,308.6 325.5,308.5 325.0,308.7 324.5,308.9 324.0,308.6 323.5,308.5 323.0,308.9 322.5,308.9 322.0,308.6 321.5,308.9 321.0,308.7 320.5,308.7 320.0,308.7 319.5,308.6 319.0,309.0 318.5,308.8 318.0,308.8 317.5,309.0 317.0,308.9 316.5,308.5 316.0,308.6 315.5,308.5 315.0,308.5 314.5,308.5 314.0,308.9 313.5,308.9 313.0,308.7 312.5,309.0 312.0,308.5 311.5,308.8 311.0,309.1 310.5,309.0 310.0,309.0 309.5,308.9 309.0,308.9 308.5,309.0 308.0,308.5 307.5,308.8 307.0,308.7 306.5,309.0 306.0,309.1 305.5,309.0 305.0,308.9 304.5,308.6 304.0,308.6 303.5,308.8 303.0,308.5 302.5,308.5 302.0,309.1 301.5,308.7 301.0,308.8 300.5,309.1 300.0,308.6 299.5,308.9 299.0,308.8 298.5,308.9 298.0,309.0 297.5,309.0 297.0,308.9 296.5,308.6 296.0,309.1" fill="#0cc00c"/><clipPath id="c1gr"><polygon points="296.0,292.7 296.5,292.4 297.0,292.6 297.5,292.6 298.0,292.8 298.5,292.6 299.0,292.8 299.5,292.8 300.0,292.6 300.5,292.4 301.0,292.9 301.5,292.5 302.0,292.7 302.5,292.8 303.0,292.4 303.5,292.3 304.0,292.8 304.5,292.7 305.0,292.4 305.5,292.5 306.0,292.7 306.5,292.7 307.0,292.8 307.5,292.6 308.0,292.4 308.5,292.8 309.0,292.6 309.5,292.5 310.0,292.4 310.5,292.5 311.0,292.4 311.5,292.4 312.0,292.6 312.5,292.4 313.0,292.4 313.5,292.8 314.0,292.4 314.5,292.8 315.0,292.3 315.5,292.5 316.0,292.4 316.5,292.7 317.0,292.6 317.5,292.8 318.0,292.6 318.5,292.9 319.0,292.4 319.5,292.7 320.0,292.4 320.5,292.6 321.0,292.9 321.5,292.5 322.0,292.4 322.5,293.0 323.0,292.4 323.5,292.7 324.0,292.5 324.5,292.7 325.0,292.9 325.5,292.5 326.0,292.9 326.5,292.8 327.0,292.5 327.5,292.5 328.0,292.6 328.5,292.9 329.0,292.9 329.5,292.5 330.0,292.9 330.5,292.8 331.0,292.4 331.5,292.7 332.0,292.6 332.5,292.8 333.0,292.9 333.5,292.5 334.0,292.5 334.5,292.5 335.0,292.7 335.5,292.9 336.0,292.6 336.5,292.9 337.0,293.0 337.5,292.7 338.0,292.5 338.5,292.4 339.0,292.5 339.5,292.9 340.0,292.9 340.5,292.5 341.0,292.8 341.5,293.0 342.0,292.6 342.5,293.0 343.0,292.9 343.5,292.6 344.0,292.6 344.5,293.0 345.0,292.6 345.5,292.5 346.0,292.5 346.5,292.9 347.0,292.9 347.5,292.6 348.0,293.0 348.5,292.7 349.0,292.6 349.5,292.6 350.0,292.9 350.5,292.9 351.0,293.0 351.5,292.5 352.0,292.9 352.5,292.7 353.0,292.6 353.5,292.9 354.0,292.6 354.5,292.6 355.0,293.1 355.5,292.5 356.0,292.8 356.5,292.7 357.0,292.6 357.5,293.1 358.0,292.6 358.5,292.6 359.0,292.7 359.5,292.9 360.0,292.9 360.5,292.9 361.0,292.9 361.5,292.8 362.0,293.1 362.5,292.6 363.0,292.8 363.5,292.7 364.0,293.1 364.5,292.8 365.0,292.8 365.5,293.0 366.0,293.1 366.5,292.9 367.0,292.6 367.5,292.6 368.0,292.6 368.5,292.6 369.0,292.6 369.5,293.1 370.0,292.8 370.5,293.0 371.0,292.7 371.5,292.7 372.0,293.1 372.5,292.6 373.0,293.1 373.5,292.6 374.0,292.8 374.5,292.8 375.0,292.9 375.5,292.9 376.0,292.6 376.5,293.1 377.0,292.7 377.5,292.7 378.0,292.6 378.5,292.7 379.0,292.9 379.5,292.8 380.0,293.1 380.5,293.0 381.0,292.8 381.5,292.7 382.0,292.8 382.5,292.7 383.0,292.8 383.5,292.9 384.0,292.7 384.5,293.1 385.0,293.1 385.5,292.9 386.0,293.0 386.5,293.1 387.0,292.8 387.5,292.8 388.0,292.9 388.5,293.0 389.0,292.8 389.5,292.6 390.0,293.1 390.5,292.9 391.0,292.9 391.5,292.6 392.0,292.7 392.5,292.9 393.0,293.0 393.5,292.7 394.0,292.5 394.5,292.9 395.0,293.0 395.5,292.8 396.0,292.9 396.5,292.7 397.0,292.7 397.5,292.5 398.0,292.5 398.5,292.9 399.0,292.9 399.5,292.8 400.0,292.8 400.5,292.8 401.0,292.9 401.5,292.5 402.0,292.6 402.5,292.5 403.0,293.0 403.5,292.7 404.0,292.8 404.5,292.6 405.0,292.9 405.5,292.9 406.0,292.6 406.5,293.0 407.0,293.0 407.5,292.8 408.0,292.6 408.5,292.9 409.0,292.9 409.5,292.7 410.0,292.6 410.5,292.7 411.0,292.5 411.5,292.4 412.0,292.5 412.5,292.5 413.0,292.6 413.5,292.6 414.0,290.9 414.5,289.4 415.0,289.3 415.5,289.3 416.0,289.5 416.5,289.4 417.0,289.2 417.5,289.2 418.0,289.4 418.5,289.3 419.0,289.2 419.5,289.0 420.0,289.0 420.5,288.9 421.0,289.4 421.5,289.4 422.0,289.3 422.5,288.9 423.0,289.1 423.5,289.0 424.0,289.0 424.5,289.3 425.0,289.4 425.5,289.4 426.0,289.4 426.5,289.0 427.0,289.3 427.5,289.0 428.0,289.1 428.5,289.3 429.0,288.9 429.5,289.2 430.0,289.0 430.5,289.1 431.0,289.0 431.5,289.0 432.0,289.4 432.5,289.1 433.0,289.0 433.5,289.2 434.0,289.3 434.5,289.1 435.0,289.2 435.5,289.3 436.0,289.3 436.5,289.1 437.0,289.1 437.5,288.9 438.0,288.9 438.5,289.4 439.0,288.9 439.5,289.1 440.0,288.9 440.5,288.9 441.0,288.9 441.5,289.0 442.0,288.9 442.5,289.3 443.0,289.0 443.5,289.3 444.0,289.2 444.5,289.3 445.0,289.0 445.5,288.8 446.0,288.9 446.5,288.8 447.0,288.8 447.5,288.8 448.0,288.9 448.5,289.1 449.0,289.2 449.5,288.9 450.0,289.0 450.5,289.2 451.0,288.8 451.5,289.2 452.0,288.8 452.5,288.8 453.0,289.2 453.5,289.1 454.0,289.1 454.5,288.9 455.0,288.8 455.5,289.1 456.0,288.9 456.5,289.3 457.0,289.2 457.5,289.3 458.0,288.9 458.5,289.0 459.0,289.0 459.5,288.8 460.0,289.0 460.5,289.1 461.0,288.9 461.5,288.9 462.0,288.8 462.5,288.9 463.0,289.1 463.5,289.4 464.0,289.2 464.5,288.9 465.0,288.9 465.5,288.9 466.0,289.3 466.5,288.8 467.0,289.3 467.5,289.2 468.0,288.9 468.5,289.1 469.0,288.8 469.5,289.2 470.0,288.8 470.5,289.4 471.0,289.0 471.5,289.2 472.0,289.4 472.5,289.3 473.0,289.3 473.5,289.2 474.0,289.0 474.5,289.1 475.0,289.2 475.5,289.0 476.0,289.4 476.5,289.2 477.0,289.3 477.5,288.9 478.0,289.1 478.5,289.1 479.0,289.0 479.5,289.1 480.0,289.1 480.5,289.0 481.0,289.0 481.5,289.1 482.0,289.0 482.5,289.0 483.0,288.8 483.5,289.1 484.0,289.2 484.5,288.9 485.0,289.4 485.5,288.9 486.0,288.9 486.5,288.9 487.0,289.3 487.5,288.9 488.0,288.9 488.5,289.2 489.0,289.0 489.5,289.0 490.0,289.2 490.5,289.0 491.0,289.4 491.5,289.1 492.0,289.2 492.5,289.2 493.0,289.2 493.5,289.3 494.0,289.0 494.5,289.0 495.0,289.1 495.5,289.4 496.0,289.2 496.5,289.2 497.0,289.4 497.5,289.4 498.0,289.4 498.5,289.3 499.0,289.3 499.5,289.1 500.0,289.0 500.5,289.4 501.0,289.3 501.5,289.5 502.0,289.0 502.5,289.4 503.0,289.0 503.5,289.3 504.0,289.2 504.5,289.4 505.0,289.3 505.5,289.1 506.0,289.4 506.5,289.0 507.0,289.4 507.5,289.3 508.0,289.4 508.5,289.4 509.0,289.0 509.5,289.4 510.0,289.4 510.5,289.4 511.0,289.5 511.5,289.3 512.0,289.4 512.5,289.2 513.0,289.5 513.5,289.2 514.0,289.3 514.5,289.0 515.0,289.2 515.5,289.0 516.0,289.0 516.5,289.3 517.0,289.0 517.5,289.0 518.0,289.5 518.5,289.1 519.0,289.2 519.5,289.4 520.0,289.0 520.5,289.5 521.0,289.2 521.5,289.0 522.0,289.0 522.5,289.2 523.0,289.4 523.5,289.3 524.0,289.2 524.5,289.0 525.0,289.4 525.5,289.1 526.0,289.3 526.5,289.2 527.0,289.3 527.5,289.5 528.0,289.5 528.5,289.5 529.0,289.1 529.5,289.4 530.0,289.4 530.5,289.4 531.0,289.2 531.5,289.5 532.0,289.3 532.5,289.5 533.0,289.3 533.5,289.4 534.0,289.1 534.5,289.1 535.0,289.3 535.5,289.4 536.0,289.3 536.5,289.5 537.0,289.5 537.5,289.3 538.0,289.0 538.5,289.2 539.0,289.1 539.5,289.5 540.0,289.2 540.5,289.4 541.0,289.4 541.0,311.8 540.5,312.0 540.0,311.7 539.5,311.8 539.0,312.1 538.5,311.6 538.0,311.9 537.5,311.5 537.0,311.6 536.5,311.8 536.0,312.1 535.5,312.0 535.0,312.0 534.5,311.6 534.0,311.9 533.5,311.7 533.0,311.6 532.5,312.0 532.0,312.0 531.5,311.8 531.0,311.9 530.5,311.7 530.0,311.7 529.5,311.6 529.0,312.0 528.5,311.9 528.0,311.7 527.5,311.7 527.0,312.1 526.5,311.6 526.0,311.8 525.5,311.6 525.0,312.1 524.5,312.0 524.0,311.8 523.5,311.7 523.0,311.6 522.5,311.6 522.0,311.9 521.5,311.8 521.0,311.7 520.5,311.9 520.0,311.7 519.5,312.0 519.0,311.9 518.5,311.6 518.0,311.8 517.5,311.6 517.0,311.8 516.5,311.8 516.0,311.7 515.5,312.1 515.0,312.0 514.5,311.8 514.0,311.9 513.5,311.9 513.0,311.6 512.5,311.9 512.0,311.9 511.5,311.7 511.0,311.8 510.5,312.0 510.0,312.0 509.5,312.1 509.0,311.7 508.5,311.8 508.0,312.1 507.5,311.6 507.0,311.6 506.5,311.6 506.0,311.7 505.5,311.7 505.0,311.8 504.5,311.9 504.0,311.7 503.5,311.9 503.0,312.0 502.5,311.8 502.0,311.7 501.5,312.2 501.0,311.9 500.5,311.7 500.0,311.7 499.5,312.0 499.0,311.9 498.5,312.2 498.0,312.1 497.5,311.7 497.0,312.1 496.5,312.2 496.0,312.2 495.5,312.1 495.0,312.0 494.5,312.2 494.0,312.1 493.5,311.9 493.0,311.8 492.5,311.6 492.0,311.7 491.5,311.9 491.0,311.7 490.5,311.7 490.0,311.9 489.5,311.8 489.0,312.2 488.5,311.8 488.0,312.0 487.5,312.0 487.0,311.9 486.5,312.1 486.0,312.2 485.5,312.2 485.0,311.7 484.5,311.9 484.0,311.9 483.5,312.2 483.0,312.1 482.5,311.9 482.0,312.1 481.5,312.3 481.0,311.7 480.5,312.3 480.0,311.7 479.5,311.7 479.0,311.7 478.5,312.2 478.0,311.9 477.5,312.2 477.0,312.1 476.5,311.7 476.0,312.3 475.5,311.8 475.0,312.3 474.5,312.2 474.0,312.0 473.5,311.7 473.0,311.8 472.5,311.8 472.0,311.8 471.5,312.2 471.0,311.8 470.5,312.0 470.0,311.8 469.5,312.2 469.0,311.9 468.5,311.7 468.0,312.1 467.5,312.1 467.0,312.0 466.5,312.2 466.0,311.9 465.5,312.2 465.0,312.2 464.5,312.0 464.0,312.2 463.5,311.9 463.0,312.0 462.5,312.1 462.0,311.8 461.5,312.1 461.0,312.2 460.5,312.3 460.0,312.3 459.5,312.0 459.0,312.1 458.5,311.8 458.0,312.3 457.5,311.8 457.0,312.1 456.5,312.0 456.0,312.2 455.5,312.3 455.0,312.3 454.5,312.3 454.0,312.3 453.5,311.7 453.0,311.8 452.5,312.0 452.0,312.1 451.5,312.2 451.0,312.2 450.5,312.2 450.0,312.0 449.5,311.8 449.0,311.8 448.5,312.2 448.0,311.9 447.5,311.8 447.0,312.1 446.5,312.1 446.0,312.1 445.5,312.0 445.0,311.9 444.5,312.3 444.0,312.0 443.5,312.0 443.0,312.1 442.5,311.7 442.0,311.8 441.5,311.9 441.0,312.3 440.5,311.7 440.0,312.3 439.5,312.1 439.0,311.9 438.5,312.1 438.0,312.2 437.5,312.2 437.0,311.7 436.5,312.2 436.0,311.9 435.5,312.2 435.0,312.0 434.5,312.2 434.0,311.7 433.5,312.0 433.0,312.2 432.5,311.8 432.0,312.2 431.5,311.7 431.0,312.0 430.5,311.7 430.0,312.1 429.5,311.8 429.0,312.0 428.5,311.7 428.0,311.9 427.5,312.0 427.0,311.7 426.5,311.8 426.0,312.0 425.5,311.9 425.0,312.0 424.5,311.6 424.0,312.0 423.5,311.9 423.0,312.0 422.5,311.6 422.0,312.1 421.5,311.6 421.0,311.9 420.5,311.8 420.0,311.7 419.5,311.6 419.0,311.7 418.5,312.0 418.0,311.6 417.5,311.8 417.0,312.1 416.5,311.7 416.0,312.0 415.5,311.6 415.0,311.7 414.5,311.7 414.0,310.3 413.5,308.6 413.0,308.8 412.5,308.7 412.0,308.5 411.5,308.6 411.0,308.6 410.5,308.7 410.0,308.8 409.5,308.7 409.0,309.0 408.5,308.9 408.0,308.9 407.5,308.7 407.0,309.0 406.5,308.6 406.0,308.7 405.5,308.5 405.0,308.7 404.5,309.0 404.0,309.0 403.5,308.6 403.0,308.7 402.5,308.5 402.0,308.7 401.5,308.8 401.0,308.5 400.5,309.0 400.0,309.0 399.5,308.8 399.0,308.4 398.5,308.4 398.0,308.9 397.5,308.9 397.0,308.7 396.5,308.5 396.0,308.5 395.5,308.8 395.0,308.4 394.5,308.6 394.0,308.4 393.5,308.4 393.0,308.9 392.5,308.9 392.0,308.7 391.5,308.5 391.0,308.4 390.5,308.4 390.0,308.4 389.5,308.5 389.0,308.3 388.5,308.5 388.0,308.4 387.5,308.7 387.0,308.7 386.5,308.9 386.0,308.4 385.5,308.8 385.0,308.8 384.5,308.8 384.0,308.7 383.5,308.8 383.0,308.8 382.5,308.3 382.0,308.7 381.5,308.8 381.0,308.8 380.5,308.7 380.0,308.6 379.5,308.5 379.0,308.6 378.5,308.5 378.0,308.5 377.5,308.8 377.0,308.7 376.5,308.5 376.0,308.7 375.5,308.3 375.0,308.7 374.5,308.6 374.0,308.5 373.5,308.9 373.0,308.4 372.5,308.4 372.0,308.9 371.5,308.7 371.0,308.4 370.5,308.7 370.0,308.8 369.5,308.6 369.0,308.4 368.5,308.4 368.0,308.6 367.5,308.5 367.0,308.9 366.5,308.5 366.0,308.7 365.5,308.5 365.0,308.3 364.5,308.3 364.0,308.9 363.5,308.5 363.0,308.7 362.5,308.5 362.0,308.4 361.5,308.5 361.0,308.7 360.5,308.6 360.0,308.6 359.5,308.6 359.0,308.6 358.5,308.8 358.0,308.4 357.5,308.5 357.0,308.3 356.5,308.8 356.0,308.5 355.5,308.8 355.0,308.3 354.5,308.8 354.0,308.4 353.5,308.5 353.0,308.5 352.5,308.6 352.0,308.8 351.5,308.9 351.0,308.8 350.5,308.7 350.0,308.9 349.5,308.6 349.0,308.5 348.5,308.4 348.0,308.6 347.5,308.8 347.0,308.4 346.5,308.7 346.0,308.7 345.5,308.6 345.0,308.5 344.5,308.9 344.0,308.8 343.5,308.4 343.0,308.5 342.5,308.7 342.0,308.6 341.5,308.8 341.0,308.6 340.5,308.5 340.0,308.5 339.5,308.6 339.0,308.9 338.5,308.7 338.0,308.5 337.5,308.7 337.0,308.5 336.5,308.5 336.0,308.7 335.5,308.9 335.0,308.9 334.5,309.0 334.0,308.9 333.5,308.6 333.0,308.4 332.5,308.9 332.0,308.9 331.5,308.5 331.0,308.5 330.5,308.6 330.0,308.9 329.5,308.6 329.0,308.5 328.5,309.0 328.0,308.5 327.5,308.9 327.0,309.0 326.5,308.7 326.0,308.6 325.5,308.5 325.0,308.7 324.5,308.9 324.0,308.6 323.5,308.5 323.0,308.9 322.5,308.9 322.0,308.6 321.5,308.9 321.0,308.7 320.5,308.7 320.0,308.7 319.5,308.6 319.0,309.0 318.5,308.8 318.0,308.8 317.5,309.0 317.0,308.9 316.5,308.5 316.0,308.6 315.5,308.5 315.0,308.5 314.5,308.5 314.0,308.9 313.5,308.9 313.0,308.7 312.5,309.0 312.0,308.5 311.5,308.8 311.0,309.1 310.5,309.0 310.0,309.0 309.5,308.9 309.0,308.9 308.5,309.0 308.0,308.5 307.5,308.8 307.0,308.7 306.5,309.0 306.0,309.1 305.5,309.0 305.0,308.9 304.5,308.6 304.0,308.6 303.5,308.8 303.0,308.5 302.5,308.5 302.0,309.1 301.5,308.7 301.0,308.8 300.5,309.1 300.0,308.6 299.5,308.9 299.0,308.8 298.5,308.9 298.0,309.0 297.5,309.0 297.0,308.9 296.5,308.6 296.0,309.1"/></clipPath><path d="M296.8,286.3V314.8M299.4,286.3V314.8M302.0,286.3V314.8M304.6,286.3V314.8M307.2,286.3V314.8M309.8,286.3V314.8M312.4,286.3V314.8M315.0,286.3V314.8M317.6,286.3V314.8M320.2,286.3V314.8M322.8,286.3V314.8M325.4,286.3V314.8M328.0,286.3V314.8M330.6,286.3V314.8M333.2,286.3V314.8M335.8,286.3V314.8M338.4,286.3V314.8M341.0,286.3V314.8M343.6,286.3V314.8M346.2,286.3V314.8M348.8,286.3V314.8M351.4,286.3V314.8M354.0,286.3V314.8M356.6,286.3V314.8M359.2,286.3V314.8M361.8,286.3V314.8M364.4,286.3V314.8M367.0,286.3V314.8M369.6,286.3V314.8M372.2,286.3V314.8M374.8,286.3V314.8M377.4,286.3V314.8M380.0,286.3V314.8M382.6,286.3V314.8M385.2,286.3V314.8M387.8,286.3V314.8M390.4,286.3V314.8M393.0,286.3V314.8M395.6,286.3V314.8M398.2,286.3V314.8M400.8,286.3V314.8M403.4,286.3V314.8M406.0,286.3V314.8M408.6,286.3V314.8M411.2,286.3V314.8M413.8,286.3V314.8M416.4,286.3V314.8M419.0,286.3V314.8M421.6,286.3V314.8M424.2,286.3V314.8M426.8,286.3V314.8M429.4,286.3V314.8M432.0,286.3V314.8M434.6,286.3V314.8M437.2,286.3V314.8M439.8,286.3V314.8M442.4,286.3V314.8M445.0,286.3V314.8M447.6,286.3V314.8M450.2,286.3V314.8M452.8,286.3V314.8M455.4,286.3V314.8M458.0,286.3V314.8M460.6,286.3V314.8M463.2,286.3V314.8M465.8,286.3V314.8M468.4,286.3V314.8M471.0,286.3V314.8M473.6,286.3V314.8M476.2,286.3V314.8M478.8,286.3V314.8M481.4,286.3V314.8M484.0,286.3V314.8M486.6,286.3V314.8M489.2,286.3V314.8M491.8,286.3V314.8M494.4,286.3V314.8M497.0,286.3V314.8M499.6,286.3V314.8M502.2,286.3V314.8M504.8,286.3V314.8M507.4,286.3V314.8M510.0,286.3V314.8M512.6,286.3V314.8M515.2,286.3V314.8M517.8,286.3V314.8M520.4,286.3V314.8M523.0,286.3V314.8M525.6,286.3V314.8M528.2,286.3V314.8M530.8,286.3V314.8M533.4,286.3V314.8M536.0,286.3V314.8M538.6,286.3V314.8M541.2,286.3V314.8" stroke="#04a204" stroke-width="0.9" opacity="0.4" clip-path="url(#c1gr)"/><polygon fill="none" stroke="#04a204" stroke-width="1.8" opacity="0.8" clip-path="url(#c1gr)" points="296.0,292.7 296.5,292.4 297.0,292.6 297.5,292.6 298.0,292.8 298.5,292.6 299.0,292.8 299.5,292.8 300.0,292.6 300.5,292.4 301.0,292.9 301.5,292.5 302.0,292.7 302.5,292.8 303.0,292.4 303.5,292.3 304.0,292.8 304.5,292.7 305.0,292.4 305.5,292.5 306.0,292.7 306.5,292.7 307.0,292.8 307.5,292.6 308.0,292.4 308.5,292.8 309.0,292.6 309.5,292.5 310.0,292.4 310.5,292.5 311.0,292.4 311.5,292.4 312.0,292.6 312.5,292.4 313.0,292.4 313.5,292.8 314.0,292.4 314.5,292.8 315.0,292.3 315.5,292.5 316.0,292.4 316.5,292.7 317.0,292.6 317.5,292.8 318.0,292.6 318.5,292.9 319.0,292.4 319.5,292.7 320.0,292.4 320.5,292.6 321.0,292.9 321.5,292.5 322.0,292.4 322.5,293.0 323.0,292.4 323.5,292.7 324.0,292.5 324.5,292.7 325.0,292.9 325.5,292.5 326.0,292.9 326.5,292.8 327.0,292.5 327.5,292.5 328.0,292.6 328.5,292.9 329.0,292.9 329.5,292.5 330.0,292.9 330.5,292.8 331.0,292.4 331.5,292.7 332.0,292.6 332.5,292.8 333.0,292.9 333.5,292.5 334.0,292.5 334.5,292.5 335.0,292.7 335.5,292.9 336.0,292.6 336.5,292.9 337.0,293.0 337.5,292.7 338.0,292.5 338.5,292.4 339.0,292.5 339.5,292.9 340.0,292.9 340.5,292.5 341.0,292.8 341.5,293.0 342.0,292.6 342.5,293.0 343.0,292.9 343.5,292.6 344.0,292.6 344.5,293.0 345.0,292.6 345.5,292.5 346.0,292.5 346.5,292.9 347.0,292.9 347.5,292.6 348.0,293.0 348.5,292.7 349.0,292.6 349.5,292.6 350.0,292.9 350.5,292.9 351.0,293.0 351.5,292.5 352.0,292.9 352.5,292.7 353.0,292.6 353.5,292.9 354.0,292.6 354.5,292.6 355.0,293.1 355.5,292.5 356.0,292.8 356.5,292.7 357.0,292.6 357.5,293.1 358.0,292.6 358.5,292.6 359.0,292.7 359.5,292.9 360.0,292.9 360.5,292.9 361.0,292.9 361.5,292.8 362.0,293.1 362.5,292.6 363.0,292.8 363.5,292.7 364.0,293.1 364.5,292.8 365.0,292.8 365.5,293.0 366.0,293.1 366.5,292.9 367.0,292.6 367.5,292.6 368.0,292.6 368.5,292.6 369.0,292.6 369.5,293.1 370.0,292.8 370.5,293.0 371.0,292.7 371.5,292.7 372.0,293.1 372.5,292.6 373.0,293.1 373.5,292.6 374.0,292.8 374.5,292.8 375.0,292.9 375.5,292.9 376.0,292.6 376.5,293.1 377.0,292.7 377.5,292.7 378.0,292.6 378.5,292.7 379.0,292.9 379.5,292.8 380.0,293.1 380.5,293.0 381.0,292.8 381.5,292.7 382.0,292.8 382.5,292.7 383.0,292.8 383.5,292.9 384.0,292.7 384.5,293.1 385.0,293.1 385.5,292.9 386.0,293.0 386.5,293.1 387.0,292.8 387.5,292.8 388.0,292.9 388.5,293.0 389.0,292.8 389.5,292.6 390.0,293.1 390.5,292.9 391.0,292.9 391.5,292.6 392.0,292.7 392.5,292.9 393.0,293.0 393.5,292.7 394.0,292.5 394.5,292.9 395.0,293.0 395.5,292.8 396.0,292.9 396.5,292.7 397.0,292.7 397.5,292.5 398.0,292.5 398.5,292.9 399.0,292.9 399.5,292.8 400.0,292.8 400.5,292.8 401.0,292.9 401.5,292.5 402.0,292.6 402.5,292.5 403.0,293.0 403.5,292.7 404.0,292.8 404.5,292.6 405.0,292.9 405.5,292.9 406.0,292.6 406.5,293.0 407.0,293.0 407.5,292.8 408.0,292.6 408.5,292.9 409.0,292.9 409.5,292.7 410.0,292.6 410.5,292.7 411.0,292.5 411.5,292.4 412.0,292.5 412.5,292.5 413.0,292.6 413.5,292.6 414.0,290.9 414.5,289.4 415.0,289.3 415.5,289.3 416.0,289.5 416.5,289.4 417.0,289.2 417.5,289.2 418.0,289.4 418.5,289.3 419.0,289.2 419.5,289.0 420.0,289.0 420.5,288.9 421.0,289.4 421.5,289.4 422.0,289.3 422.5,288.9 423.0,289.1 423.5,289.0 424.0,289.0 424.5,289.3 425.0,289.4 425.5,289.4 426.0,289.4 426.5,289.0 427.0,289.3 427.5,289.0 428.0,289.1 428.5,289.3 429.0,288.9 429.5,289.2 430.0,289.0 430.5,289.1 431.0,289.0 431.5,289.0 432.0,289.4 432.5,289.1 433.0,289.0 433.5,289.2 434.0,289.3 434.5,289.1 435.0,289.2 435.5,289.3 436.0,289.3 436.5,289.1 437.0,289.1 437.5,288.9 438.0,288.9 438.5,289.4 439.0,288.9 439.5,289.1 440.0,288.9 440.5,288.9 441.0,288.9 441.5,289.0 442.0,288.9 442.5,289.3 443.0,289.0 443.5,289.3 444.0,289.2 444.5,289.3 445.0,289.0 445.5,288.8 446.0,288.9 446.5,288.8 447.0,288.8 447.5,288.8 448.0,288.9 448.5,289.1 449.0,289.2 449.5,288.9 450.0,289.0 450.5,289.2 451.0,288.8 451.5,289.2 452.0,288.8 452.5,288.8 453.0,289.2 453.5,289.1 454.0,289.1 454.5,288.9 455.0,288.8 455.5,289.1 456.0,288.9 456.5,289.3 457.0,289.2 457.5,289.3 458.0,288.9 458.5,289.0 459.0,289.0 459.5,288.8 460.0,289.0 460.5,289.1 461.0,288.9 461.5,288.9 462.0,288.8 462.5,288.9 463.0,289.1 463.5,289.4 464.0,289.2 464.5,288.9 465.0,288.9 465.5,288.9 466.0,289.3 466.5,288.8 467.0,289.3 467.5,289.2 468.0,288.9 468.5,289.1 469.0,288.8 469.5,289.2 470.0,288.8 470.5,289.4 471.0,289.0 471.5,289.2 472.0,289.4 472.5,289.3 473.0,289.3 473.5,289.2 474.0,289.0 474.5,289.1 475.0,289.2 475.5,289.0 476.0,289.4 476.5,289.2 477.0,289.3 477.5,288.9 478.0,289.1 478.5,289.1 479.0,289.0 479.5,289.1 480.0,289.1 480.5,289.0 481.0,289.0 481.5,289.1 482.0,289.0 482.5,289.0 483.0,288.8 483.5,289.1 484.0,289.2 484.5,288.9 485.0,289.4 485.5,288.9 486.0,288.9 486.5,288.9 487.0,289.3 487.5,288.9 488.0,288.9 488.5,289.2 489.0,289.0 489.5,289.0 490.0,289.2 490.5,289.0 491.0,289.4 491.5,289.1 492.0,289.2 492.5,289.2 493.0,289.2 493.5,289.3 494.0,289.0 494.5,289.0 495.0,289.1 495.5,289.4 496.0,289.2 496.5,289.2 497.0,289.4 497.5,289.4 498.0,289.4 498.5,289.3 499.0,289.3 499.5,289.1 500.0,289.0 500.5,289.4 501.0,289.3 501.5,289.5 502.0,289.0 502.5,289.4 503.0,289.0 503.5,289.3 504.0,289.2 504.5,289.4 505.0,289.3 505.5,289.1 506.0,289.4 506.5,289.0 507.0,289.4 507.5,289.3 508.0,289.4 508.5,289.4 509.0,289.0 509.5,289.4 510.0,289.4 510.5,289.4 511.0,289.5 511.5,289.3 512.0,289.4 512.5,289.2 513.0,289.5 513.5,289.2 514.0,289.3 514.5,289.0 515.0,289.2 515.5,289.0 516.0,289.0 516.5,289.3 517.0,289.0 517.5,289.0 518.0,289.5 518.5,289.1 519.0,289.2 519.5,289.4 520.0,289.0 520.5,289.5 521.0,289.2 521.5,289.0 522.0,289.0 522.5,289.2 523.0,289.4 523.5,289.3 524.0,289.2 524.5,289.0 525.0,289.4 525.5,289.1 526.0,289.3 526.5,289.2 527.0,289.3 527.5,289.5 528.0,289.5 528.5,289.5 529.0,289.1 529.5,289.4 530.0,289.4 530.5,289.4 531.0,289.2 531.5,289.5 532.0,289.3 532.5,289.5 533.0,289.3 533.5,289.4 534.0,289.1 534.5,289.1 535.0,289.3 535.5,289.4 536.0,289.3 536.5,289.5 537.0,289.5 537.5,289.3 538.0,289.0 538.5,289.2 539.0,289.1 539.5,289.5 540.0,289.2 540.5,289.4 541.0,289.4 541.0,311.8 540.5,312.0 540.0,311.7 539.5,311.8 539.0,312.1 538.5,311.6 538.0,311.9 537.5,311.5 537.0,311.6 536.5,311.8 536.0,312.1 535.5,312.0 535.0,312.0 534.5,311.6 534.0,311.9 533.5,311.7 533.0,311.6 532.5,312.0 532.0,312.0 531.5,311.8 531.0,311.9 530.5,311.7 530.0,311.7 529.5,311.6 529.0,312.0 528.5,311.9 528.0,311.7 527.5,311.7 527.0,312.1 526.5,311.6 526.0,311.8 525.5,311.6 525.0,312.1 524.5,312.0 524.0,311.8 523.5,311.7 523.0,311.6 522.5,311.6 522.0,311.9 521.5,311.8 521.0,311.7 520.5,311.9 520.0,311.7 519.5,312.0 519.0,311.9 518.5,311.6 518.0,311.8 517.5,311.6 517.0,311.8 516.5,311.8 516.0,311.7 515.5,312.1 515.0,312.0 514.5,311.8 514.0,311.9 513.5,311.9 513.0,311.6 512.5,311.9 512.0,311.9 511.5,311.7 511.0,311.8 510.5,312.0 510.0,312.0 509.5,312.1 509.0,311.7 508.5,311.8 508.0,312.1 507.5,311.6 507.0,311.6 506.5,311.6 506.0,311.7 505.5,311.7 505.0,311.8 504.5,311.9 504.0,311.7 503.5,311.9 503.0,312.0 502.5,311.8 502.0,311.7 501.5,312.2 501.0,311.9 500.5,311.7 500.0,311.7 499.5,312.0 499.0,311.9 498.5,312.2 498.0,312.1 497.5,311.7 497.0,312.1 496.5,312.2 496.0,312.2 495.5,312.1 495.0,312.0 494.5,312.2 494.0,312.1 493.5,311.9 493.0,311.8 492.5,311.6 492.0,311.7 491.5,311.9 491.0,311.7 490.5,311.7 490.0,311.9 489.5,311.8 489.0,312.2 488.5,311.8 488.0,312.0 487.5,312.0 487.0,311.9 486.5,312.1 486.0,312.2 485.5,312.2 485.0,311.7 484.5,311.9 484.0,311.9 483.5,312.2 483.0,312.1 482.5,311.9 482.0,312.1 481.5,312.3 481.0,311.7 480.5,312.3 480.0,311.7 479.5,311.7 479.0,311.7 478.5,312.2 478.0,311.9 477.5,312.2 477.0,312.1 476.5,311.7 476.0,312.3 475.5,311.8 475.0,312.3 474.5,312.2 474.0,312.0 473.5,311.7 473.0,311.8 472.5,311.8 472.0,311.8 471.5,312.2 471.0,311.8 470.5,312.0 470.0,311.8 469.5,312.2 469.0,311.9 468.5,311.7 468.0,312.1 467.5,312.1 467.0,312.0 466.5,312.2 466.0,311.9 465.5,312.2 465.0,312.2 464.5,312.0 464.0,312.2 463.5,311.9 463.0,312.0 462.5,312.1 462.0,311.8 461.5,312.1 461.0,312.2 460.5,312.3 460.0,312.3 459.5,312.0 459.0,312.1 458.5,311.8 458.0,312.3 457.5,311.8 457.0,312.1 456.5,312.0 456.0,312.2 455.5,312.3 455.0,312.3 454.5,312.3 454.0,312.3 453.5,311.7 453.0,311.8 452.5,312.0 452.0,312.1 451.5,312.2 451.0,312.2 450.5,312.2 450.0,312.0 449.5,311.8 449.0,311.8 448.5,312.2 448.0,311.9 447.5,311.8 447.0,312.1 446.5,312.1 446.0,312.1 445.5,312.0 445.0,311.9 444.5,312.3 444.0,312.0 443.5,312.0 443.0,312.1 442.5,311.7 442.0,311.8 441.5,311.9 441.0,312.3 440.5,311.7 440.0,312.3 439.5,312.1 439.0,311.9 438.5,312.1 438.0,312.2 437.5,312.2 437.0,311.7 436.5,312.2 436.0,311.9 435.5,312.2 435.0,312.0 434.5,312.2 434.0,311.7 433.5,312.0 433.0,312.2 432.5,311.8 432.0,312.2 431.5,311.7 431.0,312.0 430.5,311.7 430.0,312.1 429.5,311.8 429.0,312.0 428.5,311.7 428.0,311.9 427.5,312.0 427.0,311.7 426.5,311.8 426.0,312.0 425.5,311.9 425.0,312.0 424.5,311.6 424.0,312.0 423.5,311.9 423.0,312.0 422.5,311.6 422.0,312.1 421.5,311.6 421.0,311.9 420.5,311.8 420.0,311.7 419.5,311.6 419.0,311.7 418.5,312.0 418.0,311.6 417.5,311.8 417.0,312.1 416.5,311.7 416.0,312.0 415.5,311.6 415.0,311.7 414.5,311.7 414.0,310.3 413.5,308.6 413.0,308.8 412.5,308.7 412.0,308.5 411.5,308.6 411.0,308.6 410.5,308.7 410.0,308.8 409.5,308.7 409.0,309.0 408.5,308.9 408.0,308.9 407.5,308.7 407.0,309.0 406.5,308.6 406.0,308.7 405.5,308.5 405.0,308.7 404.5,309.0 404.0,309.0 403.5,308.6 403.0,308.7 402.5,308.5 402.0,308.7 401.5,308.8 401.0,308.5 400.5,309.0 400.0,309.0 399.5,308.8 399.0,308.4 398.5,308.4 398.0,308.9 397.5,308.9 397.0,308.7 396.5,308.5 396.0,308.5 395.5,308.8 395.0,308.4 394.5,308.6 394.0,308.4 393.5,308.4 393.0,308.9 392.5,308.9 392.0,308.7 391.5,308.5 391.0,308.4 390.5,308.4 390.0,308.4 389.5,308.5 389.0,308.3 388.5,308.5 388.0,308.4 387.5,308.7 387.0,308.7 386.5,308.9 386.0,308.4 385.5,308.8 385.0,308.8 384.5,308.8 384.0,308.7 383.5,308.8 383.0,308.8 382.5,308.3 382.0,308.7 381.5,308.8 381.0,308.8 380.5,308.7 380.0,308.6 379.5,308.5 379.0,308.6 378.5,308.5 378.0,308.5 377.5,308.8 377.0,308.7 376.5,308.5 376.0,308.7 375.5,308.3 375.0,308.7 374.5,308.6 374.0,308.5 373.5,308.9 373.0,308.4 372.5,308.4 372.0,308.9 371.5,308.7 371.0,308.4 370.5,308.7 370.0,308.8 369.5,308.6 369.0,308.4 368.5,308.4 368.0,308.6 367.5,308.5 367.0,308.9 366.5,308.5 366.0,308.7 365.5,308.5 365.0,308.3 364.5,308.3 364.0,308.9 363.5,308.5 363.0,308.7 362.5,308.5 362.0,308.4 361.5,308.5 361.0,308.7 360.5,308.6 360.0,308.6 359.5,308.6 359.0,308.6 358.5,308.8 358.0,308.4 357.5,308.5 357.0,308.3 356.5,308.8 356.0,308.5 355.5,308.8 355.0,308.3 354.5,308.8 354.0,308.4 353.5,308.5 353.0,308.5 352.5,308.6 352.0,308.8 351.5,308.9 351.0,308.8 350.5,308.7 350.0,308.9 349.5,308.6 349.0,308.5 348.5,308.4 348.0,308.6 347.5,308.8 347.0,308.4 346.5,308.7 346.0,308.7 345.5,308.6 345.0,308.5 344.5,308.9 344.0,308.8 343.5,308.4 343.0,308.5 342.5,308.7 342.0,308.6 341.5,308.8 341.0,308.6 340.5,308.5 340.0,308.5 339.5,308.6 339.0,308.9 338.5,308.7 338.0,308.5 337.5,308.7 337.0,308.5 336.5,308.5 336.0,308.7 335.5,308.9 335.0,308.9 334.5,309.0 334.0,308.9 333.5,308.6 333.0,308.4 332.5,308.9 332.0,308.9 331.5,308.5 331.0,308.5 330.5,308.6 330.0,308.9 329.5,308.6 329.0,308.5 328.5,309.0 328.0,308.5 327.5,308.9 327.0,309.0 326.5,308.7 326.0,308.6 325.5,308.5 325.0,308.7 324.5,308.9 324.0,308.6 323.5,308.5 323.0,308.9 322.5,308.9 322.0,308.6 321.5,308.9 321.0,308.7 320.5,308.7 320.0,308.7 319.5,308.6 319.0,309.0 318.5,308.8 318.0,308.8 317.5,309.0 317.0,308.9 316.5,308.5 316.0,308.6 315.5,308.5 315.0,308.5 314.5,308.5 314.0,308.9 313.5,308.9 313.0,308.7 312.5,309.0 312.0,308.5 311.5,308.8 311.0,309.1 310.5,309.0 310.0,309.0 309.5,308.9 309.0,308.9 308.5,309.0 308.0,308.5 307.5,308.8 307.0,308.7 306.5,309.0 306.0,309.1 305.5,309.0 305.0,308.9 304.5,308.6 304.0,308.6 303.5,308.8 303.0,308.5 302.5,308.5 302.0,309.1 301.5,308.7 301.0,308.8 300.5,309.1 300.0,308.6 299.5,308.9 299.0,308.8 298.5,308.9 298.0,309.0 297.5,309.0 297.0,308.9 296.5,308.6 296.0,309.1"/>
</g>
<path d="M320.5,208.4V325.6M345.1,208.4V325.6M369.6,208.4V325.6M394.2,208.4V325.6M418.7,208.4V325.6M443.2,208.4V325.6M467.8,208.4V325.6M492.3,208.4V325.6M516.9,208.4V325.6" stroke="#6a6a6a" stroke-width="0.8" stroke-dasharray="0.8,2.1" stroke-dashoffset="0.4" opacity="0.8"/>
<path d="M296.0,223.1H541.4M296.0,237.7H541.4M296.0,252.4H541.4M296.0,267.0H541.4M296.0,281.7H541.4M296.0,296.3H541.4M296.0,311.0H541.4" stroke="#6a6a6a" stroke-width="0.8" stroke-dasharray="0.8,4.1" stroke-dashoffset="0.4" opacity="0.8"/>
<path d="M300.9,208.4v1.3M300.9,325.6v-1.3M305.8,208.4v1.3M305.8,325.6v-1.3M310.7,208.4v1.3M310.7,325.6v-1.3M315.6,208.4v1.3M315.6,325.6v-1.3M320.5,208.4v1.3M320.5,325.6v-1.3M325.4,208.4v1.3M325.4,325.6v-1.3M330.4,208.4v1.3M330.4,325.6v-1.3M335.3,208.4v1.3M335.3,325.6v-1.3M340.2,208.4v1.3M340.2,325.6v-1.3M345.1,208.4v1.3M345.1,325.6v-1.3M350.0,208.4v1.3M350.0,325.6v-1.3M354.9,208.4v1.3M354.9,325.6v-1.3M359.8,208.4v1.3M359.8,325.6v-1.3M364.7,208.4v1.3M364.7,325.6v-1.3M369.6,208.4v1.3M369.6,325.6v-1.3M374.5,208.4v1.3M374.5,325.6v-1.3M379.4,208.4v1.3M379.4,325.6v-1.3M384.3,208.4v1.3M384.3,325.6v-1.3M389.3,208.4v1.3M389.3,325.6v-1.3M394.2,208.4v1.3M394.2,325.6v-1.3M399.1,208.4v1.3M399.1,325.6v-1.3M404.0,208.4v1.3M404.0,325.6v-1.3M408.9,208.4v1.3M408.9,325.6v-1.3M413.8,208.4v1.3M413.8,325.6v-1.3M418.7,208.4v1.3M418.7,325.6v-1.3M423.6,208.4v1.3M423.6,325.6v-1.3M428.5,208.4v1.3M428.5,325.6v-1.3M433.4,208.4v1.3M433.4,325.6v-1.3M438.3,208.4v1.3M438.3,325.6v-1.3M443.2,208.4v1.3M443.2,325.6v-1.3M448.1,208.4v1.3M448.1,325.6v-1.3M453.1,208.4v1.3M453.1,325.6v-1.3M458.0,208.4v1.3M458.0,325.6v-1.3M462.9,208.4v1.3M462.9,325.6v-1.3M467.8,208.4v1.3M467.8,325.6v-1.3M472.7,208.4v1.3M472.7,325.6v-1.3M477.6,208.4v1.3M477.6,325.6v-1.3M482.5,208.4v1.3M482.5,325.6v-1.3M487.4,208.4v1.3M487.4,325.6v-1.3M492.3,208.4v1.3M492.3,325.6v-1.3M497.2,208.4v1.3M497.2,325.6v-1.3M502.1,208.4v1.3M502.1,325.6v-1.3M507.0,208.4v1.3M507.0,325.6v-1.3M512.0,208.4v1.3M512.0,325.6v-1.3M516.9,208.4v1.3M516.9,325.6v-1.3M521.8,208.4v1.3M521.8,325.6v-1.3M526.7,208.4v1.3M526.7,325.6v-1.3M531.6,208.4v1.3M531.6,325.6v-1.3M536.5,208.4v1.3M536.5,325.6v-1.3M296.0,211.3h1.3M541.4,211.3h-1.3M296.0,214.3h1.3M541.4,214.3h-1.3M296.0,217.2h1.3M541.4,217.2h-1.3M296.0,220.1h1.3M541.4,220.1h-1.3M296.0,223.1h1.3M541.4,223.1h-1.3M296.0,226.0h1.3M541.4,226.0h-1.3M296.0,228.9h1.3M541.4,228.9h-1.3M296.0,231.8h1.3M541.4,231.8h-1.3M296.0,234.8h1.3M541.4,234.8h-1.3M296.0,237.7h1.3M541.4,237.7h-1.3M296.0,240.6h1.3M541.4,240.6h-1.3M296.0,243.6h1.3M541.4,243.6h-1.3M296.0,246.5h1.3M541.4,246.5h-1.3M296.0,249.4h1.3M541.4,249.4h-1.3M296.0,252.4h1.3M541.4,252.4h-1.3M296.0,255.3h1.3M541.4,255.3h-1.3M296.0,258.2h1.3M541.4,258.2h-1.3M296.0,261.1h1.3M541.4,261.1h-1.3M296.0,264.1h1.3M541.4,264.1h-1.3M296.0,267.0h1.3M541.4,267.0h-1.3M296.0,269.9h1.3M541.4,269.9h-1.3M296.0,272.9h1.3M541.4,272.9h-1.3M296.0,275.8h1.3M541.4,275.8h-1.3M296.0,278.7h1.3M541.4,278.7h-1.3M296.0,281.7h1.3M541.4,281.7h-1.3M296.0,284.6h1.3M541.4,284.6h-1.3M296.0,287.5h1.3M541.4,287.5h-1.3M296.0,290.4h1.3M541.4,290.4h-1.3M296.0,293.4h1.3M541.4,293.4h-1.3M296.0,296.3h1.3M541.4,296.3h-1.3M296.0,299.2h1.3M541.4,299.2h-1.3M296.0,302.2h1.3M541.4,302.2h-1.3M296.0,305.1h1.3M541.4,305.1h-1.3M296.0,308.0h1.3M541.4,308.0h-1.3M296.0,311.0h1.3M541.4,311.0h-1.3M296.0,313.9h1.3M541.4,313.9h-1.3M296.0,316.8h1.3M541.4,316.8h-1.3M296.0,319.7h1.3M541.4,319.7h-1.3M296.0,322.7h1.3M541.4,322.7h-1.3" stroke="#555" stroke-width="0.7"/>
<rect x="296.0" y="208.4" width="245.39999999999998" height="117.20000000000002" fill="none" stroke="#4a4a4a" stroke-width="0.9"/>
<path d="M416.9,208.9 L420.5,208.9 L418.7,211.4 Z" fill="#f29a1a"/>
<rect x="306.2" y="223.3" width="39.6" height="15.9" fill="#fff"/><text x="326.0" y="235.2" font-family="Liberation Serif, serif" font-weight="bold" font-size="11.6" text-anchor="middle" fill="#17a2a6">VSG2</text>
<rect x="306.6" y="257.6" width="38.6" height="14.9" fill="#fff"/><text x="325.9" y="269.1" font-family="Liberation Serif, serif" font-weight="bold" font-size="11.6" text-anchor="middle" fill="#a80eb0">VSG3</text>
<rect x="306.7" y="293.3" width="38.9" height="15.4" fill="#fff"/><text x="326.1" y="305.0" font-family="Liberation Serif, serif" font-weight="bold" font-size="11.6" text-anchor="middle" fill="#18b018">VSG1</text>
<path d="M286.2,227.4 H292.6 L294.8,230.2 L292.6,233.0 H286.2 Z" fill="#3ad4e0"/><text x="289.8" y="232.0" font-family="Liberation Sans, sans-serif" font-size="4.8" fill="#e8ffff" text-anchor="middle">2</text>
<path d="M286.8,262.0 H293.2 L295.4,264.8 L293.2,267.6 H286.8 Z" fill="#fff" stroke="#b82cc0" stroke-width="0.7"/><text x="290.4" y="266.6" font-family="Liberation Sans, sans-serif" font-size="4.8" fill="#b82cc0" text-anchor="middle">3</text>
<path d="M286.8,298.6 H293.2 L295.4,301.4 L293.2,304.2 H286.8 Z" fill="#fff" stroke="#2a9a2a" stroke-width="0.7"/><text x="290.4" y="303.2" font-family="Liberation Sans, sans-serif" font-size="4.8" fill="#2a9a2a" text-anchor="middle">4</text>
<rect x="285.5" y="320.4" width="96.6" height="15.7" rx="1.6" fill="#ebebeb" stroke="#7e7e7e" stroke-width="0.9"/>
<rect x="287.0" y="322.6" width="8.7" height="5" rx="2.3" fill="#a4ecf2"/>
<text x="291.3" y="326.7" font-family="Liberation Sans, sans-serif" font-size="4.4" fill="#e6fbff" text-anchor="middle">2</text>
<text x="300.7" y="328.1" font-family="Liberation Sans, sans-serif" font-size="6.6" fill="#38cad8" stroke="#38cad8" stroke-width="0.18" textLength="13.1" lengthAdjust="spacingAndGlyphs">20.0 A</text>
<rect x="287.0" y="330.5" width="9.2" height="5.6" rx="2.5" fill="#13a013"/>
<text x="291.6" y="334.8" font-family="Liberation Sans, sans-serif" font-size="4.6" fill="#e8ffe8" text-anchor="middle">4</text>
<text x="300.7" y="335.7" font-family="Liberation Sans, sans-serif" font-size="6.6" fill="#1faa1f" stroke="#1faa1f" stroke-width="0.18" textLength="13.1" lengthAdjust="spacingAndGlyphs">20.0 A</text>
<rect x="339.9" y="322.6" width="9.6" height="5.6" rx="2.5" fill="#b014b4"/>
<text x="344.7" y="326.9" font-family="Liberation Sans, sans-serif" font-size="4.6" fill="#ffe8ff" text-anchor="middle">3</text>
<text x="354.1" y="328.1" font-family="Liberation Sans, sans-serif" font-size="6.6" fill="#a822b0" stroke="#a822b0" stroke-width="0.18" textLength="13.4" lengthAdjust="spacingAndGlyphs">20.0 A</text>
<rect x="383.0" y="327.5" width="52.7" height="8.8" rx="1.6" fill="#ebebeb" stroke="#7e7e7e" stroke-width="0.9"/>
<rect x="436.6" y="327.5" width="75.9" height="8.8" rx="1.6" fill="#ebebeb" stroke="#7e7e7e" stroke-width="0.9"/>
<rect x="512.9" y="327.5" width="32.3" height="8.8" rx="1.6" fill="#ebebeb" stroke="#7e7e7e" stroke-width="0.9"/>
<text x="384.8" y="334.6" font-family="Liberation Sans, sans-serif" font-size="6.6" fill="#222" stroke="#222" stroke-width="0.18" textLength="11.8" lengthAdjust="spacingAndGlyphs">1.00 s</text>
<rect x="437.8" y="329.9" width="8.9" height="5.2" rx="2.4" fill="#1d4ff0"/>
<text x="442.2" y="334.0" font-family="Liberation Sans, sans-serif" font-size="4.6" fill="#fff" text-anchor="middle">1</text>
<text x="450.4" y="334.6" font-family="Liberation Sans, sans-serif" font-size="6.6" fill="#222" stroke="#222" stroke-width="0.18" textLength="18.2" lengthAdjust="spacingAndGlyphs">/ 100 V</text>
<text x="514.2" y="334.6" font-family="Liberation Sans, sans-serif" font-size="6.6" fill="#222" stroke="#222" stroke-width="0.18" textLength="18.4" lengthAdjust="spacingAndGlyphs">09:44:18</text>
</svg>
</body></html>
